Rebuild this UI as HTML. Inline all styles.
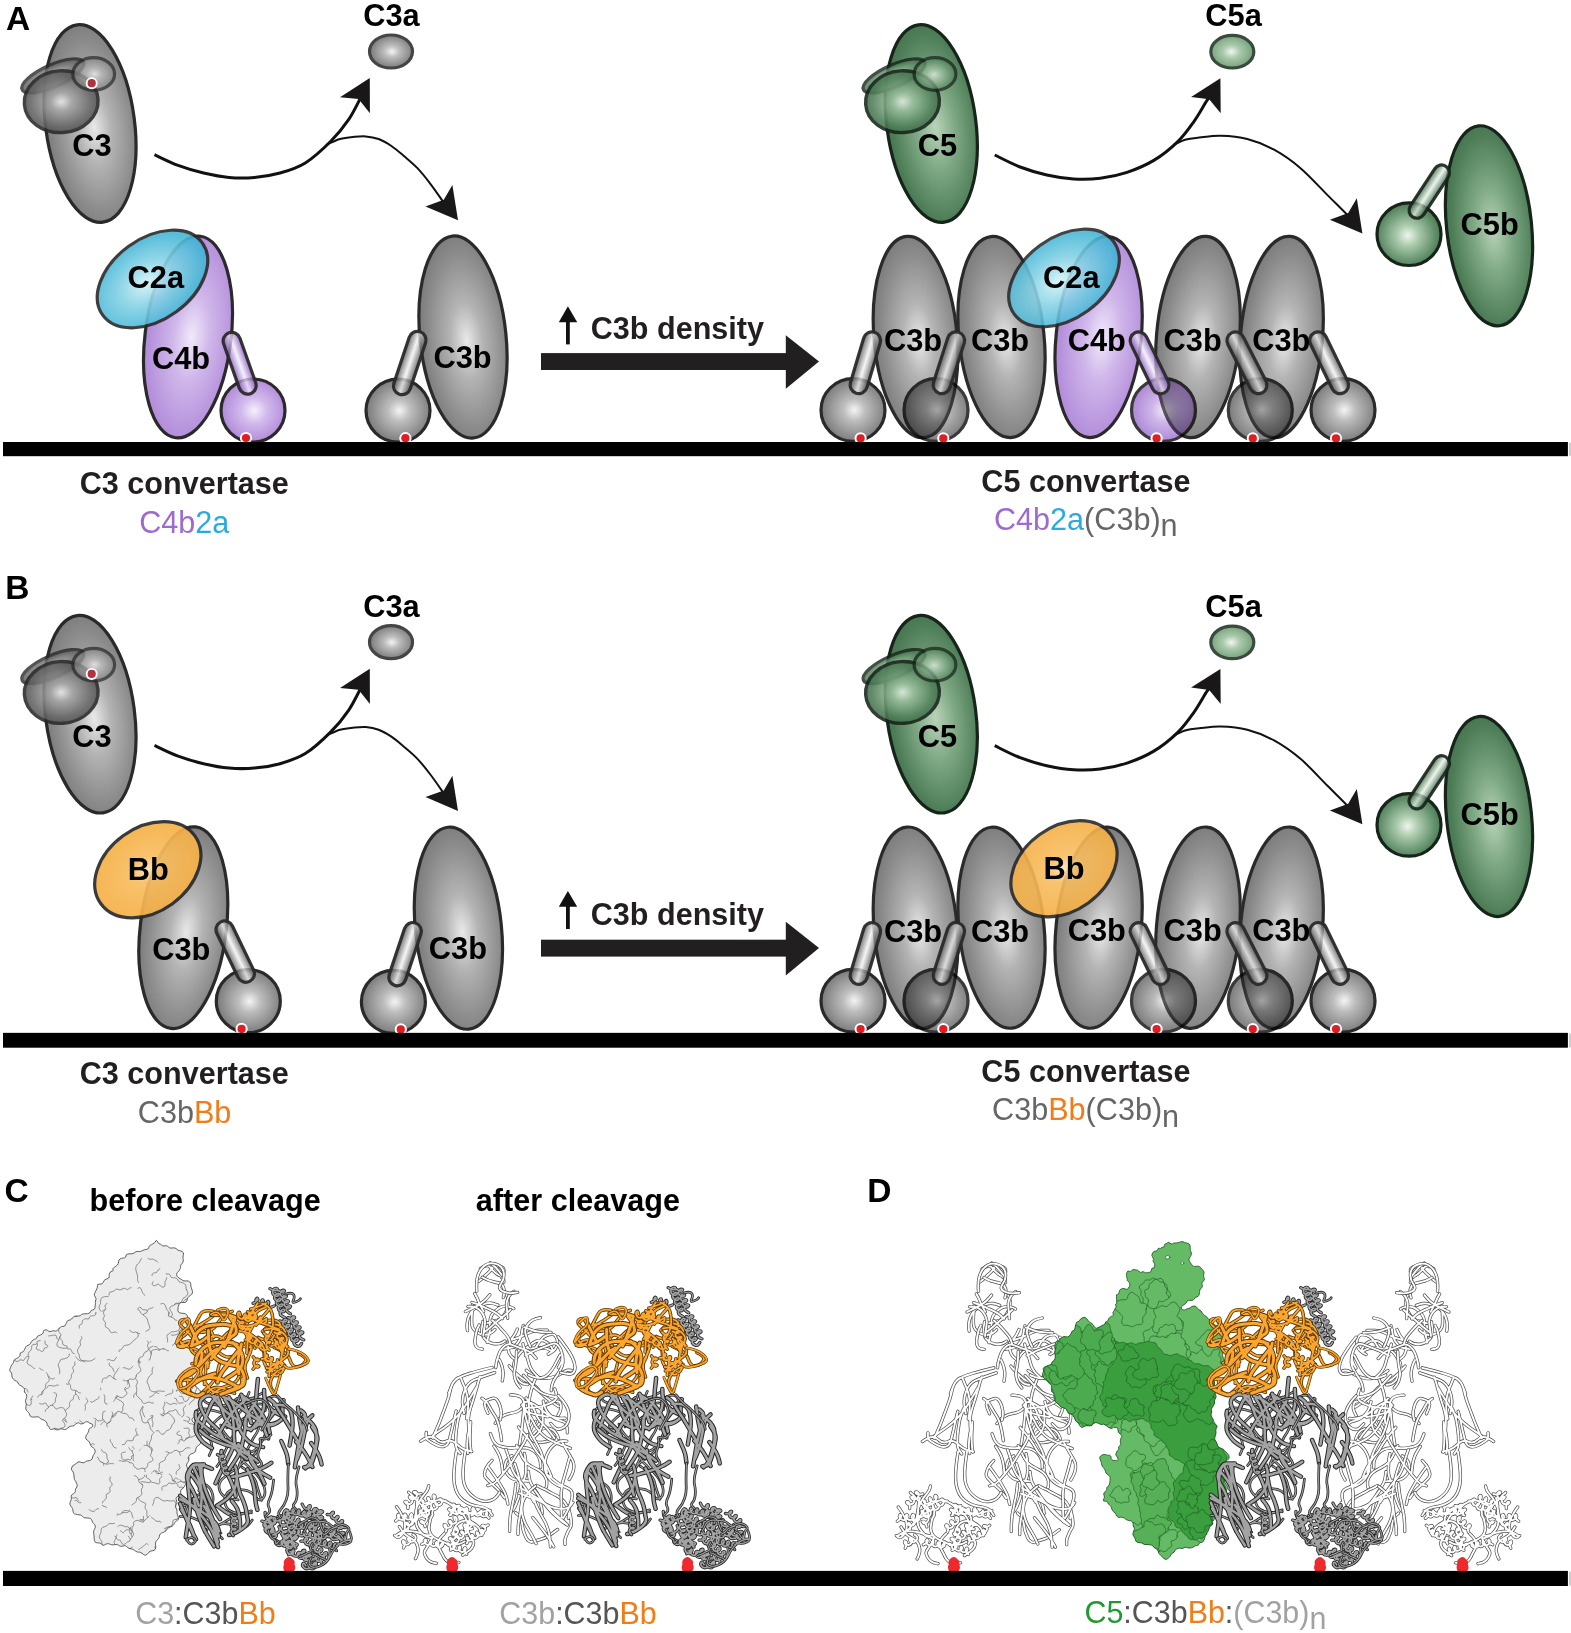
<!DOCTYPE html>
<html><head><meta charset="utf-8"><title>Complement convertases</title>
<style>
html,body{margin:0;padding:0;background:#fff}
svg{display:block;font-family:"Liberation Sans",Arial,Helvetica,sans-serif}
</style></head>
<body>
<svg width="1571" height="1633" viewBox="0 0 1571 1633">
<defs>
<radialGradient id="gGray" cx=".54" cy=".52" r=".62"><stop offset="0" stop-color="#e9e9e9"/><stop offset=".3" stop-color="#b4b4b4"/><stop offset=".7" stop-color="#8b8b8b"/><stop offset="1" stop-color="#707070"/></radialGradient>
<radialGradient id="gPur" cx=".54" cy=".5" r=".62"><stop offset="0" stop-color="#f1e9fa"/><stop offset=".35" stop-color="#cfb6ea"/><stop offset=".8" stop-color="#b48fdb"/><stop offset="1" stop-color="#a983d3"/></radialGradient>
<radialGradient id="gCy" cx=".45" cy=".5" r=".6"><stop offset="0" stop-color="#d6f3f8"/><stop offset=".4" stop-color="#86d3e6"/><stop offset=".85" stop-color="#45b6d6"/><stop offset="1" stop-color="#38a9cc"/></radialGradient>
<radialGradient id="gOr" cx=".5" cy=".5" r=".55"><stop offset="0" stop-color="#fde3ba"/><stop offset=".25" stop-color="#f9be62"/><stop offset="1" stop-color="#f5ae42"/></radialGradient>
<radialGradient id="gGrn" cx=".54" cy=".52" r=".62"><stop offset="0" stop-color="#b9d4b9"/><stop offset=".35" stop-color="#7fa984"/><stop offset=".75" stop-color="#4f7f59"/><stop offset="1" stop-color="#3c6a46"/></radialGradient>
<radialGradient id="sGray" cx=".52" cy=".5" r=".58"><stop offset="0" stop-color="#f4f4f4"/><stop offset=".3" stop-color="#bdbdbd"/><stop offset=".75" stop-color="#8a8a8a"/><stop offset="1" stop-color="#6d6d6d"/></radialGradient>
<radialGradient id="sPur" cx=".52" cy=".5" r=".58"><stop offset="0" stop-color="#f6f0fc"/><stop offset=".35" stop-color="#d2baec"/><stop offset=".8" stop-color="#b691dc"/><stop offset="1" stop-color="#a880d2"/></radialGradient>
<radialGradient id="sPur2" cx=".52" cy=".5" r=".58"><stop offset="0" stop-color="#f0e6fa"/><stop offset=".35" stop-color="#c4a6e4"/><stop offset=".8" stop-color="#9a6cc8"/><stop offset="1" stop-color="#7a4aac"/></radialGradient>
<radialGradient id="sGrn" cx=".48" cy=".52" r=".58"><stop offset="0" stop-color="#eef6ee"/><stop offset=".3" stop-color="#a9c9ab"/><stop offset=".75" stop-color="#5f8d68"/><stop offset="1" stop-color="#456f4e"/></radialGradient>
<radialGradient id="sGrn2" cx=".48" cy=".5" r=".58"><stop offset="0" stop-color="#f0f7f0"/><stop offset=".35" stop-color="#a9c9ab"/><stop offset="1" stop-color="#6c9874"/></radialGradient>
<radialGradient id="sGrayD" cx=".5" cy=".5" r=".58"><stop offset="0" stop-color="#ededed"/><stop offset=".25" stop-color="#a8a8a8"/><stop offset=".7" stop-color="#666"/><stop offset="1" stop-color="#484848"/></radialGradient>
<radialGradient id="sGrnD" cx=".5" cy=".5" r=".58"><stop offset="0" stop-color="#e6f1e6"/><stop offset=".25" stop-color="#9cc09f"/><stop offset=".7" stop-color="#4f7f59"/><stop offset="1" stop-color="#35603f"/></radialGradient>
<linearGradient id="kGray" x1="0" x2="1" y1="0" y2="0"><stop offset="0" stop-color="#4a4a4a" stop-opacity=".8"/><stop offset=".5" stop-color="#f2f2f2" stop-opacity=".75"/><stop offset="1" stop-color="#4a4a4a" stop-opacity=".8"/></linearGradient>
<linearGradient id="kPur" x1="0" x2="1" y1="0" y2="0"><stop offset="0" stop-color="#7c4fb5" stop-opacity=".8"/><stop offset=".5" stop-color="#f3eafc" stop-opacity=".75"/><stop offset="1" stop-color="#7c4fb5" stop-opacity=".8"/></linearGradient>
<linearGradient id="kGrn" x1="0" x2="1" y1="0" y2="0"><stop offset="0" stop-color="#2f5a3a" stop-opacity=".8"/><stop offset=".5" stop-color="#e4f0e4" stop-opacity=".75"/><stop offset="1" stop-color="#2f5a3a" stop-opacity=".8"/></linearGradient>
</defs>
<rect width="1571" height="1633" fill="#fff"/>
<g id="panelsAB">
<ellipse cx="90" cy="123.5" rx="44.5" ry="99.5" fill="url(#gGray)" stroke="#2b2a2a" stroke-width="3.2" transform="rotate(-7.5 90 123.5)"/>
<ellipse cx="52.8" cy="75.9" rx="33.6" ry="11.2" fill="url(#sGrayD)" stroke="#2b2a2a" stroke-width="3.2" opacity="0.8" transform="rotate(-24 52.8 75.9)"/>
<ellipse cx="61.2" cy="101.7" rx="36.9" ry="30.9" fill="url(#sGrayD)" stroke="#2b2a2a" stroke-width="3.4" opacity="0.88" transform="rotate(-4 61.2 101.7)"/>
<ellipse cx="93.7" cy="74" rx="20.9" ry="16.3" fill="url(#sGray)" stroke="#2b2a2a" stroke-width="3.2" opacity="0.72"/>
<circle cx="91.7" cy="83.2" r="6.0" fill="#fff"/><circle cx="91.7" cy="83.2" r="4.1" fill="#b0333f"/>
<text x="92" y="156" font-size="30.8" font-weight="bold" text-anchor="middle" fill="#000">C3</text>
<ellipse cx="931.3" cy="123.5" rx="44.5" ry="99.5" fill="url(#gGrn)" stroke="#17241a" stroke-width="3.2" transform="rotate(-7.5 931.3 123.5)"/>
<ellipse cx="894.1" cy="75.9" rx="33.6" ry="11.2" fill="url(#sGrnD)" stroke="#17241a" stroke-width="3.2" opacity="0.8" transform="rotate(-24 894.1 75.9)"/>
<ellipse cx="902.5" cy="101.7" rx="36.9" ry="30.9" fill="url(#sGrnD)" stroke="#17241a" stroke-width="3.4" opacity="0.88" transform="rotate(-4 902.5 101.7)"/>
<ellipse cx="935" cy="74" rx="20.9" ry="16.3" fill="url(#sGrn)" stroke="#17241a" stroke-width="3.2" opacity="0.72"/>
<text x="937.5" y="155.8" font-size="30.8" font-weight="bold" text-anchor="middle" fill="#000">C5</text>
<ellipse cx="391" cy="51.5" rx="21.5" ry="16.5" fill="url(#sGray)" stroke="#454545" stroke-width="3.2"/>
<text x="391.4" y="26" font-size="30.8" font-weight="bold" text-anchor="middle" fill="#000">C3a</text>
<ellipse cx="1232.3" cy="51.7" rx="21.5" ry="16.3" fill="url(#sGrn2)" stroke="#3a4a3c" stroke-width="3.2"/>
<text x="1233.6" y="26" font-size="30.8" font-weight="bold" text-anchor="middle" fill="#000">C5a</text>
<path d="M154.5 154.7C158.4 156.5 169.9 162.3 178.1 165.4C186.3 168.5 195.1 171 203.6 173C212.1 175 220.5 176.7 229 177.4C237.5 178.1 246 178.1 254.5 177.4C263 176.7 271.5 175.4 280 173C288.5 170.6 296.8 168.2 305.3 162.9C313.8 157.6 323.6 148.4 330.8 141.2C338 134 343.7 126.8 348.6 119.6C353.6 112.4 358.5 101.6 360.5 98" fill="none" stroke="#111" stroke-width="3"/>
<path d="M369.8 78.1L340 97.2L358.6 99L369.9 113.2Z" fill="#1a1718"/>
<path d="M327 144.5C329.2 143.6 335.7 140.2 340 139C344.3 137.8 348.6 137.4 352.9 137C357.2 136.6 361.4 136.1 365.7 136.4C370 136.7 374.3 137.4 378.6 139C382.9 140.6 387.1 143.1 391.4 146C395.7 148.9 400 152.7 404.3 156.3C408.6 160 412.9 163.4 417.2 167.9C421.5 172.4 425.7 177.7 430 183.3C434.3 188.9 440 197.2 442.9 201.4C445.8 205.6 446.6 207.2 447.4 208.4" fill="none" stroke="#111" stroke-width="2"/>
<path d="M458 220.2L425.5 206.4L443.8 199.8L452.4 185Z" fill="#1a1718"/>
<path d="M994.7 155C998.9 157 1011.4 163.7 1020.1 167C1028.8 170.3 1037.9 173 1046.8 175C1055.7 177 1064.7 178.4 1073.6 179C1082.5 179.6 1091.4 179.4 1100.3 178.3C1109.2 177.2 1118.1 175.4 1127 172.4C1135.9 169.4 1145.3 165.5 1153.8 160.4C1162.3 155.3 1171.1 148.1 1177.8 141.6C1184.5 135.1 1189 128.5 1193.9 121.6C1198.8 114.7 1204.4 104.2 1207.2 100.2C1210 96.2 1210.4 98 1211 97.5" fill="none" stroke="#111" stroke-width="3"/>
<path d="M1220.4 78.3L1191.1 96.9L1209.2 99.2L1220.7 113.2Z" fill="#1a1718"/>
<path d="M1174 144.5C1176 143.7 1181.8 140.7 1186 139.5C1190.2 138.3 1193.4 138.2 1199.2 137.6C1205 137 1212.6 135.6 1220.6 135.8C1228.6 136 1238.4 136.7 1247.3 139C1256.2 141.3 1265.2 144.8 1274.1 149.7C1283 154.6 1291.9 160.8 1300.8 168.4C1309.7 176 1319.5 187.1 1327.5 195.1C1335.5 203.1 1344.7 212.1 1348.9 216.5C1353.2 220.9 1352.3 220.9 1353 221.8" fill="none" stroke="#111" stroke-width="2"/>
<path d="M1362.4 233.5L1329.9 219.7L1348.2 213.1L1356.8 198.3Z" fill="#1a1718"/>
<rect x="541" y="353.1" width="246" height="16.9" fill="#221f20"/>
<path d="M785.8 335.2L819 361.5L785.8 388.8Z" fill="#221f20"/>
<rect x="566" y="318" width="3.8" height="26.4" fill="#111"/>
<path d="M567.9 306.3L577.2 322.2L558.8 322.2Z" fill="#111"/>
<text x="590.8" y="338.9" font-size="30.55" font-weight="bold" text-anchor="start" fill="#231f20">C3b density</text>
<ellipse cx="188" cy="337" rx="43" ry="101.5" fill="url(#gPur)" stroke="#2b2a2a" stroke-width="3.2" transform="rotate(7 188 337)"/>
<ellipse cx="253" cy="410.5" rx="32" ry="31.5" fill="url(#sPur)" stroke="#2b2a2a" stroke-width="3.2"/>
<rect x="231" y="331" width="17.3" height="64.5" rx="8.7" fill="url(#kPur)" stroke="#2b2a2a" stroke-width="3.2" stroke-opacity="0.95" transform="rotate(-19.5 239.7 363.2)"/>
<ellipse cx="152.5" cy="279" rx="61.5" ry="40.5" fill="url(#gCy)" stroke="#2b2a2a" stroke-width="3.2" opacity="0.9" transform="rotate(-36 152.5 279)"/>
<text x="155.8" y="288" font-size="30.8" font-weight="bold" text-anchor="middle" fill="#000">C2a</text>
<text x="181" y="368.5" font-size="30.8" font-weight="bold" text-anchor="middle" fill="#000">C4b</text>
<circle cx="246" cy="438" r="6.1" fill="#fff"/><circle cx="246" cy="438" r="4.1" fill="#e31b23"/>
<ellipse cx="463" cy="337" rx="43" ry="101.5" fill="url(#gGray)" stroke="#2b2a2a" stroke-width="3.2" transform="rotate(-6 463 337)"/>
<ellipse cx="398" cy="410.6" rx="32" ry="31.5" fill="url(#sGray)" stroke="#2b2a2a" stroke-width="3.2"/>
<rect x="401.1" y="330.1" width="17.3" height="65.8" rx="8.7" fill="url(#kGray)" stroke="#2b2a2a" stroke-width="3.2" stroke-opacity="0.95" transform="rotate(18.5 409.7 363)"/>
<text x="462.5" y="367.8" font-size="30.8" font-weight="bold" text-anchor="middle" fill="#000">C3b</text>
<circle cx="405.4" cy="438.2" r="6.1" fill="#fff"/><circle cx="405.4" cy="438.2" r="4.1" fill="#e31b23"/>
<ellipse cx="915.5" cy="337" rx="41.5" ry="101" fill="url(#gGray)" stroke="#2b2a2a" stroke-width="3.2" transform="rotate(-5 915.5 337)"/>
<ellipse cx="1001.5" cy="337" rx="42.5" ry="101" fill="url(#gGray)" stroke="#2b2a2a" stroke-width="3.2" transform="rotate(-6 1001.5 337)"/>
<ellipse cx="1098.6" cy="337" rx="42.5" ry="101" fill="url(#gPur)" stroke="#2b2a2a" stroke-width="3.2" transform="rotate(6 1098.6 337)"/>
<ellipse cx="1198" cy="337" rx="41.5" ry="101" fill="url(#gGray)" stroke="#2b2a2a" stroke-width="3.2" transform="rotate(5 1198 337)"/>
<ellipse cx="1281.5" cy="337" rx="41" ry="101" fill="url(#gGray)" stroke="#2b2a2a" stroke-width="3.2" transform="rotate(5 1281.5 337)"/>
<ellipse cx="853" cy="410" rx="32" ry="31.3" fill="url(#sGray)" stroke="#2b2a2a" stroke-width="3.2"/>
<rect x="856.7" y="330.9" width="17.3" height="63.7" rx="8.7" fill="url(#kGray)" stroke="#2b2a2a" stroke-width="3.2" stroke-opacity="0.95" transform="rotate(16.6 865.4 362.8)"/>
<ellipse cx="936" cy="410" rx="32" ry="31.3" fill="url(#sGray)" stroke="#2b2a2a" stroke-width="3.2" opacity="0.25"/>
<ellipse cx="936" cy="410" rx="32" ry="31.3" fill="url(#sGray)" stroke="#2b2a2a" stroke-width="3.2" opacity="0.85" style="mix-blend-mode:multiply"/>
<rect x="940.2" y="330.7" width="17.3" height="64" rx="8.7" fill="url(#kGray)" stroke="#2b2a2a" stroke-width="3.2" stroke-opacity="0.95" transform="rotate(17.7 948.9 362.8)"/>
<ellipse cx="1163.5" cy="410" rx="32" ry="31.3" fill="url(#sPur)" stroke="#2b2a2a" stroke-width="3.2" opacity="0.25"/>
<ellipse cx="1163.5" cy="410" rx="32" ry="31.3" fill="url(#sPur)" stroke="#2b2a2a" stroke-width="3.2" opacity="0.85" style="mix-blend-mode:multiply"/>
<rect x="1140.9" y="329.4" width="17.3" height="66.8" rx="8.7" fill="url(#kPur)" stroke="#2b2a2a" stroke-width="3.2" stroke-opacity="0.95" transform="rotate(-25.9 1149.6 362.8)"/>
<ellipse cx="1260.3" cy="410" rx="32" ry="31.3" fill="url(#sGray)" stroke="#2b2a2a" stroke-width="3.2" opacity="0.25"/>
<ellipse cx="1260.3" cy="410" rx="32" ry="31.3" fill="url(#sGray)" stroke="#2b2a2a" stroke-width="3.2" opacity="0.85" style="mix-blend-mode:multiply"/>
<rect x="1238.3" y="329.1" width="17.3" height="67.3" rx="8.7" fill="url(#kGray)" stroke="#2b2a2a" stroke-width="3.2" stroke-opacity="0.95" transform="rotate(-27.2 1247 362.8)"/>
<ellipse cx="1343" cy="410" rx="32" ry="31.3" fill="url(#sGray)" stroke="#2b2a2a" stroke-width="3.2"/>
<rect x="1320.5" y="329.3" width="17.3" height="66.8" rx="8.7" fill="url(#kGray)" stroke="#2b2a2a" stroke-width="3.2" stroke-opacity="0.95" transform="rotate(-26 1329.2 362.8)"/>
<ellipse cx="1064" cy="278" rx="61.5" ry="40.5" fill="url(#gCy)" stroke="#2b2a2a" stroke-width="3.2" opacity="0.88" transform="rotate(-36 1064 278)"/>
<text x="1071.3" y="288" font-size="30.8" font-weight="bold" text-anchor="middle" fill="#000">C2a</text>
<text x="1096.8" y="350.5" font-size="30.8" font-weight="bold" text-anchor="middle" fill="#000">C4b</text>
<text x="913" y="351" font-size="30.8" font-weight="bold" text-anchor="middle" fill="#000">C3b</text>
<text x="1000" y="351" font-size="30.8" font-weight="bold" text-anchor="middle" fill="#000">C3b</text>
<text x="1192.7" y="350.5" font-size="30.8" font-weight="bold" text-anchor="middle" fill="#000">C3b</text>
<text x="1281.3" y="350.5" font-size="30.8" font-weight="bold" text-anchor="middle" fill="#000">C3b</text>
<circle cx="860.6" cy="438.4" r="6.1" fill="#fff"/><circle cx="860.6" cy="438.4" r="4.1" fill="#e31b23"/>
<circle cx="943.3" cy="438.4" r="6.1" fill="#fff"/><circle cx="943.3" cy="438.4" r="4.1" fill="#e31b23"/>
<circle cx="1156.6" cy="438.4" r="6.1" fill="#fff"/><circle cx="1156.6" cy="438.4" r="4.1" fill="#e31b23"/>
<circle cx="1252.8" cy="438.4" r="6.1" fill="#fff"/><circle cx="1252.8" cy="438.4" r="4.1" fill="#e31b23"/>
<circle cx="1336" cy="438.4" r="6.1" fill="#fff"/><circle cx="1336" cy="438.4" r="4.1" fill="#e31b23"/>
<ellipse cx="1489" cy="225.8" rx="42.5" ry="100.5" fill="url(#gGrn)" stroke="#17241a" stroke-width="3.2" transform="rotate(-6 1489 225.8)"/>
<ellipse cx="1409" cy="234.2" rx="32" ry="31.3" fill="url(#sGrn)" stroke="#17241a" stroke-width="3.2"/>
<rect x="1421.2" y="161.3" width="16" height="60.6" rx="8" fill="url(#kGrn)" stroke="#17241a" stroke-width="3.2" stroke-opacity="0.9" transform="rotate(33.3 1429.2 191.7)"/>
<text x="1489.7" y="234.5" font-size="30.8" font-weight="bold" text-anchor="middle" fill="#000">C5b</text>
<rect x="3" y="442.0" width="1564.9" height="14.2" fill="#000"/>
<rect x="1568.9" y="442.6" width="2.1" height="13.2" fill="#cfcfcf"/>
<ellipse cx="90" cy="714.2" rx="44.5" ry="99.5" fill="url(#gGray)" stroke="#2b2a2a" stroke-width="3.2" transform="rotate(-7.5 90 714.2)"/>
<ellipse cx="52.8" cy="666.6" rx="33.6" ry="11.2" fill="url(#sGrayD)" stroke="#2b2a2a" stroke-width="3.2" opacity="0.8" transform="rotate(-24 52.8 666.6)"/>
<ellipse cx="61.2" cy="692.4" rx="36.9" ry="30.9" fill="url(#sGrayD)" stroke="#2b2a2a" stroke-width="3.4" opacity="0.88" transform="rotate(-4 61.2 692.4)"/>
<ellipse cx="93.7" cy="664.7" rx="20.9" ry="16.3" fill="url(#sGray)" stroke="#2b2a2a" stroke-width="3.2" opacity="0.72"/>
<circle cx="91.7" cy="673.9" r="6.0" fill="#fff"/><circle cx="91.7" cy="673.9" r="4.1" fill="#b0333f"/>
<text x="92" y="746.7" font-size="30.8" font-weight="bold" text-anchor="middle" fill="#000">C3</text>
<ellipse cx="931.3" cy="714.2" rx="44.5" ry="99.5" fill="url(#gGrn)" stroke="#17241a" stroke-width="3.2" transform="rotate(-7.5 931.3 714.2)"/>
<ellipse cx="894.1" cy="666.6" rx="33.6" ry="11.2" fill="url(#sGrnD)" stroke="#17241a" stroke-width="3.2" opacity="0.8" transform="rotate(-24 894.1 666.6)"/>
<ellipse cx="902.5" cy="692.4" rx="36.9" ry="30.9" fill="url(#sGrnD)" stroke="#17241a" stroke-width="3.4" opacity="0.88" transform="rotate(-4 902.5 692.4)"/>
<ellipse cx="935" cy="664.7" rx="20.9" ry="16.3" fill="url(#sGrn)" stroke="#17241a" stroke-width="3.2" opacity="0.72"/>
<text x="937.5" y="746.5" font-size="30.8" font-weight="bold" text-anchor="middle" fill="#000">C5</text>
<ellipse cx="391" cy="642.2" rx="21.5" ry="16.5" fill="url(#sGray)" stroke="#454545" stroke-width="3.2"/>
<text x="391.4" y="616.7" font-size="30.8" font-weight="bold" text-anchor="middle" fill="#000">C3a</text>
<ellipse cx="1232.3" cy="642.4" rx="21.5" ry="16.3" fill="url(#sGrn2)" stroke="#3a4a3c" stroke-width="3.2"/>
<text x="1233.6" y="616.7" font-size="30.8" font-weight="bold" text-anchor="middle" fill="#000">C5a</text>
<path d="M154.5 745.4C158.4 747.2 169.9 753.1 178.1 756.1C186.3 759.1 195.1 761.7 203.6 763.7C212.1 765.7 220.5 767.4 229 768.1C237.5 768.8 246 768.8 254.5 768.1C263 767.4 271.5 766.1 280 763.7C288.5 761.3 296.8 758.9 305.3 753.6C313.8 748.3 323.6 739.1 330.8 731.9C338 724.7 343.7 717.5 348.6 710.3C353.6 703.1 358.5 692.3 360.5 688.7" fill="none" stroke="#111" stroke-width="3"/>
<path d="M369.8 668.8L340 687.9L358.6 689.7L369.9 703.9Z" fill="#1a1718"/>
<path d="M327 735.2C329.2 734.3 335.7 731 340 729.7C344.3 728.5 348.6 728.1 352.9 727.7C357.2 727.3 361.4 726.8 365.7 727.1C370 727.4 374.3 728.1 378.6 729.7C382.9 731.3 387.1 733.8 391.4 736.7C395.7 739.6 400 743.4 404.3 747C408.6 750.6 412.9 754.1 417.2 758.6C421.5 763.1 425.7 768.4 430 774C434.3 779.6 440 787.9 442.9 792.1C445.8 796.3 446.6 797.9 447.4 799.1" fill="none" stroke="#111" stroke-width="2"/>
<path d="M458 810.9L425.5 797.1L443.8 790.5L452.4 775.7Z" fill="#1a1718"/>
<path d="M994.7 745.7C998.9 747.7 1011.4 754.4 1020.1 757.7C1028.8 761 1037.9 763.7 1046.8 765.7C1055.7 767.7 1064.7 769.2 1073.6 769.7C1082.5 770.2 1091.4 770.1 1100.3 769C1109.2 767.9 1118.1 766.1 1127 763.1C1135.9 760.1 1145.3 756.2 1153.8 751.1C1162.3 746 1171.1 738.8 1177.8 732.3C1184.5 725.8 1189 719.2 1193.9 712.3C1198.8 705.4 1204.4 694.9 1207.2 690.9C1210 686.9 1210.4 688.7 1211 688.2" fill="none" stroke="#111" stroke-width="3"/>
<path d="M1220.4 669L1191.1 687.6L1209.2 689.9L1220.7 703.9Z" fill="#1a1718"/>
<path d="M1174 735.2C1176 734.4 1181.8 731.4 1186 730.2C1190.2 729.1 1193.4 728.9 1199.2 728.3C1205 727.7 1212.6 726.3 1220.6 726.5C1228.6 726.7 1238.4 727.4 1247.3 729.7C1256.2 732 1265.2 735.5 1274.1 740.4C1283 745.3 1291.9 751.5 1300.8 759.1C1309.7 766.7 1319.5 777.8 1327.5 785.8C1335.5 793.8 1344.7 802.8 1348.9 807.2C1353.2 811.7 1352.3 811.6 1353 812.5" fill="none" stroke="#111" stroke-width="2"/>
<path d="M1362.4 824.2L1329.9 810.4L1348.2 803.8L1356.8 789Z" fill="#1a1718"/>
<rect x="541" y="939.7" width="246" height="16.9" fill="#221f20"/>
<path d="M785.8 921.8L819 948.1L785.8 975.4Z" fill="#221f20"/>
<rect x="566" y="902.6" width="3.8" height="26.4" fill="#111"/>
<path d="M567.9 890.9L577.2 906.8L558.8 906.8Z" fill="#111"/>
<text x="590.8" y="924.9" font-size="30.55" font-weight="bold" text-anchor="start" fill="#231f20">C3b density</text>
<ellipse cx="183.3" cy="927.7" rx="43" ry="101.5" fill="url(#gGray)" stroke="#2b2a2a" stroke-width="3.2" transform="rotate(7 183.3 927.7)"/>
<ellipse cx="248.3" cy="1001.2" rx="32" ry="31.5" fill="url(#sGray)" stroke="#2b2a2a" stroke-width="3.2"/>
<rect x="226.6" y="918.6" width="17.3" height="66.1" rx="8.7" fill="url(#kGray)" stroke="#2b2a2a" stroke-width="3.2" stroke-opacity="0.95" transform="rotate(-25.7 235.2 951.7)"/>
<ellipse cx="147.8" cy="869.7" rx="58" ry="42" fill="url(#gOr)" stroke="#2b2a2a" stroke-width="3.2" opacity="0.92" transform="rotate(-36 147.8 869.7)"/>
<text x="148.2" y="879.7" font-size="30.8" font-weight="bold" text-anchor="middle" fill="#000">Bb</text>
<text x="181.3" y="959.7" font-size="30.8" font-weight="bold" text-anchor="middle" fill="#000">C3b</text>
<circle cx="241.6" cy="1028.9" r="6.1" fill="#fff"/><circle cx="241.6" cy="1028.9" r="4.1" fill="#e31b23"/>
<ellipse cx="458.4" cy="928.2" rx="43" ry="101.5" fill="url(#gGray)" stroke="#2b2a2a" stroke-width="3.2" transform="rotate(-6 458.4 928.2)"/>
<ellipse cx="393.4" cy="1001.8" rx="32" ry="31.5" fill="url(#sGray)" stroke="#2b2a2a" stroke-width="3.2"/>
<rect x="396.4" y="921.3" width="17.3" height="65.8" rx="8.7" fill="url(#kGray)" stroke="#2b2a2a" stroke-width="3.2" stroke-opacity="0.95" transform="rotate(18.5 405.1 954.2)"/>
<text x="457.9" y="959" font-size="30.8" font-weight="bold" text-anchor="middle" fill="#000">C3b</text>
<circle cx="400.8" cy="1029.4" r="6.1" fill="#fff"/><circle cx="400.8" cy="1029.4" r="4.1" fill="#e31b23"/>
<ellipse cx="915.5" cy="927.7" rx="41.5" ry="101" fill="url(#gGray)" stroke="#2b2a2a" stroke-width="3.2" transform="rotate(-5 915.5 927.7)"/>
<ellipse cx="1001.5" cy="927.7" rx="42.5" ry="101" fill="url(#gGray)" stroke="#2b2a2a" stroke-width="3.2" transform="rotate(-6 1001.5 927.7)"/>
<ellipse cx="1098.6" cy="927.7" rx="42.5" ry="101" fill="url(#gGray)" stroke="#2b2a2a" stroke-width="3.2" transform="rotate(6 1098.6 927.7)"/>
<ellipse cx="1198" cy="927.7" rx="41.5" ry="101" fill="url(#gGray)" stroke="#2b2a2a" stroke-width="3.2" transform="rotate(5 1198 927.7)"/>
<ellipse cx="1281.5" cy="927.7" rx="41" ry="101" fill="url(#gGray)" stroke="#2b2a2a" stroke-width="3.2" transform="rotate(5 1281.5 927.7)"/>
<ellipse cx="853" cy="1000.7" rx="32" ry="31.3" fill="url(#sGray)" stroke="#2b2a2a" stroke-width="3.2"/>
<rect x="856.7" y="921.6" width="17.3" height="63.7" rx="8.7" fill="url(#kGray)" stroke="#2b2a2a" stroke-width="3.2" stroke-opacity="0.95" transform="rotate(16.6 865.4 953.5)"/>
<ellipse cx="936" cy="1000.7" rx="32" ry="31.3" fill="url(#sGray)" stroke="#2b2a2a" stroke-width="3.2" opacity="0.25"/>
<ellipse cx="936" cy="1000.7" rx="32" ry="31.3" fill="url(#sGray)" stroke="#2b2a2a" stroke-width="3.2" opacity="0.85" style="mix-blend-mode:multiply"/>
<rect x="940.2" y="921.4" width="17.3" height="64" rx="8.7" fill="url(#kGray)" stroke="#2b2a2a" stroke-width="3.2" stroke-opacity="0.95" transform="rotate(17.7 948.9 953.5)"/>
<ellipse cx="1163.5" cy="1000.7" rx="32" ry="31.3" fill="url(#sGray)" stroke="#2b2a2a" stroke-width="3.2" opacity="0.25"/>
<ellipse cx="1163.5" cy="1000.7" rx="32" ry="31.3" fill="url(#sGray)" stroke="#2b2a2a" stroke-width="3.2" opacity="0.85" style="mix-blend-mode:multiply"/>
<rect x="1140.9" y="920.1" width="17.3" height="66.8" rx="8.7" fill="url(#kGray)" stroke="#2b2a2a" stroke-width="3.2" stroke-opacity="0.95" transform="rotate(-25.9 1149.6 953.5)"/>
<ellipse cx="1260.3" cy="1000.7" rx="32" ry="31.3" fill="url(#sGray)" stroke="#2b2a2a" stroke-width="3.2" opacity="0.25"/>
<ellipse cx="1260.3" cy="1000.7" rx="32" ry="31.3" fill="url(#sGray)" stroke="#2b2a2a" stroke-width="3.2" opacity="0.85" style="mix-blend-mode:multiply"/>
<rect x="1238.3" y="919.8" width="17.3" height="67.3" rx="8.7" fill="url(#kGray)" stroke="#2b2a2a" stroke-width="3.2" stroke-opacity="0.95" transform="rotate(-27.2 1247 953.5)"/>
<ellipse cx="1343" cy="1000.7" rx="32" ry="31.3" fill="url(#sGray)" stroke="#2b2a2a" stroke-width="3.2"/>
<rect x="1320.5" y="920" width="17.3" height="66.8" rx="8.7" fill="url(#kGray)" stroke="#2b2a2a" stroke-width="3.2" stroke-opacity="0.95" transform="rotate(-26 1329.2 953.5)"/>
<ellipse cx="1064" cy="868.7" rx="58" ry="42" fill="url(#gOr)" stroke="#2b2a2a" stroke-width="3.2" opacity="0.9" transform="rotate(-36 1064 868.7)"/>
<text x="1064" y="878.7" font-size="30.8" font-weight="bold" text-anchor="middle" fill="#000">Bb</text>
<text x="1096.8" y="941.2" font-size="30.8" font-weight="bold" text-anchor="middle" fill="#000">C3b</text>
<text x="913" y="941.7" font-size="30.8" font-weight="bold" text-anchor="middle" fill="#000">C3b</text>
<text x="1000" y="941.7" font-size="30.8" font-weight="bold" text-anchor="middle" fill="#000">C3b</text>
<text x="1192.7" y="941.2" font-size="30.8" font-weight="bold" text-anchor="middle" fill="#000">C3b</text>
<text x="1281.3" y="941.2" font-size="30.8" font-weight="bold" text-anchor="middle" fill="#000">C3b</text>
<circle cx="860.6" cy="1029.1" r="6.1" fill="#fff"/><circle cx="860.6" cy="1029.1" r="4.1" fill="#e31b23"/>
<circle cx="943.3" cy="1029.1" r="6.1" fill="#fff"/><circle cx="943.3" cy="1029.1" r="4.1" fill="#e31b23"/>
<circle cx="1156.6" cy="1029.1" r="6.1" fill="#fff"/><circle cx="1156.6" cy="1029.1" r="4.1" fill="#e31b23"/>
<circle cx="1252.8" cy="1029.1" r="6.1" fill="#fff"/><circle cx="1252.8" cy="1029.1" r="4.1" fill="#e31b23"/>
<circle cx="1336" cy="1029.1" r="6.1" fill="#fff"/><circle cx="1336" cy="1029.1" r="4.1" fill="#e31b23"/>
<ellipse cx="1489" cy="816.5" rx="42.5" ry="100.5" fill="url(#gGrn)" stroke="#17241a" stroke-width="3.2" transform="rotate(-6 1489 816.5)"/>
<ellipse cx="1409" cy="824.9" rx="32" ry="31.3" fill="url(#sGrn)" stroke="#17241a" stroke-width="3.2"/>
<rect x="1421.2" y="752" width="16" height="60.6" rx="8" fill="url(#kGrn)" stroke="#17241a" stroke-width="3.2" stroke-opacity="0.9" transform="rotate(33.3 1429.2 782.4)"/>
<text x="1489.7" y="825.2" font-size="30.8" font-weight="bold" text-anchor="middle" fill="#000">C5b</text>
<rect x="3" y="1032.85" width="1564.9" height="14.85" fill="#000"/>
<rect x="1568.9" y="1033.4499999999998" width="2.1" height="13.85" fill="#cfcfcf"/>
</g>
<g id="panelsCD">
<g fill="none" stroke-linecap="round" stroke-linejoin="round">
<clipPath id="clipG"><path d="M157.8 1242.2q1.1 2.1 1.9 1.7t1.3 0.6t1.6 1.3t2.7 0t2.4 0.5t1.8 1.4t2.6 0.3t2.8 0t2.1 1.3t2.3 1.3t3 1.1t1.2 2.4t-0.5 3.2t0.3 2.5t-0.4 2.4t-1.6 2.2t-0.7 1.9t-0.3 2.1t-1.1 2t-1.7 2t-0.9 2.4t1.4 2.5t2.3 1.5t1.7 1.1t1.9 0.9t2.8 0.1t2.9 0.9t1.2 2.7t0.4 3t1 2.8t0.2 2.7t-2.1 2.4t-2.4 2.3t-0.8 2.3t-1 1.9t-2.6 0.6t-2.9 0.3t-1.7 1.9t-0.8 2.9t-0.2 2.9t1.5 2.1t3.2 0.7t3 0.6t1.6 1.8t1.2 2.3t1.7 2.5t-0.1 2.9t-1.9 2.4t-1.5 2.1t-1.8 1.6t-2.9 0.5t-2.4 1t0 2t0.9 2.1t-0.1 2.7t0.4 2.5t2.4 1.2t2.7 1t1.1 2t1.3 1.9t2.9 1.2t1.8 1.8t0.8 2.3t2.1 1.7t0.8 2.2t-1.1 2.8t-0.1 2.5t0.2 2.4t-1.2 2.6t-1.1 2.5t0.1 2.3t-0.5 2.4t-0.9 2.4t0.7 2.2t1.5 2.1t0.9 2.2t0.2 2.3t0.7 2.2t2.1 2t2 2.1t0.4 2.2t0.1 2.3t1.2 2.2t0.7 2.4t-1.2 2.5t-1.5 2.4t-0.4 2.4t-1.6 2t-2.3 1.8t-0.4 2.3t-0.1 2.4t-1.7 2t-1.3 2.2t1.3 2.6t1.9 2.3t0.4 2.2t0.6 2.1t2.7 1.6t2.4 1.7t0.1 2.5t-0.7 2.8t0.2 2.8t-0.2 2.8t-2.1 2.2t-2.1 2t-0.7 2.5t-1 2.3t-2.7 1.5t-2.7 1.6t-0.6 2.5t0 2.7t-1.2 2.3t-1 2.3t0.7 2.7t1.1 2.7t-0.2 2.4t-0.2 2.4t1 2.6t0.4 2.5t-1.6 2t-2.1 1.9t-1.1 2.1t-1.7 1.9t-1.9 1.8t-0.3 2.3t-0.5 2.3t-2.3 1.7t-1.8 2t0.5 2.7t0 2.6t-0.9 2.5t0.7 2.7t0.6 2.7t0.3 2.8t1.1 3.2t-0.6 2.6t-2.3 1.6t-1.4 1.9t-1.1 2t-2.3 1.3t-2.5 1.2t-1.6 1.7t-1.6 1.7t-2.4 1.1t-2.2 1.3t-1 2.3t-0.9 2.4t-1.7 1.8t-1.2 2.2t0.1 3.5t-0.6 3.3t-2.4 1.3t-2.7 0.7t-2.2 2.1t-2.2 1.6t-2.4 -0.9t-2.5 -1.7t-2.4 -0.4t-2.4 -0.8t-2.4 -1.6t-2.3 -0.8t-2.3 -0.7t-2.2 -1.6t-2.3 -0.9t-2.6 0.5t-2.3 -0.3t-2 -1.2t-2.7 -0.1t-3 0.2t-2.3 -0.8t-2.4 -0.2t-2.8 1.2t-2.3 -0.4t-2.2 -1.5t-3 -0.3t-2.3 -2t-0.4 -3.8t-0.3 -2.8t-0.2 -2.5t1.1 -2.9t0.5 -2.9t-1.6 -2.4t-1.5 -2.5t-1.5 -2.3t-2.9 -0.7t-3.1 -0.2t-2.1 -1.4t-2.1 -1.4t-3.1 -0.4t-3 -0.9t-1.3 -2.5t-0.6 -2.8t-1.4 -2.1t-1.1 -2.2t0.7 -2.9t0.8 -2.7t-0.2 -2.2t1.2 -1.9t2.3 -1.7t0.7 -2.2t0.7 -2.3t1.1 -2.2t-0.6 -2.7t-1.5 -2.8t-0.9 -2.3t-0.2 -2.3t-0.4 -2.5t-1.4 -2.6t-0.6 -3t1.8 -2.5t2.5 -1.6t2 -1.6t2.5 0t2.8 0.7t2 -0.9t2.5 -1t3.1 -0.8t1.6 -2t0.8 -2.5t1.4 -2.3t0.5 -2.7t-1.7 -2.6t-2.2 -1.9t-1 -1.9t-0.9 -2.1t-2.1 -2t-1.5 -2.5t0.9 -2.8t1.6 -2.4t0.6 -2.3t0.8 -1.6t2.1 -1.2t1 -2t-1.6 -1.6t-2.2 -1.2t-2.2 -0.8t-2.4 1.1t-2.4 1.1t-2.3 -0.6t-2.3 -0.3t-2.3 1.7t-2.3 1.3t-2.5 0.4t-2.3 1.5t-2.3 1.5t-2.5 -0.2t-2.4 -0.3t-2.1 0.8t-2.5 -0.1t-2.7 -0.6t-2.1 0.5t-1.5 -0.7t-0.6 -1.8t-1 -0.9t-1.1 -1.6t-0.7 -2.4t-2.1 -1.7t-2.7 -1.2t-2 -1.5t-2.3 -0.9t-3.2 0.3t-2.8 -0.2t-1.5 -1.9t-1.2 -2.4t-1.9 -1.9t-0.9 -2.5t0.4 -3t-0.3 -2.4t-0.3 -2.3t0.8 -2.7t0.3 -2.6t-1.4 -2.1t-0.9 -2.3t-0.4 -2.5t-1.9 -1.8t-2.5 -1.5t-1.5 -2t-1.8 -1.9t-2.7 -1.7t-1.5 -2.3t-0.3 -2.7t-1.2 -2.5t-0.8 -2.6t1.1 -2.9t1.8 -2.7t1 -2.4t1.3 -2t2.5 -1.3t2 -1.6t0.6 -2.4t1.3 -1.6t2 -0.9t1.2 -2.2t1.3 -2.6t2.1 -1.4t2.1 -1.4t1.6 -2.4t1.9 -1.8t2.1 -0.9t1.3 -1.5t1.1 -1.4t2.1 -0.8t2.1 -1.2t1 -2.2t1.5 -1.7t2.7 0.4t2.4 1.1t2 -0.4t2.2 -0.2t2.3 0t2.1 -1.8t2 -2.1t2.2 -0.6t2.1 -0.6t1.3 -2.2t1.1 -2.4t2.1 -1.1t2.3 -1.1t1.8 -1.9t2.4 -1t3 -0.1t2.3 -1t2.2 -1.1t2.9 -0.1t2.7 -0.5t1.7 -1.8t2.1 -1.6t2.2 -1.7t0.4 -3t0.1 -2.9t0.5 -2.5t-0.7 -2.9t-0.7 -3.1t1.1 -2.5t1.3 -2.6t0.5 -3.1t1.9 -1.5t2.8 -0.4t1.2 -1.5t0.9 -1.8t2.7 -1.5t2.3 -2t0.1 -2.6t0.9 -2.1t2.1 -1.1t0.7 -1.4t0.6 -1.9t1.8 -1.2t1.9 -1.6t1.3 -3.2t1.4 -2.8t2.2 -0.8t2.3 -0.4t1.4 -1.8t1.5 -1.8t2.7 -0.4t2.9 -0.3t2.1 -1.3t2.6 -0.7t3 -0.1t2.2 -1t2.1 -0.7t2.2 -0.5t1.6 -1.8t1.5 -2.1t2 -1.1t1.9 -1.2t1.6 -2.2t1.8 0.7z"/></clipPath><path d="M157.8 1242.2q1.1 2.1 1.9 1.7t1.3 0.6t1.6 1.3t2.7 0t2.4 0.5t1.8 1.4t2.6 0.3t2.8 0t2.1 1.3t2.3 1.3t3 1.1t1.2 2.4t-0.5 3.2t0.3 2.5t-0.4 2.4t-1.6 2.2t-0.7 1.9t-0.3 2.1t-1.1 2t-1.7 2t-0.9 2.4t1.4 2.5t2.3 1.5t1.7 1.1t1.9 0.9t2.8 0.1t2.9 0.9t1.2 2.7t0.4 3t1 2.8t0.2 2.7t-2.1 2.4t-2.4 2.3t-0.8 2.3t-1 1.9t-2.6 0.6t-2.9 0.3t-1.7 1.9t-0.8 2.9t-0.2 2.9t1.5 2.1t3.2 0.7t3 0.6t1.6 1.8t1.2 2.3t1.7 2.5t-0.1 2.9t-1.9 2.4t-1.5 2.1t-1.8 1.6t-2.9 0.5t-2.4 1t0 2t0.9 2.1t-0.1 2.7t0.4 2.5t2.4 1.2t2.7 1t1.1 2t1.3 1.9t2.9 1.2t1.8 1.8t0.8 2.3t2.1 1.7t0.8 2.2t-1.1 2.8t-0.1 2.5t0.2 2.4t-1.2 2.6t-1.1 2.5t0.1 2.3t-0.5 2.4t-0.9 2.4t0.7 2.2t1.5 2.1t0.9 2.2t0.2 2.3t0.7 2.2t2.1 2t2 2.1t0.4 2.2t0.1 2.3t1.2 2.2t0.7 2.4t-1.2 2.5t-1.5 2.4t-0.4 2.4t-1.6 2t-2.3 1.8t-0.4 2.3t-0.1 2.4t-1.7 2t-1.3 2.2t1.3 2.6t1.9 2.3t0.4 2.2t0.6 2.1t2.7 1.6t2.4 1.7t0.1 2.5t-0.7 2.8t0.2 2.8t-0.2 2.8t-2.1 2.2t-2.1 2t-0.7 2.5t-1 2.3t-2.7 1.5t-2.7 1.6t-0.6 2.5t0 2.7t-1.2 2.3t-1 2.3t0.7 2.7t1.1 2.7t-0.2 2.4t-0.2 2.4t1 2.6t0.4 2.5t-1.6 2t-2.1 1.9t-1.1 2.1t-1.7 1.9t-1.9 1.8t-0.3 2.3t-0.5 2.3t-2.3 1.7t-1.8 2t0.5 2.7t0 2.6t-0.9 2.5t0.7 2.7t0.6 2.7t0.3 2.8t1.1 3.2t-0.6 2.6t-2.3 1.6t-1.4 1.9t-1.1 2t-2.3 1.3t-2.5 1.2t-1.6 1.7t-1.6 1.7t-2.4 1.1t-2.2 1.3t-1 2.3t-0.9 2.4t-1.7 1.8t-1.2 2.2t0.1 3.5t-0.6 3.3t-2.4 1.3t-2.7 0.7t-2.2 2.1t-2.2 1.6t-2.4 -0.9t-2.5 -1.7t-2.4 -0.4t-2.4 -0.8t-2.4 -1.6t-2.3 -0.8t-2.3 -0.7t-2.2 -1.6t-2.3 -0.9t-2.6 0.5t-2.3 -0.3t-2 -1.2t-2.7 -0.1t-3 0.2t-2.3 -0.8t-2.4 -0.2t-2.8 1.2t-2.3 -0.4t-2.2 -1.5t-3 -0.3t-2.3 -2t-0.4 -3.8t-0.3 -2.8t-0.2 -2.5t1.1 -2.9t0.5 -2.9t-1.6 -2.4t-1.5 -2.5t-1.5 -2.3t-2.9 -0.7t-3.1 -0.2t-2.1 -1.4t-2.1 -1.4t-3.1 -0.4t-3 -0.9t-1.3 -2.5t-0.6 -2.8t-1.4 -2.1t-1.1 -2.2t0.7 -2.9t0.8 -2.7t-0.2 -2.2t1.2 -1.9t2.3 -1.7t0.7 -2.2t0.7 -2.3t1.1 -2.2t-0.6 -2.7t-1.5 -2.8t-0.9 -2.3t-0.2 -2.3t-0.4 -2.5t-1.4 -2.6t-0.6 -3t1.8 -2.5t2.5 -1.6t2 -1.6t2.5 0t2.8 0.7t2 -0.9t2.5 -1t3.1 -0.8t1.6 -2t0.8 -2.5t1.4 -2.3t0.5 -2.7t-1.7 -2.6t-2.2 -1.9t-1 -1.9t-0.9 -2.1t-2.1 -2t-1.5 -2.5t0.9 -2.8t1.6 -2.4t0.6 -2.3t0.8 -1.6t2.1 -1.2t1 -2t-1.6 -1.6t-2.2 -1.2t-2.2 -0.8t-2.4 1.1t-2.4 1.1t-2.3 -0.6t-2.3 -0.3t-2.3 1.7t-2.3 1.3t-2.5 0.4t-2.3 1.5t-2.3 1.5t-2.5 -0.2t-2.4 -0.3t-2.1 0.8t-2.5 -0.1t-2.7 -0.6t-2.1 0.5t-1.5 -0.7t-0.6 -1.8t-1 -0.9t-1.1 -1.6t-0.7 -2.4t-2.1 -1.7t-2.7 -1.2t-2 -1.5t-2.3 -0.9t-3.2 0.3t-2.8 -0.2t-1.5 -1.9t-1.2 -2.4t-1.9 -1.9t-0.9 -2.5t0.4 -3t-0.3 -2.4t-0.3 -2.3t0.8 -2.7t0.3 -2.6t-1.4 -2.1t-0.9 -2.3t-0.4 -2.5t-1.9 -1.8t-2.5 -1.5t-1.5 -2t-1.8 -1.9t-2.7 -1.7t-1.5 -2.3t-0.3 -2.7t-1.2 -2.5t-0.8 -2.6t1.1 -2.9t1.8 -2.7t1 -2.4t1.3 -2t2.5 -1.3t2 -1.6t0.6 -2.4t1.3 -1.6t2 -0.9t1.2 -2.2t1.3 -2.6t2.1 -1.4t2.1 -1.4t1.6 -2.4t1.9 -1.8t2.1 -0.9t1.3 -1.5t1.1 -1.4t2.1 -0.8t2.1 -1.2t1 -2.2t1.5 -1.7t2.7 0.4t2.4 1.1t2 -0.4t2.2 -0.2t2.3 0t2.1 -1.8t2 -2.1t2.2 -0.6t2.1 -0.6t1.3 -2.2t1.1 -2.4t2.1 -1.1t2.3 -1.1t1.8 -1.9t2.4 -1t3 -0.1t2.3 -1t2.2 -1.1t2.9 -0.1t2.7 -0.5t1.7 -1.8t2.1 -1.6t2.2 -1.7t0.4 -3t0.1 -2.9t0.5 -2.5t-0.7 -2.9t-0.7 -3.1t1.1 -2.5t1.3 -2.6t0.5 -3.1t1.9 -1.5t2.8 -0.4t1.2 -1.5t0.9 -1.8t2.7 -1.5t2.3 -2t0.1 -2.6t0.9 -2.1t2.1 -1.1t0.7 -1.4t0.6 -1.9t1.8 -1.2t1.9 -1.6t1.3 -3.2t1.4 -2.8t2.2 -0.8t2.3 -0.4t1.4 -1.8t1.5 -1.8t2.7 -0.4t2.9 -0.3t2.1 -1.3t2.6 -0.7t3 -0.1t2.2 -1t2.1 -0.7t2.2 -0.5t1.6 -1.8t1.5 -2.1t2 -1.1t1.9 -1.2t1.6 -2.2t1.8 0.7z" fill="#ececec" stroke="none"/><g clip-path="url(#clipG)" fill="#ececec" stroke="#444" stroke-width="0.55" stroke-dasharray="26 7 11 14 40 9"><path d="M189.7 1418.9q0.1 1.3 -1 2.2t-1.2 2.1t-0.9 2.3t-2.1 0.4t-2.1 -1.4t-1.9 -0.6t-2 -0.6t-1 -1.9t-0.5 -2.5t1 -2t2.4 -0.8t1.9 -0.9t1.8 -0.2t1.7 1.2t2.3 1t1.6 1.7z"/><path d="M123.8 1370.3q0 0.9 2.1 2.1t3.2 2.7t0.6 2.8t-1.2 2.5t-1.5 2.2t-2.6 1t-4 -1t-2.8 -0.4t-1.4 1.3t-1.7 1t-1.8 0.9t-2 2t-2.4 1.3t-2 -1.6t-1.7 -2t-1.4 -1.5t-0.4 -2.6t0 -2.5t-1.6 -0.8t-2.6 -0.4t-1.4 -1.4t-1.7 -1.7t-2.1 -1.9t0.2 -2.2t2 -2t1 -2t0.3 -2t1.4 -1.6t0.9 -2.2t0.1 -3.1t1.4 -2.2t2.6 -0.4t2.6 -0.5t2.3 -0.2t2.3 2.3t1.9 1.9t1.9 -0.1t1.9 0.3t1.3 1.5t1.9 0.7t2.1 0.5t0.2 2.1t-0.4 2.4t0.8 1.5t1 1.5t0.3 1.7z"/><path d="M156.8 1415.2q-0.1 0.9 1.3 2.1t1.2 2.7t-1.8 1.7t-2.6 0.7t-1.9 1.5t-2.1 0.8t-1.8 -1.9t-1.3 -2t-1.9 -0.6t-1.7 -1.1t-0.6 -2t-0.6 -2.3t0 -2.4t1.9 -1.5t2.2 -0.8t1.8 -1.4t2.1 -0.7t1.9 1.2t1.9 1.2t1.9 0.9t0.6 1.9t-0.3 2z"/><path d="M144.9 1475.2q-0.2 1.3 -1.5 2.4t-3.1 1.6t-3.3 0.7t-1.1 1.2t0.9 2.6t0.3 2.9t-1.2 1.7t-2.1 0.5t-2.1 0.8t-2 0.5t-2 -0.9t-1.7 -1.4t-2.1 0.2t-2.9 1.4t-2.9 0t-1.6 -1.8t-0.1 -2.9t-0.2 -2.4t-0.6 -2t-0.1 -2t0.3 -2t-0.6 -2.1t-1.4 -2.6t0 -2.5t2.1 -1.5t3.1 -0.2t2.2 -0.4t1.2 -1.4t1.6 -1.1t1.9 -0.4t1.9 -0.5t2.1 -0.8t2 0.1t1.5 1.7t0.8 2.2t1.9 0.7t3.4 -0.6t3.3 0.5t1.9 2t0.5 2.7t-0.2 2.7z"/><path d="M188.3 1497.2q1 1 0.7 2.1t-1.6 1.9t-1.4 1.8t-0.6 1.7t-1.9 1.1t-2.5 0.3t-1.1 1.4t-0.3 2.4t-1.2 1.5t-1.4 1.2t-1.2 2.7t-1.7 2.3t-2.3 0.1t-2.5 0.4t-2.6 0.9t-2.5 -0.6t-1.8 -1.9t-2.1 -1.4t-2.2 -1.1t-0.7 -2.6t0.5 -3.2t0.1 -2.5t0.2 -2t1.5 -2.1t0.8 -1.6t-1.4 -1.2t-1.9 -1.5t-0.9 -1.8t-1.9 -2.5t-2.5 -3.3t-0.1 -2.8t2.1 -1.6t2.1 -1.7t2.2 -1t3.2 0.8t2.9 1t1.8 -0.1t1.6 -1t1.8 -0.3t2 -1.1t2.4 -2.5t2.5 -0.6t1.9 1.6t2 1.3t2 1.1t0.5 2.8t-0.2 2.9t1 1.6t1.6 1.3t0.5 1.9t0.8 1.9t1.8 1.9z"/><path d="M123.2 1347.6q-1.3 1 -1.8 1.8t-0.1 1.8t-0.1 1.7t-1.4 1.3t-0.1 1.9t0.8 2.4t-1 1.5t-1.6 1.1t-0.9 1.7t-1.4 1.4t-2.4 -0.1t-1.7 0.7t-1.1 2.1t-1.7 0.8t-1.9 0.8t-2 2.5t-2.4 2.3t-2.4 -0.3t-2.7 0t-2.8 0.3t-1.7 -2.3t-0.9 -3.2t-1 -2.6t-0.3 -2.6t1 -3.3t-0.3 -1.8t-2 -0.7t-1.3 -1.3t-1.7 -1.4t-3.3 -1.3t-2.8 -1.8t-0.3 -2.3t-0.4 -2.6t-0.2 -2.5t2.7 -1.7t3.7 -0.9t2.6 -0.9t2.6 -0.5t3.3 0.6t1.5 -0.5t-0.1 -2t0.6 -1.4t0.7 -2t0.4 -3.5t1.1 -3.2t2 -1.1t2.2 -1.1t2.3 -1.3t2.3 0.8t2.1 2t2.1 0.8t1.9 0.7t1.2 2.3t2 1.2t2.8 0t1.8 1.3t1.4 1.8t2.1 1.3t1.3 2t-1 3t-0.5 2.5t0.2 2t-1.7 2.1z"/><path d="M129.8 1467.3q1.3 0.7 1 1.8t-1.9 1t-1.5 1.6t-1 3.1t-2.1 0t-1.5 -2.7t-1.8 -1.4t-1.1 -1.5t0.9 -1.9t0.4 -2.2t0.9 -1.8t2.2 0.1t2.4 -0.7t2.3 -0.3t0.3 2.6t0.5 2.4z"/><path d="M148.4 1530.5q-1.3 1.2 -1.5 2.3t-1.3 1.9t-2.8 1.4t-1.5 1.6t0.4 2.2t-0.3 1.9t-0.7 2t0.2 2.9t-0.4 2.8t-2.2 1t-2.2 0.9t-2 0.8t-2.8 -1.2t-2.6 -2.1t-1.9 -1.3t-1.6 -1.2t-1.3 -2t-1.4 0.1t-1.9 1.6t-1.8 0.3t-2.3 0.6t-3.3 1.8t-3 0.3t-2 -1.4t-2.7 -1t-2.8 -1.2t-0.8 -2.5t-0.7 -2.5t-1.5 -2.2t-0.2 -2.6t1.2 -2.6t0.4 -2.5t0.6 -2.3t2.9 -1.6t2.6 -1.3t1.5 -1.4t2.6 -0.5t2.7 0t1.1 -0.9t0.5 -1.4t1.2 -0.8t0.5 -2.2t0.1 -4.1t1.2 -2.4t1.9 -1.4t2.1 -2.3t2.4 -0.7t2.3 2t2.1 1.7t1.8 1.5t1 3.1t0.8 2.3t1.6 0.6t1.7 0.5t1.5 1t3 0t3.8 0t2.1 1.7t1.8 2t2 2t-0.2 2.6t-2.1 2.7z"/><path d="M157.8 1544.2q0 1 1.4 2.2t2.5 2.6t0.6 2.7t-1.5 2t-1.4 2t-1.7 1.9t-3.4 0.2t-3.1 -0.5t-1.8 0.5t-1.6 0.9t-1.9 -0.1t-1.4 1.5t-1.4 3.1t-2.1 1.3t-2.3 0.2t-2.4 0.1t-2.2 -0.7t-1.1 -2.6t-1 -2.4t-1.6 -1.1t-1 -1.6t-0.5 -2t-1.9 -1.1t-2.6 -0.9t-0.9 -1.8t-0.4 -2.1t-1 -2.1t0.2 -2.1t2.2 -1.8t1.1 -1.9t-0.3 -2.2t1 -1.7t1.2 -1.6t0.1 -2.6t0.5 -2.8t2 -1t2.2 -0.9t1.9 -1.7t2.4 0.2t2.5 2t2.1 0.7t1.9 -0.5t1.7 0.9t1.8 0.7t2.4 -0.6t2.2 0.4t0.9 2.1t1.3 1.6t1.7 1.3t0 2.3t-0.5 2.3t1.1 1.5t1.7 1.4t0.5 1.9z"/><path d="M140.8 1312q0.5 1 0.1 2.1t-0.9 2.1t-1.2 1.9t-2 0.7t-2.2 -0.6t-2.4 0.6t-2.6 0.1t-0.9 -2.4t0.6 -2.5t-0.4 -2.1t0.1 -2t1.9 -1t1.8 -1.4t2 -2.1t2.4 0.3t0.9 2.8t1.1 2t1.7 1.4z"/><path d="M168.1 1513.1q0.1 1 -0.3 1.9t-1 1.7t-0.1 2t0.8 2.8t-0.5 2.6t-2.4 0.7t-2.8 -0.5t-2.1 0t-1.8 0.1t-1.7 -0.4t-1.7 0.2t-2.5 1.6t-3.1 1.5t-2.5 -0.8t-0.8 -2.7t-0.8 -2.4t-1.2 -1.8t-0.2 -2.2t0.8 -2.3t-0.1 -2.1t-1 -2.3t0.5 -2.2t2.4 -1.1t2.4 -0.5t1.4 -1.3t1.3 -1.3t1.7 -0.4t1.8 -0.2t1.8 -1.6t2.2 -1.6t2.3 0.1t1.9 1.3t2.4 1t2.6 0.7t1.2 2.2t-0.7 3.1t-0.5 2.4t0.4 1.9z"/><path d="M85.8 1400.8q-0.1 1.1 -1.4 2.1t-1.9 1.8t-0.7 1.8t-1 1.6t-2.1 0.9t-0.6 1.8t0.7 2.8t-0.6 2t-1.1 1.7t-0.9 2.8t-1.5 2.2t-2.6 -0.2t-2.5 -0.3t-2.2 0.3t-2.2 -1.1t-1.9 -1.9t-2 -0.2t-2.3 0.9t-1.9 -0.6t-2.4 -0.6t-3 0t-2 -1.2t-0.3 -2.8t-0.4 -2.7t-0.1 -2.2t1.9 -2.7t1.7 -2.3t-0.2 -1.5t-0.5 -1.4t0.1 -1.5t-1.8 -2.1t-2.9 -2.9t-0.8 -2.8t0.4 -2.6t0.4 -2.6t1.6 -1.7t3.4 0.2t3 0t2.1 -0.7t2.4 0.8t2.2 0.8t1.7 -1t1.7 -1.5t1.9 0t2.2 -0.7t2.5 -1.3t2.1 0.8t1.4 2.2t1.8 1.2t1.9 0.9t0.6 2.2t0.9 1.9t2.1 1.1t1.4 1.8t0 2.3t0.8 2t1 2z"/><path d="M186.5 1397.4q-0.7 1.1 -1.2 2.2t0 2.2t0.5 2.3t-0.6 2.1t-1.5 1.7t-0.3 2.4t0.6 3.2t-0.8 2.4t-2.2 1.1t-2.4 0.9t-2 1.2t-2.4 0.5t-3.1 -1.4t-3 -2.4t-2.1 -1.4t-1.5 -0.5t-1.5 -0.7t-1.3 -1t-1.4 1t-1.8 3.1t-2.3 2.6t-2.5 1.3t-2.8 0.6t-3.4 1.4t-3.3 0.6t-2 -1.7t-0.6 -3.2t-0.7 -2.6t-0.8 -2.1t0.5 -3t1.6 -3.1t0.7 -2.2t-1.2 -1.6t-1.4 -1.6t-0.8 -1.9t-0.8 -2.1t-2.1 -2.4t-2 -2.8t0 -2.5t1.9 -1.8t1.7 -2.1t1.3 -1.9t2.7 -0.6t3.7 0.3t3.1 0.4t1.8 -0.3t1.5 -0.6t1.7 -0.2t1.6 -0.2t1.1 -2t1.1 -3.3t1.7 -1.6t2 0.1t2.2 -0.6t2.3 -1t2.2 0.2t1.6 1.8t1.3 2.2t1.7 1.2t1.7 1t1.1 1.9t0.6 2.2t1.8 0.7t2.7 0.5t1.9 1.4t0.7 1.9t1 1.9t1.8 1.8t0.9 2.1t-0.7 2.3z"/><path d="M147 1441.6q0.1 0.9 0 1.9t0.5 2.4t0 2.4t-2.2 0.8t-2.7 -0.7t-1.9 0.6t-1.8 2.2t-2.4 0.9t-1.8 -1.7t-1.1 -2.4t-1.2 -1.7t-0.4 -1.9t0.8 -2t0.3 -1.8t-1 -2.5t0.1 -2.8t2.2 -0.9t2.7 0.6t2.1 -0.3t2.1 -1.1t2.2 0.3t1.3 1.9t0.9 2t0.9 1.7t0.4 1.9z"/><path d="M109 1407.2q1 0.7 1.9 1.6t1.3 2t0.1 2.1t-0.1 2.4t-0.1 2.7t-1.2 2t-2.3 0.7t-2.7 0t-2.1 0.8t-1.7 1.9t-2.1 1.3t-2.3 -0.2t-2.1 -1.4t-2.1 -1t-2.2 -0.4t-1.7 -1.4t-0.7 -2.4t0.2 -2.6t-0.6 -1.7t-1.4 -1.2t-0.7 -1.6t0.2 -1.8t0.4 -1.7t-1 -2.1t-1.8 -2.7t-0.5 -2.8t1.1 -2.2t2.1 -1.4t2 -1.3t2.1 -1.1t2.6 0.4t2.5 1.7t2 0.9t1.8 -1.2t2.3 -2t2.7 -1.1t2.4 0.5t2 1.4t1.8 1.6t0.8 2.5t-0.8 3t-2 2.8t-1 1.9t1.1 1.3z"/><path d="M126.3 1376.3q1 0.8 1.5 1.8t0.2 1.9t0.4 2.2t1.1 2.7t-0.2 2.3t-2 1.2t-2 1.3t-1.2 1.8t-1.7 1.2t-2.4 0.1t-2.1 0.6t-1.6 1.7t-1.9 0.7t-2.1 -0.9t-2 -0.6t-2 0.4t-1.8 -0.7t-1.2 -2.2t-1.4 -1.4t-2.1 0t-2.1 -0.4t-1.4 -1.2t-2 -0.9t-3.1 -0.7t-2.2 -1.6t-0.3 -2.4t0 -2.5t-0.6 -2.4t0.5 -2.3t2.2 -2t1.7 -1.7t0.3 -2.1t0.8 -1.8t1.9 -1t1.6 -1.3t0.8 -1.9t1.5 -1t2.4 0.2t2.1 0.1t1.4 -0.8t1.6 -0.5t1.7 0.2t1.8 -0.8t2.2 -2.6t2.7 -1.9t2.5 0.2t2.7 0.2t3 0.1t2 1.7t0.1 3.4t-0.4 3.3t0.1 2.4t-0.5 2.4t-1.5 2.3t-0.4 1.8t1.6 1.5z"/><path d="M47.9 1376q0.6 1.1 1.1 2.3t0.1 2.3t-1.7 1.9t-1.6 1.9t-0.3 2.2t-0.5 2.3t-1.6 1.7t-1.5 1.6t-0.6 2.5t-1 2.3t-2.3 1.1t-2.6 0.5t-2.2 0.8t-2.3 -0.1t-2.5 -1.5t-2.2 -1.9t-1.8 -0.8t-1.7 -0.2t-1.6 -1t-1.5 -0.6t-2.2 0.7t-2.6 0.9t-2 -0.4t-1.4 -1.5t-1.8 -1t-1.6 -1.1t0.1 -2.5t1.2 -2.9t0.2 -2.1t-0.7 -1.5t0 -1.6t0 -1.6t-2.1 -1.6t-3.5 -2.1t-2.3 -2.5t-0.9 -2.7t-1.3 -3.4t-1 -3.4t1.4 -2.6t3.5 -1t3.2 -0.5t2.7 -0.7t3.4 0.8t3.6 1.9t2.4 0.6t1.4 -1.1t1.6 -0.6t1.7 0.6t1.7 -0.9t1.9 -2.4t2.1 -0.7t1.8 1.2t1.8 0.9t2 0.2t1.3 1.6t0.3 3t0.6 2t1.6 0.6t1.4 0.9t0.7 1.6t1.6 1.2t2.9 0.9t2.3 1.5t0.6 2t0.4 2.2z"/><path d="M105.8 1407.1q-0.1 1.2 -1 2.3t-2.6 1.8t-3.4 1t-2.1 1t-0.2 1.6t0.1 1.8t-0.2 2t-0.7 1.9t-0.4 2.7t-0.5 3.5t-1.6 1.9t-2.5 0t-2.7 -1.7t-2.2 -2t-1.8 -1.1t-1.6 -1t-1.4 -1.3t-1.3 -1.2t-2.2 0.5t-3.5 1.8t-3.7 0.7t-2.9 -0.9t-1.5 -1.9t-1.3 -2.2t-1.2 -2.4t0.2 -2.7t1.7 -2.7t2.7 -2.3t1.6 -1.9t0 -1.9t0.1 -1.9t0.9 -1.6t1.7 -1t1.1 -1.5t0.4 -2.2t1.1 -1.5t1.8 -0.6t2.1 0.2t1.7 -0.6t1.4 -2t1.8 -1.7t2 -0.3t2 0.9t2.1 0.2t2.4 -0.5t2.2 0.4t1.6 1.6t0.9 2.3t1.6 1.4t2.7 0.6t2.5 1.1t1.5 2t0.2 2.5t0.2 2.4t0.4 2.3z"/><path d="M56.5 1396.2q-0.6 1.1 -0.9 2.1t-0.2 2t-0.4 2t-1.5 1.4t-1.5 2t-1.8 1.6t-2.3 -1t-1.6 -2.5t-1.9 -0.5t-2.9 0.8t-2.3 -0.9t-1 -2.2t-0.6 -2.5t0.6 -2.3t2.5 -1.4t1.9 -1.1t0.4 -2t0.9 -1.9t1.8 -0.7t2.2 -1.5t2.5 -1.1t1.9 1.8t0.7 2.8t1.4 1.6t1.9 1.2t0 2.1z"/><path d="M134.5 1353.8q-1.3 1.2 -1.6 2.3t-1.6 1.9t-3.1 1.4t-2.9 1.1t-1.2 1.3t-0.9 1.3t-1.9 0.6t-1.2 0.8t0 1.7t-0.4 1.7t-1.4 0.9t-1 1.6t-0.4 2.4t-1.1 1.6t-1.7 0.9t-1.5 2t-1.5 2.8t-2.1 1.6t-2.3 0.1t-2.5 1.1t-2.8 1.9t-2.5 -0.5t-2.1 -2.1t-2.2 -1.5t-2 -1.2t-0.8 -2.8t-0.2 -3.5t-0.7 -2.5t-0.7 -2t0.4 -2.4t-0.1 -1.9t-1.8 -1.1t-1.9 -1.1t-0.8 -1.7t-1.6 -1.8t-2.8 -1.8t-1.6 -2.2t0.6 -2.3t0.3 -2.4t-0.1 -2.3t1.9 -1.7t3.5 -0.9t2.5 -1t1.5 -1.3t2.4 -0.3t2.5 0.1t1 -1.3t0.3 -2.2t1 -1.5t1.2 -1.5t0.8 -2.9t1.1 -2.7t2 -1.1t2.2 -0.7t2.2 -1t2.2 0.3t1.9 2.2t1.7 2.1t1.8 0.9t1.5 1.1t0.9 2.2t1.6 1t2.6 -0.4t2.4 0.4t1.8 1.1t3 0.3t3.9 0.1t2.4 1.5t0.9 2.4t1.4 2.4t1.1 2.4t-1.2 2.9t-2.5 2.7z"/><path d="M164.4 1401.6q0.4 0.9 0.4 1.9t-0.4 1.9t-1.1 1.7t0.2 2.3t0.6 2.9t-1.4 1.8t-2.7 0.2t-2.2 0.8t-1.8 1.1t-2.1 -0.3t-2.1 -0.3t-2.2 1.2t-2.5 1.5t-2.1 -0.8t-1.2 -2.5t-1 -2.3t-0.6 -2.1t0.6 -2.4t0.2 -1.9t-2.1 -0.9t-3.1 -1.1t-1.9 -1.9t-1.1 -2.5t-1.1 -2.8t0.5 -2.7t2.8 -1.3t2.9 -0.9t1.8 -1.4t1.9 -0.9t2.4 0.1t2.1 -0.1t1.8 -0.9t1.9 0.2t1.6 1.9t1.6 1t2.2 -0.7t2.3 -0.2t1.7 1.1t2.3 1.1t2.7 1.1t0.8 2.1t-1.6 2.7t-0.9 2.3z"/><path d="M108 1461.8q-0.5 1.1 -1.7 2t-0.5 2t0.9 2.2t-0.3 2t-1.2 1.7t-0.4 2.3t-0.5 2.5t-2.3 0.9t-2.7 0t-2.1 0.2t-2.1 -0.5t-2.2 -1.9t-1.7 -0.7t-1.5 1.5t-1.8 1.2t-1.9 0.5t-2.8 1.7t-3.6 1.7t-2.7 -0.6t-1.8 -2.1t-1.9 -1.8t-1.2 -2.2t1 -3.3t1.1 -2.9t-0.1 -2.1t0.3 -2t1.6 -1.8t0.3 -1.8t-0.8 -2.1t0.7 -1.8t1.8 -1.1t0.9 -1.5t0.6 -1.9t1.7 -0.9t1.8 -0.7t1.1 -2.1t1.4 -2t2.1 -0.2t2.1 -0.6t2.2 -1.5t2.2 0.1t1.8 1.9t2 1.3t2.2 0.3t1.4 1.5t1 2.1t2 1.1t2.1 1.3t0.4 2.3t0.2 2.2t1 2t0 2.1z"/><path d="M135.3 1537.1q0 1 -0.1 2t0.4 2.3t0.2 2.4t-1.1 1.9t-2.2 1.2t-1.8 1.5t-1.6 1.6t-2.3 0.2t-2.3 -1.5t-1.9 -1.1t-2.2 1t-2.6 0.7t-2 -1t-0.8 -2.3t-0.5 -2.3t-0.2 -2t0.8 -2t1 -1.6t-1 -1.7t-2.5 -2.6t-0.9 -2.9t1.5 -1.9t2.4 -1.1t2 -1.3t2 -1.2t2.3 0t2.3 1t2.2 0.3t2.1 0.4t1.2 1.9t-0.1 2.7t0.4 1.8t2 0.7t2.1 1.1t0.8 1.8z"/><path d="M199.7 1319.6q1.3 1.3 0.6 2.8t-2.7 2.2t-3.6 1.2t-1.8 1.3t-1.1 1.6t-1.9 0.5t-1.9 0.2t-1.5 1.3t-1.8 0.9t-1.9 -0.4t-2.3 0.4t-2.8 0.7t-1.7 -1.6t0.5 -3.2t0.1 -2.4t-1.3 -1.3t-1.2 -1.7t-1.3 -2.1t-1.9 -2.9t-0.4 -2.9t2.9 -1.2t3.7 0.1t2.3 -0.4t1.6 -0.9t1.8 -0.3t1.9 -0.7t2 -0.7t1.6 1.5t0.3 3.1t1 1.4t2.9 -0.5t3.3 0.3t2.4 1.6t2.1 2.4z"/><path d="M115 1386q0.5 0.9 0.4 1.9t0.7 2.2t1.6 2.4t0.6 2.5t-1.2 2t-1.6 1.9t-0.9 2.3t-1.2 2.1t-2.3 1t-2.5 0.6t-1.7 1.4t-1.7 1.5t-2.3 0t-2.4 -1.2t-2.1 0.2t-2 0.4t-1.9 -1.5t-1.6 -1.9t-1.7 -0.7t-2 0.2t-1.7 -0.8t-1.1 -1.7t-2 -0.3t-2.9 0.2t-2.1 -1t-0.7 -1.8t-1.1 -2t-1.7 -1.7t-0.4 -2.1t1.3 -2.4t0.9 -2.1t-0.5 -1.9t-0.1 -1.9t0.9 -1.7t0.4 -2t-0.9 -2.8t-0.4 -2.6t1.2 -1.9t1.7 -1.5t1.3 -2.2t1.7 -1.7t2.7 0.2t2.8 0.8t2.1 0t1.8 -0.7t2 0.1t1.9 0.7t2 -0.7t2.3 -1.5t2.3 -0.2t1.9 0.9t2.2 0.5t2.4 0.5t1.3 2t-0.2 3.1t0.2 2.6t0.9 1.7t0.1 1.9t-0.8 2.1t0.3 1.7t2 1.3t1.6 1.6z"/><path d="M209.9 1467.7q0.7 1.2 0.4 2.5t-1.5 2.3t-2.8 1.6t-2.4 1.3t-0.8 1.8t-0.3 2.1t-0.8 2t-1.5 1.4t-1.4 1.7t-1.2 2.4t-1.8 1.7t-2.4 -0.1t-2.5 -1.7t-2.2 -1.1t-2 0.2t-2 0t-1.9 -0.7t-1.6 -1.2t-2 -0.5t-2.6 0.2t-2.1 -1.1t-0.8 -2.3t0.6 -2.8t0.2 -2.2t-0.8 -1.6t-0.4 -1.8t0.1 -1.8t0.5 -1.7t-0.9 -2t-1.9 -2.5t-0.6 -2.4t0.9 -2t2 -1.5t1.5 -1.6t1 -2.3t1.7 -1.6t2.2 -0.6t2.3 -0.4t2 -1.5t2.1 -1.8t2.4 -0.4t2.3 1.6t1.8 2.9t1.5 2.2t1.3 1.5t0.7 2t0.2 2.2t0.6 1.4t2.3 0.1t3.4 -0.2t3 0.7t1.9 1.6t1.2 2t1.3 2.3z"/><path d="M149 1311q0.9 1.4 0.7 2.8t-1 2.7t-1 2.7t-1.4 2.3t-2.9 1.6t-3.9 0.6t-3.4 0.1t-1.9 0.8t-1.3 1.2t-1.5 1t-1.8 0.3t-1.4 1.1t-1 2.5t-1.5 2.1t-2 1t-2.1 -0.6t-2.2 0t-2.3 0.9t-2.2 -0.4t-1.7 -1.6t-1.2 -2.4t-1.6 -1.3t-1.9 -0.9t-1.2 -1.7t-0.2 -2.2t0 -2.1t-1.1 -1.4t-1.5 -1.2t-0.7 -1.7t0.1 -1.9t-0.6 -1.8t-2 -2t-1.8 -2.3t-0.4 -2.4t0.9 -2.2t0.6 -2.3t0.1 -2.6t1.3 -2.1t2.5 -0.9t3 -0.1t2.2 -0.7t1.5 -1.5t1.9 -1.1t2.2 0t2.1 -0.2t2 -1.5t2.1 -1.8t2.3 -0.2t2 1.9t1.6 2.2t1.5 1.5t1.1 2.1t0.2 2.8t-0.6 2.9t0.1 1.8t1.7 0.2t2.2 0.2t2.2 0.6t2.2 0.9t3.6 1t4.5 1.4t2.9 2.3z"/><path d="M134.2 1498.2q-1.7 1.3 -2.3 2.2t-1 1.7t-1.1 1.4t-1.3 1.2t0 2.4t0.5 3.4t-1.3 2t-2.5 0t-2.4 0.3t-2.1 0.8t-2.2 -0.5t-1.9 -1.5t-2.1 -0.5t-2.2 -0.2t-0.9 -2.1t0.3 -2.9t-0.5 -1.9t-1.4 -1.2t-0.5 -1.7t-0.3 -1.8t-1.3 -2.1t-0.9 -2.3t1.3 -1.8t1.9 -1.4t0.9 -2.1t0.9 -2.3t2 -1.3t2.3 -0.7t2.3 -0.9t2.3 0.6t1.7 3.1t1 2.8t1.4 0.8t1.9 0t1.9 0.5t2.9 0.5t3.5 0.8t1.3 2.2t-1.9 2.7z"/><path d="M164.9 1477.2q-0.6 1.4 -1.7 2.2t-1 1.9t0.2 2.7t-1.2 2.3t-2.6 -0.1t-2.3 -1.1t-2.1 -0.2t-1.6 -0.9t-0.4 -2.1t-0.3 -1.7t-2.1 -1.8t-1.6 -2.4t1.5 -2t2.6 -0.9t2 -1.3t1.9 -0.9t1.9 1.5t1.2 2t2.1 0.4t2.9 0.4t0.7 2.1z"/><path d="M186.3 1289q0.4 1.1 1 2.4t0.5 2.4t-1.2 2.2t-2.5 1.7t-1.6 1.8t-0.9 2.1t-1.9 1.3t-2.8 0.4t-2.1 0.7t-0.8 1.8t-0.8 1.8t-1.4 1.3t-1.6 0.9t-0.9 2.3t-0.7 3.4t-1.5 2.1t-2.1 0.6t-2.2 0.5t-2.1 1.5t-2.4 0.9t-2.4 -1.3t-2.1 -2.4t-2 -0.7t-1.9 -0.4t-1.5 -1.9t-0.9 -2.8t-1.3 -1.7t-2 -0.1t-1.9 -0.5t-1.4 -1.4t-1.4 -1.3t-2.5 -0.6t-2.7 -0.7t-1.5 -1.5t-0.1 -2.2t-0.7 -2.1t-1.3 -1.7t0.3 -2.1t1.9 -2.4t2 -2t0.8 -1.7t0.6 -1.6t1.5 -1.4t1.8 -1t0 -1.5t-1.4 -2.3t-0.7 -2.4t0.1 -2.1t-0.3 -2.5t-1.1 -3.7t-0.4 -3.5t1 -2.5t1.9 -2t1.7 -2.7t1.8 -2.2t2.7 -0.9t3.1 1t2.9 1t2.5 0.1t2.5 1.2t2.2 2.1t1.9 2.8t1.7 1.7t1.7 0.9t1.3 1.8t0.7 2.5t1.1 1.5t1.7 0.1t1.5 0.5t0.8 1.7t0.9 1.2t2 0.3t2.5 0.5t1.7 1.1t0.8 1.6t2 1.3t3.1 1t2 1.7t0.5 2.2t0.2 2.3z"/><path d="M193.8 1497.4q0.3 1 0.1 2t-0.8 1.9t-1.6 1.5t-0.2 2t1.2 2.8t0.1 2.4t-1.3 1.8t-1.2 2t-0.8 2.4t-1.9 1.3t-2.9 -0.5t-2.7 -0.6t-2 0.1t-1.9 -0.1t-2 -1t-1.8 -0.6t-1.8 1.2t-2.1 1.5t-2 0.1t-2 -0.6t-2.5 0t-2.5 -0.2t-1.4 -1.6t-0.5 -2.5t-1.1 -2t-1.5 -1.6t-0.4 -1.9t0.3 -2.2t-1.2 -1.8t-2.3 -1.5t-1.2 -2t0.2 -2.2t-0.6 -2.4t-1.3 -2.7t0.5 -2.4t2.3 -1.6t1.9 -1.6t1.1 -2t2 -1.3t2.8 -0.1t2.3 -0.4t1.4 -1.2t1.7 -1t2.1 0.2t2 0.6t1.7 -0.7t1.8 -0.3t1.7 1.1t1.6 0.9t1.9 -0.5t2.1 -0.7t1.9 0.6t1.8 1t2.8 -0.3t3.3 -0.3t2.2 1.2t1 2.3t1.5 2t1.4 2t-0.5 2.7t-2.1 2.7t-1.1 2.2z"/><path d="M120.8 1401q1.8 1 2.5 2.2t0 2.4t-0.5 2.5t-0.2 2.6t-1.9 1.9t-3.5 0.5t-2.5 0.8t-1.3 1.5t-2.1 0.4t-2.1 0.1t-1.4 1.6t-1.3 2t-2 0.3t-2.1 0.1t-2.1 0.8t-2.1 0.2t-1.7 -1.3t-1.9 -1.2t-2.4 -0.1t-1.9 -0.6t-1.1 -2t-1.8 -1.4t-2.2 -0.8t-0.5 -2.4t0.7 -2.6t-0.1 -2t0 -1.8t1.5 -1.8t1 -1.7t-0.9 -1.8t-0.9 -1.9t0.3 -1.7t-0.6 -2.5t-1.3 -3.4t0.5 -2.5t2 -1.2t1.8 -1.7t1.8 -2t2.7 0.1t2.7 1.1t2.2 -0.5t2.1 -0.7t2.1 0.9t2.1 0.4t2.3 -0.5t2 0.8t1 2.4t1 2.1t1.3 1.4t0.2 2.1t-0.5 2.4t0.9 1.2t2.1 0.6t1.3 1.3t1.6 1.5t3 1.7z"/><path d="M104.7 1344.1q-0.6 1.3 -2.4 2t-1.9 1.4t0.6 2.4t0.6 3.2t-1.5 1.8t-2.5 0.7t-2.4 0t-2.1 -1.3t-1.4 -2t-2 -0.5t-2.5 -0.2t-0.9 -1.9t1 -2.3t-0.3 -2t-1.6 -2.2t0.3 -2.1t1.9 -1.4t1.6 -1.7t1.4 -1.8t2.2 -0.4t2.2 0.9t2 0.7t1.9 0.6t1.4 1.3t1.6 1.4t2.2 1.4t0.6 2.1z"/><path d="M184.4 1376q0.1 1 -0.6 1.9t-1.9 1.6t-1.2 1.6t0.6 1.9t0.5 2t-0.6 1.7t0.3 2.2t1.4 3.2t0.3 3.1t-1.3 1.9t-1 2.5t-0.7 2.9t-2 1.4t-3 -0.3t-2.6 0.1t-2.2 0.7t-2.6 -1.1t-2.6 -1.6t-2.1 -0.3t-1.9 0.5t-1.9 -0.7t-1.9 -0.8t-2.1 1t-2.3 1.6t-2.1 -0.3t-2.2 -0.6t-2.8 1t-2.6 0t-1.5 -2.2t-1.4 -1.8t-1.8 -1.4t-1 -2.4t0.6 -3.1t0.3 -2.6t-0.6 -1.6t0.3 -2.2t1.7 -2.5t0.4 -1.8t-1 -1.4t0.1 -1.6t1.1 -1.5t-0.3 -1.6t-1.4 -1.7t0 -1.6t0.8 -1.5t-0.5 -2.1t-1 -2.4t0.4 -1.8t0.7 -1.9t-0.3 -3t-0.3 -3t1 -2.1t1.3 -2.5t0.8 -3.5t1.4 -2.9t2.5 -1.3t2.7 -0.9t2.5 -1.7t2.8 -0.2t3 2.7t2.7 2.3t2.3 1.4t1.9 2.5t1.3 3.7t1.2 2.6t1.3 1.2t0.9 1.5t0.5 2t1.5 0.5t2.4 -0.6t2 0.3t1.7 0.6t2.8 0.1t3.3 0.1t1.7 1.4t0.9 2t1.5 1.6t1.1 1.9t-1 2.5t-1.5 2.3t-0.4 2z"/><path d="M134.6 1453.2q-0.2 1.4 -1.8 2.1t-1.3 1.8t-0.4 2.2t-1.8 0.4t-2.2 -0.3t-2.3 0.6t-2.2 -0.8t-0.9 -2.3t-0.4 -2.4t1 -1.8t2.5 -0.5t1.1 -1.9t1.2 -2.9t2.1 0.8t1.6 2.2t2.4 1t1.5 1.7z"/><path d="M69.1 1354q0.4 1.2 -0.3 2.3t-2.4 1.8t-3.8 1t-2.3 0.9t-0.4 1.5t-0.7 1.3t-0.9 1.1t0.4 2.7t1 4.3t-0.4 3.5t-1.8 1.7t-2.2 1.5t-2.3 1.3t-2.7 -0.8t-2.4 -3t-1.9 -2.9t-1.7 -1.2t-1.4 -1.3t-1 -1.7t-1.6 -0.4t-2.8 0.7t-2.8 0.2t-1.9 -1.1t-1.9 -1.6t-2.4 -1.2t-1.3 -1.9t0.6 -2.7t0.9 -2.5t-0.3 -2.2t0.1 -2.2t1.4 -1.9t1.4 -1.8t0.3 -2.1t0.6 -2t2 -0.9t2.3 -0.4t1.3 -1.4t1.2 -1.5t1.9 -0.3t1.9 -0.3t1.4 -2t1.6 -2.2t2 -0.6t2.2 0.1t2.3 -0.4t2.4 -0.4t1.8 1.6t1.1 2.5t1.6 1.3t2 0.9t1.3 1.7t0.9 1.8t2.3 1.1t3 1.1t1.4 2.1t-0.5 2.6t-0.3 2.4z"/><path d="M117.4 1375.3q0.1 1.3 -1.1 2.4t-1 2.4t-0.7 2.2t-3.1 1.2t-3.4 0.7t-2.1 0.8t-2.2 0.4t-2.4 -0.1t-0.7 1.2t0.2 2.3t-0.8 1.6t-0.6 2.7t-0.5 3.9t-1.6 2.1t-2.2 1.2t-2.3 1.6t-2.4 -0.4t-2.1 -2.4t-2 -1.3t-1.9 -1.1t-1.1 -2.7t-1.4 -1.3t-2.3 0.2t-1.9 -1t-1.7 -1.3t-2.7 -0.4t-2.4 -1.2t-0.4 -2.5t-0.8 -2.2t-1.1 -2t1.2 -2.5t1.4 -2.3t0.1 -2t0.7 -1.9t1.4 -1.7t-0.2 -2.1t-0.6 -2.2t1.3 -1.5t0.8 -2t0.3 -2.7t2.1 -1t2.6 -0.1t1.9 -0.7t2.1 0.3t2.4 1.5t1.7 -0.4t1.4 -1.3t1.6 0.1t1.8 -1t2.1 -2.4t2.2 -1t2.3 -0.1t2.7 -0.4t2.4 0.7t1.2 2.5t1.5 1.9t1.8 1.3t0.3 2.4t0.6 2.2t2 1.4t1.3 1.8t0.7 2.1t1.8 2t1.5 2.2z"/><path d="M128.3 1536.2q0.7 0.7 1.5 1.9t0.4 2.3t-1.8 1.3t-2.1 1.1t-1.8 1.4t-2.2 -0.4t-1.3 -2.2t-1.4 -1.4t-2.2 -0.6t-1.2 -1.8t0.4 -2.1t0.2 -2.5t0.6 -2.4t2.6 -0.2t2.4 1.7t1.9 -0.5t2.7 -2.1t2.2 0.8t-0.6 3.1t-0.4 2.4z"/><path d="M192.2 1466.2q0.2 1 -0.1 2t-0.8 1.9t1 2.4t2.1 3.3t0.1 3t-1.7 1.9t-1.9 1.9t-2.4 1.1t-3.5 -1.5t-3.2 -2.3t-2.1 -0.7t-1.6 0t-1.5 -1t-1.6 0.3t-2.2 2t-2.3 0.9t-1.6 -1t-1.9 -1t-2.3 -0.5t-1.2 -1.7t-0.2 -2.3t-1.5 -1.6t-2.3 -1.5t-0.6 -2.2t0.4 -2.3t-0.1 -2.3t0.6 -2.1t2.5 -1.4t2.3 -1.2t0.7 -1.7t0.7 -1.8t1.4 -1.3t1 -2.2t0.8 -3.1t2 -1.6t2.6 0.6t2.4 1.1t2.1 0.8t1.5 2.5t1 2.7t1.5 0.5t2.1 -0.3t1.8 0.7t2 0.6t2.8 0.3t1.8 1.4t-0.5 2.6t-0.6 2.4t0.5 1.9z"/><path d="M182.7 1497.5q0 1 -0.6 1.9t-1.8 1.7t-2.7 1.2t-1.8 1.2t-0.1 1.6t0.3 1.8t-0.2 1.7t-0.6 1.8t0.3 2.6t0.9 3.5t-0.3 3.2t-1.5 2.3t-2.1 1.3t-2 1.8t-2.2 1.9t-2.6 0t-2.7 -2t-2.5 -1.4t-2.3 0.2t-2.2 -0.3t-1.9 -1.4t-1.5 -2.2t-1.7 -1.4t-2.1 -0.3t-1.5 -1.4t-0.5 -2.7t0 -2.7t-0.6 -1.6t-0.9 -1.3t-0.2 -1.9t0.5 -1.9t-0.4 -1.5t-2.2 -1t-2.5 -1.3t-1.8 -1.7t-0.9 -2t-1.9 -2.4t-2.5 -2.8t-0.7 -2.9t1.3 -2.3t2.4 -1.5t2 -1.7t1.9 -1.5t2.9 -0.3t3.4 0.6t2.6 0.3t1.4 -1t1.3 -1.5t1.6 -1t1.8 -0.4t1.6 -1.8t1.7 -2.7t2.1 -1.8t2.3 0.1t2.2 1.2t2.2 0.2t2.2 0.2t1.7 1.7t0.9 3.1t1 2.2t1.9 0.5t2 0.7t1.4 1.6t0.8 2.1t1.8 1.4t2.7 1t1.4 1.9t-0.3 2.4t-1.2 2.4t-0.6 2.2z"/><path d="M151.2 1456.6q1 0.8 1.5 1.9t-0.1 2t-1.9 1.3t-2.1 0.8t-0.8 1.7t-0.7 2.5t-1.7 1.6t-2.3 -0.1t-2.4 0.2t-2.6 0.7t-2.2 -1.1t-0.9 -2.7t-0.3 -2.6t-0.8 -1.7t-0.7 -1.7t0 -1.9t0.3 -1.8t-0.7 -2.5t-0.4 -2.7t2 -1.3t3.1 0.8t2.3 0.4t1.4 -1.8t1.9 -2.3t2.5 -1t2.3 0.8t2.1 1.6t1.4 2t0.1 2.6t-0.8 2.4t0.5 1.9z"/><path d="M189.3 1494.5q-1.3 1.4 -3 2.4t-2.5 1.7t-1.7 1.2t-2 0.6t-0.3 1.9t0.8 3.3t-1 2.1t-2.1 0.7t-2.1 0.6t-2.1 -0.1t-1.9 -1.5t-2.3 0.1t-3.2 1.7t-2.7 -0.3t-1.9 -2t-1.4 -2.3t0.5 -2.9t2.7 -3t1.1 -2t-1 -1.5t-0.2 -1.7t-0.3 -2.1t-0.8 -2.8t0.8 -2.2t2.5 -0.5t2 -1t1.6 -1.7t2.2 0.1t2.2 0.3t2.2 -0.5t1.8 1.1t1.1 2.3t1.8 0.8t2.6 0t2 1.2t2.5 1.5t2.6 1.9t-0.4 2.8z"/><path d="M204.5 1385.5q0 1.3 -1.2 2.4t-1.4 2.3t-0.8 2t-2 1.4t-2.8 0.6t-1.5 1.2t-0.1 2.4t-0.8 2t-1.7 1.2t-1.7 1.8t-1.7 2.1t-2.3 0.5t-2.3 -1.6t-2.2 -1t-2.3 0.4t-1.9 -0.9t-1.1 -2.4t-1.5 -1.6t-2.1 -0.6t-1.1 -1.8t0.5 -2.6t-0.1 -2t-1.3 -1.6t-0.5 -1.8t0.7 -1.8t-0.3 -2.1t-1.4 -2.5t0.1 -2.3t1.8 -1.5t1.6 -1.5t0.9 -2.1t1.8 -1.4t2.4 0t2 -0.8t1.7 -2.1t2.2 -1.1t2.3 0.8t2.2 0.9t2.2 0.3t1.5 1.8t0.3 3.3t0.7 2.1t1.8 0.5t1.7 0.8t1.1 1.4t2.2 1.3t3.2 1.4t1.4 2.2z"/><path d="M176.9 1376.2q-0.4 1.1 -0.5 2.1t-1 1.9t-1.6 1.6t0 2.1t0.6 2.3t-1.1 1.7t-0.6 2.4t-0.1 2.5t-1.8 1t-2.4 0.4t-1.9 1.1t-2.3 0t-2.6 -1.7t-1.9 -0.5t-1.5 0.3t-1.6 -0.8t-1.6 0.5t-1.9 2.2t-2.1 1.3t-2.4 0.9t-3.1 1.5t-3 0.6t-1.9 -1.6t-2.1 -1.4t-2 -1.5t0 -3.2t0.3 -3t-0.6 -2.1t0.4 -2.3t0.9 -2.3t-0.7 -1.9t-1.2 -1.8t0.4 -1.9t-0.8 -2.2t-1.7 -2.5t0.4 -2.2t1 -2.2t0.3 -2.5t1.4 -1.6t2.7 -0.5t1.9 -1.3t1.6 -1.3t2.7 0.5t2.2 0t1.5 -1t2 0.2t2 0.9t1.7 -0.3t1.6 -0.3t1.5 1.2t1.8 -0.2t2.1 -1.2t1.7 0.5t2.2 0t3.1 -0.9t2.7 0.3t2.2 1.3t2.9 0.6t2.4 1.4t0.1 3.1t0.4 2.5t0.7 2.3t-1.7 2.8t-1.8 2.4z"/><path d="M197.6 1468.6q0.5 1 0.5 2.1t-0.8 2t-1.9 1.3t-1.5 1.5t-0.7 1.9t-1.3 1.6t-1.9 0.6t-2 0.2t-2.2 1.2t-2.5 1t-2.3 -1t-1.3 -2.4t-1.1 -2.1t-1.6 -1.5t-0.9 -1.9t0.9 -2.3t2.2 -1.7t0.8 -1.5t-0.8 -2.1t-0.3 -2.5t0.8 -2.2t1.6 -1.9t2 -1.9t2.5 -0.3t2.3 1.8t1.5 2.7t1.7 0.9t2.7 -0.6t2.4 0.6t1 1.9t0 2.5t0.4 2.1z"/><path d="M166.6 1277.6q0.4 1 -0.4 2t-1.1 1.8t-0.1 2.6t-0.7 2.7t-2.5 0.1t-2.4 -2t-2.1 -0.3t-2.8 1.2t-2.1 -1t0.7 -3t1.3 -2.3t-1.1 -1.8t-1.3 -2.4t1.1 -1.9t2.4 -0.5t1.9 -1.6t2 -2.2t2.4 0.6t0.9 3.2t0.5 2.5t1.8 0.9t1.6 1.4z"/><path d="M96 1337.6q0.8 0.8 1.9 1.8t1.6 2.1t0.3 2.2t-1 1.8t-1 1.8t-0.2 2.3t-0.6 2.4t-1.4 1.6t-2 0.9t-1.7 1.6t-1.2 2.7t-1.6 2.2t-2.3 0.9t-2.7 -0.4t-2.6 -0.6t-2.3 -0.6t-2.1 -1.7t-1.5 -2.8t-0.7 -3.4t-0.6 -2.3t-1.3 -0.5t-1.8 0.1t-1.9 -0.2t-1.8 -0.8t-2.6 -0.5t-3.6 -0.3t-3.1 -1.1t-1.3 -2.1t0.7 -2.6t1.2 -2.5t0.8 -2.2t1.3 -2t2.1 -1.5t2.5 -1t1.4 -1.2t-0.3 -2.1t-0.4 -2.6t0.4 -2.2t1.3 -1.5t1.3 -1.7t1.1 -2.6t1.7 -2.2t2.3 -0.3t2.5 1t2.3 0.3t2.2 -0.7t2.3 -0.1t2.2 0.5t1.8 1.4t1.8 1.5t2.1 0.7t1.8 1.1t0.8 2.2t-0.3 3t-0.2 2.3t0.8 1.5t0.9 1.6t0.3 1.7t-0.2 1.7t0.5 1.6z"/><path d="M125.8 1387.1q-1.1 1 -1.2 1.8t1.1 2.1t1.2 2.4t-1.1 1.8t-1.8 1.3t-1.7 1t-2.5 -0.3t-2.4 -1.4t-1.3 0.8t-1.2 3.1t-2 2.2t-2.6 1.2t-3 0.9t-2.3 -1t-0.3 -3.6t0 -3.2t-0.8 -1.8t-0.3 -2t-0.1 -1.9t-1.6 -1.7t-1.8 -2t0.6 -2.1t1.2 -1.9t0.4 -2.3t1 -2t2.4 -0.5t1.9 -1t1.5 -1.4t2.2 0.8t2 1.9t1.6 0.2t1.7 -1t1.9 -0.3t2.8 -1t3.8 -1.4t2.8 1t0.2 3.2t-0.3 3t-0.3 2.4t-1.7 2.3z"/><path d="M203.1 1316.8q1.2 1.1 1.2 2.3t-1.2 2.2t-2.4 1.7t-1.8 1.5t-1.6 1.3t-2.4 0.6t-2.4 -0.1t-1 1.2t-0.3 2.5t-1.1 1.9t-1.8 0.6t-1.8 0.8t-1.8 1.6t-2.1 0.5t-1.9 -1.2t-2.1 -0.6t-2.8 1.1t-3.1 0.5t-2.4 -1.1t-1.9 -1.8t-2.1 -1.9t-1.3 -2.4t1 -3.1t2.7 -3.1t1.7 -2.3t0.3 -1.7t0.7 -1.6t1 -1.4t-0.5 -1.9t-1.7 -2.8t-0.2 -2.7t1.6 -1.3t2.1 -0.8t1.6 -1.1t1.9 -0.6t2.2 0.5t1.9 0.3t1.6 -1.9t1.9 -2.5t2.3 -1t2.3 0.1t2.6 0.1t2.6 0.4t1.4 2.1t-0.1 3.4t0.3 2.7t1.4 1.5t1.2 1.5t0.6 1.9t1.2 1.9t2.3 1.9z"/><path d="M90.1 1312.2q-0.6 1.2 -0.4 2.3t0.1 2.4t-1.4 1.8t-3.1 0.4t-2 0.7t-0.4 2.3t-1 2.5t-1.9 1.5t-2.4 1.1t-2.5 -0.1t-1.4 -3.1t0 -3.9t-0.7 -1.7t-2.1 0t-2.2 -0.6t-2.5 -1.3t-2.6 -1.9t-0.5 -2.5t2.4 -2t2 -1.8t0.6 -2.3t1.2 -1.9t2.4 -0.3t2.2 -0.5t1.8 -0.7t2 1.2t1.5 1.7t1.9 -0.2t2.6 -1.2t2 0.6t1.3 1.8t1.9 1.6t1.5 1.8t-0.2 2.4z"/><path d="M196.4 1430.3q0 1.3 0 2.7t-1.4 2.5t-4 1.6t-3.4 1.2t-2.1 1.2t-3 0.3t-2.6 0t-0.7 1.1t-0.3 1.8t-1.1 1t-0.6 1.9t-0.3 3.4t-1.4 1.5t-1.9 0.7t-1.9 1.4t-2 0.4t-2 -1t-2.1 0t-2.4 1.1t-2.2 -0.4t-2.1 -1t-2.8 0.1t-2.7 -0.3t-1.2 -2.3t-1.4 -2t-1.6 -1.8t0.5 -3t1.4 -3t0.4 -2.2t0.3 -2t1.6 -1.9t-0.2 -1.7t-2.1 -1.8t-0.9 -2t-0.5 -2.2t-1.3 -2.7t-0.4 -2.6t2 -1.5t1.9 -1.7t1.5 -1.7t2.9 0.2t3 0.8t1.9 -0.5t1.6 -0.6t1.9 0.8t1.6 -0.8t1.5 -2.9t1.9 -1.3t2.1 0t2.4 -1t2.2 -0.1t1.3 2.5t1.4 2t1.7 1t0.7 2.2t0.6 2.1t2 0.7t2.5 0.5t1.6 1.4t2.8 1.4t3.8 1.5t1.5 2.3t0 2.7z"/><path d="M160.7 1348.5q-0.8 1.3 -0.8 2.2t0.1 2.3t-1.5 1.1t-2.3 -0.5t-2.2 1.1t-2.3 0.5t-0.9 -2.2t-1 -2.3t-0.6 -2.1t1.9 -1.5t1.9 -1.1t1.5 -1.2t2 -0.2t2.5 0.1t2 1.3t-0.2 2.6z"/><path d="M190 1365.9q-1 1.1 -2.5 1.7t-0.9 1.6t0.7 1.9t-0.6 1.5t-1.1 1.2t-0.2 2.3t-0.3 2.5t-1.6 1.2t-1.8 1.3t-1.7 2.2t-2.2 1.1t-2.3 -1.2t-2.3 -1t-2.2 -0.3t-1.4 -2t-0.9 -2.5t-1.7 -1.1t-2.2 -0.6t-1 -1.8t-1.2 -2t-1.9 -1.7t-0.5 -2.2t1.9 -2.2t1.1 -2t0.1 -2t1.4 -1.5t1.8 -1.1t0.6 -1.9t0.7 -2.3t2 -0.5t2.1 0t1.8 -1t1.9 -0.2t1.8 1.3t2 -0.2t2.6 -1.9t2.6 -0.5t2.4 0.8t3 0.7t2.5 1.3t0.1 3t-0.8 3.1t-0.3 2.4t-1.2 2.2z"/><path d="M63.9 1418.5q-1.2 1 -1.3 1.7t1 2t1.4 2.5t-0.4 2.1t-2.1 1t-2 0.8t-1.8 0.5t-2 -0.5t-1.7 -0.5t-1.6 1.8t-2.3 3.5t-3 1.7t-2.4 -1.2t-1.9 -2.1t-1.7 -1.8t-0.5 -2.6t0.9 -3t0.6 -2.3t-0.7 -1.8t-0.3 -1.8t1.3 -1.6t1.7 -1.2t0.3 -1.8t-0.3 -2.3t0.8 -1.9t1.6 -1.3t1.7 -1.8t1.9 -1.4t2.3 0.8t1.9 2.2t1.9 0.6t2.7 -1.1t2.8 0t1.8 1.7t1.1 2.3t0.9 2.2t-0.5 2.5t-2 2.3z"/><path d="M139.8 1367.4q0.8 1 1 2.1t-0.6 2.1t-1.9 1.5t-1.6 1.3t-0.6 1.9t-0.9 2t-1.7 1.1t-2.2 -0.3t-2 0.3t-1.8 1.2t-2 0.2t-2 -0.6t-2 -0.7t-2.9 0t-3.2 -0.1t-1.6 -2t0.9 -3.3t2.4 -3t1.7 -2t0.6 -1.4t0.2 -1.4t-0.1 -1.6t-1 -2.4t-1.2 -3.6t0.4 -3.2t2.3 -1.1t3.1 0.9t2.6 0.7t2 -0.2t2 0.3t1.8 0.9t1.5 1.4t1.9 0.7t2.3 0.4t1.4 1.7t0.3 2.2t0.1 2.1t1 1.9z"/><path d="M92.9 1488.5q0.2 1.3 -0.8 2.4t-1.3 2.3t-1.1 2t-2 1.3t-2.2 0.8t-1.7 0.8t-1 2t-1.4 2.2t-2.1 0.4t-2.1 -1.5t-2 -0.7t-2.3 0.8t-2.5 0.1t-1.7 -1.4t-0.4 -2.6t-0.3 -2.4t-0.5 -1.7t0.2 -1.9t0.3 -1.8t-0.8 -1.9t-2.1 -2.8t-1.1 -3.2t1.4 -2.1t3.2 -0.2t2.8 0.1t1.8 -1t1.9 -0.9t2 -0.2t2 0.3t2.1 0.1t1.9 0.8t0.9 2.2t0 2.5t0.9 1.3t3 0.4t3.4 1t1.7 2.2z"/><path d="M142 1483.9q0.8 1 0.8 2.1t-0.7 2.1t-0.7 2.1t0.3 2.2t-0.2 2.2t-1.5 1.7t-2.3 1.1t-1.2 1.7t-0.4 2.2t-1.2 1.6t-1.9 1.2t-1.7 1.5t-1 2t-1.2 2.1t-1.9 1t-2.4 -0.2t-2.1 1.2t-2 2.3t-2.3 0.2t-2.3 -1.3t-2.2 -0.8t-2.2 -0.4t-2.2 -0.3t-1.8 -1.3t-1.2 -2.4t-1.5 -1.2t-2 -0.5t-1.4 -1.5t-0.4 -2.7t-0.2 -2.4t-1 -1.3t-1 -1.4t0 -2t0.9 -2.1t-0.2 -1.5t-1.6 -1.1t-1.2 -1.3t-0.4 -1.6t-0.6 -1.7t-2.2 -1.9t-2.6 -2.3t-1.4 -2.5t-0.1 -2.3t-0.4 -2.8t-1 -3.2t0.4 -2.7t2.1 -1.9t2.8 -1t2.2 -1.5t2.2 -1.4t2.9 0.1t3.3 1.3t2.6 0.9t1.8 -0.3t1.9 -0.3t2 0t1.9 0.3t1.8 -1.1t1.9 -1.7t2.1 -0.4t2 0.5t2.1 0.1t2.4 -0.3t2.1 0.7t1.4 2t0.7 2.7t1.2 1.5t1.5 1t0.7 2.1t-0.2 2.6t0.3 1.8t1.7 1t1.7 1.3t0.8 1.7t0.2 1.9t1.4 1.7t2.1 1.8z"/><path d="M46.4 1344.8q1.7 0.6 1.3 1.8t-2.1 1.2t-1.7 1.5t-1.2 2.1t-2 -0.5t-2.2 -1t-2.1 -0.9t0.3 -2.2t0.7 -2.2t-0.4 -2.3t1.3 -1.4t2.3 -0.2t2.4 -1.1t1.9 0.7t0.1 2.8t1.4 1.9z"/><path d="M102.8 1334.6q0.8 0.9 2.5 2t3.2 2.6t1.7 2.8t-0.8 2.5t-0.6 2.6t-0.8 2.4t-3 1.1t-3 0.9t-1.9 1.7t-2.4 0.6t-2.8 -0.2t-1.7 1.4t-1.4 1.9t-2.1 0.3t-2 0.4t-1.8 1.6t-2.2 0.6t-2.2 -0.9t-2.1 -0.2t-2 -0.8t-1.4 -2.6t-1.4 -1.6t-1.7 -0.5t-1 -1.6t-0.8 -2t-1.7 -0.6t-1.8 -0.7t-0.5 -1.7t-1.5 -1t-2.4 -0.8t-0.6 -1.8t-0.3 -1.9t-1.4 -1.7t-0.9 -1.9t0.7 -2t-0.6 -2.1t-1.5 -2.3t0.4 -2.1t0.4 -2.1t-0.6 -2.7t0.6 -2.4t2.1 -1.5t1.5 -2.1t1.5 -1.8t3 0.2t2.7 0.1t1.9 -0.7t2.2 0.1t2.2 0.4t1.7 -1.3t1.6 -1.7t2 -0.3t2.2 -1.1t2.5 -2t2.5 -0.3t2.3 0.9t2.4 0.5t1.9 1.1t0.2 3.7t0 3.7t0.2 2.5t-1.3 3.3t-1.5 2.8t0.1 1.3t0.7 0.9t0.1 1.2t2.3 0.8t4 0.7t2.6 1.5z"/><path d="M181.1 1324.5q-0.4 1.3 -0.9 2.4t-0.9 2.3t-1.9 1.8t-4 0.7t-2.9 0.6t-1 1.2t-1.3 0.8t-1.1 0.9t0.2 2.9t0.2 3.8t-1.2 2.2t-1.6 2.4t-1.9 2.6t-2.5 0.5t-2.6 -1.7t-2.4 -1.3t-2.1 -1.2t-1.4 -2.9t-1.3 -1.9t-2 -0.2t-1.9 -0.7t-1.1 -1.7t-2 -1t-2.5 -0.9t-0.6 -2.1t0.2 -2.3t-0.5 -2.1t0.1 -2t1.9 -1.9t0.6 -1.8t-0.8 -1.9t0.6 -1.7t1 -1.6t0 -2.3t0.2 -2.2t1.8 -0.9t1.5 -1.2t0.9 -2.2t1.7 -1.3t2.1 -0.4t1.8 -1.7t1.8 -2.1t2.3 -0.2t2.4 -0.1t2.5 -0.6t2.2 1.1t1.3 2.9t1.2 2.4t1.2 1.7t0.1 2.6t0.3 2.1t1.9 0.6t2.2 0.6t1.3 1.5t2.6 1.4t3.3 1.6t0.7 2.4z"/><path d="M188.8 1432.6q-0.3 1 0.5 2.1t0 2t-2 0.9t-1.8 1.9t-2.1 1.5t-1.5 -2.5t-0.7 -2.6t-2.6 -0.8t-1.7 -1.7t1.9 -1.8t1.5 -1.9t0.9 -2.1t2.1 0.2t2.3 0.5t2.5 -0.2t1.2 1.8t-0.5 2.5z"/><path d="M110.3 1481.4q1 0.9 1.5 1.9t0.1 2t-1.6 1.7t-0.6 1.9t0.4 2.2t-1 1.7t-2 1t-0.9 1.8t0 2.4t-1.1 1.7t-1.7 1.3t-0.9 2.2t-0.8 2.8t-1.8 1.9t-2.3 0.9t-2.1 1.3t-2.2 1.3t-2.5 -0.6t-2.4 -1.6t-2.2 -1.1t-2 -0.9t-1.5 -2.3t-1.2 -2.6t-1.6 -1t-1.6 -0.8t-1 -1.8t-1.3 -1t-2.5 0.2t-2.5 -0.5t-1.4 -1.3t-1.8 -1.2t-2.8 -1.1t-1.8 -1.6t0.2 -2.4t-0.1 -2.4t-0.8 -2.1t0.7 -2.2t2.4 -2t1.4 -1.9t0.1 -1.9t1.2 -1.6t2.1 -1t0.6 -1.5t-0.6 -2.4t0.5 -1.7t1.3 -1.2t0.4 -2.4t0 -3t1.3 -1.8t1.9 -0.9t1.5 -1.8t1.6 -2.1t2.3 -0.6t2.5 0.1t2.3 -1t2.3 -0.8t2.3 1.3t2.1 1.2t2.3 0.3t2.2 0.5t1.5 2t1.3 2.4t1.8 1t1.5 1t0.4 2.6t0.5 2.2t1.5 1t1.1 1.3t-0.1 2t0.6 1.9t1.9 1.3t1.1 1.5t-0.4 1.9t0.4 1.9z"/><path d="M112 1415.8q-0.6 1 0.4 2.3t0.2 2.1t-2 1t-2.1 1.2t-2.1 0.7t-1.7 -1.6t-1.3 -1.8t-0.9 -1.7t0.1 -2.1t0.1 -2.5t1.2 -2t2.5 0.4t2.2 0.8t2.5 -0.5t1.6 1.2t-0.6 2.5z"/><path d="M161.9 1476.1q-0.6 1.5 -1.7 2.3t-0.5 2.4t-0.3 2.6t-2.4 0.3t-2.4 -0.9t-1.9 -0.3t-1.6 -0.7t-1 -1.6t-2.4 -1.8t-1.6 -2.4t2.5 -1.7t2.9 -0.6t1.4 -1.9t1.7 -1.1t1.6 1.9t1.9 1.1t3 0.3t1 2z"/><path d="M32.5 1396.1q-0.1 1.1 -1.1 2t-0.5 2.1t0.4 3t-1.4 2.2t-2.8 -0.9t-2.2 -1.9t-2 0.3t-2.6 0.7t-1.6 -1.5t0.3 -2.5t0.1 -2.2t-0.2 -1.9t0.9 -1.7t1.5 -1.3t1.4 -2.2t2 -1.9t2.3 1.2t1 2.9t1.2 1.5t2.4 0.5t1 1.7z"/><path d="M147.4 1340.9q0.9 0.9 1 1.8t-0.5 1.8t-0.2 1.9t0.6 2.3t-0.4 1.9t-2 1.2t-1.7 1.2t-0.7 1.9t-1 1.6t-1.9 0.7t-1.5 1.1t-0.7 2.4t-1.1 2.4t-1.8 1.3t-2 1.2t-1.9 2t-2.3 1.6t-2.5 -0.6t-2.4 -0.8t-2.4 -0.2t-2.2 -1.2t-1.5 -2.6t-1.1 -2.5t-1.4 -1.3t-1.3 -1.5t-0.4 -2.4t-0.1 -2.4t-1.1 -1.3t-1.4 -0.9t-0.4 -1.8t-0.1 -1.9t-1.5 -1.3t-2 -1.3t-0.8 -1.7t-0.2 -1.9t-1.6 -2.1t-2 -2.4t-0.3 -2.4t0.8 -2.2t0.1 -2.6t0.1 -2.8t1.9 -1.6t3.1 -0.4t2.4 -1t2 -0.9t2.8 0.5t3 1.4t2.1 0.6t1.4 -0.7t1.6 -0.4t1.6 0.4t1.6 -1.4t1.8 -3.2t2.2 -1.8t2.2 -0.2t2.7 -1t3.2 -1.4t2.5 0.7t1.3 2.2t1.4 2.3t1.6 2t0.4 2.8t-1.1 3.3t-0.4 2.4t0.8 1.6t0.3 1.9t-0.7 2t0.3 1.7t1.8 1.6z"/><path d="M138.3 1335.8q-0.3 1.4 -1.9 2.6t-2.9 2.3t-2 2.1t-2.1 1.6t-3.5 0.9t-2.6 1.1t-0.8 1.5t-1 1.4t-1.8 0.7t-0.6 1.7t0.3 2.9t-1 1.8t-1.7 0.8t-1.3 1.5t-1.4 1.8t-2.3 0t-2.3 -0.8t-1.9 0.1t-1.8 -0.3t-1.8 -1.8t-1.7 -0.9t-1.8 1t-1.8 0.4t-1.7 -0.6t-2.5 1.2t-3.1 1.9t-2.6 0.4t-2.4 -0.3t-3.1 -0.2t-2.7 -1.1t-1 -2.7t-0.7 -2.6t-1.1 -2.1t0.1 -2.7t1.9 -3.1t0.8 -2.4t-0.5 -1.8t0.8 -2t1.1 -1.9t-0.6 -1.8t-1.3 -2t0.2 -1.9t0.1 -2.1t-0.9 -2.5t-0.2 -2.2t1.7 -1.3t1.4 -1.8t0.6 -2.3t1.8 -1.4t2.7 0.1t1.8 -0.9t1.2 -2t2 -0.3t2 -0.3t1.5 -2t1.6 -1.5t2.1 0t2.1 -0.5t2.1 -1.3t2.1 0.2t1.8 2.2t1.8 1.5t1.8 0.9t1.1 2t0.5 2.7t1.1 1.3t1.5 0.6t0.9 1.2t1.4 0.8t3 -0.2t3.2 -0.1t2.3 0.9t3.1 0.9t4.1 0.8t2.5 1.9t0.6 2.7t0.9 2.6t0.7 2.7z"/><path d="M139.7 1310.9q0.6 0.6 0.6 1.3t1.5 1.7t3.2 2.4t2.2 2.7t0.7 2.6t1.2 3.4t0.6 3.5t-1.9 1.8t-2.3 1.6t-1.9 1.9t-3.1 0.1t-3.5 -1.4t-2.6 -0.2t-2.2 -0.2t-2.4 -1.7t-2 -0.5t-1.6 1.1t-1.7 0t-1.8 -0.3t-2.1 1.7t-2.3 1.2t-1.8 -1.1t-2.3 -0.3t-2.7 0.4t-1.6 -1.5t-1.3 -2.2t-1.9 -1.3t-1.4 -1.5t0.1 -2.7t-0.7 -2t-1.4 -1.6t0.5 -2.4t0.5 -2.1t-0.7 -1.9t0.2 -1.9t1.5 -1.8t0.2 -1.9t-0.5 -2t1.2 -1.4t0.7 -1.7t-0.5 -2.5t0.5 -1.9t1.5 -1.3t0.7 -2.5t0.8 -2.3t2.2 -0.6t2 -0.8t1.6 -1.4t2.2 -0.1t2.4 0.5t2 -0.8t2 -0.7t2 0.9t2.2 -0.2t2.5 -1.3t2.3 0.1t2.3 0.6t2.9 -0.4t2.5 0.5t1 2.8t1.2 2.1t1.2 1.8t-0.9 3.4t-1.5 3.4t-0.6 2.2t-1.1 2t-2.1 2.1t-0.1 1.4t1.5 1.1z"/><path d="M196.1 1390.1q-0.8 1.3 -0.6 2.5t-0.3 2.3t-1.9 1.5t-2.5 0.3t-1.7 0.9t-1.2 2.3t-2 1.6t-2 -1.2t-1 -2.7t-1.3 -1.2t-2.6 -0.2t-2.4 -1.2t-0.4 -2.3t0.4 -2.4t0.4 -2.2t1.2 -1.9t1.7 -1.4t1.8 -1.4t2 -0.8t2.1 0.9t1.5 2.1t1.2 1.2t2.6 -0.7t3.5 -0.3t2 1.7t-0.5 2.6z"/><path d="M150.1 1530.1q-0.1 1 -0.6 1.8t0 2t0.9 2.6t-0.9 2t-2.8 0.1t-2.1 0.5t-1.3 1.6t-1.9 0.8t-2.3 1t-2.9 1.5t-2.6 -0.6t-0.7 -3.3t-0.5 -2.8t-1 -1.7t0.1 -2t0.4 -1.9t-0.8 -1.8t-0.6 -2t1.2 -1.6t0.7 -2.2t0.2 -2.9t1.8 -1.4t2.6 0.4t2.3 0t2.1 -0.1t1.8 1.2t2.2 0.4t2.9 -0.3t1.8 1.5t-0.3 2.8t-0.1 2.3t0.4 1.9z"/><path d="M165.7 1531.2q-0.6 1 -1.7 1.8t-0.5 1.8t0.8 2t0.1 2.1t-0.7 1.8t-1.1 1.6t-0.5 2.4t-0.5 2.7t-1.8 1.6t-2.8 -0.4t-2.8 -1.8t-2.1 -0.6t-1.7 -0.3t-1.6 -0.9t-1.4 -1t-1.6 0.1t-2.5 2.1t-3.3 2.5t-3.2 0.7t-2.4 -1.2t-2.1 -1.6t-2 -1.8t-0.7 -2.6t1 -3.1t2.1 -2.9t0.9 -2.3t-0.9 -1.9t-0.7 -2t0.1 -2.1t1 -1.8t0.5 -2.1t0.4 -2.2t1.9 -1.2t3 0.2t2.9 1.1t1.7 -0.1t1 -1.2t1.2 -1.2t1.4 -1.2t1.6 -1.5t2.1 -2.5t2.7 -2.7t2.7 -0.5t2.1 1.6t1.8 1.8t2 1.6t1.6 1.7t0.6 2.5t-0.4 3t0.2 2.1t1.3 1.6t0.7 2t-0.6 2.1z"/><path d="M174.6 1421.5q-0.4 1.3 -1.6 2.3t-1.4 2t-0.6 1.9t-1.2 1.6t-1.8 0.9t-1.7 0.7t-1.5 1.9t-1.9 1.5t-2.1 -0.7t-1.6 -2.1t-1.9 -0.8t-2.8 0.2t-2.2 -1.1t-0.2 -2.4t0.8 -2.6t0 -2.1t-0.6 -2.1t-0.1 -2.3t0.8 -2.1t1.1 -2.4t1.7 -1.5t2.8 0.8t2.4 2.3t1.6 1t1.8 -1.6t2.6 -1.6t2.4 0.3t1.5 1.7t1.7 1.8t1.6 2t0.1 2.5z"/><path d="M178.7 1511.2q-0.1 1.1 -0.4 2.1t0.2 2.2t0.1 2.2t-1.8 1.4t-2.6 0.6t-1.3 1.4t-0.4 2.8t-1.3 2.1t-2.1 0.6t-2.3 0.9t-2.3 0.9t-2.1 -1.5t-1.2 -3.4t-1.2 -2.1t-2 0t-2.1 -0.5t-1.4 -1.3t-1.7 -1.3t-1.9 -1.5t-0.1 -2.2t2 -2.2t1.4 -1.8t-0.6 -2t-0.8 -2.4t0.3 -2.4t0.7 -2.5t0.9 -2.7t2.1 -1.2t3.1 1.3t2.7 1.8t1.9 0.4t1.8 -0.3t1.8 0t1.9 0.4t2.5 -0.2t2.3 0.4t0.8 2.2t-0.2 2.6t0.9 1.9t1.6 1.6t0.5 1.9z"/><path d="M199 1367q0.4 0.9 1.1 2t0.6 2t-0.7 1.9t-1.9 1.6t-0.9 1.7t0.2 2.3t-0.5 1.9t-1.4 1.3t-1.7 1t-0.7 1.8t-0.2 2.8t-1.1 2t-2 1.1t-2 0.8t-1.6 1.5t-1.8 1.1t-2.3 -0.3t-2.4 -1.8t-2.1 -1.5t-1.8 0.3t-1.8 0t-1.6 -1.3t-1.5 -1.5t-1.9 0.5t-2.4 2t-2.5 1.1t-2.3 -0.1t-2.5 -0.2t-3.2 0.5t-3.4 0.1t-2.4 -1.3t-1 -2.4t-0.7 -2.6t-1.1 -2.3t-0.2 -2.5t1.3 -3t2.4 -2.8t1.3 -2.2t-0.2 -1.8t0.2 -1.8t0.8 -1.7t0.6 -1.7t-1.1 -2t-1.8 -2.3t-0.7 -2.2t0.5 -2.2t0.7 -2.1t0.2 -2.5t0.9 -2t2.2 -0.7t3.2 0.3t2.6 -0.2t1.8 -0.7t2 0.2t2.2 0.9t2 0.7t1.3 -0.8t1.1 -2.5t1.4 -2t1.7 -1.2t2 -1.8t2.3 -2.4t2.7 -2.3t2.7 -1t2.3 1t2.3 1.2t2.5 0.4t2 1.7t0.9 3.1t-0.1 3.6t0.5 2.6t1.2 1.3t0.6 2.1t-0.2 2.5t-0.2 2.2t1.2 1.6t1.8 1.4t0.9 1.7t-0.2 2t0 2z"/><path d="M136.1 1428.4q-0.7 1.1 -0.4 2t0.9 2.2t0.1 2.2t-1.6 1.5t-1.4 1.6t-0.8 2.1t-1.9 0.9t-2.6 -0.5t-1.8 0.6t-1.1 2.2t-1.7 1.3t-2.1 0.4t-2.5 1.6t-2.8 1.5t-2.4 -0.8t-1.5 -2.5t-1.4 -2.4t-0.9 -2.1t0.5 -2.9t0.5 -2.4t-1.2 -1.4t-1.6 -1.4t-0.2 -1.8t-0.3 -2t-1 -2.2t0.2 -2.1t2 -1.3t1.5 -1.4t0.3 -2.1t1.1 -1.8t2 -0.8t1.6 -1.9t1.4 -2.7t2.3 -0.5t2.4 1.3t2.3 0.6t2.2 0.2t1.6 1.7t1.2 2t1.9 0.7t2.1 0.6t0.9 1.8t0.5 2.1t1.4 1.7t1 1.8t-0.7 2.1z"/></g><path d="M157.8 1242.2q1.1 2.1 1.9 1.7t1.3 0.6t1.6 1.3t2.7 0t2.4 0.5t1.8 1.4t2.6 0.3t2.8 0t2.1 1.3t2.3 1.3t3 1.1t1.2 2.4t-0.5 3.2t0.3 2.5t-0.4 2.4t-1.6 2.2t-0.7 1.9t-0.3 2.1t-1.1 2t-1.7 2t-0.9 2.4t1.4 2.5t2.3 1.5t1.7 1.1t1.9 0.9t2.8 0.1t2.9 0.9t1.2 2.7t0.4 3t1 2.8t0.2 2.7t-2.1 2.4t-2.4 2.3t-0.8 2.3t-1 1.9t-2.6 0.6t-2.9 0.3t-1.7 1.9t-0.8 2.9t-0.2 2.9t1.5 2.1t3.2 0.7t3 0.6t1.6 1.8t1.2 2.3t1.7 2.5t-0.1 2.9t-1.9 2.4t-1.5 2.1t-1.8 1.6t-2.9 0.5t-2.4 1t0 2t0.9 2.1t-0.1 2.7t0.4 2.5t2.4 1.2t2.7 1t1.1 2t1.3 1.9t2.9 1.2t1.8 1.8t0.8 2.3t2.1 1.7t0.8 2.2t-1.1 2.8t-0.1 2.5t0.2 2.4t-1.2 2.6t-1.1 2.5t0.1 2.3t-0.5 2.4t-0.9 2.4t0.7 2.2t1.5 2.1t0.9 2.2t0.2 2.3t0.7 2.2t2.1 2t2 2.1t0.4 2.2t0.1 2.3t1.2 2.2t0.7 2.4t-1.2 2.5t-1.5 2.4t-0.4 2.4t-1.6 2t-2.3 1.8t-0.4 2.3t-0.1 2.4t-1.7 2t-1.3 2.2t1.3 2.6t1.9 2.3t0.4 2.2t0.6 2.1t2.7 1.6t2.4 1.7t0.1 2.5t-0.7 2.8t0.2 2.8t-0.2 2.8t-2.1 2.2t-2.1 2t-0.7 2.5t-1 2.3t-2.7 1.5t-2.7 1.6t-0.6 2.5t0 2.7t-1.2 2.3t-1 2.3t0.7 2.7t1.1 2.7t-0.2 2.4t-0.2 2.4t1 2.6t0.4 2.5t-1.6 2t-2.1 1.9t-1.1 2.1t-1.7 1.9t-1.9 1.8t-0.3 2.3t-0.5 2.3t-2.3 1.7t-1.8 2t0.5 2.7t0 2.6t-0.9 2.5t0.7 2.7t0.6 2.7t0.3 2.8t1.1 3.2t-0.6 2.6t-2.3 1.6t-1.4 1.9t-1.1 2t-2.3 1.3t-2.5 1.2t-1.6 1.7t-1.6 1.7t-2.4 1.1t-2.2 1.3t-1 2.3t-0.9 2.4t-1.7 1.8t-1.2 2.2t0.1 3.5t-0.6 3.3t-2.4 1.3t-2.7 0.7t-2.2 2.1t-2.2 1.6t-2.4 -0.9t-2.5 -1.7t-2.4 -0.4t-2.4 -0.8t-2.4 -1.6t-2.3 -0.8t-2.3 -0.7t-2.2 -1.6t-2.3 -0.9t-2.6 0.5t-2.3 -0.3t-2 -1.2t-2.7 -0.1t-3 0.2t-2.3 -0.8t-2.4 -0.2t-2.8 1.2t-2.3 -0.4t-2.2 -1.5t-3 -0.3t-2.3 -2t-0.4 -3.8t-0.3 -2.8t-0.2 -2.5t1.1 -2.9t0.5 -2.9t-1.6 -2.4t-1.5 -2.5t-1.5 -2.3t-2.9 -0.7t-3.1 -0.2t-2.1 -1.4t-2.1 -1.4t-3.1 -0.4t-3 -0.9t-1.3 -2.5t-0.6 -2.8t-1.4 -2.1t-1.1 -2.2t0.7 -2.9t0.8 -2.7t-0.2 -2.2t1.2 -1.9t2.3 -1.7t0.7 -2.2t0.7 -2.3t1.1 -2.2t-0.6 -2.7t-1.5 -2.8t-0.9 -2.3t-0.2 -2.3t-0.4 -2.5t-1.4 -2.6t-0.6 -3t1.8 -2.5t2.5 -1.6t2 -1.6t2.5 0t2.8 0.7t2 -0.9t2.5 -1t3.1 -0.8t1.6 -2t0.8 -2.5t1.4 -2.3t0.5 -2.7t-1.7 -2.6t-2.2 -1.9t-1 -1.9t-0.9 -2.1t-2.1 -2t-1.5 -2.5t0.9 -2.8t1.6 -2.4t0.6 -2.3t0.8 -1.6t2.1 -1.2t1 -2t-1.6 -1.6t-2.2 -1.2t-2.2 -0.8t-2.4 1.1t-2.4 1.1t-2.3 -0.6t-2.3 -0.3t-2.3 1.7t-2.3 1.3t-2.5 0.4t-2.3 1.5t-2.3 1.5t-2.5 -0.2t-2.4 -0.3t-2.1 0.8t-2.5 -0.1t-2.7 -0.6t-2.1 0.5t-1.5 -0.7t-0.6 -1.8t-1 -0.9t-1.1 -1.6t-0.7 -2.4t-2.1 -1.7t-2.7 -1.2t-2 -1.5t-2.3 -0.9t-3.2 0.3t-2.8 -0.2t-1.5 -1.9t-1.2 -2.4t-1.9 -1.9t-0.9 -2.5t0.4 -3t-0.3 -2.4t-0.3 -2.3t0.8 -2.7t0.3 -2.6t-1.4 -2.1t-0.9 -2.3t-0.4 -2.5t-1.9 -1.8t-2.5 -1.5t-1.5 -2t-1.8 -1.9t-2.7 -1.7t-1.5 -2.3t-0.3 -2.7t-1.2 -2.5t-0.8 -2.6t1.1 -2.9t1.8 -2.7t1 -2.4t1.3 -2t2.5 -1.3t2 -1.6t0.6 -2.4t1.3 -1.6t2 -0.9t1.2 -2.2t1.3 -2.6t2.1 -1.4t2.1 -1.4t1.6 -2.4t1.9 -1.8t2.1 -0.9t1.3 -1.5t1.1 -1.4t2.1 -0.8t2.1 -1.2t1 -2.2t1.5 -1.7t2.7 0.4t2.4 1.1t2 -0.4t2.2 -0.2t2.3 0t2.1 -1.8t2 -2.1t2.2 -0.6t2.1 -0.6t1.3 -2.2t1.1 -2.4t2.1 -1.1t2.3 -1.1t1.8 -1.9t2.4 -1t3 -0.1t2.3 -1t2.2 -1.1t2.9 -0.1t2.7 -0.5t1.7 -1.8t2.1 -1.6t2.2 -1.7t0.4 -3t0.1 -2.9t0.5 -2.5t-0.7 -2.9t-0.7 -3.1t1.1 -2.5t1.3 -2.6t0.5 -3.1t1.9 -1.5t2.8 -0.4t1.2 -1.5t0.9 -1.8t2.7 -1.5t2.3 -2t0.1 -2.6t0.9 -2.1t2.1 -1.1t0.7 -1.4t0.6 -1.9t1.8 -1.2t1.9 -1.6t1.3 -3.2t1.4 -2.8t2.2 -0.8t2.3 -0.4t1.4 -1.8t1.5 -1.8t2.7 -0.4t2.9 -0.3t2.1 -1.3t2.6 -0.7t3 -0.1t2.2 -1t2.1 -0.7t2.2 -0.5t1.6 -1.8t1.5 -2.1t2 -1.1t1.9 -1.2t1.6 -2.2t1.8 0.7z" fill="none" stroke="#3a3a3a" stroke-width="0.8"/>
<path d="M209.6 1433.7q0.7 -5 1.8 -7.2t2.9 -4t3.6 -3.5t3.9 -3.1t4 -3t3.7 -3.3t3.7 -3.3t3.5 -3.5t2.2 -4.4t0.6 -2.4M265.3 1410.7q0.6 -5 -1.7 -6t-4.8 -0.7t-5 0.5t-5 0.6t-4.3 2.1t-3.5 3.6t-3.1 3.9t-2.8 4.1t-2.8 4.1t-3.5 3.5t-2 1.5M220.7 1425.1q1.5 4.8 3 6.8t3.1 3.9t3.3 3.7t3.1 3.9t2.7 4.2t2.5 4.3t2.3 4.4t2.4 4.4t3.2 3.8t3.5 3.6t1.7 1.8M218.1 1428.9q-4.7 1.7 -7.2 1.7t-4.8 -1t-4.5 -2.1t-3.7 -3.2t-2.1 -4.4t-0.2 -4.9t1.9 -4.5t4 -1.9t5 0.5t4.9 1t4.9 1.2t4.8 1.3t4.4 2.3t2 1.5M251.4 1510.8q-4.7 1.6 -7.1 2.4t-4.8 1.5t-4.7 1.7t-4.5 2.1t-4.3 2.6t-4.3 2.5t-2.2 1.1M209.2 1455.5q2.4 -4.4 2.6 -6.9t-0.3 -4.9t-1.5 -4.7t-2.1 -4.5t-2.8 -4.1t-4.1 -2t-3.6 2.2t0 4.5t3 3.8t1.9 1.6M267.1 1429.1q-1.6 4.7 -2.6 7t-2.2 4.5t-2.7 4.2t-3.2 3.8t-4 2.8t-4.8 1.2t-2.5 0.2M234.2 1478.1q1.4 -4.8 2.4 -7.1t2.5 -4.3t3.4 -3.6t4.2 -2.7t4.2 -2.7t3.7 -3.4t3 -4t1.9 -4.6t0.6 -2.4M238.2 1499.9q-5 -0.6 -7.4 -0.9t-4.7 -1.4t-3.9 -3t-2.5 -4.2t-0.7 -4.8t1.6 -4.5t3.4 -3.6t3.9 -3.1t4 -3t4.3 -2.5t2.3 -1M237.5 1421.5q-0.9 4.9 -1.5 7.3t-1.7 4.7t-2.4 4.3t-2.5 4.3t-2.1 4.5t-2.1 4.6t-2 4.6t-2.2 4.5t-2.7 4.2t-1.5 2M254.9 1472.5q3.3 3.8 4.7 5.8t2.6 4.2t2 4.6t0.8 4.9t-1 4.8t-3.5 2.9t-3.8 -1.5t-3.2 -3.8t-4.1 -2.8t-4.7 -1.5t-5 -0.6t-4.9 0.5t-4.8 1.4t-2.4 0.8M252.3 1520q-2.9 4.1 -4.8 5.7t-4.3 2.3t-4.7 -0.3t-4.6 -2t-4.7 -1.6t-4.9 -0.5t-4.8 1t-2.4 3.4t0.9 4.8t2.7 4.1t1.7 1.8M239.3 1464.8q2.2 -4.5 3.2 -6.8t2.3 -4.4t2.5 -4.3t2.5 -4.3t2.3 -4.4t2.4 -4.3t2.6 -4.3t1.9 -4.6t1.2 -4.8t0.7 -4.9t0.9 -4.9t0.5 -2.5M233.3 1488.7q-4.4 2.4 -6 4.3t-2.3 4.3t-0.3 4.9t1.6 4.7t3.3 3.5t4.5 2.1t4.9 0.9t5 -0.2t5 -0.4t2.5 0M261.7 1500.3q-1.7 -4.7 -2.5 -7.1t-1.5 -4.8t-1.3 -4.8t-2 -4.5t-3.1 -3.9t-3.5 -3.5t-3.9 -3.2t-2 -1.5M219.9 1403.8q3.7 3.4 5.9 4.5t4.7 1.3t4.9 -0.5t4.3 -2.3t3.5 -3.6t2.8 -4.1t2.2 -4.5t1 -2.3M281.2 1405.2q-1 -4.9 -2.5 -6.9t-4 -2.1t-4.7 1t-4.7 1.7t-4.9 0.2t-4.9 -0.9t-4.9 0.1t-4.3 2.2t-1.9 1.6M264.7 1391.8q-4.4 2.4 -6.6 3.6t-4.4 2.3t-4.5 2.1t-4.7 1.6t-4.9 1.2t-4.9 0.3t-4.6 -1.7t-2.1 -1.4M237.2 1398.4q-3.8 3.2 -5.9 4.7t-4.5 2t-4.9 0.5t-5 -0.5t-4.9 -0.8t-4.8 -1.3t-3.5 -3.1t-1.2 -2.2M238.3 1423.5q3.3 -3.7 5.4 -5.1t4.5 -1.8t5 -0.1t4.9 0.8t4.5 2t4 3t2.2 4.1t0.3 2.5M204.7 1532.4q3.4 -3.7 4.1 -6.1t1.1 -4.9t-0.1 -4.9t-1.6 -4.6t-3.2 -3.7t-4.2 -2.6t-4.7 -1.4t-5 -0.2t-4.9 0.8t-4.2 2.5t-1.8 1.7M187.7 1520.6q-2.4 -4.4 -2.6 -6.9t0.6 -4.8t2 -4.6t2.9 -4.1t3.8 -3.2t4.4 -2.3t4.8 -1.3t2.5 -0.3M206.8 1514.1q3 -4 4 -6.3t1.7 -4.7t0.6 -4.9t-0.8 -4.9t-2.1 -4.5t-3.5 -3.4t-4.2 -2.8t-3.8 -3.2t-3.4 -3.7t-1.6 -1.9M180.1 1516.5q5 -0.3 7.5 0t4.8 1.2t4.6 2t4.4 2.4t4.3 2.5t4.3 2.5t4.4 2.4t4.4 2.4t2.2 1.2" stroke="#262626" stroke-width="2.7"/><path d="M209.6 1433.7q0.7 -5 1.8 -7.2t2.9 -4t3.6 -3.5t3.9 -3.1t4 -3t3.7 -3.3t3.7 -3.3t3.5 -3.5t2.2 -4.4t0.6 -2.4M265.3 1410.7q0.6 -5 -1.7 -6t-4.8 -0.7t-5 0.5t-5 0.6t-4.3 2.1t-3.5 3.6t-3.1 3.9t-2.8 4.1t-2.8 4.1t-3.5 3.5t-2 1.5M220.7 1425.1q1.5 4.8 3 6.8t3.1 3.9t3.3 3.7t3.1 3.9t2.7 4.2t2.5 4.3t2.3 4.4t2.4 4.4t3.2 3.8t3.5 3.6t1.7 1.8M218.1 1428.9q-4.7 1.7 -7.2 1.7t-4.8 -1t-4.5 -2.1t-3.7 -3.2t-2.1 -4.4t-0.2 -4.9t1.9 -4.5t4 -1.9t5 0.5t4.9 1t4.9 1.2t4.8 1.3t4.4 2.3t2 1.5M251.4 1510.8q-4.7 1.6 -7.1 2.4t-4.8 1.5t-4.7 1.7t-4.5 2.1t-4.3 2.6t-4.3 2.5t-2.2 1.1M209.2 1455.5q2.4 -4.4 2.6 -6.9t-0.3 -4.9t-1.5 -4.7t-2.1 -4.5t-2.8 -4.1t-4.1 -2t-3.6 2.2t0 4.5t3 3.8t1.9 1.6M267.1 1429.1q-1.6 4.7 -2.6 7t-2.2 4.5t-2.7 4.2t-3.2 3.8t-4 2.8t-4.8 1.2t-2.5 0.2M234.2 1478.1q1.4 -4.8 2.4 -7.1t2.5 -4.3t3.4 -3.6t4.2 -2.7t4.2 -2.7t3.7 -3.4t3 -4t1.9 -4.6t0.6 -2.4M238.2 1499.9q-5 -0.6 -7.4 -0.9t-4.7 -1.4t-3.9 -3t-2.5 -4.2t-0.7 -4.8t1.6 -4.5t3.4 -3.6t3.9 -3.1t4 -3t4.3 -2.5t2.3 -1M237.5 1421.5q-0.9 4.9 -1.5 7.3t-1.7 4.7t-2.4 4.3t-2.5 4.3t-2.1 4.5t-2.1 4.6t-2 4.6t-2.2 4.5t-2.7 4.2t-1.5 2M254.9 1472.5q3.3 3.8 4.7 5.8t2.6 4.2t2 4.6t0.8 4.9t-1 4.8t-3.5 2.9t-3.8 -1.5t-3.2 -3.8t-4.1 -2.8t-4.7 -1.5t-5 -0.6t-4.9 0.5t-4.8 1.4t-2.4 0.8M252.3 1520q-2.9 4.1 -4.8 5.7t-4.3 2.3t-4.7 -0.3t-4.6 -2t-4.7 -1.6t-4.9 -0.5t-4.8 1t-2.4 3.4t0.9 4.8t2.7 4.1t1.7 1.8M239.3 1464.8q2.2 -4.5 3.2 -6.8t2.3 -4.4t2.5 -4.3t2.5 -4.3t2.3 -4.4t2.4 -4.3t2.6 -4.3t1.9 -4.6t1.2 -4.8t0.7 -4.9t0.9 -4.9t0.5 -2.5M233.3 1488.7q-4.4 2.4 -6 4.3t-2.3 4.3t-0.3 4.9t1.6 4.7t3.3 3.5t4.5 2.1t4.9 0.9t5 -0.2t5 -0.4t2.5 0M261.7 1500.3q-1.7 -4.7 -2.5 -7.1t-1.5 -4.8t-1.3 -4.8t-2 -4.5t-3.1 -3.9t-3.5 -3.5t-3.9 -3.2t-2 -1.5M219.9 1403.8q3.7 3.4 5.9 4.5t4.7 1.3t4.9 -0.5t4.3 -2.3t3.5 -3.6t2.8 -4.1t2.2 -4.5t1 -2.3M281.2 1405.2q-1 -4.9 -2.5 -6.9t-4 -2.1t-4.7 1t-4.7 1.7t-4.9 0.2t-4.9 -0.9t-4.9 0.1t-4.3 2.2t-1.9 1.6M264.7 1391.8q-4.4 2.4 -6.6 3.6t-4.4 2.3t-4.5 2.1t-4.7 1.6t-4.9 1.2t-4.9 0.3t-4.6 -1.7t-2.1 -1.4M237.2 1398.4q-3.8 3.2 -5.9 4.7t-4.5 2t-4.9 0.5t-5 -0.5t-4.9 -0.8t-4.8 -1.3t-3.5 -3.1t-1.2 -2.2M238.3 1423.5q3.3 -3.7 5.4 -5.1t4.5 -1.8t5 -0.1t4.9 0.8t4.5 2t4 3t2.2 4.1t0.3 2.5M204.7 1532.4q3.4 -3.7 4.1 -6.1t1.1 -4.9t-0.1 -4.9t-1.6 -4.6t-3.2 -3.7t-4.2 -2.6t-4.7 -1.4t-5 -0.2t-4.9 0.8t-4.2 2.5t-1.8 1.7M187.7 1520.6q-2.4 -4.4 -2.6 -6.9t0.6 -4.8t2 -4.6t2.9 -4.1t3.8 -3.2t4.4 -2.3t4.8 -1.3t2.5 -0.3M206.8 1514.1q3 -4 4 -6.3t1.7 -4.7t0.6 -4.9t-0.8 -4.9t-2.1 -4.5t-3.5 -3.4t-4.2 -2.8t-3.8 -3.2t-3.4 -3.7t-1.6 -1.9M180.1 1516.5q5 -0.3 7.5 0t4.8 1.2t4.6 2t4.4 2.4t4.3 2.5t4.3 2.5t4.4 2.4t4.4 2.4t2.2 1.2" stroke="#a3a3a3" stroke-width="1.1"/><path d="M218.3 1396.6q-4.9 3.4 -6.3 6.1t-2.5 5.4t-2.3 5.6t-2.2 5.6t-2.1 5.6t-1 2.8M283.5 1400.1q-1 5.9 -1.1 8.9t0.2 6t-1.9 5.1t-4.9 3.4t-5.6 1.8t-6 0.2t-5.8 -1.2t-2.8 -0.9M285.1 1416.6q-4.5 4 -7.1 5.4t-5.6 2t-5.8 -0.4t-5.5 -2.3t-5.3 -2.9t-5 -3.3t-4.8 -3.6t-4.7 -3.7t-4.8 -3.6t-5 -3.3t-5.4 -2.7t-2.8 -1.2M264.1 1390.1q-0.1 6 0.8 8.9t2.5 5.4t3.7 4.7t4.6 3.7t5.4 2.5t2.8 1M230.1 1424.5q-4 -4.5 -5.2 -7.2t-2.1 -5.6t-1.8 -5.7t-1.9 -5.7t-3.8 -3.8t-5.8 -1.1t-5.3 1.9t-2.3 2M226.8 1425.2q5.2 2.9 8.2 3.6t4.6 -1.9t0.4 -5.2t-2.3 -5.5t-2.2 -5.6t-2.3 -5.5t-2.8 -5.3t-1.6 -2.6M262.5 1420.4q-4 4.5 -6.5 6.1t-5.4 2.4t-4.7 -1.6t-1 -5.3t2 -5.6t2.8 -5.3t3.5 -4.9t1.9 -2.3M264.7 1427.6q2.2 -5.6 3.9 -8.1t3.6 -4.8t4.2 -4.3t2.2 -2M257.9 1379q-0.5 6 -0.9 9t-0.5 6t-0.7 6t-0.5 3M270.1 1477.6q-5.3 -2.9 -7.8 -4.5t-4.9 -3.5t-4.1 -4.3t-2.9 -5.2t-1.5 -5.8t-0.3 -3M269.7 1432.8q-1.1 -5.9 -2.3 -8.7t-2.7 -5.3t-3.1 -5.1t-3.5 -4.9t-3.9 -4.5t-4.7 -3.6t-5.2 -3.1t-2.5 -1.6M238.4 1444.1q4.5 4 6.4 6.3t3.7 4.7t3.2 5.1t3.1 5.1t3.1 5.1t2.8 5.3t2.6 5.4t1.2 2.7M247.3 1469.4q2.9 5.2 3.9 8.1t1.8 5.7t1.3 5.8t0.7 6t0.5 6t1.1 5.9t0.8 2.9M213.3 1397.2q3.5 4.9 5.5 7.1t4.1 4.4t4.4 4t4.8 3.6t2.5 1.7M257.7 1461.6q-4.6 -3.9 -7.1 -5.4t-5.3 -2.9t-5.3 -2.8t-5.4 -2.7t-5.6 -2t-5.7 -1.8t-5.6 -2.2t-5.5 -2.5t-5.2 -3t-4.7 -3.8t-2.2 -2M217.7 1506.3q4.8 3.5 7.3 5.2t5.2 3t5.6 2.2t2.9 0.9M263.1 1447.1q-5.9 -0.9 -8.7 -2.1t-5.1 -3.1t-4.2 -4.2t-3.4 -4.9t-2.8 -5.3t-1.9 -5.7t-0.7 -2.9M229.2 1469.4q3.3 -5 5 -7.5t3.2 -5.1t2.6 -5.4t1.8 -5.7t1.3 -5.9t1.1 -5.9t0.9 -5.9t0.4 -6t-0.1 -3M222.7 1437.1q-3 -5.2 -5 -7.4t-4.3 -4.2t-4.3 -4.2t-3.7 -4.7t-3 -5.2t-2.1 -5.6t0.5 -5.6t4.1 -3.8t2.8 -1.1M225 1399.8q3.5 4.9 4.6 7.6t2 5.6t1.3 5.8t0.7 6t0.3 6t0.1 6t0.5 6t1.9 5.6t3.5 4.8t4.5 3.9t2.4 1.7M217.4 1436.1q3 -5.2 4.5 -7.8t3.2 -5t3.3 -5t3.4 -4.9t3.8 -4.6t4.4 -4.1t4.5 -4t2.1 -2.1M196.2 1411.9q-1.3 5.9 0.9 7.9t4.4 4t4.5 3.9t4.6 3.9t5 3.3t5.3 2.8t5.3 2.9t5.3 2.8t5.5 2.5t2.8 1.1M231.8 1500.9q3.9 4.6 5.2 7.3t1.9 5.6t0.9 5.9t0.2 6t-0.1 3M221.5 1451.1q-0.3 6 0.1 9t1.5 5.8t2.6 5.4t2.9 5.2t2.6 5.4t2.1 5.6t1.6 5.8t0.7 2.9M211.9 1448.2q-5.2 -3 -7.5 -4.9t-4.1 -4.3t-3.2 -5t-1.4 -5.7t0.9 -5.9t2.4 -5.4t1.5 -2.6M216.9 1505.7q5.1 -3.2 7.5 -4.9t4.5 -3.9t3.8 -4.6t2.5 -5.3t1.3 -5.8t0.5 -5.9t-0.9 -5.9t-0.8 -2.9M251.9 1406.5q3 5.2 4.5 7.8t3.1 5.2t2.9 5.2t2.4 5.5t2.2 5.6t1.2 2.7M233.7 1445.7q-2.2 5.6 -3.6 8.2t-2.7 5.3t-2.8 5.3t-2.8 5.3t-2.6 5.4t-2.5 5.4t-1.2 2.7M250.8 1430q3.8 -4.6 5.7 -7t3.3 -5t2.6 -5.4t1.6 -5.7t0.5 -6t0.1 -3M232.3 1476.8q6 -0.7 8.8 -1.6t5.8 -1.7t5.7 -1.8t5.6 -2.1t5.5 -2.3t5.2 -2.9t2.5 -1.7M251.3 1423q-1.9 -5.7 -2.9 -8.5t-2.1 -5.6t-2.1 -5.6t-1.9 -5.7t-0.9 -2.9M229.1 1535q5.7 -1.8 8.3 -3.3t5.1 -3.2t4.2 -4.2t1 -5.3t-1.1 -5.9t-1.2 -5.9t-1.9 -5.7t-2.4 -5.5t-2 -5.6t-1.3 -5.9t-1 -5.9t-0.4 -3" stroke="#262626" stroke-width="4.5"/><path d="M218.3 1396.6q-4.9 3.4 -6.3 6.1t-2.5 5.4t-2.3 5.6t-2.2 5.6t-2.1 5.6t-1 2.8M283.5 1400.1q-1 5.9 -1.1 8.9t0.2 6t-1.9 5.1t-4.9 3.4t-5.6 1.8t-6 0.2t-5.8 -1.2t-2.8 -0.9M285.1 1416.6q-4.5 4 -7.1 5.4t-5.6 2t-5.8 -0.4t-5.5 -2.3t-5.3 -2.9t-5 -3.3t-4.8 -3.6t-4.7 -3.7t-4.8 -3.6t-5 -3.3t-5.4 -2.7t-2.8 -1.2M264.1 1390.1q-0.1 6 0.8 8.9t2.5 5.4t3.7 4.7t4.6 3.7t5.4 2.5t2.8 1M230.1 1424.5q-4 -4.5 -5.2 -7.2t-2.1 -5.6t-1.8 -5.7t-1.9 -5.7t-3.8 -3.8t-5.8 -1.1t-5.3 1.9t-2.3 2M226.8 1425.2q5.2 2.9 8.2 3.6t4.6 -1.9t0.4 -5.2t-2.3 -5.5t-2.2 -5.6t-2.3 -5.5t-2.8 -5.3t-1.6 -2.6M262.5 1420.4q-4 4.5 -6.5 6.1t-5.4 2.4t-4.7 -1.6t-1 -5.3t2 -5.6t2.8 -5.3t3.5 -4.9t1.9 -2.3M264.7 1427.6q2.2 -5.6 3.9 -8.1t3.6 -4.8t4.2 -4.3t2.2 -2M257.9 1379q-0.5 6 -0.9 9t-0.5 6t-0.7 6t-0.5 3M270.1 1477.6q-5.3 -2.9 -7.8 -4.5t-4.9 -3.5t-4.1 -4.3t-2.9 -5.2t-1.5 -5.8t-0.3 -3M269.7 1432.8q-1.1 -5.9 -2.3 -8.7t-2.7 -5.3t-3.1 -5.1t-3.5 -4.9t-3.9 -4.5t-4.7 -3.6t-5.2 -3.1t-2.5 -1.6M238.4 1444.1q4.5 4 6.4 6.3t3.7 4.7t3.2 5.1t3.1 5.1t3.1 5.1t2.8 5.3t2.6 5.4t1.2 2.7M247.3 1469.4q2.9 5.2 3.9 8.1t1.8 5.7t1.3 5.8t0.7 6t0.5 6t1.1 5.9t0.8 2.9M213.3 1397.2q3.5 4.9 5.5 7.1t4.1 4.4t4.4 4t4.8 3.6t2.5 1.7M257.7 1461.6q-4.6 -3.9 -7.1 -5.4t-5.3 -2.9t-5.3 -2.8t-5.4 -2.7t-5.6 -2t-5.7 -1.8t-5.6 -2.2t-5.5 -2.5t-5.2 -3t-4.7 -3.8t-2.2 -2M217.7 1506.3q4.8 3.5 7.3 5.2t5.2 3t5.6 2.2t2.9 0.9M263.1 1447.1q-5.9 -0.9 -8.7 -2.1t-5.1 -3.1t-4.2 -4.2t-3.4 -4.9t-2.8 -5.3t-1.9 -5.7t-0.7 -2.9M229.2 1469.4q3.3 -5 5 -7.5t3.2 -5.1t2.6 -5.4t1.8 -5.7t1.3 -5.9t1.1 -5.9t0.9 -5.9t0.4 -6t-0.1 -3M222.7 1437.1q-3 -5.2 -5 -7.4t-4.3 -4.2t-4.3 -4.2t-3.7 -4.7t-3 -5.2t-2.1 -5.6t0.5 -5.6t4.1 -3.8t2.8 -1.1M225 1399.8q3.5 4.9 4.6 7.6t2 5.6t1.3 5.8t0.7 6t0.3 6t0.1 6t0.5 6t1.9 5.6t3.5 4.8t4.5 3.9t2.4 1.7M217.4 1436.1q3 -5.2 4.5 -7.8t3.2 -5t3.3 -5t3.4 -4.9t3.8 -4.6t4.4 -4.1t4.5 -4t2.1 -2.1M196.2 1411.9q-1.3 5.9 0.9 7.9t4.4 4t4.5 3.9t4.6 3.9t5 3.3t5.3 2.8t5.3 2.9t5.3 2.8t5.5 2.5t2.8 1.1M231.8 1500.9q3.9 4.6 5.2 7.3t1.9 5.6t0.9 5.9t0.2 6t-0.1 3M221.5 1451.1q-0.3 6 0.1 9t1.5 5.8t2.6 5.4t2.9 5.2t2.6 5.4t2.1 5.6t1.6 5.8t0.7 2.9M211.9 1448.2q-5.2 -3 -7.5 -4.9t-4.1 -4.3t-3.2 -5t-1.4 -5.7t0.9 -5.9t2.4 -5.4t1.5 -2.6M216.9 1505.7q5.1 -3.2 7.5 -4.9t4.5 -3.9t3.8 -4.6t2.5 -5.3t1.3 -5.8t0.5 -5.9t-0.9 -5.9t-0.8 -2.9M251.9 1406.5q3 5.2 4.5 7.8t3.1 5.2t2.9 5.2t2.4 5.5t2.2 5.6t1.2 2.7M233.7 1445.7q-2.2 5.6 -3.6 8.2t-2.7 5.3t-2.8 5.3t-2.8 5.3t-2.6 5.4t-2.5 5.4t-1.2 2.7M250.8 1430q3.8 -4.6 5.7 -7t3.3 -5t2.6 -5.4t1.6 -5.7t0.5 -6t0.1 -3M232.3 1476.8q6 -0.7 8.8 -1.6t5.8 -1.7t5.7 -1.8t5.6 -2.1t5.5 -2.3t5.2 -2.9t2.5 -1.7M251.3 1423q-1.9 -5.7 -2.9 -8.5t-2.1 -5.6t-2.1 -5.6t-1.9 -5.7t-0.9 -2.9M229.1 1535q5.7 -1.8 8.3 -3.3t5.1 -3.2t4.2 -4.2t1 -5.3t-1.1 -5.9t-1.2 -5.9t-1.9 -5.7t-2.4 -5.5t-2 -5.6t-1.3 -5.9t-1 -5.9t-0.4 -3" stroke="#a3a3a3" stroke-width="2.5"/><path d="M185.8 1537.2q0.9 -6.4 1.4 -9.6t1.1 -6.4t1 -6.4t0.6 -6.5t-0.1 -6.5t-0.6 -6.5t-0.7 -6.5t-0.3 -6.5t0.6 -6.5t1.5 -6.3t4.1 -3.9t6.4 -1t3.2 -0.2M217.8 1542.3q-1.5 -6.3 -2.5 -9.4t-2 -6.2t-2.2 -6.1t-2.4 -6t-3 -5.8t-1.7 -2.8M198.7 1505.6q-1.9 -6.2 -3.2 -9.2t-2.8 -5.9t-3.2 -5.7t-2.3 -6t0.8 -6.1t3.3 -5.6t5.1 -2.5t6.4 0.9t6.1 2.1t3 1.3M219 1531.2q-1.8 -6.2 -4 -8.6t-4.7 -4.5t-5.1 -4t-5.4 -3.7t-5.5 -3.5t-5.7 -3.2t-5.7 -3t-2.9 -1.5M200.6 1511.9q0.6 -6.5 0.8 -9.7t0.2 -6.5t-0.4 -6.5t-1.3 -6.3t-2.1 -6.1t-2.6 -6t-1.4 -3M194.9 1539q-1.9 -6.2 -3.1 -9.2t-2.5 -6t-2.9 -5.8t-3.3 -5.6t-1.7 -2.8M214.1 1546.4q-3.4 -5.5 -5.1 -8.3t-3.3 -5.6t-2.8 -5.8t-2.4 -6t-2.3 -6.1t-2 -6.2t-1.6 -6.3t-0.7 -3.2M180.1 1503.7q2.6 6 3.8 9t2.4 6t2.6 6t2.7 5.9t2.9 5.8t1.6 2.8M218 1547q-2.1 -6.2 -3.2 -9.2t-2.5 -6t-3.1 -5.7t-3.7 -5.3t-4.1 -5t-4.3 -4.9t-4.5 -4.7t-4.8 -4.3t-5.1 -4.1t-2.6 -2M189.3 1472.3q4.3 4.9 6.2 7.5t3.4 5.5t2.7 5.9t2.3 6.1t2.2 6.1t2.4 6t2.5 6t2.5 6t2.4 6t2.1 6.1t0.9 3.1M199.8 1490.6q1 -6.4 1.1 -9.7t-0.2 -6.5t-1.2 -6.4t-0.8 -3.2M201.7 1464.7q-0.5 6.5 -0.1 9.7t1.1 6.4t1.7 6.3t2.2 6.1t2.5 6t2.8 5.9t3.1 5.7t3.3 5.6t1.7 2.8M296.7 1460q2.3 -5.5 3.3 -8.4t1.7 -5.8t1.3 -5.9t1.2 -5.9t1.2 -5.9t1.5 -5.8t3.2 -4.9t2.2 -2M311.2 1443.1q3.6 4.8 5.1 7.4t2.7 5.3t1.9 5.7t0.7 2.9M294.9 1467.3q0.9 -5.9 1.5 -8.9t1 -5.9t1 -5.9t1.2 -5.9t1.4 -5.8t1.5 -5.8t1.5 -5.8t1.2 -5.9t-1.8 -4.9t-2.3 -1.9M296.1 1441.8q3.9 4.5 5.8 6.9t3.5 4.9t3 5.2t2.7 5.4t1.3 2.7M312.1 1426.9q3.3 5 4.5 7.8t0.7 5.7t-1.1 5.9t-1.2 5.9t-1.5 5.8t-2.1 5.6t-4.2 3.2t-3 0.5M289.6 1445.5q1 -5.9 1.5 -8.9t0.9 -5.9t0.5 -6t-0.2 -6t-1.1 -5.9t-3 -5t-5 -2.6t-6 -0.3t-3 0.1M301.8 1431.2q-1.1 -5.9 -1.7 -8.8t-0.9 -5.9t-0.8 -6t-0.4 -3M268.8 1398.6q5 3.3 6.5 5.9t3.1 5.2t3.3 5t3.3 5t3.1 5.1t3 5.2t3 5.2t3.1 5.2t1.6 2.6M305.4 1468.3q4.5 -3.9 5.5 -6.8t1.9 -5.7t1.7 -5.8t1.4 -5.8t0.6 -5.9t-0.3 -6t-1.9 -5.5t-3.7 -4.7t-4.5 -3.9t-2.4 -1.8M288.2 1463.8q-0.5 -6 -1.3 -8.9t-2 -5.6t-2.4 -5.5t-1.2 -2.8" stroke="#262626" stroke-width="4.5"/><path d="M185.8 1537.2q0.9 -6.4 1.4 -9.6t1.1 -6.4t1 -6.4t0.6 -6.5t-0.1 -6.5t-0.6 -6.5t-0.7 -6.5t-0.3 -6.5t0.6 -6.5t1.5 -6.3t4.1 -3.9t6.4 -1t3.2 -0.2M217.8 1542.3q-1.5 -6.3 -2.5 -9.4t-2 -6.2t-2.2 -6.1t-2.4 -6t-3 -5.8t-1.7 -2.8M198.7 1505.6q-1.9 -6.2 -3.2 -9.2t-2.8 -5.9t-3.2 -5.7t-2.3 -6t0.8 -6.1t3.3 -5.6t5.1 -2.5t6.4 0.9t6.1 2.1t3 1.3M219 1531.2q-1.8 -6.2 -4 -8.6t-4.7 -4.5t-5.1 -4t-5.4 -3.7t-5.5 -3.5t-5.7 -3.2t-5.7 -3t-2.9 -1.5M200.6 1511.9q0.6 -6.5 0.8 -9.7t0.2 -6.5t-0.4 -6.5t-1.3 -6.3t-2.1 -6.1t-2.6 -6t-1.4 -3M194.9 1539q-1.9 -6.2 -3.1 -9.2t-2.5 -6t-2.9 -5.8t-3.3 -5.6t-1.7 -2.8M214.1 1546.4q-3.4 -5.5 -5.1 -8.3t-3.3 -5.6t-2.8 -5.8t-2.4 -6t-2.3 -6.1t-2 -6.2t-1.6 -6.3t-0.7 -3.2M180.1 1503.7q2.6 6 3.8 9t2.4 6t2.6 6t2.7 5.9t2.9 5.8t1.6 2.8M218 1547q-2.1 -6.2 -3.2 -9.2t-2.5 -6t-3.1 -5.7t-3.7 -5.3t-4.1 -5t-4.3 -4.9t-4.5 -4.7t-4.8 -4.3t-5.1 -4.1t-2.6 -2M189.3 1472.3q4.3 4.9 6.2 7.5t3.4 5.5t2.7 5.9t2.3 6.1t2.2 6.1t2.4 6t2.5 6t2.5 6t2.4 6t2.1 6.1t0.9 3.1M199.8 1490.6q1 -6.4 1.1 -9.7t-0.2 -6.5t-1.2 -6.4t-0.8 -3.2M201.7 1464.7q-0.5 6.5 -0.1 9.7t1.1 6.4t1.7 6.3t2.2 6.1t2.5 6t2.8 5.9t3.1 5.7t3.3 5.6t1.7 2.8M296.7 1460q2.3 -5.5 3.3 -8.4t1.7 -5.8t1.3 -5.9t1.2 -5.9t1.2 -5.9t1.5 -5.8t3.2 -4.9t2.2 -2M311.2 1443.1q3.6 4.8 5.1 7.4t2.7 5.3t1.9 5.7t0.7 2.9M294.9 1467.3q0.9 -5.9 1.5 -8.9t1 -5.9t1 -5.9t1.2 -5.9t1.4 -5.8t1.5 -5.8t1.5 -5.8t1.2 -5.9t-1.8 -4.9t-2.3 -1.9M296.1 1441.8q3.9 4.5 5.8 6.9t3.5 4.9t3 5.2t2.7 5.4t1.3 2.7M312.1 1426.9q3.3 5 4.5 7.8t0.7 5.7t-1.1 5.9t-1.2 5.9t-1.5 5.8t-2.1 5.6t-4.2 3.2t-3 0.5M289.6 1445.5q1 -5.9 1.5 -8.9t0.9 -5.9t0.5 -6t-0.2 -6t-1.1 -5.9t-3 -5t-5 -2.6t-6 -0.3t-3 0.1M301.8 1431.2q-1.1 -5.9 -1.7 -8.8t-0.9 -5.9t-0.8 -6t-0.4 -3M268.8 1398.6q5 3.3 6.5 5.9t3.1 5.2t3.3 5t3.3 5t3.1 5.1t3 5.2t3 5.2t3.1 5.2t1.6 2.6M305.4 1468.3q4.5 -3.9 5.5 -6.8t1.9 -5.7t1.7 -5.8t1.4 -5.8t0.6 -5.9t-0.3 -6t-1.9 -5.5t-3.7 -4.7t-4.5 -3.9t-2.4 -1.8M288.2 1463.8q-0.5 -6 -1.3 -8.9t-2 -5.6t-2.4 -5.5t-1.2 -2.8" stroke="#a3a3a3" stroke-width="2.5"/><path d="M286.2 1513.8q3 -3.2 0.8 -3.6t-3.2 2.6t1.6 4.5t4.1 0t-0.7 -1.9t-3.2 2.6t1.6 4.5t4.1 0t-0.7 -1.9t-3.2 2.6t1.6 4.5t4.1 0t-0.7 -1.9t-3.2 2.6t1.6 4.5t4.1 0t-0.7 -1.9t-3.2 2.6t1.6 4.5t4.1 0t-0.7 -1.9t-3.2 2.6t-1 2.9M317.4 1531.5q5.7 -0.8 5.9 -2.8t-1.5 -0.9t-0.6 3.8t3.9 2.3t3 -2.4t-1.5 -0.9t-0.6 3.8t3.9 2.3t3 -2.4t-1.5 -0.9t-0.6 3.8t3.9 2.3t2.9 -0.4M305.9 1565.8q-2.1 -3.9 -3.1 -1.9t1.4 3.9t4.9 0t1.4 -3.9t-2.1 0t1.4 3.9t4.9 0t1.4 -3.9t-2.1 0t-1 2M310.5 1543.7q5.5 -2.4 5 -4.5t-1.9 -0.5t0.3 4t4.5 1.2t2.3 -3.3t-1.9 -0.5t0.3 4t4.5 1.2t2.3 -3.3t-1.9 -0.5t0.3 4t4.5 1.2t2.3 -3.3t-1.9 -0.5t0.3 4t4.5 1.2t2.3 -3.3t-1.9 -0.5t0.3 4t1.8 2.4M303.6 1515.7q5.8 -0.8 6 -2.8t-1.5 -0.8t-0.5 3.9t4.1 2.3t3.1 -2.4t-1.5 -0.8t-0.5 3.9t4.1 2.3t3.1 -2.4t-1.5 -0.8t-0.5 3.9t4.1 2.3t3.1 -2.4t-1.5 -0.8t-0.5 3.9t4.1 2.3t2.9 -0.4M300.9 1541.2q6.1 0 6.5 -2.1t-1.4 -1.1t-1.1 3.9t3.8 2.9t3.5 -2t-1.4 -1.1t-1.1 3.9t3.8 2.9t3.5 -2t-1.4 -1.1t-1.1 3.9t3.8 2.9t3.5 -2t-1.4 -1.1t-1.1 3.9t3.8 2.9t3.5 -2t-1.4 -1.1t-1.1 3.9t0.7 2.9M302.2 1504.1q2.2 5.2 5 4.9t3 -2.2t-1.3 -0.8t-0.4 3.7t3.9 2.3t3 -2.2t-1.3 -0.8t-0.4 3.7t3.9 2.3t3 -2.2t-1.3 -0.8t-1.5 1.1M278 1516.5q4.2 4 5.8 3t-0.2 -1.4t-3.1 2.1t0.8 4.6t3.7 1t-0.2 -1.4t-3.1 2.1t0.8 4.6t3.7 1t-0.2 -1.4t-3.1 2.1t0.8 4.6t3.7 1t-0.2 -1.4t-3.1 2.1t0.8 4.6t2.1 2M286 1509.7q3.5 4.5 6.1 3.3t2.2 -3.2t-1.7 -0.4t0.5 3.8t4.4 1.1t2.2 -3.2t-1.7 -0.4t0.5 3.8t4.4 1.1t2.2 -3.2t-1.7 -0.4t0.5 3.8t4.4 1.1t2.2 -3.2t-1.7 -0.4t0.5 3.8t4.4 1.1t2.6 -1.2M327.2 1514.5q5.6 0.5 6.1 -1.2t-1 -0.9t-1.1 3.5t3.3 3t3.4 -1.4t-1 -0.9t-1.1 3.5t3.3 3t3.4 -1.4t-1 -0.9t-1.1 3.5t3.3 3t2.8 0.3M306.7 1557.1q6 -1.4 5.9 -3.6t-1.7 -0.8t-0.3 4.1t4.3 2t2.9 -2.9t-1.7 -0.8t-0.3 4.1t4.3 2t2.9 -2.9t-1.7 -0.8t-0.3 4.1t1.4 2.7M288.5 1554.7q5.4 -1.5 5.4 -3.4t-1.4 -0.6t0.1 3.7t4.2 1.6t2.6 -2.6t-1.4 -0.6t0.1 3.7t4.2 1.6t2.6 -2.6t-1.4 -0.6t0.1 3.7t4.2 1.6t2.6 -2.6t-0.1 -1.9M281.8 1534.2q4.9 3.8 6.6 2.4t-0.5 -1.8t-3.4 2.4t1.2 4.7t4.1 0.5t-0.5 -1.8t-3.4 2.4t1.2 4.7t4.1 0.5t-0.5 -1.8t-3.4 2.4t1.2 4.7t4.1 0.5t-0.5 -1.8t-2.1 -0.4M293.3 1530.6q4.5 -4.4 3.2 -6.3t-2.1 0.2t1.8 3.8t4.9 -0.5t1 -4.1t-2.1 0.2t1.8 3.8t4.9 -0.5t1 -4.1t-2.1 0.2t1.8 3.8t4.9 -0.5t1 -4.1t-2.1 0.2t1.8 3.8t4.9 -0.5t1 -4.1t-2.1 0.2t-0.9 2.1M277.8 1542.9q-1.1 -3.5 -2.1 -2t1 3.5t4.4 0.5t1.8 -3.2t-1.5 -0.2t1 3.5t4.4 0.5t1.8 -3.2t-1.5 -0.2t1 3.5t4.4 0.5t1.8 -3.2t-1.5 -0.2t1 3.5t2 1.9M298.5 1552.6q5.6 0.8 6.2 -1t-1.2 -1.2t-1.5 3.4t3.1 3.2t3.4 -1.4t-1.2 -1.2t-1.5 3.4t3.1 3.2t3.4 -1.4t-1.2 -1.2t-1.5 3.4t3.1 3.2t3.4 -1.4t-1.2 -1.2t-1.5 3.4t0.3 2.8M261.9 1521.1q5.5 2.5 6.8 0.8t-0.9 -1.8t-2.8 2.9t2.1 4.3t4 -0.5t-0.9 -1.8t-2.8 2.9t2.1 4.3t4 -0.5t-0.9 -1.8t-2.8 2.9t2.1 4.3t4 -0.5t-0.9 -1.8t-2.2 0M288.2 1529.8q4.6 4.4 6.4 3.2t-0.3 -1.8t-3.6 2.1t0.7 5t4.1 1t-0.3 -1.8t-3.6 2.1t0.7 5t4.1 1t-0.3 -1.8t-2.1 -0.6M335.3 1525.7q4.7 3.6 6.3 2.4t-0.4 -1.6t-3.1 2.4t1.2 4.6t3.9 0.5t-0.4 -1.6t-3.1 2.4t1.2 4.6t3.9 0.5t-0.4 -1.6t-3.1 2.4t-1.1 2.8M316.4 1508.8q3.6 4.7 5.4 3.8t0 -1.7t-3.6 1.4t0 4.7t3.6 1.5t0 -1.7t-3.6 1.4t0 4.7t1.8 2.3M267.9 1530.5q-1.7 -3.8 -2.6 -1.9t1.6 3.8t4.9 0t1.6 -3.8t-1.7 0t1.6 3.8t4.9 0t1.6 -3.8t-0.9 -1.9M324.5 1531.5q5.3 -0.6 5.5 -2.4t-1.2 -0.7t-0.4 3.5t3.7 2.2t2.9 -2.1t-1.2 -0.7t-0.4 3.5t3.7 2.2t2.9 -2.1t-1.2 -0.7t-0.4 3.5t3.7 2.2t2.9 -2.1t-1.2 -0.7t-1.4 1M295.1 1535.5q4.8 -2.3 4.4 -4t-1.4 -0.3t0.8 3.4t4.2 0.8t2 -2.9t-1.4 -0.3t0.8 3.4t4.2 0.8t2 -2.9t-1.4 -0.3t0.8 3.4t4.2 0.8t2 -2.9t-1.4 -0.3t0.8 3.4t4.2 0.8t2 -2.9t-0.4 -1.7M265.6 1530.8q1.7 -5.6 -0.1 -6.6t-1.5 1t3.2 2.2t3.8 -2.6t-0.9 -3.8t-1.5 1t3.2 2.2t3.8 -2.6t-0.9 -3.8t-1.5 1t3.2 2.2t3.8 -2.6t0.8 -2.8M265.1 1512.3q-0.1 5.7 2.6 6.6t3.7 -0.7t-0.8 -1.2t-1.9 3.2t2.6 3.7t3.7 -0.7t-0.8 -1.2t-1.9 3.2t-0.1 2.8M283 1516.8q5.6 -0.6 5.8 -2.5t-1.3 -0.8t-0.5 3.7t3.9 2.3t3 -2.2t-1.3 -0.8t-0.5 3.7t3.9 2.3t3 -2.2t-1.3 -0.8t-0.5 3.7t1 2.6M304.6 1526.7q6.2 0.3 6.8 -1.8t-1.4 -1.2t-1.3 3.9t3.8 3.2t3.7 -1.9t-1.4 -1.2t-1.3 3.9t3.8 3.2t3.7 -1.9t-1.4 -1.2t-1.3 3.9t3.8 3.2t3.7 -1.9t0.5 -2M270 1288.7q5.2 3.1 6.7 1.5t-0.7 -1.8t-3.1 2.6t1.7 4.4t4 0t-0.7 -1.8t-3.1 2.6t1.7 4.4t4 0t-0.7 -1.8t-3.1 2.6t1.7 4.4t4 0t-0.7 -1.8t-3.1 2.6t1.7 4.4t4 0t-0.7 -1.8t-3.1 2.6t1.7 4.4t2.6 1.6M277.8 1290.2q4.8 2.9 6.1 1.5t-0.6 -1.5t-2.7 2.5t1.6 4.1t3.7 0.1t-0.6 -1.5t-2.7 2.5t1.6 4.1t3.7 0.1t-0.6 -1.5t-2.7 2.5t1.6 4.1t3.7 0.1t-0.6 -1.5t-2.7 2.5t1.6 4.1t2.4 1.4M253.1 1303.3q5.1 -2.1 4.8 -4t-1.5 -0.4t0.4 3.7t4.2 1.2t2.3 -2.9t-1.5 -0.4t0.4 3.7t4.2 1.2t2.3 -2.9t-1.5 -0.4t0.4 3.7t4.2 1.2t2.6 -1.1M279.7 1320.9q5.7 2.1 6.8 0.3t-1 -1.7t-2.6 3.1t2.4 4.1t4 -0.7t-1 -1.7t-2.6 3.1t2.4 4.1t4 -0.7t-1 -1.7t-2.6 3.1t2.4 4.1t4 -0.7t-1 -1.7t-2.6 3.1t2.4 4.1t4 -0.7t-1 -1.7t-2.6 3.1t2.4 4.1t4 -0.7t1.1 -1.8M288 1317.6q5.1 2.2 6.2 0.7t-0.8 -1.4t-2.3 2.9t2.1 3.9t3.7 -0.4t-0.8 -1.4t-2.3 2.9t2.1 3.9t3.7 -0.4t-0.8 -1.4t-2.3 2.9t2.1 3.9t3.7 -0.4t-0.8 -1.4t-2.3 2.9t2.1 3.9t2.5 1.1M272.9 1323.4q4.9 2.6 6.1 1.2t-0.7 -1.4t-2.5 2.7t1.8 4t3.7 -0.1t-0.7 -1.4t-2.5 2.7t1.8 4t3.7 -0.1t-0.7 -1.4t-2.5 2.7t1.8 4t3.7 -0.1t-0.7 -1.4t-2.5 2.7t1.8 4t2.5 1.3M231.1 1515.4q2.9 4.2 4.4 3.6t0.1 -1.3t-3.1 1.2t-0.2 4t3 1.5t0.1 -1.3t-3.1 1.2t-0.2 4t3 1.5t0.1 -1.3t-3.1 1.2t-0.2 4t1.4 2.1M217.5 1454.6q4.4 3.4 5.8 2.2t-0.4 -1.4t-2.8 2.3t1.2 4.3t3.6 0.5t-0.4 -1.4t-2.8 2.3t1.2 4.3t3.6 0.5t-0.4 -1.4t-2.8 2.3t1.2 4.3t3.6 0.5t-0.4 -1.4t-1.8 -0.3" stroke="#262626" stroke-width="3.3"/><path d="M286.2 1513.8q3 -3.2 0.8 -3.6t-3.2 2.6t1.6 4.5t4.1 0t-0.7 -1.9t-3.2 2.6t1.6 4.5t4.1 0t-0.7 -1.9t-3.2 2.6t1.6 4.5t4.1 0t-0.7 -1.9t-3.2 2.6t1.6 4.5t4.1 0t-0.7 -1.9t-3.2 2.6t1.6 4.5t4.1 0t-0.7 -1.9t-3.2 2.6t-1 2.9M317.4 1531.5q5.7 -0.8 5.9 -2.8t-1.5 -0.9t-0.6 3.8t3.9 2.3t3 -2.4t-1.5 -0.9t-0.6 3.8t3.9 2.3t3 -2.4t-1.5 -0.9t-0.6 3.8t3.9 2.3t2.9 -0.4M305.9 1565.8q-2.1 -3.9 -3.1 -1.9t1.4 3.9t4.9 0t1.4 -3.9t-2.1 0t1.4 3.9t4.9 0t1.4 -3.9t-2.1 0t-1 2M310.5 1543.7q5.5 -2.4 5 -4.5t-1.9 -0.5t0.3 4t4.5 1.2t2.3 -3.3t-1.9 -0.5t0.3 4t4.5 1.2t2.3 -3.3t-1.9 -0.5t0.3 4t4.5 1.2t2.3 -3.3t-1.9 -0.5t0.3 4t4.5 1.2t2.3 -3.3t-1.9 -0.5t0.3 4t1.8 2.4M303.6 1515.7q5.8 -0.8 6 -2.8t-1.5 -0.8t-0.5 3.9t4.1 2.3t3.1 -2.4t-1.5 -0.8t-0.5 3.9t4.1 2.3t3.1 -2.4t-1.5 -0.8t-0.5 3.9t4.1 2.3t3.1 -2.4t-1.5 -0.8t-0.5 3.9t4.1 2.3t2.9 -0.4M300.9 1541.2q6.1 0 6.5 -2.1t-1.4 -1.1t-1.1 3.9t3.8 2.9t3.5 -2t-1.4 -1.1t-1.1 3.9t3.8 2.9t3.5 -2t-1.4 -1.1t-1.1 3.9t3.8 2.9t3.5 -2t-1.4 -1.1t-1.1 3.9t3.8 2.9t3.5 -2t-1.4 -1.1t-1.1 3.9t0.7 2.9M302.2 1504.1q2.2 5.2 5 4.9t3 -2.2t-1.3 -0.8t-0.4 3.7t3.9 2.3t3 -2.2t-1.3 -0.8t-0.4 3.7t3.9 2.3t3 -2.2t-1.3 -0.8t-1.5 1.1M278 1516.5q4.2 4 5.8 3t-0.2 -1.4t-3.1 2.1t0.8 4.6t3.7 1t-0.2 -1.4t-3.1 2.1t0.8 4.6t3.7 1t-0.2 -1.4t-3.1 2.1t0.8 4.6t3.7 1t-0.2 -1.4t-3.1 2.1t0.8 4.6t2.1 2M286 1509.7q3.5 4.5 6.1 3.3t2.2 -3.2t-1.7 -0.4t0.5 3.8t4.4 1.1t2.2 -3.2t-1.7 -0.4t0.5 3.8t4.4 1.1t2.2 -3.2t-1.7 -0.4t0.5 3.8t4.4 1.1t2.2 -3.2t-1.7 -0.4t0.5 3.8t4.4 1.1t2.6 -1.2M327.2 1514.5q5.6 0.5 6.1 -1.2t-1 -0.9t-1.1 3.5t3.3 3t3.4 -1.4t-1 -0.9t-1.1 3.5t3.3 3t3.4 -1.4t-1 -0.9t-1.1 3.5t3.3 3t2.8 0.3M306.7 1557.1q6 -1.4 5.9 -3.6t-1.7 -0.8t-0.3 4.1t4.3 2t2.9 -2.9t-1.7 -0.8t-0.3 4.1t4.3 2t2.9 -2.9t-1.7 -0.8t-0.3 4.1t1.4 2.7M288.5 1554.7q5.4 -1.5 5.4 -3.4t-1.4 -0.6t0.1 3.7t4.2 1.6t2.6 -2.6t-1.4 -0.6t0.1 3.7t4.2 1.6t2.6 -2.6t-1.4 -0.6t0.1 3.7t4.2 1.6t2.6 -2.6t-0.1 -1.9M281.8 1534.2q4.9 3.8 6.6 2.4t-0.5 -1.8t-3.4 2.4t1.2 4.7t4.1 0.5t-0.5 -1.8t-3.4 2.4t1.2 4.7t4.1 0.5t-0.5 -1.8t-3.4 2.4t1.2 4.7t4.1 0.5t-0.5 -1.8t-2.1 -0.4M293.3 1530.6q4.5 -4.4 3.2 -6.3t-2.1 0.2t1.8 3.8t4.9 -0.5t1 -4.1t-2.1 0.2t1.8 3.8t4.9 -0.5t1 -4.1t-2.1 0.2t1.8 3.8t4.9 -0.5t1 -4.1t-2.1 0.2t1.8 3.8t4.9 -0.5t1 -4.1t-2.1 0.2t-0.9 2.1M277.8 1542.9q-1.1 -3.5 -2.1 -2t1 3.5t4.4 0.5t1.8 -3.2t-1.5 -0.2t1 3.5t4.4 0.5t1.8 -3.2t-1.5 -0.2t1 3.5t4.4 0.5t1.8 -3.2t-1.5 -0.2t1 3.5t2 1.9M298.5 1552.6q5.6 0.8 6.2 -1t-1.2 -1.2t-1.5 3.4t3.1 3.2t3.4 -1.4t-1.2 -1.2t-1.5 3.4t3.1 3.2t3.4 -1.4t-1.2 -1.2t-1.5 3.4t3.1 3.2t3.4 -1.4t-1.2 -1.2t-1.5 3.4t0.3 2.8M261.9 1521.1q5.5 2.5 6.8 0.8t-0.9 -1.8t-2.8 2.9t2.1 4.3t4 -0.5t-0.9 -1.8t-2.8 2.9t2.1 4.3t4 -0.5t-0.9 -1.8t-2.8 2.9t2.1 4.3t4 -0.5t-0.9 -1.8t-2.2 0M288.2 1529.8q4.6 4.4 6.4 3.2t-0.3 -1.8t-3.6 2.1t0.7 5t4.1 1t-0.3 -1.8t-3.6 2.1t0.7 5t4.1 1t-0.3 -1.8t-2.1 -0.6M335.3 1525.7q4.7 3.6 6.3 2.4t-0.4 -1.6t-3.1 2.4t1.2 4.6t3.9 0.5t-0.4 -1.6t-3.1 2.4t1.2 4.6t3.9 0.5t-0.4 -1.6t-3.1 2.4t-1.1 2.8M316.4 1508.8q3.6 4.7 5.4 3.8t0 -1.7t-3.6 1.4t0 4.7t3.6 1.5t0 -1.7t-3.6 1.4t0 4.7t1.8 2.3M267.9 1530.5q-1.7 -3.8 -2.6 -1.9t1.6 3.8t4.9 0t1.6 -3.8t-1.7 0t1.6 3.8t4.9 0t1.6 -3.8t-0.9 -1.9M324.5 1531.5q5.3 -0.6 5.5 -2.4t-1.2 -0.7t-0.4 3.5t3.7 2.2t2.9 -2.1t-1.2 -0.7t-0.4 3.5t3.7 2.2t2.9 -2.1t-1.2 -0.7t-0.4 3.5t3.7 2.2t2.9 -2.1t-1.2 -0.7t-1.4 1M295.1 1535.5q4.8 -2.3 4.4 -4t-1.4 -0.3t0.8 3.4t4.2 0.8t2 -2.9t-1.4 -0.3t0.8 3.4t4.2 0.8t2 -2.9t-1.4 -0.3t0.8 3.4t4.2 0.8t2 -2.9t-1.4 -0.3t0.8 3.4t4.2 0.8t2 -2.9t-0.4 -1.7M265.6 1530.8q1.7 -5.6 -0.1 -6.6t-1.5 1t3.2 2.2t3.8 -2.6t-0.9 -3.8t-1.5 1t3.2 2.2t3.8 -2.6t-0.9 -3.8t-1.5 1t3.2 2.2t3.8 -2.6t0.8 -2.8M265.1 1512.3q-0.1 5.7 2.6 6.6t3.7 -0.7t-0.8 -1.2t-1.9 3.2t2.6 3.7t3.7 -0.7t-0.8 -1.2t-1.9 3.2t-0.1 2.8M283 1516.8q5.6 -0.6 5.8 -2.5t-1.3 -0.8t-0.5 3.7t3.9 2.3t3 -2.2t-1.3 -0.8t-0.5 3.7t3.9 2.3t3 -2.2t-1.3 -0.8t-0.5 3.7t1 2.6M304.6 1526.7q6.2 0.3 6.8 -1.8t-1.4 -1.2t-1.3 3.9t3.8 3.2t3.7 -1.9t-1.4 -1.2t-1.3 3.9t3.8 3.2t3.7 -1.9t-1.4 -1.2t-1.3 3.9t3.8 3.2t3.7 -1.9t0.5 -2M270 1288.7q5.2 3.1 6.7 1.5t-0.7 -1.8t-3.1 2.6t1.7 4.4t4 0t-0.7 -1.8t-3.1 2.6t1.7 4.4t4 0t-0.7 -1.8t-3.1 2.6t1.7 4.4t4 0t-0.7 -1.8t-3.1 2.6t1.7 4.4t4 0t-0.7 -1.8t-3.1 2.6t1.7 4.4t2.6 1.6M277.8 1290.2q4.8 2.9 6.1 1.5t-0.6 -1.5t-2.7 2.5t1.6 4.1t3.7 0.1t-0.6 -1.5t-2.7 2.5t1.6 4.1t3.7 0.1t-0.6 -1.5t-2.7 2.5t1.6 4.1t3.7 0.1t-0.6 -1.5t-2.7 2.5t1.6 4.1t2.4 1.4M253.1 1303.3q5.1 -2.1 4.8 -4t-1.5 -0.4t0.4 3.7t4.2 1.2t2.3 -2.9t-1.5 -0.4t0.4 3.7t4.2 1.2t2.3 -2.9t-1.5 -0.4t0.4 3.7t4.2 1.2t2.6 -1.1M279.7 1320.9q5.7 2.1 6.8 0.3t-1 -1.7t-2.6 3.1t2.4 4.1t4 -0.7t-1 -1.7t-2.6 3.1t2.4 4.1t4 -0.7t-1 -1.7t-2.6 3.1t2.4 4.1t4 -0.7t-1 -1.7t-2.6 3.1t2.4 4.1t4 -0.7t-1 -1.7t-2.6 3.1t2.4 4.1t4 -0.7t1.1 -1.8M288 1317.6q5.1 2.2 6.2 0.7t-0.8 -1.4t-2.3 2.9t2.1 3.9t3.7 -0.4t-0.8 -1.4t-2.3 2.9t2.1 3.9t3.7 -0.4t-0.8 -1.4t-2.3 2.9t2.1 3.9t3.7 -0.4t-0.8 -1.4t-2.3 2.9t2.1 3.9t2.5 1.1M272.9 1323.4q4.9 2.6 6.1 1.2t-0.7 -1.4t-2.5 2.7t1.8 4t3.7 -0.1t-0.7 -1.4t-2.5 2.7t1.8 4t3.7 -0.1t-0.7 -1.4t-2.5 2.7t1.8 4t3.7 -0.1t-0.7 -1.4t-2.5 2.7t1.8 4t2.5 1.3M231.1 1515.4q2.9 4.2 4.4 3.6t0.1 -1.3t-3.1 1.2t-0.2 4t3 1.5t0.1 -1.3t-3.1 1.2t-0.2 4t3 1.5t0.1 -1.3t-3.1 1.2t-0.2 4t1.4 2.1M217.5 1454.6q4.4 3.4 5.8 2.2t-0.4 -1.4t-2.8 2.3t1.2 4.3t3.6 0.5t-0.4 -1.4t-2.8 2.3t1.2 4.3t3.6 0.5t-0.4 -1.4t-2.8 2.3t1.2 4.3t3.6 0.5t-0.4 -1.4t-1.8 -0.3" stroke="#a3a3a3" stroke-width="1.6"/><path d="M288.3 1464.2q-0.7 16 -0.3 22.7t-1.7 12.7t-5.3 9.4t-2 6t1.3 2.7M299 1466.8q-4 13.4 -2.7 18.7t0.7 10.7t-2.7 7.4t0 4t2 2M285.7 1294.1q6 -2 7.7 0.3t0 5.7t2 2t4.3 -2.3t0.7 -1M277.6 1395.7q6.7 8 10.4 10.7t7.4 6.7t7 7.4t4 6.5t0.7 3.1M245.6 1403.7q10.7 -5.3 15.4 -4t7.4 6.7t0.7 10t-4.7 9.2t-2.7 4.5M186.7 1539q2 4.7 4.3 5t3.7 -1.7t-0.7 -3.7t-4.3 -0.7t-2.7 1.7t-0.3 0.7M311.1 1557.8q-4 6.7 0 8.7t10 -1t8.7 -8.7t5.3 -8.4t2.7 -2.7M336.5 1545.7q10.7 -6.7 13.4 -5.7t-1.3 3t-7.4 1.3t-3.3 -0.7M271 1434.8q-4 5.3 -8 4t-2.7 2t-1.3 9.4t0.7 10t1.3 5.3t-2 1.3M273.6 1480.2q-1.3 13.4 -4 18.7t-0.7 8.7t-0.7 6t-2.7 2.7M312.3 1543.5q-2.5 3.8 -1.5 5.8t-1.1 2.8t-4.1 1.8t-4.1 1.8t-2.1 0.8M323.4 1535.1q4.1 -1.8 5.2 -3.8t3.3 -2.5t3.9 -1.9t3.9 -1.9t2.2 -0.5M344.7 1536.5q0.6 4.5 1 2.2t0.6 -4.5t1.9 -3.7t0.1 -3.1t-3.7 -2.3t-2.1 -0.7M312.1 1553.8q4.4 1.1 6.1 2.5t3.9 2t3.9 2t1.9 -0.8t1.3 -4.2t0.7 -4.2t-0.4 -2.2M298.3 1525q3.5 -2.8 5.6 -3.5t3.7 -2.3t3.8 -1.4t4.4 0.9t3.4 2.6t1.6 4t1.5 4.2t1.2 1.9M268.4 1530.4q0.8 4.4 2.1 6.3t3.3 2.8t2 3.2t1.4 0.5t1.5 -1.7M349.6 1531.4q1.5 4.2 1.8 6.5t-2 2.5t-4.3 -0.7t-3 -3t-3 -3t-2 -1M304.1 1532.1q2.2 -3.9 3 -6t2.6 -3.4t4 -1.5t4.5 0.1t4.5 0.3t4.3 1t3.6 2.6t3.7 2.1t2.2 0.5" stroke="#262626" stroke-width="2.7"/><path d="M288.3 1464.2q-0.7 16 -0.3 22.7t-1.7 12.7t-5.3 9.4t-2 6t1.3 2.7M299 1466.8q-4 13.4 -2.7 18.7t0.7 10.7t-2.7 7.4t0 4t2 2M285.7 1294.1q6 -2 7.7 0.3t0 5.7t2 2t4.3 -2.3t0.7 -1M277.6 1395.7q6.7 8 10.4 10.7t7.4 6.7t7 7.4t4 6.5t0.7 3.1M245.6 1403.7q10.7 -5.3 15.4 -4t7.4 6.7t0.7 10t-4.7 9.2t-2.7 4.5M186.7 1539q2 4.7 4.3 5t3.7 -1.7t-0.7 -3.7t-4.3 -0.7t-2.7 1.7t-0.3 0.7M311.1 1557.8q-4 6.7 0 8.7t10 -1t8.7 -8.7t5.3 -8.4t2.7 -2.7M336.5 1545.7q10.7 -6.7 13.4 -5.7t-1.3 3t-7.4 1.3t-3.3 -0.7M271 1434.8q-4 5.3 -8 4t-2.7 2t-1.3 9.4t0.7 10t1.3 5.3t-2 1.3M273.6 1480.2q-1.3 13.4 -4 18.7t-0.7 8.7t-0.7 6t-2.7 2.7M312.3 1543.5q-2.5 3.8 -1.5 5.8t-1.1 2.8t-4.1 1.8t-4.1 1.8t-2.1 0.8M323.4 1535.1q4.1 -1.8 5.2 -3.8t3.3 -2.5t3.9 -1.9t3.9 -1.9t2.2 -0.5M344.7 1536.5q0.6 4.5 1 2.2t0.6 -4.5t1.9 -3.7t0.1 -3.1t-3.7 -2.3t-2.1 -0.7M312.1 1553.8q4.4 1.1 6.1 2.5t3.9 2t3.9 2t1.9 -0.8t1.3 -4.2t0.7 -4.2t-0.4 -2.2M298.3 1525q3.5 -2.8 5.6 -3.5t3.7 -2.3t3.8 -1.4t4.4 0.9t3.4 2.6t1.6 4t1.5 4.2t1.2 1.9M268.4 1530.4q0.8 4.4 2.1 6.3t3.3 2.8t2 3.2t1.4 0.5t1.5 -1.7M349.6 1531.4q1.5 4.2 1.8 6.5t-2 2.5t-4.3 -0.7t-3 -3t-3 -3t-2 -1M304.1 1532.1q2.2 -3.9 3 -6t2.6 -3.4t4 -1.5t4.5 0.1t4.5 0.3t4.3 1t3.6 2.6t3.7 2.1t2.2 0.5" stroke="#a3a3a3" stroke-width="1.1"/>
<path d="M211.6 1338.8q0.4 5 1.7 7.1t3 4t3.6 3.4t4.2 2.7t4.7 1.1t4.9 -0.8t3.8 -2.9t2.7 -4.2t2.9 -4.1t3.3 -3.7t1.7 -1.8M181.7 1333.9q-1.4 4.8 -1.2 7.3t2.5 3.5t4.7 1.8t4.7 1.6t4.6 1.9t4.2 2.6t3.6 3.4t2.5 4.2t0.6 4.9t-0.2 2.5M185.4 1319.4q-5 0.1 -5.5 2.5t1.2 4.3t3.8 3.2t3.6 3.4t3.3 3.8t3.7 3.3t4.5 2t4.9 0.1t2.5 -0.4M176.6 1381.3q4.9 -1.1 7.4 -1.2t5 -0.1t5 -0.2t4.7 -1.4t4.7 -1.6t2.5 -0.5M284.7 1365.2q-1.1 4.9 -2.6 6.8t-3.8 3.1t-4.3 -0.3t-3.8 -3.2t-3.2 -3.8t-2.4 -4.4t-0.6 -4.8t0.1 -5t-1.3 -4.8t-2.3 -4.5t-1.8 -4.6t-0.6 -2.4M180.1 1338.6q4.2 -2.8 5.9 -4.6t3.4 -3.7t3.7 -3.3t4.5 -1.8t4.9 0t4.5 1.9t3.5 3.5t2.3 4.4t0.8 2.4M212.3 1342q-4.8 -1.3 -7.3 -1.3t-5 0.4t-4.8 1.3t-4.8 1.4t-4.9 1.2t-4.9 1t-2.5 0.4M212 1393.8q4.3 -2.6 6.4 -4t4.4 -2.3t4.7 -1.8t4.7 -1.7t4 -2.8t2.6 -4.2t1.9 -4.6t1.9 -4.6t2.4 -4.4t1.4 -2.1M247.4 1378q-1.7 -4.7 -2.2 -7.1t-0.2 -4.9t1.6 -4.6t1.8 -4.6t-0.1 -4.9t-1.4 -4.8t-0.9 -2.3M254.9 1348.3q-0.8 -4.9 -1.6 -7.3t-2.1 -4.5t-3.1 -3.9t-4.1 -2.7t-4.8 -1.3t-4.9 0.3t-4.4 2.2t-3.8 3.2t-3.6 3.5t-3.7 3.4t-4.1 2.9t-4.1 2.9t-2 1.5M191.7 1327.5q3.9 3.2 6.2 4t4.9 0.7t4.9 -1t4.5 -2.1t3.6 -3.3t2.9 -4.1t3.2 -3.8t3.7 -3.3t4.3 -2.4t2.3 -0.9M262.5 1331.5q3.5 -3.6 5.5 -5t4.5 -1.9t4.9 0.2t4.3 2.2t3 3.8t-0.3 4.4t-3.4 3.6t-4.5 1.7t-5 0t-5 -0.5t-4.8 -1.1t-2.4 -0.8M255.8 1322.2q5 -0.2 7.4 -0.7t4.9 -1t4.9 -0.4t4.7 1.4t2.6 3.7t-1.4 4.2t-3.2 3.8t-2.8 4.2t-3.2 3.8t-1.8 1.7M238.7 1371.3q2.7 -4.2 4.2 -6.2t2.9 -4.1t2.5 -4.3t2 -4.6t0.6 -4.9t-1.1 -4.8t-1.8 -4.7t-1.4 -4.8t-0.5 -4.9t1.1 -4.7t1.1 -2.2M224 1390.9q-4.7 1.8 -7.2 1.5t-4.6 -1.5t-3.6 -3.3t-2.8 -4.1t-2.6 -4.2t-2.1 -4.5t-0.1 -4.8t1.6 -4.7t2.3 -4.4t2.8 -4.2t3.3 -3.7t4 -2.9t4.4 -2.3t2.2 -1.1M202.8 1339.9q3.6 3.5 4.4 5.8t0.7 4.8t-1.4 4.7t-3.2 3.7t-4.3 2.6t-4.7 1.7t-2.4 0.6M203 1327.3q-3.7 3.4 -4.9 5.6t-2.7 4.2t-3.5 3.6t-3.6 3.4t-4 2.7t-4.7 0t-2 -3.3t1.7 -4.6t1.4 -2.1M234.5 1393.3q-4.7 -1.7 -6.8 -3t-4.6 -2t-4.9 -0.9t-4.8 0.6t-4.1 2.6t-1.7 1.8M208.8 1362.7q-4.2 -2.7 -6.4 -3.9t-4.3 -2.6t-4.1 -2.9t-3 -3.8t0.9 -3.8t4.3 -2.6t4.5 -2.2t4.6 -2t4.7 -1.6t4.8 -1.1t4.8 0.7t4.4 2.3t2.1 1.4M274 1347.4q4.6 2 6.8 3.2t4.3 2.5t3.3 3.5t2 4.5t2.5 4.2t4.3 1.5t4.6 -1.6t3.4 -3.5t-0.3 -4t-3.9 -2.9t-2.3 -1M204.4 1384.4q0.6 -5 0.8 -7.5t0.3 -5t0.2 -5t0.9 -4.9t1.2 -4.9t0 -4.9t-2 -4.5t-3.4 -3.6t-4.3 -2.4t-4.9 -1t-4.9 0.2t-4.7 1.6t-2.2 1.1M199.5 1368.5q3.1 -4 4.9 -5.7t3.7 -3.4t3.5 -3.5t3.3 -3.8t3.5 -3.5t4.3 -2.4t4.9 -0.9t5 0.1t5 0.4t5 0.5t5 0.5t2.5 0.3M190.5 1334.4q1.5 -4.8 2.7 -6.9t2.4 -4.4t2.3 -4.4t2.4 -4.4t3.6 -3t4.8 -0.6t4.9 0.9t4.8 1.5t4.7 1.6t2.4 0.7M191.8 1331.1q3.8 -3.3 5.8 -4.7t4.2 -2.8t4.3 -2.6t4.1 -2.8t3.9 -3.1t4.4 -2.2t4.9 -0.3t2.5 0.4M285.7 1367.6q-4.9 1.1 -7 2.4t-3.7 3.3t-2.9 4.1t-1.6 4.7t0.3 4.9t2.6 4t1.9 1.6M219.2 1364.9q-1.2 4.9 -1.8 7.3t-1.7 4.7t-2.5 4.3t-3.1 3.9t-3.6 3.4t-3.7 3.4t-3.5 3.5t-4 0.8t-3.9 -2.9t-2.6 -4.2t-1 -4.8t-0.1 -2.5" stroke="#5e3802" stroke-width="3.5"/><path d="M211.6 1338.8q0.4 5 1.7 7.1t3 4t3.6 3.4t4.2 2.7t4.7 1.1t4.9 -0.8t3.8 -2.9t2.7 -4.2t2.9 -4.1t3.3 -3.7t1.7 -1.8M181.7 1333.9q-1.4 4.8 -1.2 7.3t2.5 3.5t4.7 1.8t4.7 1.6t4.6 1.9t4.2 2.6t3.6 3.4t2.5 4.2t0.6 4.9t-0.2 2.5M185.4 1319.4q-5 0.1 -5.5 2.5t1.2 4.3t3.8 3.2t3.6 3.4t3.3 3.8t3.7 3.3t4.5 2t4.9 0.1t2.5 -0.4M176.6 1381.3q4.9 -1.1 7.4 -1.2t5 -0.1t5 -0.2t4.7 -1.4t4.7 -1.6t2.5 -0.5M284.7 1365.2q-1.1 4.9 -2.6 6.8t-3.8 3.1t-4.3 -0.3t-3.8 -3.2t-3.2 -3.8t-2.4 -4.4t-0.6 -4.8t0.1 -5t-1.3 -4.8t-2.3 -4.5t-1.8 -4.6t-0.6 -2.4M180.1 1338.6q4.2 -2.8 5.9 -4.6t3.4 -3.7t3.7 -3.3t4.5 -1.8t4.9 0t4.5 1.9t3.5 3.5t2.3 4.4t0.8 2.4M212.3 1342q-4.8 -1.3 -7.3 -1.3t-5 0.4t-4.8 1.3t-4.8 1.4t-4.9 1.2t-4.9 1t-2.5 0.4M212 1393.8q4.3 -2.6 6.4 -4t4.4 -2.3t4.7 -1.8t4.7 -1.7t4 -2.8t2.6 -4.2t1.9 -4.6t1.9 -4.6t2.4 -4.4t1.4 -2.1M247.4 1378q-1.7 -4.7 -2.2 -7.1t-0.2 -4.9t1.6 -4.6t1.8 -4.6t-0.1 -4.9t-1.4 -4.8t-0.9 -2.3M254.9 1348.3q-0.8 -4.9 -1.6 -7.3t-2.1 -4.5t-3.1 -3.9t-4.1 -2.7t-4.8 -1.3t-4.9 0.3t-4.4 2.2t-3.8 3.2t-3.6 3.5t-3.7 3.4t-4.1 2.9t-4.1 2.9t-2 1.5M191.7 1327.5q3.9 3.2 6.2 4t4.9 0.7t4.9 -1t4.5 -2.1t3.6 -3.3t2.9 -4.1t3.2 -3.8t3.7 -3.3t4.3 -2.4t2.3 -0.9M262.5 1331.5q3.5 -3.6 5.5 -5t4.5 -1.9t4.9 0.2t4.3 2.2t3 3.8t-0.3 4.4t-3.4 3.6t-4.5 1.7t-5 0t-5 -0.5t-4.8 -1.1t-2.4 -0.8M255.8 1322.2q5 -0.2 7.4 -0.7t4.9 -1t4.9 -0.4t4.7 1.4t2.6 3.7t-1.4 4.2t-3.2 3.8t-2.8 4.2t-3.2 3.8t-1.8 1.7M238.7 1371.3q2.7 -4.2 4.2 -6.2t2.9 -4.1t2.5 -4.3t2 -4.6t0.6 -4.9t-1.1 -4.8t-1.8 -4.7t-1.4 -4.8t-0.5 -4.9t1.1 -4.7t1.1 -2.2M224 1390.9q-4.7 1.8 -7.2 1.5t-4.6 -1.5t-3.6 -3.3t-2.8 -4.1t-2.6 -4.2t-2.1 -4.5t-0.1 -4.8t1.6 -4.7t2.3 -4.4t2.8 -4.2t3.3 -3.7t4 -2.9t4.4 -2.3t2.2 -1.1M202.8 1339.9q3.6 3.5 4.4 5.8t0.7 4.8t-1.4 4.7t-3.2 3.7t-4.3 2.6t-4.7 1.7t-2.4 0.6M203 1327.3q-3.7 3.4 -4.9 5.6t-2.7 4.2t-3.5 3.6t-3.6 3.4t-4 2.7t-4.7 0t-2 -3.3t1.7 -4.6t1.4 -2.1M234.5 1393.3q-4.7 -1.7 -6.8 -3t-4.6 -2t-4.9 -0.9t-4.8 0.6t-4.1 2.6t-1.7 1.8M208.8 1362.7q-4.2 -2.7 -6.4 -3.9t-4.3 -2.6t-4.1 -2.9t-3 -3.8t0.9 -3.8t4.3 -2.6t4.5 -2.2t4.6 -2t4.7 -1.6t4.8 -1.1t4.8 0.7t4.4 2.3t2.1 1.4M274 1347.4q4.6 2 6.8 3.2t4.3 2.5t3.3 3.5t2 4.5t2.5 4.2t4.3 1.5t4.6 -1.6t3.4 -3.5t-0.3 -4t-3.9 -2.9t-2.3 -1M204.4 1384.4q0.6 -5 0.8 -7.5t0.3 -5t0.2 -5t0.9 -4.9t1.2 -4.9t0 -4.9t-2 -4.5t-3.4 -3.6t-4.3 -2.4t-4.9 -1t-4.9 0.2t-4.7 1.6t-2.2 1.1M199.5 1368.5q3.1 -4 4.9 -5.7t3.7 -3.4t3.5 -3.5t3.3 -3.8t3.5 -3.5t4.3 -2.4t4.9 -0.9t5 0.1t5 0.4t5 0.5t5 0.5t2.5 0.3M190.5 1334.4q1.5 -4.8 2.7 -6.9t2.4 -4.4t2.3 -4.4t2.4 -4.4t3.6 -3t4.8 -0.6t4.9 0.9t4.8 1.5t4.7 1.6t2.4 0.7M191.8 1331.1q3.8 -3.3 5.8 -4.7t4.2 -2.8t4.3 -2.6t4.1 -2.8t3.9 -3.1t4.4 -2.2t4.9 -0.3t2.5 0.4M285.7 1367.6q-4.9 1.1 -7 2.4t-3.7 3.3t-2.9 4.1t-1.6 4.7t0.3 4.9t2.6 4t1.9 1.6M219.2 1364.9q-1.2 4.9 -1.8 7.3t-1.7 4.7t-2.5 4.3t-3.1 3.9t-3.6 3.4t-3.7 3.4t-3.5 3.5t-4 0.8t-3.9 -2.9t-2.6 -4.2t-1 -4.8t-0.1 -2.5" stroke="#fba630" stroke-width="1.8"/><path d="M203.3 1393.2q-4.9 3.5 -7.7 2.5t-5.6 -2.1t-5.4 -2.5t-4 -4.1t-0.4 -5.5t2.8 -5.2t4.4 -4t2.5 -1.7M237.1 1344.7q-5.6 -2.1 -8.6 -2.4t-6 -0.1t-6 0.4t-5.8 1.2t-5.3 2.7t-4.5 3.9t-3.4 4.9t-1.5 5.7t-0.2 3M229.8 1325.4q-5.9 -1.3 -8.9 -1t-6 0.6t-6 0.8t-5.6 1.8t-4.8 3.5t-3.6 4.7t-2.2 5.5t-0.7 2.9M198.2 1342.6q-2.7 -5.4 -4 -8.1t-2.6 -5.4t-2.8 -5.3t-1.5 -2.6M230 1317.3q3.8 4.7 4.9 7.4t1.4 5.7t-2.3 4.6t-4.7 3.7t-4.3 4.2t-4.2 4.3t-3.9 4.5t-3.8 4.7t-1.9 2.3M191.1 1345.9q5.7 -1.9 8.3 -3.3t5 -3.2t2.4 -1.8M208.4 1330.5q0.1 6 0.2 9t0.7 5.9t1.6 5.8t2.9 5.1t4.5 3.9t5.4 2.5t5.7 1.7t5.9 1.2t3 0.4M180.6 1380q4.4 -4.1 6.8 -5.9t4.9 -3.5t4.8 -3.5t4.4 -4.1t4.1 -4.4t4.2 -4.3t4.6 -3.7t2.5 -1.6M239 1387.8q-5.2 -3 -7.9 -4.4t-5.5 -2.5t-5.7 -1.9t-5.9 -1.3t-5.9 -0.1t-5.9 1.2t-5.8 1.7t-2.9 0.9M234.9 1318.9q-1.8 5.7 -2.7 8.6t-2 5.7t-2.2 5.6t-2.4 5.5t-1.3 2.7M238.9 1373.6q-1.2 -5.9 -1.2 -8.9t0.5 -5.9t1.2 -5.9t1.3 -5.9t0.7 -2.9M226.6 1391.9q5.5 -2.5 8.3 -3.5t5.7 -1.9t3.4 -3.9t0.1 -5.9t-1.9 -5.6t-1.4 -2.6M232.7 1342.7q4.6 3.9 6.4 6.2t2.8 5.2t0.9 5.9t-1.1 5.8t-3.4 4.6t-4.9 3.5t-5 3.3t-2.5 1.7M240.8 1347.6q-3.7 4.7 -5.6 7.1t-3.7 4.7t-3.6 4.8t-3.7 4.8t-3.4 5t-2.4 5.4t-0.9 2.9M211.6 1314.5q6 0.2 9 0.3t6 0.3t5.8 1.2t2.8 1M188.1 1393.1q0.1 -6 2.6 -7.6t5 -3.3t5.1 -3.1t5.5 -2.5t5.7 -1.9t2.9 -0.9M180.5 1377.8q5.8 -1.4 8.5 -2.9t4.8 -3.5t3.9 -4.5t2.8 -5.3t1.3 -5.8t0.3 -3M242.6 1379q0.3 6 -2.2 7.7t-5.3 2.7t-5.7 2t-5.7 1.9t-2.9 0.9" stroke="#5e3802" stroke-width="5.0"/><path d="M203.3 1393.2q-4.9 3.5 -7.7 2.5t-5.6 -2.1t-5.4 -2.5t-4 -4.1t-0.4 -5.5t2.8 -5.2t4.4 -4t2.5 -1.7M237.1 1344.7q-5.6 -2.1 -8.6 -2.4t-6 -0.1t-6 0.4t-5.8 1.2t-5.3 2.7t-4.5 3.9t-3.4 4.9t-1.5 5.7t-0.2 3M229.8 1325.4q-5.9 -1.3 -8.9 -1t-6 0.6t-6 0.8t-5.6 1.8t-4.8 3.5t-3.6 4.7t-2.2 5.5t-0.7 2.9M198.2 1342.6q-2.7 -5.4 -4 -8.1t-2.6 -5.4t-2.8 -5.3t-1.5 -2.6M230 1317.3q3.8 4.7 4.9 7.4t1.4 5.7t-2.3 4.6t-4.7 3.7t-4.3 4.2t-4.2 4.3t-3.9 4.5t-3.8 4.7t-1.9 2.3M191.1 1345.9q5.7 -1.9 8.3 -3.3t5 -3.2t2.4 -1.8M208.4 1330.5q0.1 6 0.2 9t0.7 5.9t1.6 5.8t2.9 5.1t4.5 3.9t5.4 2.5t5.7 1.7t5.9 1.2t3 0.4M180.6 1380q4.4 -4.1 6.8 -5.9t4.9 -3.5t4.8 -3.5t4.4 -4.1t4.1 -4.4t4.2 -4.3t4.6 -3.7t2.5 -1.6M239 1387.8q-5.2 -3 -7.9 -4.4t-5.5 -2.5t-5.7 -1.9t-5.9 -1.3t-5.9 -0.1t-5.9 1.2t-5.8 1.7t-2.9 0.9M234.9 1318.9q-1.8 5.7 -2.7 8.6t-2 5.7t-2.2 5.6t-2.4 5.5t-1.3 2.7M238.9 1373.6q-1.2 -5.9 -1.2 -8.9t0.5 -5.9t1.2 -5.9t1.3 -5.9t0.7 -2.9M226.6 1391.9q5.5 -2.5 8.3 -3.5t5.7 -1.9t3.4 -3.9t0.1 -5.9t-1.9 -5.6t-1.4 -2.6M232.7 1342.7q4.6 3.9 6.4 6.2t2.8 5.2t0.9 5.9t-1.1 5.8t-3.4 4.6t-4.9 3.5t-5 3.3t-2.5 1.7M240.8 1347.6q-3.7 4.7 -5.6 7.1t-3.7 4.7t-3.6 4.8t-3.7 4.8t-3.4 5t-2.4 5.4t-0.9 2.9M211.6 1314.5q6 0.2 9 0.3t6 0.3t5.8 1.2t2.8 1M188.1 1393.1q0.1 -6 2.6 -7.6t5 -3.3t5.1 -3.1t5.5 -2.5t5.7 -1.9t2.9 -0.9M180.5 1377.8q5.8 -1.4 8.5 -2.9t4.8 -3.5t3.9 -4.5t2.8 -5.3t1.3 -5.8t0.3 -3M242.6 1379q0.3 6 -2.2 7.7t-5.3 2.7t-5.7 2t-5.7 1.9t-2.9 0.9" stroke="#fba630" stroke-width="3.0"/><path d="M253.2 1356.9q3.3 4.5 4.9 3.8t0 -1.4t-3.3 1.5t0 4.5t3.3 1.6t0 -1.4t-3.3 1.5t-1.7 2.2M271.2 1346q6.2 -1.1 6.3 -3.2t-1.5 -0.8t-0.3 4.1t4.4 2.3t3.2 -2.6t-1.5 -0.8t-0.3 4.1t1.3 2.8M274.4 1332.4q4.8 2.7 6.1 1.3t-0.6 -1.4t-2.5 2.7t1.8 4t3.7 0t-0.6 -1.4t-2.5 2.7t1.8 4t3.7 0t1.2 -1.4M261.7 1359q5.6 -0.9 5.7 -2.8t-1.4 -0.8t-0.4 3.7t3.9 2.1t2.9 -2.3t-1.4 -0.8t-0.4 3.7t3.9 2.1t2.9 -2.3t0.1 -1.9M245.6 1316.8q5.5 -1.3 5.5 -3.3t-1.5 -0.7t-0.2 3.8t4.1 1.9t2.7 -2.6t-1.5 -0.7t-0.2 3.8t4.1 1.9t2.7 -2.6t-1.5 -0.7t-0.2 3.8t4.1 1.9t2.7 -2.6t0 -1.9M242.5 1327.3q4.8 3.5 6.3 2.2t-0.5 -1.5t-3 2.5t1.4 4.5t3.9 0.5t-0.5 -1.5t-3 2.5t1.4 4.5t2.4 1.7M263.7 1333.2q3.8 4 5.3 3.2t-0.2 -1.2t-3 2.1t0.6 4.4t3.4 1.2t-0.2 -1.2t-3 2.1t0.6 4.4t1.9 2M240.3 1315.4q-0.3 -4.2 -1.8 -2.7t0.2 4.2t4.7 1.7t2.8 -3.1t-1.7 -0.6t0.2 4.2t4.7 1.7t2.8 -3.1t-1.7 -0.6t-1.5 1.5M237.7 1320.3q3.7 4 5.3 3.1t-0.1 -1.6t-3.2 1.7t0.4 4.3t3.5 1.1t-0.1 -1.6t-1.7 -0.6M245.3 1339.9q5.8 -0.2 6.1 -2.1t-1.2 -0.8t-0.6 3.7t3.8 2.6t3.3 -2t-1.2 -0.8t-0.6 3.7t3.8 2.6t3.3 -2t-1.2 -0.8t-0.6 3.7t3.8 2.6t3.3 -2t0.4 -1.8M247.6 1311.8q4.8 2.8 6.1 1.4t-0.6 -1.5t-2.6 2.6t1.7 4.1t3.7 0t-0.6 -1.5t-1.9 -0.1M282.1 1358.3q-2.1 5.5 -0.5 6.6t1.4 -0.8t-3.2 -2.2t-4 2.4t0.6 3.8t1.4 -0.8t-3.2 -2.2t-4 2.4t0.6 3.8t1.4 -0.8t-3.2 -2.2t-2.9 -0.3M240.4 1325.7q5.4 0.9 8.2 0.5t5.3 -1.4t5.1 -2.2t5 -2.4t2.5 -1.2M266 1303.3q-5 2.3 -7.6 3.2t-5.2 1.8t-2.6 0.8M266.2 1341q3 -4.6 4.2 -7.1t1.9 -5.1t0.7 -5.4t-0.3 -5.5t-1 -5.4t-2.5 -4.7t-4.4 -3.1t-2.5 -1M279.2 1329.4q-5.2 -1.6 -7.8 -2.8t-5.1 -1.9t-5.2 -1.7t-5.1 -2.1t-5.2 -1.8t-5.4 -0.8t-2.7 -0.3M246.9 1353.1q0.5 -5.5 0.5 -8.2t0.4 -5.5t1.1 -5.4t2.2 -5t1.4 -2.4M239.5 1330.8q5.4 0.9 7.9 2t4.8 2.6t4.4 3.3t3.9 3.9t2.9 4.6t1.5 5.2t0.4 5.5t0 2.7M267.1 1371.8q5.1 -2 7.2 -3.8t3.9 -3.9t3.8 -4t4.2 -3.6t2 -4.5t-1.4 -5.2t-3.3 -4.3t-4.2 -3.5t-2.2 -1.6M264.7 1329.5q5.4 -1.2 8.1 -0.6t5.3 1.5t4.8 2.6t3.5 4.1t-0.1 4.8t-2.3 5t-1.6 5.2t-1.1 5.4t-0.5 2.7M268.6 1309.8q-4.3 4.9 -6.3 7.5t-4.1 5.2t-2.1 2.6M265.7 1307.1q-5.8 2.4 -8.2 4.1t-3.5 5t-1.1 3.3M257.6 1303.2q-3.2 5 -4.8 7.6t-3.5 4.8t-1.9 2.2M279.4 1338.3q2.6 3.1 4.1 4.4t2.9 2.8t1.4 1.4M274.6 1339.6q2.6 3.1 3.5 4.9t1.7 3.7t1.8 3.6t1.1 1.7M270.9 1357.9q-0.2 6.2 -0.7 9.2t-0.8 6.1t-0.3 3.1" stroke="#5e3802" stroke-width="3.5"/><path d="M253.2 1356.9q3.3 4.5 4.9 3.8t0 -1.4t-3.3 1.5t0 4.5t3.3 1.6t0 -1.4t-3.3 1.5t-1.7 2.2M271.2 1346q6.2 -1.1 6.3 -3.2t-1.5 -0.8t-0.3 4.1t4.4 2.3t3.2 -2.6t-1.5 -0.8t-0.3 4.1t1.3 2.8M274.4 1332.4q4.8 2.7 6.1 1.3t-0.6 -1.4t-2.5 2.7t1.8 4t3.7 0t-0.6 -1.4t-2.5 2.7t1.8 4t3.7 0t1.2 -1.4M261.7 1359q5.6 -0.9 5.7 -2.8t-1.4 -0.8t-0.4 3.7t3.9 2.1t2.9 -2.3t-1.4 -0.8t-0.4 3.7t3.9 2.1t2.9 -2.3t0.1 -1.9M245.6 1316.8q5.5 -1.3 5.5 -3.3t-1.5 -0.7t-0.2 3.8t4.1 1.9t2.7 -2.6t-1.5 -0.7t-0.2 3.8t4.1 1.9t2.7 -2.6t-1.5 -0.7t-0.2 3.8t4.1 1.9t2.7 -2.6t0 -1.9M242.5 1327.3q4.8 3.5 6.3 2.2t-0.5 -1.5t-3 2.5t1.4 4.5t3.9 0.5t-0.5 -1.5t-3 2.5t1.4 4.5t2.4 1.7M263.7 1333.2q3.8 4 5.3 3.2t-0.2 -1.2t-3 2.1t0.6 4.4t3.4 1.2t-0.2 -1.2t-3 2.1t0.6 4.4t1.9 2M240.3 1315.4q-0.3 -4.2 -1.8 -2.7t0.2 4.2t4.7 1.7t2.8 -3.1t-1.7 -0.6t0.2 4.2t4.7 1.7t2.8 -3.1t-1.7 -0.6t-1.5 1.5M237.7 1320.3q3.7 4 5.3 3.1t-0.1 -1.6t-3.2 1.7t0.4 4.3t3.5 1.1t-0.1 -1.6t-1.7 -0.6M245.3 1339.9q5.8 -0.2 6.1 -2.1t-1.2 -0.8t-0.6 3.7t3.8 2.6t3.3 -2t-1.2 -0.8t-0.6 3.7t3.8 2.6t3.3 -2t-1.2 -0.8t-0.6 3.7t3.8 2.6t3.3 -2t0.4 -1.8M247.6 1311.8q4.8 2.8 6.1 1.4t-0.6 -1.5t-2.6 2.6t1.7 4.1t3.7 0t-0.6 -1.5t-1.9 -0.1M282.1 1358.3q-2.1 5.5 -0.5 6.6t1.4 -0.8t-3.2 -2.2t-4 2.4t0.6 3.8t1.4 -0.8t-3.2 -2.2t-4 2.4t0.6 3.8t1.4 -0.8t-3.2 -2.2t-2.9 -0.3M240.4 1325.7q5.4 0.9 8.2 0.5t5.3 -1.4t5.1 -2.2t5 -2.4t2.5 -1.2M266 1303.3q-5 2.3 -7.6 3.2t-5.2 1.8t-2.6 0.8M266.2 1341q3 -4.6 4.2 -7.1t1.9 -5.1t0.7 -5.4t-0.3 -5.5t-1 -5.4t-2.5 -4.7t-4.4 -3.1t-2.5 -1M279.2 1329.4q-5.2 -1.6 -7.8 -2.8t-5.1 -1.9t-5.2 -1.7t-5.1 -2.1t-5.2 -1.8t-5.4 -0.8t-2.7 -0.3M246.9 1353.1q0.5 -5.5 0.5 -8.2t0.4 -5.5t1.1 -5.4t2.2 -5t1.4 -2.4M239.5 1330.8q5.4 0.9 7.9 2t4.8 2.6t4.4 3.3t3.9 3.9t2.9 4.6t1.5 5.2t0.4 5.5t0 2.7M267.1 1371.8q5.1 -2 7.2 -3.8t3.9 -3.9t3.8 -4t4.2 -3.6t2 -4.5t-1.4 -5.2t-3.3 -4.3t-4.2 -3.5t-2.2 -1.6M264.7 1329.5q5.4 -1.2 8.1 -0.6t5.3 1.5t4.8 2.6t3.5 4.1t-0.1 4.8t-2.3 5t-1.6 5.2t-1.1 5.4t-0.5 2.7M268.6 1309.8q-4.3 4.9 -6.3 7.5t-4.1 5.2t-2.1 2.6M265.7 1307.1q-5.8 2.4 -8.2 4.1t-3.5 5t-1.1 3.3M257.6 1303.2q-3.2 5 -4.8 7.6t-3.5 4.8t-1.9 2.2M279.4 1338.3q2.6 3.1 4.1 4.4t2.9 2.8t1.4 1.4M274.6 1339.6q2.6 3.1 3.5 4.9t1.7 3.7t1.8 3.6t1.1 1.7M270.9 1357.9q-0.2 6.2 -0.7 9.2t-0.8 6.1t-0.3 3.1" stroke="#fba630" stroke-width="1.8"/><path d="M288.3 1348.9q10.7 1.3 16.7 6.7t1.3 8t-11.4 4t-8.7 -0.3t-2 -1.7M280.3 1375.6q-2.7 9.4 -4.3 15t-4 1.3t-4.3 -9t-2 -4.7M181.4 1323.5q7.4 -8 8 -2.7t-4.3 8.7t-7.7 10t0.7 2t3.3 -4.7M217.5 1310.1q5.3 -2.7 8.7 -1.3t0.7 7.4t-4.7 2t-4 -5.3t-4.7 0t-2.7 1.3M178.7 1387.6q-2.7 -6.7 1.3 -11.4t9.4 -7.4t8 0t-0.7 7.4t-6.7 8t-6.7 4t-3.3 0.7" stroke="#5e3802" stroke-width="3.0"/><path d="M288.3 1348.9q10.7 1.3 16.7 6.7t1.3 8t-11.4 4t-8.7 -0.3t-2 -1.7M280.3 1375.6q-2.7 9.4 -4.3 15t-4 1.3t-4.3 -9t-2 -4.7M181.4 1323.5q7.4 -8 8 -2.7t-4.3 8.7t-7.7 10t0.7 2t3.3 -4.7M217.5 1310.1q5.3 -2.7 8.7 -1.3t0.7 7.4t-4.7 2t-4 -5.3t-4.7 0t-2.7 1.3M178.7 1387.6q-2.7 -6.7 1.3 -11.4t9.4 -7.4t8 0t-0.7 7.4t-6.7 8t-6.7 4t-3.3 0.7" stroke="#fba630" stroke-width="1.7"/>
<path d="M558.1 1415.4q2.5 -4.3 2.8 -6.8t-0.4 -4.9t-3.2 -2.5t-5 0.2t-4.6 1.6t-3.5 3.3t-1.9 4.5t-0.6 4.9t-0.9 4.9t-2.4 4.3t-1.6 1.9M532.6 1436.2q2 -4.6 4.3 -5.5t4.7 -1.7t4.9 -0.8t4.8 1t3.9 2.9t2.5 4.2t0.9 2.3M553.2 1351.1q-1.7 -4.7 -3.5 -6.4t-4 -3t-4.7 -1.4t-4.8 0.8t-4.2 2.6t-4 3t-4.6 1.8t-4.9 0t-4.5 -1.9t-4 -3t-2 -1.5M558.8 1406.6q-4.2 -2.7 -6.2 -4.2t-4 -2.9t-3.9 -3.1t-3.6 -3.5t-3.2 -3.8t-3.6 -3.4t-4.2 -2.7t-4.4 -2.3t-4.2 -2.6t-3.8 -3.3t-3.6 -3.5t-3.4 -3.6t-1.6 -1.9M548.3 1354.2q4.4 -2.4 6.1 -4.2t2.5 -4.2t0.5 -4.9t-1.7 -4.6t-3.9 -1.9t-4.9 1t-4.2 2.5t-3.2 3.8t-2.7 4.2t-1.3 2.1M547.3 1330.2q-5 0 -7.5 -0.1t-4.9 0.5t-4.7 1.7t-4.5 2.2t-4.6 2t-4.7 1.8t-4.8 1.5t-2.4 0.6M517.3 1329.1q-1.9 4.6 -3.4 6.7t-3.1 3.9t-2.2 4.3t-0.4 4.9t1.3 4.7t3.1 3.8t1.9 1.6M503.2 1349q4.9 -0.8 7.4 -1.3t4.4 -2.1t3.3 -3.6t2.3 -4.4t1.2 -4.8t0.9 -4.9t0.6 -2.4M551.9 1351.3q-4.2 -2.8 -6.6 -3.1t-5 -0.3t-5 0.1t-5 0.2t-4.8 1t-4.1 2.6t-3.2 3.8t-2.7 4.2t-1.7 4.6t0.1 4.9t1.5 4.8t2.1 4.5t3.2 3.7t4.5 1.9t2.5 0.4M526.4 1370.2q3.8 3.3 5.9 4.5t4.5 2.1t4.8 1.3t4.9 0.3t4.9 -0.9t4.8 -1.5t4.5 -2.1t4.2 -2.7t4.6 -1t2.5 0.4M528.3 1471.4q0.6 5 1.1 7.4t1.7 4.7t2.5 4.3t2.7 4.2t2.2 4.4t1.4 4.8t1.2 4.8t1 4.9t0.2 2.5M524.4 1453.4q1.1 4.9 1.2 7.4t0.2 5t0.1 5t-0.6 4.9t-1.7 4.7t-1.9 4.6t-1.5 4.8t-1 4.9t-1.3 4.8t-1.8 4.6t-2.2 4.5t-1.4 2.1M490.4 1433.6q1.6 4.7 2.8 6.9t3.2 3.7t4.4 2.2t4.9 1.1t5 0.5t5 -0.3t5 -0.2t5 0.4t4.8 1.3t4.2 2.6t3.2 3.7t2 4.5t0.7 4.9t0 2.5M568.5 1506.2q0.7 5 1.4 7.4t1 4.9t0.4 5t-1.3 4.6t-2.4 4.4t-1.9 4.6t-0.8 4.8t0.1 2.5M568.5 1518.3q0.6 -5 -0.1 -7.4t-1.6 -4.7t-2.5 -4.3t-3.5 -3.5t-4.2 -2.7t-4.4 -2.3t-4.4 -2.4t-4.4 -2.3t-4.5 -2.2t-2.3 -1.1M557.6 1529.4q-4 3 -6 4.4t-4.2 2.7t-4.5 2.1t-4.8 1.5t-4.7 1.6t-4.3 -0.5t-3.1 -3.8t-1.9 -4.6t-1.3 -4.8t-0.8 -4.9t-1.4 -4.8t-3 -3.9t-1.9 -1.6M535.5 1421.4q-2.8 4.2 -4 6.4t-1.4 4.7t0.5 4.9t2.9 3.6t4.7 1.3t5 -0.2t4.9 -1t4.4 -2.2t2 -1.5M528.1 1481.1q-4.9 -0.8 -7.4 -0.9t-5 -0.5t-4.5 -1.8t-3.6 -3.4t-2.3 -4.4t-0.3 -4.9t1.6 -4.6t3.3 -3.6t2.1 -1.4M495.3 1423.3q3 -4 5 -5.5t4.3 -2.6t4.7 -1.6t4.9 -1.1t4.6 -1.9t3.7 -3.2t2.8 -4.1t1.2 -2.2M546.3 1487.2q0.9 -4.9 0.2 -7.3t-2.1 -4.4t-3.4 -3.6t-4.2 -2.7t-4.4 -2.3t-4.2 -2.7t-3.6 -3.5t-2.7 -4.2t-2.1 -4.5t-2.1 -4.5t-1.2 -2.2M482.9 1321.4q-0.7 4.4 -0.9 6.7t0 4.5t1.3 4.2t2.8 3.4t3.8 2.4t4.3 1.2t4.5 -0.1t4.2 -1.5t1.9 -1.2M487.2 1342.4q0.5 -4.5 1.3 -6.6t1.2 -4.3t0.2 -4.4t0 -4.5t0.6 -4.5t1.9 -3.9t3.1 -3.3t3.5 -2.8t4.1 -1.6t4.4 -0.1t4.3 1.3t2 1M497.9 1305.1q-4.2 -1.6 -6.4 -1.9t-4.5 0.1t-4.3 1.1t-4.1 1.8t-3.9 2.3t-3.1 3.1t-2.3 3.8t-1.5 4.2t-0.7 4.4t0.1 4.5t0.3 2.2M472.5 1305q-0.2 4.5 -0.4 6.7t-0.3 4.5t-0.1 4.5t0.3 4.5t1.7 4t3.3 3t4 2t4.4 0.5t4.3 -1.1t3.6 -2.5t1.6 -1.6M478.5 1281.4q3.6 -2.6 5.2 -4.3t3.2 -3.1t3.2 -3.2t2.9 -3.5t3.6 -1.5t4.1 1.5t2.1 3.5t-0.6 4.3t-0.8 2.1M480.5 1268.5q3.7 -2.5 6 -2.8t3.6 1.5t2.9 3.4t3.4 3t3.9 2.1t2.9 -1.3t0.7 -4.3t-2.2 -3.2t-4.3 -1t-4.3 0.9t-2 1M483.5 1323.5q4.5 -0.6 6.6 -1.2t4.3 -1.2t4.3 -1.4t3.6 -2.5t2.7 -3.6t2 -4t1.1 -4.3t0.3 -4.5t-1.1 -4.3t-1 -2" stroke="#4c4c4c" stroke-width="3.3"/><path d="M558.1 1415.4q2.5 -4.3 2.8 -6.8t-0.4 -4.9t-3.2 -2.5t-5 0.2t-4.6 1.6t-3.5 3.3t-1.9 4.5t-0.6 4.9t-0.9 4.9t-2.4 4.3t-1.6 1.9M532.6 1436.2q2 -4.6 4.3 -5.5t4.7 -1.7t4.9 -0.8t4.8 1t3.9 2.9t2.5 4.2t0.9 2.3M553.2 1351.1q-1.7 -4.7 -3.5 -6.4t-4 -3t-4.7 -1.4t-4.8 0.8t-4.2 2.6t-4 3t-4.6 1.8t-4.9 0t-4.5 -1.9t-4 -3t-2 -1.5M558.8 1406.6q-4.2 -2.7 -6.2 -4.2t-4 -2.9t-3.9 -3.1t-3.6 -3.5t-3.2 -3.8t-3.6 -3.4t-4.2 -2.7t-4.4 -2.3t-4.2 -2.6t-3.8 -3.3t-3.6 -3.5t-3.4 -3.6t-1.6 -1.9M548.3 1354.2q4.4 -2.4 6.1 -4.2t2.5 -4.2t0.5 -4.9t-1.7 -4.6t-3.9 -1.9t-4.9 1t-4.2 2.5t-3.2 3.8t-2.7 4.2t-1.3 2.1M547.3 1330.2q-5 0 -7.5 -0.1t-4.9 0.5t-4.7 1.7t-4.5 2.2t-4.6 2t-4.7 1.8t-4.8 1.5t-2.4 0.6M517.3 1329.1q-1.9 4.6 -3.4 6.7t-3.1 3.9t-2.2 4.3t-0.4 4.9t1.3 4.7t3.1 3.8t1.9 1.6M503.2 1349q4.9 -0.8 7.4 -1.3t4.4 -2.1t3.3 -3.6t2.3 -4.4t1.2 -4.8t0.9 -4.9t0.6 -2.4M551.9 1351.3q-4.2 -2.8 -6.6 -3.1t-5 -0.3t-5 0.1t-5 0.2t-4.8 1t-4.1 2.6t-3.2 3.8t-2.7 4.2t-1.7 4.6t0.1 4.9t1.5 4.8t2.1 4.5t3.2 3.7t4.5 1.9t2.5 0.4M526.4 1370.2q3.8 3.3 5.9 4.5t4.5 2.1t4.8 1.3t4.9 0.3t4.9 -0.9t4.8 -1.5t4.5 -2.1t4.2 -2.7t4.6 -1t2.5 0.4M528.3 1471.4q0.6 5 1.1 7.4t1.7 4.7t2.5 4.3t2.7 4.2t2.2 4.4t1.4 4.8t1.2 4.8t1 4.9t0.2 2.5M524.4 1453.4q1.1 4.9 1.2 7.4t0.2 5t0.1 5t-0.6 4.9t-1.7 4.7t-1.9 4.6t-1.5 4.8t-1 4.9t-1.3 4.8t-1.8 4.6t-2.2 4.5t-1.4 2.1M490.4 1433.6q1.6 4.7 2.8 6.9t3.2 3.7t4.4 2.2t4.9 1.1t5 0.5t5 -0.3t5 -0.2t5 0.4t4.8 1.3t4.2 2.6t3.2 3.7t2 4.5t0.7 4.9t0 2.5M568.5 1506.2q0.7 5 1.4 7.4t1 4.9t0.4 5t-1.3 4.6t-2.4 4.4t-1.9 4.6t-0.8 4.8t0.1 2.5M568.5 1518.3q0.6 -5 -0.1 -7.4t-1.6 -4.7t-2.5 -4.3t-3.5 -3.5t-4.2 -2.7t-4.4 -2.3t-4.4 -2.4t-4.4 -2.3t-4.5 -2.2t-2.3 -1.1M557.6 1529.4q-4 3 -6 4.4t-4.2 2.7t-4.5 2.1t-4.8 1.5t-4.7 1.6t-4.3 -0.5t-3.1 -3.8t-1.9 -4.6t-1.3 -4.8t-0.8 -4.9t-1.4 -4.8t-3 -3.9t-1.9 -1.6M535.5 1421.4q-2.8 4.2 -4 6.4t-1.4 4.7t0.5 4.9t2.9 3.6t4.7 1.3t5 -0.2t4.9 -1t4.4 -2.2t2 -1.5M528.1 1481.1q-4.9 -0.8 -7.4 -0.9t-5 -0.5t-4.5 -1.8t-3.6 -3.4t-2.3 -4.4t-0.3 -4.9t1.6 -4.6t3.3 -3.6t2.1 -1.4M495.3 1423.3q3 -4 5 -5.5t4.3 -2.6t4.7 -1.6t4.9 -1.1t4.6 -1.9t3.7 -3.2t2.8 -4.1t1.2 -2.2M546.3 1487.2q0.9 -4.9 0.2 -7.3t-2.1 -4.4t-3.4 -3.6t-4.2 -2.7t-4.4 -2.3t-4.2 -2.7t-3.6 -3.5t-2.7 -4.2t-2.1 -4.5t-2.1 -4.5t-1.2 -2.2M482.9 1321.4q-0.7 4.4 -0.9 6.7t0 4.5t1.3 4.2t2.8 3.4t3.8 2.4t4.3 1.2t4.5 -0.1t4.2 -1.5t1.9 -1.2M487.2 1342.4q0.5 -4.5 1.3 -6.6t1.2 -4.3t0.2 -4.4t0 -4.5t0.6 -4.5t1.9 -3.9t3.1 -3.3t3.5 -2.8t4.1 -1.6t4.4 -0.1t4.3 1.3t2 1M497.9 1305.1q-4.2 -1.6 -6.4 -1.9t-4.5 0.1t-4.3 1.1t-4.1 1.8t-3.9 2.3t-3.1 3.1t-2.3 3.8t-1.5 4.2t-0.7 4.4t0.1 4.5t0.3 2.2M472.5 1305q-0.2 4.5 -0.4 6.7t-0.3 4.5t-0.1 4.5t0.3 4.5t1.7 4t3.3 3t4 2t4.4 0.5t4.3 -1.1t3.6 -2.5t1.6 -1.6M478.5 1281.4q3.6 -2.6 5.2 -4.3t3.2 -3.1t3.2 -3.2t2.9 -3.5t3.6 -1.5t4.1 1.5t2.1 3.5t-0.6 4.3t-0.8 2.1M480.5 1268.5q3.7 -2.5 6 -2.8t3.6 1.5t2.9 3.4t3.4 3t3.9 2.1t2.9 -1.3t0.7 -4.3t-2.2 -3.2t-4.3 -1t-4.3 0.9t-2 1M483.5 1323.5q4.5 -0.6 6.6 -1.2t4.3 -1.2t4.3 -1.4t3.6 -2.5t2.7 -3.6t2 -4t1.1 -4.3t0.3 -4.5t-1.1 -4.3t-1 -2" stroke="#ffffff" stroke-width="1.9"/><path d="M525.2 1408.1q5.5 -0.3 8.2 -0.6t5.5 -0.6t5.3 -1.2t5.1 -2t4.8 -2.6t2.4 -4.2t-0.8 -5.4t-0.9 -2.6M520.1 1387.7q-3.5 -4.2 -4.4 -6.8t-1.3 -5.3t0.2 -5.4t1 -5.4t0.6 -5.5t0.3 -5.5t0.1 -2.7M535 1379.7q-2.1 5.1 -2.9 7.7t-1.5 5.3t-1.1 5.4t-0.6 5.5t0.1 5.5t0.3 5.5t0 5.5t-0.1 2.7M543.3 1401.2q1 5.4 2.3 7.9t3 4.5t4.1 3.7t4.8 2.5t5.2 1.6t3.6 3.3t1 5.3t0 2.7M542.2 1407.3q0.2 5.5 0.4 8.2t0.2 5.5t-0.9 5.4t-2.3 4.9t-3.6 4.1t-2.1 1.7M558.4 1367.7q2.9 -4.7 3.5 -7.3t0.2 -5.4t-1.4 -5.3t-2.9 -4.6t-4.6 -1.5t-5.2 1.7t-5.1 2.1t-5.2 1.9t-5 2.2t-4.8 2.6t-2.4 1.3M560.1 1355.1q-2.6 4.8 -3.9 7.3t-2.6 4.8t-3.1 4.5t-3.9 3.9t-4.9 2.1t-5.4 -0.1t-5.2 -1.7t-2.5 -1.2M562.5 1355q0.7 5.5 0.3 8.2t-1.7 5.2t-2.7 4.8t-3 4.6t-2.6 4.8t-1.3 5.3t-0.2 2.7M526.2 1398.1q3.5 4.2 5 6.5t2.7 4.8t2.2 5t2.6 4.8t3.5 4.2t3.8 4t3.6 4.2t3.3 4.4t1.5 2.3M559.5 1397.5q-5.5 -0.7 -8.1 -1.3t-5.3 -1.5t-5 -2.2t-4.4 -3.2t-3.9 -3.8t-3.7 -4.1t-3.7 -4.1t-1.9 -2M536.1 1358.3q-3.5 -4.2 -5.7 -5.9t-4.8 -2.6t-5.2 -1.8t-5.1 -1.9t-5.2 -1.7t-4.9 1.1t-3.8 3.9t-2.5 4.8t-1.7 5.2t-1.1 5.4t-0.4 2.7M523 1343.8q1.3 5.3 2.3 7.9t1.8 5.2t1.5 5.3t1.8 5.2t2.9 4.6t3.8 4t2 1.9M526.5 1411.8q5.3 1.5 7.9 2.3t5.4 1.2t5.4 1t2.7 0.5M551 1332.4q-5.5 0 -8.2 -0.3t-5.5 -0.7t-5.3 -1.4t-5.2 -1.9t-2.6 -0.9M502.3 1380.9q1 -5.4 0.8 -8.1t-0.8 -5.4t-1.8 -5.2t-1.2 -2.5M540.4 1317.7q-5.4 1 -7.8 2.4t-4.1 3.5t-2.7 4.7t-0.3 5.3t1.6 5.3t2.1 5.1t1.2 2.5M565 1418.2q-5.5 0.3 -8.2 -0.4t-5.3 -1.4t-4.8 -2.5t-4.3 -3.5t-4.3 -3.4t-4.6 -3t-5.1 -2.1t-4.6 1.2t-2 1.9M487.9 1413.4q-2.6 -5.4 -3.1 -8.4t2.1 -4.5t5.5 -2.2t4.7 1.7t2.7 5.3t1.3 5.8t-0.3 5.9t-0.6 2.9M492 1460.3q-4.2 4.3 -5.5 7t-1.9 5.6t1.5 5.2t4.2 4.3t4.4 4t4.3 4.2t3.7 4.7t1.7 2.5M567.2 1524.7q-4.3 -4.1 -6.6 -6.1t-4.5 -4t-4.3 -4.2t-4.2 -4.3t-4.4 -4.1t-4.9 -3.4t-5.2 -3t-5.1 -3.2t-5.1 -3.2t-2.6 -1.5M535.5 1486.1q-4.7 3.7 -6.7 5.9t-3.6 4.8t-2.5 5.4t-1 5.9t0.5 5.9t1.6 5.8t2.4 5.5t3 5.2t3 5.2t2.7 5.3t1.3 2.7M561.7 1517.1q-0.4 -6 -0.3 -9t0 -6t-0.2 -6t0.3 -6t0.9 -5.9t1.4 -5.8t1.7 -5.7t1.6 -5.8t1.5 -5.8t0.8 -2.9M550.5 1546.9q-0.4 -6 -0.7 -9t-1.1 -5.9t-1.8 -5.7t-2.5 -5.5t-2.9 -5.2t-2.9 -5.3t-2.5 -5.4t-2.1 -5.6t-0.9 -2.8M519.5 1444.3q1 -5.9 1.4 -8.9t0.8 -5.9t0.7 -6t0.6 -6t0.6 -6t0.7 -6t-1 -5.6t-4.2 -3.7t-5.8 -1.2t-3 -0.1M482 1398.2q4.8 3.6 6.2 6.2t2.9 5.2t3.2 5.1t2.8 5.3t1.8 5.7t1.3 5.9t1 5.9t0.4 3M519 1493.2q5.6 2.1 8.4 3.1t5.7 2t5.5 2.3t5.4 2.7t5.4 2.7t5.6 2t5.9 0.8t5.9 -0.6t4.5 -3.3t1.6 -2.5M534.7 1490.3q3.5 4.9 5.3 7.3t3.6 4.8t3.7 4.7t3.9 4.5t4.3 4.2t4.5 3.9t4.8 3.6t2.5 1.7M553.7 1546.8q-2.9 -5.3 -4.5 -7.8t-3.4 -5t-3.6 -4.8t-3.7 -4.7t-3.8 -4.7t-1.9 -2.3M563.3 1518q3.2 -5.1 4.5 -7.8t2.3 -5.5t1.7 -5.7t0.3 -5.9t-3 -4.2t-5.4 -2.6t-5.2 -3t-4.8 -3.6t-4.7 -3.7t-2.4 -1.8M502.9 1474.2q-0.6 -6 -1 -8.9t-1.2 -5.9t-2.1 -5.6t-3 -5.2t-1.7 -2.5M518 1534.3q0 -6 0.3 -9t0.9 -5.9t1 -5.9t0.8 -6t0.9 -5.9t0.2 -6t-0.7 -6t-1 -5.9t-1.3 -5.9t-1.6 -5.8t-1.8 -5.7t-0.9 -2.9M534 1501.9q-3.2 -5.1 -4.7 -7.7t-3.2 -5.1t-3.5 -4.9t-3.8 -4.6t-3.6 -4.8t-2.8 -5.3t-1.9 -5.7t-1.6 -5.8t-1.9 -5.7t-1 -2.8M551.4 1476.7q-2.1 -5.6 -3.5 -8.3t-2.9 -5.2t-3.3 -5t-3.7 -4.7t-3.5 -4.9t-3.1 -5.1t-3.4 -4.9t-3.7 -4.7t-3.9 -4.6t-1.9 -2.3M566.8 1441.2q-6 -0.6 -8.6 0.8t-4.9 3.4t-3.9 4.5t-2.7 5.3t-1.5 5.8t-0.5 6t1.1 5.8t2.9 5.2t4.1 4.3t5.1 3.1t2.8 1.2M570.4 1448.3q-5.6 -2.1 -8.4 -3.2t-5.6 -2.2t-5.4 -2.5t-5.1 -3.1t-4.5 -3.9t-3.9 -4.6t-3.2 -5t-2.9 -5.3t-3.1 -5.1t-3.6 -4.8t-1.9 -2.3M507.9 1504q-1.1 -5.9 -2.1 -8.7t-2.5 -5.4t-3 -5.2t-3.2 -5.1t-3.4 -5t-3.5 -4.9t-1.7 -2.4M509.6 1531.3q0 -6 0.2 -9t0.5 -6t1 -5.9t1.2 -5.9t1.2 -5.9t1.1 -5.9t0.7 -6t0.2 -3M569.2 1479.6q3.1 -5.1 3.9 -8t0.8 -5.9t-1.5 -5.6t-3 -5.2t-3 -5.2t-2.9 -5.2t-1.5 -2.6M527.5 1434.8q-2.1 5.6 -3.6 8.2t-3.2 5.1t-3.3 5t-3.1 5.1t-3.2 5.1t-3.6 4.8t-3.8 4.7t-3.8 4.6t-4.1 4.4t-5 2.9t-2.9 0.8M523.3 1404.8q1.1 5.9 1.7 8.8t1.4 5.8t1.6 5.8t1.9 5.7t2.6 5.4t3 5.2t2.9 5.2t2.5 5.4t1.9 5.7t1.7 5.8t1.7 5.8t0.8 2.9M482.4 1277.3q4.3 2.5 6.7 3.2t4.8 1.4t4.9 1.1t3.8 2.6t1.6 4.6t-0.3 4.9t-0.6 2.4M483.3 1335.7q0.6 -5 1 -7.4t0.7 -5t-0.4 -4.9t-1.9 -4.6t-3.1 -3.9t-4.2 -2.5t-4.9 -0.9t-2.5 -0.1M514 1291.2q-4 3 -5.2 5.2t-1.8 4.6t-0.4 4.9t0.5 5t0.4 5t0.1 2.5M482.5 1349.1q-5 -0.5 -6.3 -2.6t-1.3 -4.6t0.5 -5t1 -4.9t1.7 -4.7t1.1 -2.3M484 1332.3q4 -3 5.9 -4.6t3.8 -3.3t3.8 -3.3t3.9 -3.1t3.8 -3.2t3.6 -3.5t1.8 -1.7M502.4 1318.6q-3.5 -3.6 -5.5 -5t-4.3 -2.5t-4.5 -2.1t-4.5 -2.2t-4.6 -2t-4.7 -1.6t-2.4 -0.8M510.3 1343.3q-1.3 -4.8 -2.8 -6.9t-3.1 -3.9t-3.3 -3.7t-3.4 -3.6t-3.7 -3.4t-1.9 -1.7M490.1 1262.7q4 3 5.7 4.8t3.2 3.8t3.1 3.9t1.6 4.5t0.1 2.5M489.8 1294.8q-3.1 3.9 -5 5.6t-3.9 3.1t-4.3 2.6t-4.4 2.3t-4.5 2.2t-2.3 1.1M474.7 1293.6q2.5 4.3 3.4 6.7t2 4.6t2.3 4.4t1.3 2.2" stroke="#4c4c4c" stroke-width="3.3"/><path d="M525.2 1408.1q5.5 -0.3 8.2 -0.6t5.5 -0.6t5.3 -1.2t5.1 -2t4.8 -2.6t2.4 -4.2t-0.8 -5.4t-0.9 -2.6M520.1 1387.7q-3.5 -4.2 -4.4 -6.8t-1.3 -5.3t0.2 -5.4t1 -5.4t0.6 -5.5t0.3 -5.5t0.1 -2.7M535 1379.7q-2.1 5.1 -2.9 7.7t-1.5 5.3t-1.1 5.4t-0.6 5.5t0.1 5.5t0.3 5.5t0 5.5t-0.1 2.7M543.3 1401.2q1 5.4 2.3 7.9t3 4.5t4.1 3.7t4.8 2.5t5.2 1.6t3.6 3.3t1 5.3t0 2.7M542.2 1407.3q0.2 5.5 0.4 8.2t0.2 5.5t-0.9 5.4t-2.3 4.9t-3.6 4.1t-2.1 1.7M558.4 1367.7q2.9 -4.7 3.5 -7.3t0.2 -5.4t-1.4 -5.3t-2.9 -4.6t-4.6 -1.5t-5.2 1.7t-5.1 2.1t-5.2 1.9t-5 2.2t-4.8 2.6t-2.4 1.3M560.1 1355.1q-2.6 4.8 -3.9 7.3t-2.6 4.8t-3.1 4.5t-3.9 3.9t-4.9 2.1t-5.4 -0.1t-5.2 -1.7t-2.5 -1.2M562.5 1355q0.7 5.5 0.3 8.2t-1.7 5.2t-2.7 4.8t-3 4.6t-2.6 4.8t-1.3 5.3t-0.2 2.7M526.2 1398.1q3.5 4.2 5 6.5t2.7 4.8t2.2 5t2.6 4.8t3.5 4.2t3.8 4t3.6 4.2t3.3 4.4t1.5 2.3M559.5 1397.5q-5.5 -0.7 -8.1 -1.3t-5.3 -1.5t-5 -2.2t-4.4 -3.2t-3.9 -3.8t-3.7 -4.1t-3.7 -4.1t-1.9 -2M536.1 1358.3q-3.5 -4.2 -5.7 -5.9t-4.8 -2.6t-5.2 -1.8t-5.1 -1.9t-5.2 -1.7t-4.9 1.1t-3.8 3.9t-2.5 4.8t-1.7 5.2t-1.1 5.4t-0.4 2.7M523 1343.8q1.3 5.3 2.3 7.9t1.8 5.2t1.5 5.3t1.8 5.2t2.9 4.6t3.8 4t2 1.9M526.5 1411.8q5.3 1.5 7.9 2.3t5.4 1.2t5.4 1t2.7 0.5M551 1332.4q-5.5 0 -8.2 -0.3t-5.5 -0.7t-5.3 -1.4t-5.2 -1.9t-2.6 -0.9M502.3 1380.9q1 -5.4 0.8 -8.1t-0.8 -5.4t-1.8 -5.2t-1.2 -2.5M540.4 1317.7q-5.4 1 -7.8 2.4t-4.1 3.5t-2.7 4.7t-0.3 5.3t1.6 5.3t2.1 5.1t1.2 2.5M565 1418.2q-5.5 0.3 -8.2 -0.4t-5.3 -1.4t-4.8 -2.5t-4.3 -3.5t-4.3 -3.4t-4.6 -3t-5.1 -2.1t-4.6 1.2t-2 1.9M487.9 1413.4q-2.6 -5.4 -3.1 -8.4t2.1 -4.5t5.5 -2.2t4.7 1.7t2.7 5.3t1.3 5.8t-0.3 5.9t-0.6 2.9M492 1460.3q-4.2 4.3 -5.5 7t-1.9 5.6t1.5 5.2t4.2 4.3t4.4 4t4.3 4.2t3.7 4.7t1.7 2.5M567.2 1524.7q-4.3 -4.1 -6.6 -6.1t-4.5 -4t-4.3 -4.2t-4.2 -4.3t-4.4 -4.1t-4.9 -3.4t-5.2 -3t-5.1 -3.2t-5.1 -3.2t-2.6 -1.5M535.5 1486.1q-4.7 3.7 -6.7 5.9t-3.6 4.8t-2.5 5.4t-1 5.9t0.5 5.9t1.6 5.8t2.4 5.5t3 5.2t3 5.2t2.7 5.3t1.3 2.7M561.7 1517.1q-0.4 -6 -0.3 -9t0 -6t-0.2 -6t0.3 -6t0.9 -5.9t1.4 -5.8t1.7 -5.7t1.6 -5.8t1.5 -5.8t0.8 -2.9M550.5 1546.9q-0.4 -6 -0.7 -9t-1.1 -5.9t-1.8 -5.7t-2.5 -5.5t-2.9 -5.2t-2.9 -5.3t-2.5 -5.4t-2.1 -5.6t-0.9 -2.8M519.5 1444.3q1 -5.9 1.4 -8.9t0.8 -5.9t0.7 -6t0.6 -6t0.6 -6t0.7 -6t-1 -5.6t-4.2 -3.7t-5.8 -1.2t-3 -0.1M482 1398.2q4.8 3.6 6.2 6.2t2.9 5.2t3.2 5.1t2.8 5.3t1.8 5.7t1.3 5.9t1 5.9t0.4 3M519 1493.2q5.6 2.1 8.4 3.1t5.7 2t5.5 2.3t5.4 2.7t5.4 2.7t5.6 2t5.9 0.8t5.9 -0.6t4.5 -3.3t1.6 -2.5M534.7 1490.3q3.5 4.9 5.3 7.3t3.6 4.8t3.7 4.7t3.9 4.5t4.3 4.2t4.5 3.9t4.8 3.6t2.5 1.7M553.7 1546.8q-2.9 -5.3 -4.5 -7.8t-3.4 -5t-3.6 -4.8t-3.7 -4.7t-3.8 -4.7t-1.9 -2.3M563.3 1518q3.2 -5.1 4.5 -7.8t2.3 -5.5t1.7 -5.7t0.3 -5.9t-3 -4.2t-5.4 -2.6t-5.2 -3t-4.8 -3.6t-4.7 -3.7t-2.4 -1.8M502.9 1474.2q-0.6 -6 -1 -8.9t-1.2 -5.9t-2.1 -5.6t-3 -5.2t-1.7 -2.5M518 1534.3q0 -6 0.3 -9t0.9 -5.9t1 -5.9t0.8 -6t0.9 -5.9t0.2 -6t-0.7 -6t-1 -5.9t-1.3 -5.9t-1.6 -5.8t-1.8 -5.7t-0.9 -2.9M534 1501.9q-3.2 -5.1 -4.7 -7.7t-3.2 -5.1t-3.5 -4.9t-3.8 -4.6t-3.6 -4.8t-2.8 -5.3t-1.9 -5.7t-1.6 -5.8t-1.9 -5.7t-1 -2.8M551.4 1476.7q-2.1 -5.6 -3.5 -8.3t-2.9 -5.2t-3.3 -5t-3.7 -4.7t-3.5 -4.9t-3.1 -5.1t-3.4 -4.9t-3.7 -4.7t-3.9 -4.6t-1.9 -2.3M566.8 1441.2q-6 -0.6 -8.6 0.8t-4.9 3.4t-3.9 4.5t-2.7 5.3t-1.5 5.8t-0.5 6t1.1 5.8t2.9 5.2t4.1 4.3t5.1 3.1t2.8 1.2M570.4 1448.3q-5.6 -2.1 -8.4 -3.2t-5.6 -2.2t-5.4 -2.5t-5.1 -3.1t-4.5 -3.9t-3.9 -4.6t-3.2 -5t-2.9 -5.3t-3.1 -5.1t-3.6 -4.8t-1.9 -2.3M507.9 1504q-1.1 -5.9 -2.1 -8.7t-2.5 -5.4t-3 -5.2t-3.2 -5.1t-3.4 -5t-3.5 -4.9t-1.7 -2.4M509.6 1531.3q0 -6 0.2 -9t0.5 -6t1 -5.9t1.2 -5.9t1.2 -5.9t1.1 -5.9t0.7 -6t0.2 -3M569.2 1479.6q3.1 -5.1 3.9 -8t0.8 -5.9t-1.5 -5.6t-3 -5.2t-3 -5.2t-2.9 -5.2t-1.5 -2.6M527.5 1434.8q-2.1 5.6 -3.6 8.2t-3.2 5.1t-3.3 5t-3.1 5.1t-3.2 5.1t-3.6 4.8t-3.8 4.7t-3.8 4.6t-4.1 4.4t-5 2.9t-2.9 0.8M523.3 1404.8q1.1 5.9 1.7 8.8t1.4 5.8t1.6 5.8t1.9 5.7t2.6 5.4t3 5.2t2.9 5.2t2.5 5.4t1.9 5.7t1.7 5.8t1.7 5.8t0.8 2.9M482.4 1277.3q4.3 2.5 6.7 3.2t4.8 1.4t4.9 1.1t3.8 2.6t1.6 4.6t-0.3 4.9t-0.6 2.4M483.3 1335.7q0.6 -5 1 -7.4t0.7 -5t-0.4 -4.9t-1.9 -4.6t-3.1 -3.9t-4.2 -2.5t-4.9 -0.9t-2.5 -0.1M514 1291.2q-4 3 -5.2 5.2t-1.8 4.6t-0.4 4.9t0.5 5t0.4 5t0.1 2.5M482.5 1349.1q-5 -0.5 -6.3 -2.6t-1.3 -4.6t0.5 -5t1 -4.9t1.7 -4.7t1.1 -2.3M484 1332.3q4 -3 5.9 -4.6t3.8 -3.3t3.8 -3.3t3.9 -3.1t3.8 -3.2t3.6 -3.5t1.8 -1.7M502.4 1318.6q-3.5 -3.6 -5.5 -5t-4.3 -2.5t-4.5 -2.1t-4.5 -2.2t-4.6 -2t-4.7 -1.6t-2.4 -0.8M510.3 1343.3q-1.3 -4.8 -2.8 -6.9t-3.1 -3.9t-3.3 -3.7t-3.4 -3.6t-3.7 -3.4t-1.9 -1.7M490.1 1262.7q4 3 5.7 4.8t3.2 3.8t3.1 3.9t1.6 4.5t0.1 2.5M489.8 1294.8q-3.1 3.9 -5 5.6t-3.9 3.1t-4.3 2.6t-4.4 2.3t-4.5 2.2t-2.3 1.1M474.7 1293.6q2.5 4.3 3.4 6.7t2 4.6t2.3 4.4t1.3 2.2" stroke="#ffffff" stroke-width="1.9"/><path d="M466.6 1418.7q1.1 -5.9 1.3 -8.9t0.2 -6t-0.5 -6t-1.3 -5.9t-2 -5.6t-2.3 -5.5t-1.1 -2.8M460 1453.6q-3.7 -4.7 -4 -7.7t-0.3 -6t0.3 -6t0.7 -6t0.9 -5.9t1.4 -5.8t2 -5.7t1.2 -2.8M470.6 1421.7q-0.2 6 -0.4 9t-0.2 6t0.1 6t0.5 6t0.4 3M432.9 1435.6q4.7 -3.7 7.2 -5.3t4.9 -3.4t4.7 -3.7t4.5 -4t4.1 -4.3t3.8 -4.6t3.4 -4.9t3.1 -5.1t3.1 -5.1t3.1 -5.2t1.5 -2.6M470.6 1423.7q-1.5 5.8 -2.1 8.7t-0.9 5.9t-0.4 6t0.3 6t0.4 3M426.3 1432.5q-0.7 6 1.8 7.7t5 3.2t5.4 2.6t5.7 0.4t4 -3.5t1.8 -5.7t1.4 -5.8t1.3 -5.8t1.3 -5.9t1.4 -5.8t0.7 -2.9M468.8 1429.2q-0.4 -6 -0.4 -9t0.6 -6t1.4 -5.8t1.8 -5.7t1.8 -5.7t1.7 -5.7t1.6 -5.8t1.7 -5.8t0.9 -2.9M432.6 1438q2.4 -5.5 3.6 -8.2t2.4 -5.5t2.2 -5.6t2.1 -5.6t2.1 -5.6t2 -5.6t1.8 -5.7t1.5 -5.8t1.8 -5.7t3.3 -4.8t2.3 -2M421.9 1506.5q2.6 -4.7 1.4 -5.9t-1.2 0.5t2.7 2.3t4 -1.8t0.1 -3.5t-1.2 0.5t2.7 2.3t4 -1.8t0.1 -3.5t-1.2 0.5t0.1 1.7M449.9 1515.1q4.8 -3.6 4 -5.4t-1.7 0t1.5 3.6t4.7 0t1.6 -3.6t-1.7 0t1.5 3.6t4.7 0t1.6 -3.6t-1.7 0t1.5 3.6t4.7 0t2.4 -1.8M407.9 1508.3q0.5 -6.2 -1.5 -6.8t-1.1 1.2t3.9 1.3t3.3 -3.7t-1.7 -3.7t-1.1 1.2t3.9 1.3t3.3 -3.7t-1.7 -3.7t-1.1 1.2t3.9 1.3t3 -0.6M482.4 1530.5q-3.3 0 -2.1 1.1t3.3 -0.1t1.6 -3.7t-2.2 -2.5t-0.5 1.1t3.3 -0.1t2.2 -1.3M395.7 1521q4.6 -3.9 3.7 -5.7t-1.6 0.1t1.8 3.6t4.8 -0.2t1.4 -3.7t-1.6 0.1t1.8 3.6t4.8 -0.2t1.4 -3.7t-1.6 0.1t-0.7 1.9M421.7 1544.4q4.9 -2.3 4.5 -4t-1.4 -0.3t0.7 3.5t4.2 0.9t2.1 -2.9t-1.4 -0.3t0.7 3.5t4.2 0.9t2.1 -2.9t-1.4 -0.3t0.7 3.5t4.2 0.9t2.1 -2.9t-1.4 -0.3t-1.1 1.4M425.1 1526.6q-1.5 -5.6 -3.4 -5.6t-0.5 1.4t3.8 -0.2t1.7 -4.4t-2.7 -2.8t-0.5 1.4t3.8 -0.2t1.7 -4.4t-2.7 -2.8t-0.5 1.4t3.8 -0.2t1.7 -4.4t-2.7 -2.8t-1.9 0M432.2 1513.3q1.1 -5.2 -0.4 -6t-0.9 0.8t3.2 1.3t3.2 -2.9t-1 -3.3t-0.9 0.8t3.2 1.3t3.2 -2.9t-1 -3.3t-0.9 0.8t3.2 1.3t2.6 -0.3M450.5 1550q4.9 -2.2 4.5 -4t-1.4 -0.3t0.6 3.5t4.1 1t2.1 -2.8t-1.4 -0.3t0.6 3.5t4.1 1t2.1 -2.8t-1.4 -0.3t0.6 3.5t1.7 2.1M403.6 1547.9q2.4 -5.4 0.7 -6.6t-1.5 0.8t3 2.5t4.1 -2.2t-0.4 -3.9t-1.5 0.8t3 2.5t4.1 -2.2t-0.4 -3.9t-1.6 -1.2M471.5 1515.6q4.6 -2.4 4.2 -4t-1.2 -0.2t1 3.2t4.1 0.6t1.9 -2.8t-1.2 -0.2t1 3.2t4.1 0.6t1.9 -2.8t-1.2 -0.2t1 3.2t1.8 1.8M456.8 1514.8q4.9 -3.9 4 -5.8t-1.7 0t1.7 3.8t5 -0.1t1.6 -3.8t-1.7 0t1.7 3.8t5 -0.1t1.6 -3.8t-1.7 0t1.7 3.8t5 -0.1t2.4 -1.9M465.6 1531.5q1.9 -5.8 0.1 -6.9t-1.6 1t3.3 2.3t4 -2.7t-0.9 -4t-1.6 1t3.3 2.3t3.1 0.2M445.8 1531.7q1.6 -5.8 -0.2 -6.8t-1.3 1t3.5 1.9t3.8 -2.9t-1 -3.9t-1.3 1t3.5 1.9t3.8 -2.9t-1 -3.9t-1.3 1t0.5 1.9M453.9 1547q0.8 -5.7 -0.9 -6.4t-1 1t3.6 1.3t3.3 -3.3t-1.3 -3.6t-1 1t3.6 1.3t3.3 -3.3t-1.3 -3.6t-1 1t3.6 1.3t3.3 -3.3t-1.3 -3.6t-1 1t3.6 1.3t2.9 -0.4M408.3 1529.1q1 -5.4 -0.6 -6.2t-1.1 1t3.4 1.4t3.3 -3t-1.2 -3.5t-1.1 1t3.4 1.4t3.3 -3t-1.2 -3.5t-1.1 1t3.4 1.4t3.3 -3t-1.2 -3.5t-1.1 1t3.4 1.4t3.3 -3t-1.2 -3.5t-1.7 -0.7M451.1 1515q0.4 -5.4 -1.2 -5.9t-0.8 0.9t3.4 0.8t2.8 -3.3t-1.4 -3.2t-0.8 0.9t3.4 0.8t2.6 -0.6M450.7 1548.4q-0.9 -5.2 -2.7 -5.3t-0.6 1.2t3.5 0.2t1.9 -3.8t-2.2 -2.7t-0.6 1.2t3.5 0.2t1.9 -3.8t-2.2 -2.7t-0.6 1.2t3.5 0.2t1.9 -3.8t-2.2 -2.7t-0.6 1.2t1.1 1.3M466.8 1543.5q2.4 -4.7 1 -5.8t-1.3 0.6t2.6 2.2t3.8 -1.8t-0.1 -3.5t-1.3 0.6t2.6 2.2t3.8 -1.8t-0.1 -3.5t-1.3 0.6t2.6 2.2t3.8 -1.8t-0.1 -3.5t-1.3 0.6t0.1 1.7M396.6 1506.8q2.7 3.6 3.8 5.6t2.1 4t1.7 4.1t0.8 4.4t-0.4 4.4t-1.8 4.1t-3 3.3t-3.5 0t-1.8 -1.4M464.7 1541.5q-4 2.1 -6.2 2.6t-4.4 0.6t-4.5 -0.3t-4.2 -1.4t-4.1 -1.9t-4.1 -1.8t-3.8 -2.3t-2.9 -3.3t-1.4 -4.1t0.1 -4.5t0.8 -4.4t1.5 -4.2t1.1 -2M417.5 1517.9q2.1 -4 3.2 -5.9t2.5 -3.8t3.4 -2.8t4 -2t4 -2.1t4.2 -1.4t4.4 0.5t4.1 1.9t3.7 2.5t3.1 3.2t2 3.9t0.7 2.1M453 1535q0.5 -4.5 1.4 -6.5t2.4 -3.8t3.5 -2.8t4.2 -1.2t4.4 0.5t4.1 1.8t3.7 2.5t2.8 3.4t1.6 4.2t0.6 2.2M464.7 1529.4q3.3 -3.1 4.1 -5.2t0.8 -4.3t-0.9 -4.3t-2.8 -3.4t-3.8 -2.4t-4 -2.1t-4.1 -1.9t-4 -2t-1.9 -1.2M427.3 1516.7q-0.9 -4.4 -1.9 -6.4t-2.5 -3.7t-3.1 -3.3t-3.3 -3.1t-3 -3.3t-3.1 -3.2t-1.7 -1.5M444.5 1533.3q-3.2 3.2 -4.5 5t-1.6 4.1t0.3 4.4t1.8 4.1t2.1 4t2.2 3.9t3.2 3t4.2 1.4t4.4 -0.3t2.2 -0.5M456.7 1505.9q4.3 1.4 6.1 2.7t3.6 2.6t4 1.9t4.4 0.5t4.4 -0.8t4.3 -1.3t4.4 -0.9t2.2 -0.2M462.8 1555.3q3.5 -2.8 5.4 -4t3.3 -2.9t1.9 -4t-0.7 -4.1t-2.4 -3.8t-1.8 -4t-0.5 -4.4t-0.4 -4.5t-1.4 -4.2t-2.3 -3.9t-1.2 -1.9M396.1 1535.5q3.7 -2.5 5.8 -3.4t4.3 -1t4.5 0t4.5 0.6t4.3 1.2t4.2 1.6t4.3 0.8t2.2 0M399.4 1526.7q2.5 3.8 3.8 5.6t3.2 3.1t3.8 2.4t3.7 2.5t2.7 3.4t1.3 4.3t-0.1 4.4t-1.4 4.2t-1 2M432.1 1538.6q-4.2 -1.6 -6.3 -2.4t-3.6 -2.5t-2.9 -3.4t-2.3 -3.8t-1 -4.3t0.1 -4.5t0.2 -4.5t0.2 -4.5t0.3 -4.5t0.8 -4.4t0.7 -2.2M432.5 1536.4q-1.3 4.3 -2.5 6.2t-2.4 3.8t-2.4 3.8t-0.5 4.1t2 4t3.2 3t4.2 1.6t2.2 0.5M400.2 1534.7q3.4 -2.9 5.2 -4.3t3.1 -3.2t2.8 -3.5t2.5 -3.7t1.5 -4.2t0.7 -4.4t0.9 -4.4t1.8 -4.1t2.2 -3.9t2.6 -3.7t2.8 -3.5t1.9 -4t0.5 -2.2M492 1367.5q-15.3 3.8 -21.6 5.7t-11.5 4.5t-7.6 8.9t-2.5 6.4M494.6 1372.6q-15.3 5.1 -21 7.6t-8.9 10.2t-1.9 15.3t1.3 7.6M456.4 1451.5q-3.8 22.9 -1.9 33.1t8.3 15.3t15.3 6.4t11.5 5.1t2.5 3.8M465.3 1451.5q-3.8 22.9 -1.3 31.8t10.2 14t14 3.8t8.9 -5.1t2.5 -3.8M476.8 1291.1q-1.3 -15.3 4.5 -22.3t13.4 -5.1t8.9 8.3t-2.5 11.5t1.3 7.6t10.2 1.9t5.1 -0.6M558.2 1336.9q10.2 12.7 14 20.4t2.5 12.7t-7.6 3.8t-6.4 -1.3M558.2 1395.5q10.2 10.2 10.8 19.1t-5.1 12.7t-9.5 0t-3.8 -3.8M420.7 1441.3q10.2 -7.6 15.3 -2.5t10.2 2.5t10.2 2.5t10.2 6.4t5.1 1.3" stroke="#4c4c4c" stroke-width="3.3"/><path d="M466.6 1418.7q1.1 -5.9 1.3 -8.9t0.2 -6t-0.5 -6t-1.3 -5.9t-2 -5.6t-2.3 -5.5t-1.1 -2.8M460 1453.6q-3.7 -4.7 -4 -7.7t-0.3 -6t0.3 -6t0.7 -6t0.9 -5.9t1.4 -5.8t2 -5.7t1.2 -2.8M470.6 1421.7q-0.2 6 -0.4 9t-0.2 6t0.1 6t0.5 6t0.4 3M432.9 1435.6q4.7 -3.7 7.2 -5.3t4.9 -3.4t4.7 -3.7t4.5 -4t4.1 -4.3t3.8 -4.6t3.4 -4.9t3.1 -5.1t3.1 -5.1t3.1 -5.2t1.5 -2.6M470.6 1423.7q-1.5 5.8 -2.1 8.7t-0.9 5.9t-0.4 6t0.3 6t0.4 3M426.3 1432.5q-0.7 6 1.8 7.7t5 3.2t5.4 2.6t5.7 0.4t4 -3.5t1.8 -5.7t1.4 -5.8t1.3 -5.8t1.3 -5.9t1.4 -5.8t0.7 -2.9M468.8 1429.2q-0.4 -6 -0.4 -9t0.6 -6t1.4 -5.8t1.8 -5.7t1.8 -5.7t1.7 -5.7t1.6 -5.8t1.7 -5.8t0.9 -2.9M432.6 1438q2.4 -5.5 3.6 -8.2t2.4 -5.5t2.2 -5.6t2.1 -5.6t2.1 -5.6t2 -5.6t1.8 -5.7t1.5 -5.8t1.8 -5.7t3.3 -4.8t2.3 -2M421.9 1506.5q2.6 -4.7 1.4 -5.9t-1.2 0.5t2.7 2.3t4 -1.8t0.1 -3.5t-1.2 0.5t2.7 2.3t4 -1.8t0.1 -3.5t-1.2 0.5t0.1 1.7M449.9 1515.1q4.8 -3.6 4 -5.4t-1.7 0t1.5 3.6t4.7 0t1.6 -3.6t-1.7 0t1.5 3.6t4.7 0t1.6 -3.6t-1.7 0t1.5 3.6t4.7 0t2.4 -1.8M407.9 1508.3q0.5 -6.2 -1.5 -6.8t-1.1 1.2t3.9 1.3t3.3 -3.7t-1.7 -3.7t-1.1 1.2t3.9 1.3t3.3 -3.7t-1.7 -3.7t-1.1 1.2t3.9 1.3t3 -0.6M482.4 1530.5q-3.3 0 -2.1 1.1t3.3 -0.1t1.6 -3.7t-2.2 -2.5t-0.5 1.1t3.3 -0.1t2.2 -1.3M395.7 1521q4.6 -3.9 3.7 -5.7t-1.6 0.1t1.8 3.6t4.8 -0.2t1.4 -3.7t-1.6 0.1t1.8 3.6t4.8 -0.2t1.4 -3.7t-1.6 0.1t-0.7 1.9M421.7 1544.4q4.9 -2.3 4.5 -4t-1.4 -0.3t0.7 3.5t4.2 0.9t2.1 -2.9t-1.4 -0.3t0.7 3.5t4.2 0.9t2.1 -2.9t-1.4 -0.3t0.7 3.5t4.2 0.9t2.1 -2.9t-1.4 -0.3t-1.1 1.4M425.1 1526.6q-1.5 -5.6 -3.4 -5.6t-0.5 1.4t3.8 -0.2t1.7 -4.4t-2.7 -2.8t-0.5 1.4t3.8 -0.2t1.7 -4.4t-2.7 -2.8t-0.5 1.4t3.8 -0.2t1.7 -4.4t-2.7 -2.8t-1.9 0M432.2 1513.3q1.1 -5.2 -0.4 -6t-0.9 0.8t3.2 1.3t3.2 -2.9t-1 -3.3t-0.9 0.8t3.2 1.3t3.2 -2.9t-1 -3.3t-0.9 0.8t3.2 1.3t2.6 -0.3M450.5 1550q4.9 -2.2 4.5 -4t-1.4 -0.3t0.6 3.5t4.1 1t2.1 -2.8t-1.4 -0.3t0.6 3.5t4.1 1t2.1 -2.8t-1.4 -0.3t0.6 3.5t1.7 2.1M403.6 1547.9q2.4 -5.4 0.7 -6.6t-1.5 0.8t3 2.5t4.1 -2.2t-0.4 -3.9t-1.5 0.8t3 2.5t4.1 -2.2t-0.4 -3.9t-1.6 -1.2M471.5 1515.6q4.6 -2.4 4.2 -4t-1.2 -0.2t1 3.2t4.1 0.6t1.9 -2.8t-1.2 -0.2t1 3.2t4.1 0.6t1.9 -2.8t-1.2 -0.2t1 3.2t1.8 1.8M456.8 1514.8q4.9 -3.9 4 -5.8t-1.7 0t1.7 3.8t5 -0.1t1.6 -3.8t-1.7 0t1.7 3.8t5 -0.1t1.6 -3.8t-1.7 0t1.7 3.8t5 -0.1t2.4 -1.9M465.6 1531.5q1.9 -5.8 0.1 -6.9t-1.6 1t3.3 2.3t4 -2.7t-0.9 -4t-1.6 1t3.3 2.3t3.1 0.2M445.8 1531.7q1.6 -5.8 -0.2 -6.8t-1.3 1t3.5 1.9t3.8 -2.9t-1 -3.9t-1.3 1t3.5 1.9t3.8 -2.9t-1 -3.9t-1.3 1t0.5 1.9M453.9 1547q0.8 -5.7 -0.9 -6.4t-1 1t3.6 1.3t3.3 -3.3t-1.3 -3.6t-1 1t3.6 1.3t3.3 -3.3t-1.3 -3.6t-1 1t3.6 1.3t3.3 -3.3t-1.3 -3.6t-1 1t3.6 1.3t2.9 -0.4M408.3 1529.1q1 -5.4 -0.6 -6.2t-1.1 1t3.4 1.4t3.3 -3t-1.2 -3.5t-1.1 1t3.4 1.4t3.3 -3t-1.2 -3.5t-1.1 1t3.4 1.4t3.3 -3t-1.2 -3.5t-1.1 1t3.4 1.4t3.3 -3t-1.2 -3.5t-1.7 -0.7M451.1 1515q0.4 -5.4 -1.2 -5.9t-0.8 0.9t3.4 0.8t2.8 -3.3t-1.4 -3.2t-0.8 0.9t3.4 0.8t2.6 -0.6M450.7 1548.4q-0.9 -5.2 -2.7 -5.3t-0.6 1.2t3.5 0.2t1.9 -3.8t-2.2 -2.7t-0.6 1.2t3.5 0.2t1.9 -3.8t-2.2 -2.7t-0.6 1.2t3.5 0.2t1.9 -3.8t-2.2 -2.7t-0.6 1.2t1.1 1.3M466.8 1543.5q2.4 -4.7 1 -5.8t-1.3 0.6t2.6 2.2t3.8 -1.8t-0.1 -3.5t-1.3 0.6t2.6 2.2t3.8 -1.8t-0.1 -3.5t-1.3 0.6t2.6 2.2t3.8 -1.8t-0.1 -3.5t-1.3 0.6t0.1 1.7M396.6 1506.8q2.7 3.6 3.8 5.6t2.1 4t1.7 4.1t0.8 4.4t-0.4 4.4t-1.8 4.1t-3 3.3t-3.5 0t-1.8 -1.4M464.7 1541.5q-4 2.1 -6.2 2.6t-4.4 0.6t-4.5 -0.3t-4.2 -1.4t-4.1 -1.9t-4.1 -1.8t-3.8 -2.3t-2.9 -3.3t-1.4 -4.1t0.1 -4.5t0.8 -4.4t1.5 -4.2t1.1 -2M417.5 1517.9q2.1 -4 3.2 -5.9t2.5 -3.8t3.4 -2.8t4 -2t4 -2.1t4.2 -1.4t4.4 0.5t4.1 1.9t3.7 2.5t3.1 3.2t2 3.9t0.7 2.1M453 1535q0.5 -4.5 1.4 -6.5t2.4 -3.8t3.5 -2.8t4.2 -1.2t4.4 0.5t4.1 1.8t3.7 2.5t2.8 3.4t1.6 4.2t0.6 2.2M464.7 1529.4q3.3 -3.1 4.1 -5.2t0.8 -4.3t-0.9 -4.3t-2.8 -3.4t-3.8 -2.4t-4 -2.1t-4.1 -1.9t-4 -2t-1.9 -1.2M427.3 1516.7q-0.9 -4.4 -1.9 -6.4t-2.5 -3.7t-3.1 -3.3t-3.3 -3.1t-3 -3.3t-3.1 -3.2t-1.7 -1.5M444.5 1533.3q-3.2 3.2 -4.5 5t-1.6 4.1t0.3 4.4t1.8 4.1t2.1 4t2.2 3.9t3.2 3t4.2 1.4t4.4 -0.3t2.2 -0.5M456.7 1505.9q4.3 1.4 6.1 2.7t3.6 2.6t4 1.9t4.4 0.5t4.4 -0.8t4.3 -1.3t4.4 -0.9t2.2 -0.2M462.8 1555.3q3.5 -2.8 5.4 -4t3.3 -2.9t1.9 -4t-0.7 -4.1t-2.4 -3.8t-1.8 -4t-0.5 -4.4t-0.4 -4.5t-1.4 -4.2t-2.3 -3.9t-1.2 -1.9M396.1 1535.5q3.7 -2.5 5.8 -3.4t4.3 -1t4.5 0t4.5 0.6t4.3 1.2t4.2 1.6t4.3 0.8t2.2 0M399.4 1526.7q2.5 3.8 3.8 5.6t3.2 3.1t3.8 2.4t3.7 2.5t2.7 3.4t1.3 4.3t-0.1 4.4t-1.4 4.2t-1 2M432.1 1538.6q-4.2 -1.6 -6.3 -2.4t-3.6 -2.5t-2.9 -3.4t-2.3 -3.8t-1 -4.3t0.1 -4.5t0.2 -4.5t0.2 -4.5t0.3 -4.5t0.8 -4.4t0.7 -2.2M432.5 1536.4q-1.3 4.3 -2.5 6.2t-2.4 3.8t-2.4 3.8t-0.5 4.1t2 4t3.2 3t4.2 1.6t2.2 0.5M400.2 1534.7q3.4 -2.9 5.2 -4.3t3.1 -3.2t2.8 -3.5t2.5 -3.7t1.5 -4.2t0.7 -4.4t0.9 -4.4t1.8 -4.1t2.2 -3.9t2.6 -3.7t2.8 -3.5t1.9 -4t0.5 -2.2M492 1367.5q-15.3 3.8 -21.6 5.7t-11.5 4.5t-7.6 8.9t-2.5 6.4M494.6 1372.6q-15.3 5.1 -21 7.6t-8.9 10.2t-1.9 15.3t1.3 7.6M456.4 1451.5q-3.8 22.9 -1.9 33.1t8.3 15.3t15.3 6.4t11.5 5.1t2.5 3.8M465.3 1451.5q-3.8 22.9 -1.3 31.8t10.2 14t14 3.8t8.9 -5.1t2.5 -3.8M476.8 1291.1q-1.3 -15.3 4.5 -22.3t13.4 -5.1t8.9 8.3t-2.5 11.5t1.3 7.6t10.2 1.9t5.1 -0.6M558.2 1336.9q10.2 12.7 14 20.4t2.5 12.7t-7.6 3.8t-6.4 -1.3M558.2 1395.5q10.2 10.2 10.8 19.1t-5.1 12.7t-9.5 0t-3.8 -3.8M420.7 1441.3q10.2 -7.6 15.3 -2.5t10.2 2.5t10.2 2.5t10.2 6.4t5.1 1.3" stroke="#ffffff" stroke-width="1.9"/>
<path d="M607.8 1432.7q0.7 -5 1.8 -7.2t2.9 -4t3.6 -3.5t3.9 -3.1t4 -3t3.7 -3.3t3.7 -3.3t3.5 -3.5t2.2 -4.4t0.6 -2.4M663.5 1409.7q0.6 -5 -1.7 -6t-4.8 -0.7t-5 0.5t-5 0.6t-4.3 2.1t-3.5 3.6t-3.1 3.9t-2.8 4.1t-2.8 4.1t-3.5 3.5t-2 1.5M618.9 1424.1q1.5 4.8 3 6.8t3.1 3.9t3.3 3.7t3.1 3.9t2.7 4.2t2.5 4.3t2.3 4.4t2.4 4.4t3.2 3.8t3.5 3.6t1.7 1.8M616.3 1427.9q-4.7 1.7 -7.2 1.7t-4.8 -1t-4.5 -2.1t-3.7 -3.2t-2.1 -4.4t-0.2 -4.9t1.9 -4.5t4 -1.9t5 0.5t4.9 1t4.9 1.2t4.8 1.3t4.4 2.3t2 1.5M649.6 1509.8q-4.7 1.6 -7.1 2.4t-4.8 1.5t-4.7 1.7t-4.5 2.1t-4.3 2.6t-4.3 2.5t-2.2 1.1M607.4 1454.5q2.4 -4.4 2.6 -6.9t-0.3 -4.9t-1.5 -4.7t-2.1 -4.5t-2.8 -4.1t-4.1 -2t-3.6 2.2t0 4.5t3 3.8t1.9 1.6M665.3 1428.1q-1.6 4.7 -2.6 7t-2.2 4.5t-2.7 4.2t-3.2 3.8t-4 2.8t-4.8 1.2t-2.5 0.2M632.4 1477.1q1.4 -4.8 2.4 -7.1t2.5 -4.3t3.4 -3.6t4.2 -2.7t4.2 -2.7t3.7 -3.4t3 -4t1.9 -4.6t0.6 -2.4M636.4 1498.9q-5 -0.6 -7.4 -0.9t-4.7 -1.4t-3.9 -3t-2.5 -4.2t-0.7 -4.8t1.6 -4.5t3.4 -3.6t3.9 -3.1t4 -3t4.3 -2.5t2.3 -1M635.7 1420.5q-0.9 4.9 -1.5 7.3t-1.7 4.7t-2.4 4.3t-2.5 4.3t-2.1 4.5t-2.1 4.6t-2 4.6t-2.2 4.5t-2.7 4.2t-1.5 2M653.1 1471.5q3.3 3.8 4.7 5.8t2.6 4.2t2 4.6t0.8 4.9t-1 4.8t-3.5 2.9t-3.8 -1.5t-3.2 -3.8t-4.1 -2.8t-4.7 -1.5t-5 -0.6t-4.9 0.5t-4.8 1.4t-2.4 0.8M650.5 1519q-2.9 4.1 -4.8 5.7t-4.3 2.3t-4.7 -0.3t-4.6 -2t-4.7 -1.6t-4.9 -0.5t-4.8 1t-2.4 3.4t0.9 4.8t2.7 4.1t1.7 1.8M637.5 1463.8q2.2 -4.5 3.2 -6.8t2.3 -4.4t2.5 -4.3t2.5 -4.3t2.3 -4.4t2.4 -4.3t2.6 -4.3t1.9 -4.6t1.2 -4.8t0.7 -4.9t0.9 -4.9t0.5 -2.5M631.5 1487.7q-4.4 2.4 -6 4.3t-2.3 4.3t-0.3 4.9t1.6 4.7t3.3 3.5t4.5 2.1t4.9 0.9t5 -0.2t5 -0.4t2.5 0M659.9 1499.3q-1.7 -4.7 -2.5 -7.1t-1.5 -4.8t-1.3 -4.8t-2 -4.5t-3.1 -3.9t-3.5 -3.5t-3.9 -3.2t-2 -1.5M618.1 1402.8q3.7 3.4 5.9 4.5t4.7 1.3t4.9 -0.5t4.3 -2.3t3.5 -3.6t2.8 -4.1t2.2 -4.5t1 -2.3M679.4 1404.2q-1 -4.9 -2.5 -6.9t-4 -2.1t-4.7 1t-4.7 1.7t-4.9 0.2t-4.9 -0.9t-4.9 0.1t-4.3 2.2t-1.9 1.6M662.9 1390.8q-4.4 2.4 -6.6 3.6t-4.4 2.3t-4.5 2.1t-4.7 1.6t-4.9 1.2t-4.9 0.3t-4.6 -1.7t-2.1 -1.4M635.4 1397.4q-3.8 3.2 -5.9 4.7t-4.5 2t-4.9 0.5t-5 -0.5t-4.9 -0.8t-4.8 -1.3t-3.5 -3.1t-1.2 -2.2M636.5 1422.5q3.3 -3.7 5.4 -5.1t4.5 -1.8t5 -0.1t4.9 0.8t4.5 2t4 3t2.2 4.1t0.3 2.5M602.9 1531.4q3.4 -3.7 4.1 -6.1t1.1 -4.9t-0.1 -4.9t-1.6 -4.6t-3.2 -3.7t-4.2 -2.6t-4.7 -1.4t-5 -0.2t-4.9 0.8t-4.2 2.5t-1.8 1.7M585.9 1519.6q-2.4 -4.4 -2.6 -6.9t0.6 -4.8t2 -4.6t2.9 -4.1t3.8 -3.2t4.4 -2.3t4.8 -1.3t2.5 -0.3M605 1513.1q3 -4 4 -6.3t1.7 -4.7t0.6 -4.9t-0.8 -4.9t-2.1 -4.5t-3.5 -3.4t-4.2 -2.8t-3.8 -3.2t-3.4 -3.7t-1.6 -1.9M578.3 1515.5q5 -0.3 7.5 0t4.8 1.2t4.6 2t4.4 2.4t4.3 2.5t4.3 2.5t4.4 2.4t4.4 2.4t2.2 1.2" stroke="#262626" stroke-width="2.7"/><path d="M607.8 1432.7q0.7 -5 1.8 -7.2t2.9 -4t3.6 -3.5t3.9 -3.1t4 -3t3.7 -3.3t3.7 -3.3t3.5 -3.5t2.2 -4.4t0.6 -2.4M663.5 1409.7q0.6 -5 -1.7 -6t-4.8 -0.7t-5 0.5t-5 0.6t-4.3 2.1t-3.5 3.6t-3.1 3.9t-2.8 4.1t-2.8 4.1t-3.5 3.5t-2 1.5M618.9 1424.1q1.5 4.8 3 6.8t3.1 3.9t3.3 3.7t3.1 3.9t2.7 4.2t2.5 4.3t2.3 4.4t2.4 4.4t3.2 3.8t3.5 3.6t1.7 1.8M616.3 1427.9q-4.7 1.7 -7.2 1.7t-4.8 -1t-4.5 -2.1t-3.7 -3.2t-2.1 -4.4t-0.2 -4.9t1.9 -4.5t4 -1.9t5 0.5t4.9 1t4.9 1.2t4.8 1.3t4.4 2.3t2 1.5M649.6 1509.8q-4.7 1.6 -7.1 2.4t-4.8 1.5t-4.7 1.7t-4.5 2.1t-4.3 2.6t-4.3 2.5t-2.2 1.1M607.4 1454.5q2.4 -4.4 2.6 -6.9t-0.3 -4.9t-1.5 -4.7t-2.1 -4.5t-2.8 -4.1t-4.1 -2t-3.6 2.2t0 4.5t3 3.8t1.9 1.6M665.3 1428.1q-1.6 4.7 -2.6 7t-2.2 4.5t-2.7 4.2t-3.2 3.8t-4 2.8t-4.8 1.2t-2.5 0.2M632.4 1477.1q1.4 -4.8 2.4 -7.1t2.5 -4.3t3.4 -3.6t4.2 -2.7t4.2 -2.7t3.7 -3.4t3 -4t1.9 -4.6t0.6 -2.4M636.4 1498.9q-5 -0.6 -7.4 -0.9t-4.7 -1.4t-3.9 -3t-2.5 -4.2t-0.7 -4.8t1.6 -4.5t3.4 -3.6t3.9 -3.1t4 -3t4.3 -2.5t2.3 -1M635.7 1420.5q-0.9 4.9 -1.5 7.3t-1.7 4.7t-2.4 4.3t-2.5 4.3t-2.1 4.5t-2.1 4.6t-2 4.6t-2.2 4.5t-2.7 4.2t-1.5 2M653.1 1471.5q3.3 3.8 4.7 5.8t2.6 4.2t2 4.6t0.8 4.9t-1 4.8t-3.5 2.9t-3.8 -1.5t-3.2 -3.8t-4.1 -2.8t-4.7 -1.5t-5 -0.6t-4.9 0.5t-4.8 1.4t-2.4 0.8M650.5 1519q-2.9 4.1 -4.8 5.7t-4.3 2.3t-4.7 -0.3t-4.6 -2t-4.7 -1.6t-4.9 -0.5t-4.8 1t-2.4 3.4t0.9 4.8t2.7 4.1t1.7 1.8M637.5 1463.8q2.2 -4.5 3.2 -6.8t2.3 -4.4t2.5 -4.3t2.5 -4.3t2.3 -4.4t2.4 -4.3t2.6 -4.3t1.9 -4.6t1.2 -4.8t0.7 -4.9t0.9 -4.9t0.5 -2.5M631.5 1487.7q-4.4 2.4 -6 4.3t-2.3 4.3t-0.3 4.9t1.6 4.7t3.3 3.5t4.5 2.1t4.9 0.9t5 -0.2t5 -0.4t2.5 0M659.9 1499.3q-1.7 -4.7 -2.5 -7.1t-1.5 -4.8t-1.3 -4.8t-2 -4.5t-3.1 -3.9t-3.5 -3.5t-3.9 -3.2t-2 -1.5M618.1 1402.8q3.7 3.4 5.9 4.5t4.7 1.3t4.9 -0.5t4.3 -2.3t3.5 -3.6t2.8 -4.1t2.2 -4.5t1 -2.3M679.4 1404.2q-1 -4.9 -2.5 -6.9t-4 -2.1t-4.7 1t-4.7 1.7t-4.9 0.2t-4.9 -0.9t-4.9 0.1t-4.3 2.2t-1.9 1.6M662.9 1390.8q-4.4 2.4 -6.6 3.6t-4.4 2.3t-4.5 2.1t-4.7 1.6t-4.9 1.2t-4.9 0.3t-4.6 -1.7t-2.1 -1.4M635.4 1397.4q-3.8 3.2 -5.9 4.7t-4.5 2t-4.9 0.5t-5 -0.5t-4.9 -0.8t-4.8 -1.3t-3.5 -3.1t-1.2 -2.2M636.5 1422.5q3.3 -3.7 5.4 -5.1t4.5 -1.8t5 -0.1t4.9 0.8t4.5 2t4 3t2.2 4.1t0.3 2.5M602.9 1531.4q3.4 -3.7 4.1 -6.1t1.1 -4.9t-0.1 -4.9t-1.6 -4.6t-3.2 -3.7t-4.2 -2.6t-4.7 -1.4t-5 -0.2t-4.9 0.8t-4.2 2.5t-1.8 1.7M585.9 1519.6q-2.4 -4.4 -2.6 -6.9t0.6 -4.8t2 -4.6t2.9 -4.1t3.8 -3.2t4.4 -2.3t4.8 -1.3t2.5 -0.3M605 1513.1q3 -4 4 -6.3t1.7 -4.7t0.6 -4.9t-0.8 -4.9t-2.1 -4.5t-3.5 -3.4t-4.2 -2.8t-3.8 -3.2t-3.4 -3.7t-1.6 -1.9M578.3 1515.5q5 -0.3 7.5 0t4.8 1.2t4.6 2t4.4 2.4t4.3 2.5t4.3 2.5t4.4 2.4t4.4 2.4t2.2 1.2" stroke="#a3a3a3" stroke-width="1.1"/><path d="M616.5 1395.6q-4.9 3.4 -6.3 6.1t-2.5 5.4t-2.3 5.6t-2.2 5.6t-2.1 5.6t-1 2.8M681.7 1399.1q-1 5.9 -1.1 8.9t0.2 6t-1.9 5.1t-4.9 3.4t-5.6 1.8t-6 0.2t-5.8 -1.2t-2.8 -0.9M683.3 1415.6q-4.5 4 -7.1 5.4t-5.6 2t-5.8 -0.4t-5.5 -2.3t-5.3 -2.9t-5 -3.3t-4.8 -3.6t-4.7 -3.7t-4.8 -3.6t-5 -3.3t-5.4 -2.7t-2.8 -1.2M662.3 1389.1q-0.1 6 0.8 8.9t2.5 5.4t3.7 4.7t4.6 3.7t5.4 2.5t2.8 1M628.3 1423.5q-4 -4.5 -5.2 -7.2t-2.1 -5.6t-1.8 -5.7t-1.9 -5.7t-3.8 -3.8t-5.8 -1.1t-5.3 1.9t-2.3 2M625 1424.2q5.2 2.9 8.2 3.6t4.6 -1.9t0.4 -5.2t-2.3 -5.5t-2.2 -5.6t-2.3 -5.5t-2.8 -5.3t-1.6 -2.6M660.7 1419.4q-4 4.5 -6.5 6.1t-5.4 2.4t-4.7 -1.6t-1 -5.3t2 -5.6t2.8 -5.3t3.5 -4.9t1.9 -2.3M662.9 1426.6q2.2 -5.6 3.9 -8.1t3.6 -4.8t4.2 -4.3t2.2 -2M656.1 1378q-0.5 6 -0.9 9t-0.5 6t-0.7 6t-0.5 3M668.3 1476.6q-5.3 -2.9 -7.8 -4.5t-4.9 -3.5t-4.1 -4.3t-2.9 -5.2t-1.5 -5.8t-0.3 -3M667.9 1431.8q-1.1 -5.9 -2.3 -8.7t-2.7 -5.3t-3.1 -5.1t-3.5 -4.9t-3.9 -4.5t-4.7 -3.6t-5.2 -3.1t-2.5 -1.6M636.6 1443.1q4.5 4 6.4 6.3t3.7 4.7t3.2 5.1t3.1 5.1t3.1 5.1t2.8 5.3t2.6 5.4t1.2 2.7M645.5 1468.4q2.9 5.2 3.9 8.1t1.8 5.7t1.3 5.8t0.7 6t0.5 6t1.1 5.9t0.8 2.9M611.5 1396.2q3.5 4.9 5.5 7.1t4.1 4.4t4.4 4t4.8 3.6t2.5 1.7M655.9 1460.6q-4.6 -3.9 -7.1 -5.4t-5.3 -2.9t-5.3 -2.8t-5.4 -2.7t-5.6 -2t-5.7 -1.8t-5.6 -2.2t-5.5 -2.5t-5.2 -3t-4.7 -3.8t-2.2 -2M615.9 1505.3q4.8 3.5 7.3 5.2t5.2 3t5.6 2.2t2.9 0.9M661.3 1446.1q-5.9 -0.9 -8.7 -2.1t-5.1 -3.1t-4.2 -4.2t-3.4 -4.9t-2.8 -5.3t-1.9 -5.7t-0.7 -2.9M627.4 1468.4q3.3 -5 5 -7.5t3.2 -5.1t2.6 -5.4t1.8 -5.7t1.3 -5.9t1.1 -5.9t0.9 -5.9t0.4 -6t-0.1 -3M620.9 1436.1q-3 -5.2 -5 -7.4t-4.3 -4.2t-4.3 -4.2t-3.7 -4.7t-3 -5.2t-2.1 -5.6t0.5 -5.6t4.1 -3.8t2.8 -1.1M623.2 1398.8q3.5 4.9 4.6 7.6t2 5.6t1.3 5.8t0.7 6t0.3 6t0.1 6t0.5 6t1.9 5.6t3.5 4.8t4.5 3.9t2.4 1.7M615.6 1435.1q3 -5.2 4.5 -7.8t3.2 -5t3.3 -5t3.4 -4.9t3.8 -4.6t4.4 -4.1t4.5 -4t2.1 -2.1M594.4 1410.9q-1.3 5.9 0.9 7.9t4.4 4t4.5 3.9t4.6 3.9t5 3.3t5.3 2.8t5.3 2.9t5.3 2.8t5.5 2.5t2.8 1.1M630 1499.9q3.9 4.6 5.2 7.3t1.9 5.6t0.9 5.9t0.2 6t-0.1 3M619.7 1450.1q-0.3 6 0.1 9t1.5 5.8t2.6 5.4t2.9 5.2t2.6 5.4t2.1 5.6t1.6 5.8t0.7 2.9M610.1 1447.2q-5.2 -3 -7.5 -4.9t-4.1 -4.3t-3.2 -5t-1.4 -5.7t0.9 -5.9t2.4 -5.4t1.5 -2.6M615.1 1504.7q5.1 -3.2 7.5 -4.9t4.5 -3.9t3.8 -4.6t2.5 -5.3t1.3 -5.8t0.5 -5.9t-0.9 -5.9t-0.8 -2.9M650.1 1405.5q3 5.2 4.5 7.8t3.1 5.2t2.9 5.2t2.4 5.5t2.2 5.6t1.2 2.7M631.9 1444.7q-2.2 5.6 -3.6 8.2t-2.7 5.3t-2.8 5.3t-2.8 5.3t-2.6 5.4t-2.5 5.4t-1.2 2.7M649 1429q3.8 -4.6 5.7 -7t3.3 -5t2.6 -5.4t1.6 -5.7t0.5 -6t0.1 -3M630.5 1475.8q6 -0.7 8.8 -1.6t5.8 -1.7t5.7 -1.8t5.6 -2.1t5.5 -2.3t5.2 -2.9t2.5 -1.7M649.5 1422q-1.9 -5.7 -2.9 -8.5t-2.1 -5.6t-2.1 -5.6t-1.9 -5.7t-0.9 -2.9M627.3 1534q5.7 -1.8 8.3 -3.3t5.1 -3.2t4.2 -4.2t1 -5.3t-1.1 -5.9t-1.2 -5.9t-1.9 -5.7t-2.4 -5.5t-2 -5.6t-1.3 -5.9t-1 -5.9t-0.4 -3" stroke="#262626" stroke-width="4.5"/><path d="M616.5 1395.6q-4.9 3.4 -6.3 6.1t-2.5 5.4t-2.3 5.6t-2.2 5.6t-2.1 5.6t-1 2.8M681.7 1399.1q-1 5.9 -1.1 8.9t0.2 6t-1.9 5.1t-4.9 3.4t-5.6 1.8t-6 0.2t-5.8 -1.2t-2.8 -0.9M683.3 1415.6q-4.5 4 -7.1 5.4t-5.6 2t-5.8 -0.4t-5.5 -2.3t-5.3 -2.9t-5 -3.3t-4.8 -3.6t-4.7 -3.7t-4.8 -3.6t-5 -3.3t-5.4 -2.7t-2.8 -1.2M662.3 1389.1q-0.1 6 0.8 8.9t2.5 5.4t3.7 4.7t4.6 3.7t5.4 2.5t2.8 1M628.3 1423.5q-4 -4.5 -5.2 -7.2t-2.1 -5.6t-1.8 -5.7t-1.9 -5.7t-3.8 -3.8t-5.8 -1.1t-5.3 1.9t-2.3 2M625 1424.2q5.2 2.9 8.2 3.6t4.6 -1.9t0.4 -5.2t-2.3 -5.5t-2.2 -5.6t-2.3 -5.5t-2.8 -5.3t-1.6 -2.6M660.7 1419.4q-4 4.5 -6.5 6.1t-5.4 2.4t-4.7 -1.6t-1 -5.3t2 -5.6t2.8 -5.3t3.5 -4.9t1.9 -2.3M662.9 1426.6q2.2 -5.6 3.9 -8.1t3.6 -4.8t4.2 -4.3t2.2 -2M656.1 1378q-0.5 6 -0.9 9t-0.5 6t-0.7 6t-0.5 3M668.3 1476.6q-5.3 -2.9 -7.8 -4.5t-4.9 -3.5t-4.1 -4.3t-2.9 -5.2t-1.5 -5.8t-0.3 -3M667.9 1431.8q-1.1 -5.9 -2.3 -8.7t-2.7 -5.3t-3.1 -5.1t-3.5 -4.9t-3.9 -4.5t-4.7 -3.6t-5.2 -3.1t-2.5 -1.6M636.6 1443.1q4.5 4 6.4 6.3t3.7 4.7t3.2 5.1t3.1 5.1t3.1 5.1t2.8 5.3t2.6 5.4t1.2 2.7M645.5 1468.4q2.9 5.2 3.9 8.1t1.8 5.7t1.3 5.8t0.7 6t0.5 6t1.1 5.9t0.8 2.9M611.5 1396.2q3.5 4.9 5.5 7.1t4.1 4.4t4.4 4t4.8 3.6t2.5 1.7M655.9 1460.6q-4.6 -3.9 -7.1 -5.4t-5.3 -2.9t-5.3 -2.8t-5.4 -2.7t-5.6 -2t-5.7 -1.8t-5.6 -2.2t-5.5 -2.5t-5.2 -3t-4.7 -3.8t-2.2 -2M615.9 1505.3q4.8 3.5 7.3 5.2t5.2 3t5.6 2.2t2.9 0.9M661.3 1446.1q-5.9 -0.9 -8.7 -2.1t-5.1 -3.1t-4.2 -4.2t-3.4 -4.9t-2.8 -5.3t-1.9 -5.7t-0.7 -2.9M627.4 1468.4q3.3 -5 5 -7.5t3.2 -5.1t2.6 -5.4t1.8 -5.7t1.3 -5.9t1.1 -5.9t0.9 -5.9t0.4 -6t-0.1 -3M620.9 1436.1q-3 -5.2 -5 -7.4t-4.3 -4.2t-4.3 -4.2t-3.7 -4.7t-3 -5.2t-2.1 -5.6t0.5 -5.6t4.1 -3.8t2.8 -1.1M623.2 1398.8q3.5 4.9 4.6 7.6t2 5.6t1.3 5.8t0.7 6t0.3 6t0.1 6t0.5 6t1.9 5.6t3.5 4.8t4.5 3.9t2.4 1.7M615.6 1435.1q3 -5.2 4.5 -7.8t3.2 -5t3.3 -5t3.4 -4.9t3.8 -4.6t4.4 -4.1t4.5 -4t2.1 -2.1M594.4 1410.9q-1.3 5.9 0.9 7.9t4.4 4t4.5 3.9t4.6 3.9t5 3.3t5.3 2.8t5.3 2.9t5.3 2.8t5.5 2.5t2.8 1.1M630 1499.9q3.9 4.6 5.2 7.3t1.9 5.6t0.9 5.9t0.2 6t-0.1 3M619.7 1450.1q-0.3 6 0.1 9t1.5 5.8t2.6 5.4t2.9 5.2t2.6 5.4t2.1 5.6t1.6 5.8t0.7 2.9M610.1 1447.2q-5.2 -3 -7.5 -4.9t-4.1 -4.3t-3.2 -5t-1.4 -5.7t0.9 -5.9t2.4 -5.4t1.5 -2.6M615.1 1504.7q5.1 -3.2 7.5 -4.9t4.5 -3.9t3.8 -4.6t2.5 -5.3t1.3 -5.8t0.5 -5.9t-0.9 -5.9t-0.8 -2.9M650.1 1405.5q3 5.2 4.5 7.8t3.1 5.2t2.9 5.2t2.4 5.5t2.2 5.6t1.2 2.7M631.9 1444.7q-2.2 5.6 -3.6 8.2t-2.7 5.3t-2.8 5.3t-2.8 5.3t-2.6 5.4t-2.5 5.4t-1.2 2.7M649 1429q3.8 -4.6 5.7 -7t3.3 -5t2.6 -5.4t1.6 -5.7t0.5 -6t0.1 -3M630.5 1475.8q6 -0.7 8.8 -1.6t5.8 -1.7t5.7 -1.8t5.6 -2.1t5.5 -2.3t5.2 -2.9t2.5 -1.7M649.5 1422q-1.9 -5.7 -2.9 -8.5t-2.1 -5.6t-2.1 -5.6t-1.9 -5.7t-0.9 -2.9M627.3 1534q5.7 -1.8 8.3 -3.3t5.1 -3.2t4.2 -4.2t1 -5.3t-1.1 -5.9t-1.2 -5.9t-1.9 -5.7t-2.4 -5.5t-2 -5.6t-1.3 -5.9t-1 -5.9t-0.4 -3" stroke="#a3a3a3" stroke-width="2.5"/><path d="M584 1536.2q0.9 -6.4 1.4 -9.6t1.1 -6.4t1 -6.4t0.6 -6.5t-0.1 -6.5t-0.6 -6.5t-0.7 -6.5t-0.3 -6.5t0.6 -6.5t1.5 -6.3t4.1 -3.9t6.4 -1t3.2 -0.2M616 1541.3q-1.5 -6.3 -2.5 -9.4t-2 -6.2t-2.2 -6.1t-2.4 -6t-3 -5.8t-1.7 -2.8M596.9 1504.6q-1.9 -6.2 -3.2 -9.2t-2.8 -5.9t-3.2 -5.7t-2.3 -6t0.8 -6.1t3.3 -5.6t5.1 -2.5t6.4 0.9t6.1 2.1t3 1.3M617.2 1530.2q-1.8 -6.2 -4 -8.6t-4.7 -4.5t-5.1 -4t-5.4 -3.7t-5.5 -3.5t-5.7 -3.2t-5.7 -3t-2.9 -1.5M598.8 1510.9q0.6 -6.5 0.8 -9.7t0.2 -6.5t-0.4 -6.5t-1.3 -6.3t-2.1 -6.1t-2.6 -6t-1.4 -3M593.1 1538q-1.9 -6.2 -3.1 -9.2t-2.5 -6t-2.9 -5.8t-3.3 -5.6t-1.7 -2.8M612.3 1545.4q-3.4 -5.5 -5.1 -8.3t-3.3 -5.6t-2.8 -5.8t-2.4 -6t-2.3 -6.1t-2 -6.2t-1.6 -6.3t-0.7 -3.2M578.3 1502.7q2.6 6 3.8 9t2.4 6t2.6 6t2.7 5.9t2.9 5.8t1.6 2.8M616.2 1546q-2.1 -6.2 -3.2 -9.2t-2.5 -6t-3.1 -5.7t-3.7 -5.3t-4.1 -5t-4.3 -4.9t-4.5 -4.7t-4.8 -4.3t-5.1 -4.1t-2.6 -2M587.5 1471.3q4.3 4.9 6.2 7.5t3.4 5.5t2.7 5.9t2.3 6.1t2.2 6.1t2.4 6t2.5 6t2.5 6t2.4 6t2.1 6.1t0.9 3.1M598 1489.6q1 -6.4 1.1 -9.7t-0.2 -6.5t-1.2 -6.4t-0.8 -3.2M599.9 1463.7q-0.5 6.5 -0.1 9.7t1.1 6.4t1.7 6.3t2.2 6.1t2.5 6t2.8 5.9t3.1 5.7t3.3 5.6t1.7 2.8M694.9 1459q2.3 -5.5 3.3 -8.4t1.7 -5.8t1.3 -5.9t1.2 -5.9t1.2 -5.9t1.5 -5.8t3.2 -4.9t2.2 -2M709.4 1442.1q3.6 4.8 5.1 7.4t2.7 5.3t1.9 5.7t0.7 2.9M693.1 1466.3q0.9 -5.9 1.5 -8.9t1 -5.9t1 -5.9t1.2 -5.9t1.4 -5.8t1.5 -5.8t1.5 -5.8t1.2 -5.9t-1.8 -4.9t-2.3 -1.9M694.3 1440.8q3.9 4.5 5.8 6.9t3.5 4.9t3 5.2t2.7 5.4t1.3 2.7M710.3 1425.9q3.3 5 4.5 7.8t0.7 5.7t-1.1 5.9t-1.2 5.9t-1.5 5.8t-2.1 5.6t-4.2 3.2t-3 0.5M687.8 1444.5q1 -5.9 1.5 -8.9t0.9 -5.9t0.5 -6t-0.2 -6t-1.1 -5.9t-3 -5t-5 -2.6t-6 -0.3t-3 0.1M700 1430.2q-1.1 -5.9 -1.7 -8.8t-0.9 -5.9t-0.8 -6t-0.4 -3M667 1397.6q5 3.3 6.5 5.9t3.1 5.2t3.3 5t3.3 5t3.1 5.1t3 5.2t3 5.2t3.1 5.2t1.6 2.6M703.6 1467.3q4.5 -3.9 5.5 -6.8t1.9 -5.7t1.7 -5.8t1.4 -5.8t0.6 -5.9t-0.3 -6t-1.9 -5.5t-3.7 -4.7t-4.5 -3.9t-2.4 -1.8M686.4 1462.8q-0.5 -6 -1.3 -8.9t-2 -5.6t-2.4 -5.5t-1.2 -2.8" stroke="#262626" stroke-width="4.5"/><path d="M584 1536.2q0.9 -6.4 1.4 -9.6t1.1 -6.4t1 -6.4t0.6 -6.5t-0.1 -6.5t-0.6 -6.5t-0.7 -6.5t-0.3 -6.5t0.6 -6.5t1.5 -6.3t4.1 -3.9t6.4 -1t3.2 -0.2M616 1541.3q-1.5 -6.3 -2.5 -9.4t-2 -6.2t-2.2 -6.1t-2.4 -6t-3 -5.8t-1.7 -2.8M596.9 1504.6q-1.9 -6.2 -3.2 -9.2t-2.8 -5.9t-3.2 -5.7t-2.3 -6t0.8 -6.1t3.3 -5.6t5.1 -2.5t6.4 0.9t6.1 2.1t3 1.3M617.2 1530.2q-1.8 -6.2 -4 -8.6t-4.7 -4.5t-5.1 -4t-5.4 -3.7t-5.5 -3.5t-5.7 -3.2t-5.7 -3t-2.9 -1.5M598.8 1510.9q0.6 -6.5 0.8 -9.7t0.2 -6.5t-0.4 -6.5t-1.3 -6.3t-2.1 -6.1t-2.6 -6t-1.4 -3M593.1 1538q-1.9 -6.2 -3.1 -9.2t-2.5 -6t-2.9 -5.8t-3.3 -5.6t-1.7 -2.8M612.3 1545.4q-3.4 -5.5 -5.1 -8.3t-3.3 -5.6t-2.8 -5.8t-2.4 -6t-2.3 -6.1t-2 -6.2t-1.6 -6.3t-0.7 -3.2M578.3 1502.7q2.6 6 3.8 9t2.4 6t2.6 6t2.7 5.9t2.9 5.8t1.6 2.8M616.2 1546q-2.1 -6.2 -3.2 -9.2t-2.5 -6t-3.1 -5.7t-3.7 -5.3t-4.1 -5t-4.3 -4.9t-4.5 -4.7t-4.8 -4.3t-5.1 -4.1t-2.6 -2M587.5 1471.3q4.3 4.9 6.2 7.5t3.4 5.5t2.7 5.9t2.3 6.1t2.2 6.1t2.4 6t2.5 6t2.5 6t2.4 6t2.1 6.1t0.9 3.1M598 1489.6q1 -6.4 1.1 -9.7t-0.2 -6.5t-1.2 -6.4t-0.8 -3.2M599.9 1463.7q-0.5 6.5 -0.1 9.7t1.1 6.4t1.7 6.3t2.2 6.1t2.5 6t2.8 5.9t3.1 5.7t3.3 5.6t1.7 2.8M694.9 1459q2.3 -5.5 3.3 -8.4t1.7 -5.8t1.3 -5.9t1.2 -5.9t1.2 -5.9t1.5 -5.8t3.2 -4.9t2.2 -2M709.4 1442.1q3.6 4.8 5.1 7.4t2.7 5.3t1.9 5.7t0.7 2.9M693.1 1466.3q0.9 -5.9 1.5 -8.9t1 -5.9t1 -5.9t1.2 -5.9t1.4 -5.8t1.5 -5.8t1.5 -5.8t1.2 -5.9t-1.8 -4.9t-2.3 -1.9M694.3 1440.8q3.9 4.5 5.8 6.9t3.5 4.9t3 5.2t2.7 5.4t1.3 2.7M710.3 1425.9q3.3 5 4.5 7.8t0.7 5.7t-1.1 5.9t-1.2 5.9t-1.5 5.8t-2.1 5.6t-4.2 3.2t-3 0.5M687.8 1444.5q1 -5.9 1.5 -8.9t0.9 -5.9t0.5 -6t-0.2 -6t-1.1 -5.9t-3 -5t-5 -2.6t-6 -0.3t-3 0.1M700 1430.2q-1.1 -5.9 -1.7 -8.8t-0.9 -5.9t-0.8 -6t-0.4 -3M667 1397.6q5 3.3 6.5 5.9t3.1 5.2t3.3 5t3.3 5t3.1 5.1t3 5.2t3 5.2t3.1 5.2t1.6 2.6M703.6 1467.3q4.5 -3.9 5.5 -6.8t1.9 -5.7t1.7 -5.8t1.4 -5.8t0.6 -5.9t-0.3 -6t-1.9 -5.5t-3.7 -4.7t-4.5 -3.9t-2.4 -1.8M686.4 1462.8q-0.5 -6 -1.3 -8.9t-2 -5.6t-2.4 -5.5t-1.2 -2.8" stroke="#a3a3a3" stroke-width="2.5"/><path d="M684.4 1512.8q3 -3.2 0.8 -3.6t-3.2 2.6t1.6 4.5t4.1 0t-0.7 -1.9t-3.2 2.6t1.6 4.5t4.1 0t-0.7 -1.9t-3.2 2.6t1.6 4.5t4.1 0t-0.7 -1.9t-3.2 2.6t1.6 4.5t4.1 0t-0.7 -1.9t-3.2 2.6t1.6 4.5t4.1 0t-0.7 -1.9t-3.2 2.6t-1 2.9M715.6 1530.5q5.7 -0.8 5.9 -2.8t-1.5 -0.9t-0.6 3.8t3.9 2.3t3 -2.4t-1.5 -0.9t-0.6 3.8t3.9 2.3t3 -2.4t-1.5 -0.9t-0.6 3.8t3.9 2.3t2.9 -0.4M704.1 1564.8q-2.1 -3.9 -3.1 -1.9t1.4 3.9t4.9 0t1.4 -3.9t-2.1 0t1.4 3.9t4.9 0t1.4 -3.9t-2.1 0t-1 2M708.7 1542.7q5.5 -2.4 5 -4.5t-1.9 -0.5t0.3 4t4.5 1.2t2.3 -3.3t-1.9 -0.5t0.3 4t4.5 1.2t2.3 -3.3t-1.9 -0.5t0.3 4t4.5 1.2t2.3 -3.3t-1.9 -0.5t0.3 4t4.5 1.2t2.3 -3.3t-1.9 -0.5t0.3 4t1.8 2.4M701.8 1514.7q5.8 -0.8 6 -2.8t-1.5 -0.8t-0.5 3.9t4.1 2.3t3.1 -2.4t-1.5 -0.8t-0.5 3.9t4.1 2.3t3.1 -2.4t-1.5 -0.8t-0.5 3.9t4.1 2.3t3.1 -2.4t-1.5 -0.8t-0.5 3.9t4.1 2.3t2.9 -0.4M699.1 1540.2q6.1 0 6.5 -2.1t-1.4 -1.1t-1.1 3.9t3.8 2.9t3.5 -2t-1.4 -1.1t-1.1 3.9t3.8 2.9t3.5 -2t-1.4 -1.1t-1.1 3.9t3.8 2.9t3.5 -2t-1.4 -1.1t-1.1 3.9t3.8 2.9t3.5 -2t-1.4 -1.1t-1.1 3.9t0.7 2.9M700.4 1503.1q2.2 5.2 5 4.9t3 -2.2t-1.3 -0.8t-0.4 3.7t3.9 2.3t3 -2.2t-1.3 -0.8t-0.4 3.7t3.9 2.3t3 -2.2t-1.3 -0.8t-1.5 1.1M676.2 1515.5q4.2 4 5.8 3t-0.2 -1.4t-3.1 2.1t0.8 4.6t3.7 1t-0.2 -1.4t-3.1 2.1t0.8 4.6t3.7 1t-0.2 -1.4t-3.1 2.1t0.8 4.6t3.7 1t-0.2 -1.4t-3.1 2.1t0.8 4.6t2.1 2M684.2 1508.7q3.5 4.5 6.1 3.3t2.2 -3.2t-1.7 -0.4t0.5 3.8t4.4 1.1t2.2 -3.2t-1.7 -0.4t0.5 3.8t4.4 1.1t2.2 -3.2t-1.7 -0.4t0.5 3.8t4.4 1.1t2.2 -3.2t-1.7 -0.4t0.5 3.8t4.4 1.1t2.6 -1.2M725.4 1513.5q5.6 0.5 6.1 -1.2t-1 -0.9t-1.1 3.5t3.3 3t3.4 -1.4t-1 -0.9t-1.1 3.5t3.3 3t3.4 -1.4t-1 -0.9t-1.1 3.5t3.3 3t2.8 0.3M704.9 1556.1q6 -1.4 5.9 -3.6t-1.7 -0.8t-0.3 4.1t4.3 2t2.9 -2.9t-1.7 -0.8t-0.3 4.1t4.3 2t2.9 -2.9t-1.7 -0.8t-0.3 4.1t1.4 2.7M686.7 1553.7q5.4 -1.5 5.4 -3.4t-1.4 -0.6t0.1 3.7t4.2 1.6t2.6 -2.6t-1.4 -0.6t0.1 3.7t4.2 1.6t2.6 -2.6t-1.4 -0.6t0.1 3.7t4.2 1.6t2.6 -2.6t-0.1 -1.9M680 1533.2q4.9 3.8 6.6 2.4t-0.5 -1.8t-3.4 2.4t1.2 4.7t4.1 0.5t-0.5 -1.8t-3.4 2.4t1.2 4.7t4.1 0.5t-0.5 -1.8t-3.4 2.4t1.2 4.7t4.1 0.5t-0.5 -1.8t-2.1 -0.4M691.5 1529.6q4.5 -4.4 3.2 -6.3t-2.1 0.2t1.8 3.8t4.9 -0.5t1 -4.1t-2.1 0.2t1.8 3.8t4.9 -0.5t1 -4.1t-2.1 0.2t1.8 3.8t4.9 -0.5t1 -4.1t-2.1 0.2t1.8 3.8t4.9 -0.5t1 -4.1t-2.1 0.2t-0.9 2.1M676 1541.9q-1.1 -3.5 -2.1 -2t1 3.5t4.4 0.5t1.8 -3.2t-1.5 -0.2t1 3.5t4.4 0.5t1.8 -3.2t-1.5 -0.2t1 3.5t4.4 0.5t1.8 -3.2t-1.5 -0.2t1 3.5t2 1.9M696.7 1551.6q5.6 0.8 6.2 -1t-1.2 -1.2t-1.5 3.4t3.1 3.2t3.4 -1.4t-1.2 -1.2t-1.5 3.4t3.1 3.2t3.4 -1.4t-1.2 -1.2t-1.5 3.4t3.1 3.2t3.4 -1.4t-1.2 -1.2t-1.5 3.4t0.3 2.8M660.1 1520.1q5.5 2.5 6.8 0.8t-0.9 -1.8t-2.8 2.9t2.1 4.3t4 -0.5t-0.9 -1.8t-2.8 2.9t2.1 4.3t4 -0.5t-0.9 -1.8t-2.8 2.9t2.1 4.3t4 -0.5t-0.9 -1.8t-2.2 0M686.4 1528.8q4.6 4.4 6.4 3.2t-0.3 -1.8t-3.6 2.1t0.7 5t4.1 1t-0.3 -1.8t-3.6 2.1t0.7 5t4.1 1t-0.3 -1.8t-2.1 -0.6M733.5 1524.7q4.7 3.6 6.3 2.4t-0.4 -1.6t-3.1 2.4t1.2 4.6t3.9 0.5t-0.4 -1.6t-3.1 2.4t1.2 4.6t3.9 0.5t-0.4 -1.6t-3.1 2.4t-1.1 2.8M714.6 1507.8q3.6 4.7 5.4 3.8t0 -1.7t-3.6 1.4t0 4.7t3.6 1.5t0 -1.7t-3.6 1.4t0 4.7t1.8 2.3M666.1 1529.5q-1.7 -3.8 -2.6 -1.9t1.6 3.8t4.9 0t1.6 -3.8t-1.7 0t1.6 3.8t4.9 0t1.6 -3.8t-0.9 -1.9M722.7 1530.5q5.3 -0.6 5.5 -2.4t-1.2 -0.7t-0.4 3.5t3.7 2.2t2.9 -2.1t-1.2 -0.7t-0.4 3.5t3.7 2.2t2.9 -2.1t-1.2 -0.7t-0.4 3.5t3.7 2.2t2.9 -2.1t-1.2 -0.7t-1.4 1M693.3 1534.5q4.8 -2.3 4.4 -4t-1.4 -0.3t0.8 3.4t4.2 0.8t2 -2.9t-1.4 -0.3t0.8 3.4t4.2 0.8t2 -2.9t-1.4 -0.3t0.8 3.4t4.2 0.8t2 -2.9t-1.4 -0.3t0.8 3.4t4.2 0.8t2 -2.9t-0.4 -1.7M663.8 1529.8q1.7 -5.6 -0.1 -6.6t-1.5 1t3.2 2.2t3.8 -2.6t-0.9 -3.8t-1.5 1t3.2 2.2t3.8 -2.6t-0.9 -3.8t-1.5 1t3.2 2.2t3.8 -2.6t0.8 -2.8M663.3 1511.3q-0.1 5.7 2.6 6.6t3.7 -0.7t-0.8 -1.2t-1.9 3.2t2.6 3.7t3.7 -0.7t-0.8 -1.2t-1.9 3.2t-0.1 2.8M681.2 1515.8q5.6 -0.6 5.8 -2.5t-1.3 -0.8t-0.5 3.7t3.9 2.3t3 -2.2t-1.3 -0.8t-0.5 3.7t3.9 2.3t3 -2.2t-1.3 -0.8t-0.5 3.7t1 2.6M702.8 1525.7q6.2 0.3 6.8 -1.8t-1.4 -1.2t-1.3 3.9t3.8 3.2t3.7 -1.9t-1.4 -1.2t-1.3 3.9t3.8 3.2t3.7 -1.9t-1.4 -1.2t-1.3 3.9t3.8 3.2t3.7 -1.9t0.5 -2M668.2 1287.7q5.2 3.1 6.7 1.5t-0.7 -1.8t-3.1 2.6t1.7 4.4t4 0t-0.7 -1.8t-3.1 2.6t1.7 4.4t4 0t-0.7 -1.8t-3.1 2.6t1.7 4.4t4 0t-0.7 -1.8t-3.1 2.6t1.7 4.4t4 0t-0.7 -1.8t-3.1 2.6t1.7 4.4t2.6 1.6M676 1289.2q4.8 2.9 6.1 1.5t-0.6 -1.5t-2.7 2.5t1.6 4.1t3.7 0.1t-0.6 -1.5t-2.7 2.5t1.6 4.1t3.7 0.1t-0.6 -1.5t-2.7 2.5t1.6 4.1t3.7 0.1t-0.6 -1.5t-2.7 2.5t1.6 4.1t2.4 1.4M651.3 1302.3q5.1 -2.1 4.8 -4t-1.5 -0.4t0.4 3.7t4.2 1.2t2.3 -2.9t-1.5 -0.4t0.4 3.7t4.2 1.2t2.3 -2.9t-1.5 -0.4t0.4 3.7t4.2 1.2t2.6 -1.1M677.9 1319.9q5.7 2.1 6.8 0.3t-1 -1.7t-2.6 3.1t2.4 4.1t4 -0.7t-1 -1.7t-2.6 3.1t2.4 4.1t4 -0.7t-1 -1.7t-2.6 3.1t2.4 4.1t4 -0.7t-1 -1.7t-2.6 3.1t2.4 4.1t4 -0.7t-1 -1.7t-2.6 3.1t2.4 4.1t4 -0.7t1.1 -1.8M686.2 1316.6q5.1 2.2 6.2 0.7t-0.8 -1.4t-2.3 2.9t2.1 3.9t3.7 -0.4t-0.8 -1.4t-2.3 2.9t2.1 3.9t3.7 -0.4t-0.8 -1.4t-2.3 2.9t2.1 3.9t3.7 -0.4t-0.8 -1.4t-2.3 2.9t2.1 3.9t2.5 1.1M671.1 1322.4q4.9 2.6 6.1 1.2t-0.7 -1.4t-2.5 2.7t1.8 4t3.7 -0.1t-0.7 -1.4t-2.5 2.7t1.8 4t3.7 -0.1t-0.7 -1.4t-2.5 2.7t1.8 4t3.7 -0.1t-0.7 -1.4t-2.5 2.7t1.8 4t2.5 1.3M629.3 1514.4q2.9 4.2 4.4 3.6t0.1 -1.3t-3.1 1.2t-0.2 4t3 1.5t0.1 -1.3t-3.1 1.2t-0.2 4t3 1.5t0.1 -1.3t-3.1 1.2t-0.2 4t1.4 2.1M615.7 1453.6q4.4 3.4 5.8 2.2t-0.4 -1.4t-2.8 2.3t1.2 4.3t3.6 0.5t-0.4 -1.4t-2.8 2.3t1.2 4.3t3.6 0.5t-0.4 -1.4t-2.8 2.3t1.2 4.3t3.6 0.5t-0.4 -1.4t-1.8 -0.3" stroke="#262626" stroke-width="3.3"/><path d="M684.4 1512.8q3 -3.2 0.8 -3.6t-3.2 2.6t1.6 4.5t4.1 0t-0.7 -1.9t-3.2 2.6t1.6 4.5t4.1 0t-0.7 -1.9t-3.2 2.6t1.6 4.5t4.1 0t-0.7 -1.9t-3.2 2.6t1.6 4.5t4.1 0t-0.7 -1.9t-3.2 2.6t1.6 4.5t4.1 0t-0.7 -1.9t-3.2 2.6t-1 2.9M715.6 1530.5q5.7 -0.8 5.9 -2.8t-1.5 -0.9t-0.6 3.8t3.9 2.3t3 -2.4t-1.5 -0.9t-0.6 3.8t3.9 2.3t3 -2.4t-1.5 -0.9t-0.6 3.8t3.9 2.3t2.9 -0.4M704.1 1564.8q-2.1 -3.9 -3.1 -1.9t1.4 3.9t4.9 0t1.4 -3.9t-2.1 0t1.4 3.9t4.9 0t1.4 -3.9t-2.1 0t-1 2M708.7 1542.7q5.5 -2.4 5 -4.5t-1.9 -0.5t0.3 4t4.5 1.2t2.3 -3.3t-1.9 -0.5t0.3 4t4.5 1.2t2.3 -3.3t-1.9 -0.5t0.3 4t4.5 1.2t2.3 -3.3t-1.9 -0.5t0.3 4t4.5 1.2t2.3 -3.3t-1.9 -0.5t0.3 4t1.8 2.4M701.8 1514.7q5.8 -0.8 6 -2.8t-1.5 -0.8t-0.5 3.9t4.1 2.3t3.1 -2.4t-1.5 -0.8t-0.5 3.9t4.1 2.3t3.1 -2.4t-1.5 -0.8t-0.5 3.9t4.1 2.3t3.1 -2.4t-1.5 -0.8t-0.5 3.9t4.1 2.3t2.9 -0.4M699.1 1540.2q6.1 0 6.5 -2.1t-1.4 -1.1t-1.1 3.9t3.8 2.9t3.5 -2t-1.4 -1.1t-1.1 3.9t3.8 2.9t3.5 -2t-1.4 -1.1t-1.1 3.9t3.8 2.9t3.5 -2t-1.4 -1.1t-1.1 3.9t3.8 2.9t3.5 -2t-1.4 -1.1t-1.1 3.9t0.7 2.9M700.4 1503.1q2.2 5.2 5 4.9t3 -2.2t-1.3 -0.8t-0.4 3.7t3.9 2.3t3 -2.2t-1.3 -0.8t-0.4 3.7t3.9 2.3t3 -2.2t-1.3 -0.8t-1.5 1.1M676.2 1515.5q4.2 4 5.8 3t-0.2 -1.4t-3.1 2.1t0.8 4.6t3.7 1t-0.2 -1.4t-3.1 2.1t0.8 4.6t3.7 1t-0.2 -1.4t-3.1 2.1t0.8 4.6t3.7 1t-0.2 -1.4t-3.1 2.1t0.8 4.6t2.1 2M684.2 1508.7q3.5 4.5 6.1 3.3t2.2 -3.2t-1.7 -0.4t0.5 3.8t4.4 1.1t2.2 -3.2t-1.7 -0.4t0.5 3.8t4.4 1.1t2.2 -3.2t-1.7 -0.4t0.5 3.8t4.4 1.1t2.2 -3.2t-1.7 -0.4t0.5 3.8t4.4 1.1t2.6 -1.2M725.4 1513.5q5.6 0.5 6.1 -1.2t-1 -0.9t-1.1 3.5t3.3 3t3.4 -1.4t-1 -0.9t-1.1 3.5t3.3 3t3.4 -1.4t-1 -0.9t-1.1 3.5t3.3 3t2.8 0.3M704.9 1556.1q6 -1.4 5.9 -3.6t-1.7 -0.8t-0.3 4.1t4.3 2t2.9 -2.9t-1.7 -0.8t-0.3 4.1t4.3 2t2.9 -2.9t-1.7 -0.8t-0.3 4.1t1.4 2.7M686.7 1553.7q5.4 -1.5 5.4 -3.4t-1.4 -0.6t0.1 3.7t4.2 1.6t2.6 -2.6t-1.4 -0.6t0.1 3.7t4.2 1.6t2.6 -2.6t-1.4 -0.6t0.1 3.7t4.2 1.6t2.6 -2.6t-0.1 -1.9M680 1533.2q4.9 3.8 6.6 2.4t-0.5 -1.8t-3.4 2.4t1.2 4.7t4.1 0.5t-0.5 -1.8t-3.4 2.4t1.2 4.7t4.1 0.5t-0.5 -1.8t-3.4 2.4t1.2 4.7t4.1 0.5t-0.5 -1.8t-2.1 -0.4M691.5 1529.6q4.5 -4.4 3.2 -6.3t-2.1 0.2t1.8 3.8t4.9 -0.5t1 -4.1t-2.1 0.2t1.8 3.8t4.9 -0.5t1 -4.1t-2.1 0.2t1.8 3.8t4.9 -0.5t1 -4.1t-2.1 0.2t1.8 3.8t4.9 -0.5t1 -4.1t-2.1 0.2t-0.9 2.1M676 1541.9q-1.1 -3.5 -2.1 -2t1 3.5t4.4 0.5t1.8 -3.2t-1.5 -0.2t1 3.5t4.4 0.5t1.8 -3.2t-1.5 -0.2t1 3.5t4.4 0.5t1.8 -3.2t-1.5 -0.2t1 3.5t2 1.9M696.7 1551.6q5.6 0.8 6.2 -1t-1.2 -1.2t-1.5 3.4t3.1 3.2t3.4 -1.4t-1.2 -1.2t-1.5 3.4t3.1 3.2t3.4 -1.4t-1.2 -1.2t-1.5 3.4t3.1 3.2t3.4 -1.4t-1.2 -1.2t-1.5 3.4t0.3 2.8M660.1 1520.1q5.5 2.5 6.8 0.8t-0.9 -1.8t-2.8 2.9t2.1 4.3t4 -0.5t-0.9 -1.8t-2.8 2.9t2.1 4.3t4 -0.5t-0.9 -1.8t-2.8 2.9t2.1 4.3t4 -0.5t-0.9 -1.8t-2.2 0M686.4 1528.8q4.6 4.4 6.4 3.2t-0.3 -1.8t-3.6 2.1t0.7 5t4.1 1t-0.3 -1.8t-3.6 2.1t0.7 5t4.1 1t-0.3 -1.8t-2.1 -0.6M733.5 1524.7q4.7 3.6 6.3 2.4t-0.4 -1.6t-3.1 2.4t1.2 4.6t3.9 0.5t-0.4 -1.6t-3.1 2.4t1.2 4.6t3.9 0.5t-0.4 -1.6t-3.1 2.4t-1.1 2.8M714.6 1507.8q3.6 4.7 5.4 3.8t0 -1.7t-3.6 1.4t0 4.7t3.6 1.5t0 -1.7t-3.6 1.4t0 4.7t1.8 2.3M666.1 1529.5q-1.7 -3.8 -2.6 -1.9t1.6 3.8t4.9 0t1.6 -3.8t-1.7 0t1.6 3.8t4.9 0t1.6 -3.8t-0.9 -1.9M722.7 1530.5q5.3 -0.6 5.5 -2.4t-1.2 -0.7t-0.4 3.5t3.7 2.2t2.9 -2.1t-1.2 -0.7t-0.4 3.5t3.7 2.2t2.9 -2.1t-1.2 -0.7t-0.4 3.5t3.7 2.2t2.9 -2.1t-1.2 -0.7t-1.4 1M693.3 1534.5q4.8 -2.3 4.4 -4t-1.4 -0.3t0.8 3.4t4.2 0.8t2 -2.9t-1.4 -0.3t0.8 3.4t4.2 0.8t2 -2.9t-1.4 -0.3t0.8 3.4t4.2 0.8t2 -2.9t-1.4 -0.3t0.8 3.4t4.2 0.8t2 -2.9t-0.4 -1.7M663.8 1529.8q1.7 -5.6 -0.1 -6.6t-1.5 1t3.2 2.2t3.8 -2.6t-0.9 -3.8t-1.5 1t3.2 2.2t3.8 -2.6t-0.9 -3.8t-1.5 1t3.2 2.2t3.8 -2.6t0.8 -2.8M663.3 1511.3q-0.1 5.7 2.6 6.6t3.7 -0.7t-0.8 -1.2t-1.9 3.2t2.6 3.7t3.7 -0.7t-0.8 -1.2t-1.9 3.2t-0.1 2.8M681.2 1515.8q5.6 -0.6 5.8 -2.5t-1.3 -0.8t-0.5 3.7t3.9 2.3t3 -2.2t-1.3 -0.8t-0.5 3.7t3.9 2.3t3 -2.2t-1.3 -0.8t-0.5 3.7t1 2.6M702.8 1525.7q6.2 0.3 6.8 -1.8t-1.4 -1.2t-1.3 3.9t3.8 3.2t3.7 -1.9t-1.4 -1.2t-1.3 3.9t3.8 3.2t3.7 -1.9t-1.4 -1.2t-1.3 3.9t3.8 3.2t3.7 -1.9t0.5 -2M668.2 1287.7q5.2 3.1 6.7 1.5t-0.7 -1.8t-3.1 2.6t1.7 4.4t4 0t-0.7 -1.8t-3.1 2.6t1.7 4.4t4 0t-0.7 -1.8t-3.1 2.6t1.7 4.4t4 0t-0.7 -1.8t-3.1 2.6t1.7 4.4t4 0t-0.7 -1.8t-3.1 2.6t1.7 4.4t2.6 1.6M676 1289.2q4.8 2.9 6.1 1.5t-0.6 -1.5t-2.7 2.5t1.6 4.1t3.7 0.1t-0.6 -1.5t-2.7 2.5t1.6 4.1t3.7 0.1t-0.6 -1.5t-2.7 2.5t1.6 4.1t3.7 0.1t-0.6 -1.5t-2.7 2.5t1.6 4.1t2.4 1.4M651.3 1302.3q5.1 -2.1 4.8 -4t-1.5 -0.4t0.4 3.7t4.2 1.2t2.3 -2.9t-1.5 -0.4t0.4 3.7t4.2 1.2t2.3 -2.9t-1.5 -0.4t0.4 3.7t4.2 1.2t2.6 -1.1M677.9 1319.9q5.7 2.1 6.8 0.3t-1 -1.7t-2.6 3.1t2.4 4.1t4 -0.7t-1 -1.7t-2.6 3.1t2.4 4.1t4 -0.7t-1 -1.7t-2.6 3.1t2.4 4.1t4 -0.7t-1 -1.7t-2.6 3.1t2.4 4.1t4 -0.7t-1 -1.7t-2.6 3.1t2.4 4.1t4 -0.7t1.1 -1.8M686.2 1316.6q5.1 2.2 6.2 0.7t-0.8 -1.4t-2.3 2.9t2.1 3.9t3.7 -0.4t-0.8 -1.4t-2.3 2.9t2.1 3.9t3.7 -0.4t-0.8 -1.4t-2.3 2.9t2.1 3.9t3.7 -0.4t-0.8 -1.4t-2.3 2.9t2.1 3.9t2.5 1.1M671.1 1322.4q4.9 2.6 6.1 1.2t-0.7 -1.4t-2.5 2.7t1.8 4t3.7 -0.1t-0.7 -1.4t-2.5 2.7t1.8 4t3.7 -0.1t-0.7 -1.4t-2.5 2.7t1.8 4t3.7 -0.1t-0.7 -1.4t-2.5 2.7t1.8 4t2.5 1.3M629.3 1514.4q2.9 4.2 4.4 3.6t0.1 -1.3t-3.1 1.2t-0.2 4t3 1.5t0.1 -1.3t-3.1 1.2t-0.2 4t3 1.5t0.1 -1.3t-3.1 1.2t-0.2 4t1.4 2.1M615.7 1453.6q4.4 3.4 5.8 2.2t-0.4 -1.4t-2.8 2.3t1.2 4.3t3.6 0.5t-0.4 -1.4t-2.8 2.3t1.2 4.3t3.6 0.5t-0.4 -1.4t-2.8 2.3t1.2 4.3t3.6 0.5t-0.4 -1.4t-1.8 -0.3" stroke="#a3a3a3" stroke-width="1.6"/><path d="M686.5 1463.2q-0.7 16 -0.3 22.7t-1.7 12.7t-5.3 9.4t-2 6t1.3 2.7M697.2 1465.8q-4 13.4 -2.7 18.7t0.7 10.7t-2.7 7.4t0 4t2 2M683.9 1293.1q6 -2 7.7 0.3t0 5.7t2 2t4.3 -2.3t0.7 -1M675.8 1394.7q6.7 8 10.4 10.7t7.4 6.7t7 7.4t4 6.5t0.7 3.1M643.8 1402.7q10.7 -5.3 15.4 -4t7.4 6.7t0.7 10t-4.7 9.2t-2.7 4.5M584.9 1538q2 4.7 4.3 5t3.7 -1.7t-0.7 -3.7t-4.3 -0.7t-2.7 1.7t-0.3 0.7M709.3 1556.8q-4 6.7 0 8.7t10 -1t8.7 -8.7t5.3 -8.4t2.7 -2.7M734.7 1544.7q10.7 -6.7 13.4 -5.7t-1.3 3t-7.4 1.3t-3.3 -0.7M669.2 1433.8q-4 5.3 -8 4t-2.7 2t-1.3 9.4t0.7 10t1.3 5.3t-2 1.3M671.8 1479.2q-1.3 13.4 -4 18.7t-0.7 8.7t-0.7 6t-2.7 2.7M710.5 1542.5q-2.5 3.8 -1.5 5.8t-1.1 2.8t-4.1 1.8t-4.1 1.8t-2.1 0.8M721.6 1534.1q4.1 -1.8 5.2 -3.8t3.3 -2.5t3.9 -1.9t3.9 -1.9t2.2 -0.5M742.9 1535.5q0.6 4.5 1 2.2t0.6 -4.5t1.9 -3.7t0.1 -3.1t-3.7 -2.3t-2.1 -0.7M710.3 1552.8q4.4 1.1 6.1 2.5t3.9 2t3.9 2t1.9 -0.8t1.3 -4.2t0.7 -4.2t-0.4 -2.2M696.5 1524q3.5 -2.8 5.6 -3.5t3.7 -2.3t3.8 -1.4t4.4 0.9t3.4 2.6t1.6 4t1.5 4.2t1.2 1.9M666.6 1529.4q0.8 4.4 2.1 6.3t3.3 2.8t2 3.2t1.4 0.5t1.5 -1.7M747.8 1530.4q1.5 4.2 1.8 6.5t-2 2.5t-4.3 -0.7t-3 -3t-3 -3t-2 -1M702.3 1531.1q2.2 -3.9 3 -6t2.6 -3.4t4 -1.5t4.5 0.1t4.5 0.3t4.3 1t3.6 2.6t3.7 2.1t2.2 0.5" stroke="#262626" stroke-width="2.7"/><path d="M686.5 1463.2q-0.7 16 -0.3 22.7t-1.7 12.7t-5.3 9.4t-2 6t1.3 2.7M697.2 1465.8q-4 13.4 -2.7 18.7t0.7 10.7t-2.7 7.4t0 4t2 2M683.9 1293.1q6 -2 7.7 0.3t0 5.7t2 2t4.3 -2.3t0.7 -1M675.8 1394.7q6.7 8 10.4 10.7t7.4 6.7t7 7.4t4 6.5t0.7 3.1M643.8 1402.7q10.7 -5.3 15.4 -4t7.4 6.7t0.7 10t-4.7 9.2t-2.7 4.5M584.9 1538q2 4.7 4.3 5t3.7 -1.7t-0.7 -3.7t-4.3 -0.7t-2.7 1.7t-0.3 0.7M709.3 1556.8q-4 6.7 0 8.7t10 -1t8.7 -8.7t5.3 -8.4t2.7 -2.7M734.7 1544.7q10.7 -6.7 13.4 -5.7t-1.3 3t-7.4 1.3t-3.3 -0.7M669.2 1433.8q-4 5.3 -8 4t-2.7 2t-1.3 9.4t0.7 10t1.3 5.3t-2 1.3M671.8 1479.2q-1.3 13.4 -4 18.7t-0.7 8.7t-0.7 6t-2.7 2.7M710.5 1542.5q-2.5 3.8 -1.5 5.8t-1.1 2.8t-4.1 1.8t-4.1 1.8t-2.1 0.8M721.6 1534.1q4.1 -1.8 5.2 -3.8t3.3 -2.5t3.9 -1.9t3.9 -1.9t2.2 -0.5M742.9 1535.5q0.6 4.5 1 2.2t0.6 -4.5t1.9 -3.7t0.1 -3.1t-3.7 -2.3t-2.1 -0.7M710.3 1552.8q4.4 1.1 6.1 2.5t3.9 2t3.9 2t1.9 -0.8t1.3 -4.2t0.7 -4.2t-0.4 -2.2M696.5 1524q3.5 -2.8 5.6 -3.5t3.7 -2.3t3.8 -1.4t4.4 0.9t3.4 2.6t1.6 4t1.5 4.2t1.2 1.9M666.6 1529.4q0.8 4.4 2.1 6.3t3.3 2.8t2 3.2t1.4 0.5t1.5 -1.7M747.8 1530.4q1.5 4.2 1.8 6.5t-2 2.5t-4.3 -0.7t-3 -3t-3 -3t-2 -1M702.3 1531.1q2.2 -3.9 3 -6t2.6 -3.4t4 -1.5t4.5 0.1t4.5 0.3t4.3 1t3.6 2.6t3.7 2.1t2.2 0.5" stroke="#a3a3a3" stroke-width="1.1"/>
<path d="M609.8 1337.8q0.4 5 1.7 7.1t3 4t3.6 3.4t4.2 2.7t4.7 1.1t4.9 -0.8t3.8 -2.9t2.7 -4.2t2.9 -4.1t3.3 -3.7t1.7 -1.8M579.9 1332.9q-1.4 4.8 -1.2 7.3t2.5 3.5t4.7 1.8t4.7 1.6t4.6 1.9t4.2 2.6t3.6 3.4t2.5 4.2t0.6 4.9t-0.2 2.5M583.6 1318.4q-5 0.1 -5.5 2.5t1.2 4.3t3.8 3.2t3.6 3.4t3.3 3.8t3.7 3.3t4.5 2t4.9 0.1t2.5 -0.4M574.8 1380.3q4.9 -1.1 7.4 -1.2t5 -0.1t5 -0.2t4.7 -1.4t4.7 -1.6t2.5 -0.5M682.9 1364.2q-1.1 4.9 -2.6 6.8t-3.8 3.1t-4.3 -0.3t-3.8 -3.2t-3.2 -3.8t-2.4 -4.4t-0.6 -4.8t0.1 -5t-1.3 -4.8t-2.3 -4.5t-1.8 -4.6t-0.6 -2.4M578.3 1337.6q4.2 -2.8 5.9 -4.6t3.4 -3.7t3.7 -3.3t4.5 -1.8t4.9 0t4.5 1.9t3.5 3.5t2.3 4.4t0.8 2.4M610.5 1341q-4.8 -1.3 -7.3 -1.3t-5 0.4t-4.8 1.3t-4.8 1.4t-4.9 1.2t-4.9 1t-2.5 0.4M610.2 1392.8q4.3 -2.6 6.4 -4t4.4 -2.3t4.7 -1.8t4.7 -1.7t4 -2.8t2.6 -4.2t1.9 -4.6t1.9 -4.6t2.4 -4.4t1.4 -2.1M645.6 1377q-1.7 -4.7 -2.2 -7.1t-0.2 -4.9t1.6 -4.6t1.8 -4.6t-0.1 -4.9t-1.4 -4.8t-0.9 -2.3M653.1 1347.3q-0.8 -4.9 -1.6 -7.3t-2.1 -4.5t-3.1 -3.9t-4.1 -2.7t-4.8 -1.3t-4.9 0.3t-4.4 2.2t-3.8 3.2t-3.6 3.5t-3.7 3.4t-4.1 2.9t-4.1 2.9t-2 1.5M589.9 1326.5q3.9 3.2 6.2 4t4.9 0.7t4.9 -1t4.5 -2.1t3.6 -3.3t2.9 -4.1t3.2 -3.8t3.7 -3.3t4.3 -2.4t2.3 -0.9M660.7 1330.5q3.5 -3.6 5.5 -5t4.5 -1.9t4.9 0.2t4.3 2.2t3 3.8t-0.3 4.4t-3.4 3.6t-4.5 1.7t-5 0t-5 -0.5t-4.8 -1.1t-2.4 -0.8M654 1321.2q5 -0.2 7.4 -0.7t4.9 -1t4.9 -0.4t4.7 1.4t2.6 3.7t-1.4 4.2t-3.2 3.8t-2.8 4.2t-3.2 3.8t-1.8 1.7M636.9 1370.3q2.7 -4.2 4.2 -6.2t2.9 -4.1t2.5 -4.3t2 -4.6t0.6 -4.9t-1.1 -4.8t-1.8 -4.7t-1.4 -4.8t-0.5 -4.9t1.1 -4.7t1.1 -2.2M622.2 1389.9q-4.7 1.8 -7.2 1.5t-4.6 -1.5t-3.6 -3.3t-2.8 -4.1t-2.6 -4.2t-2.1 -4.5t-0.1 -4.8t1.6 -4.7t2.3 -4.4t2.8 -4.2t3.3 -3.7t4 -2.9t4.4 -2.3t2.2 -1.1M601 1338.9q3.6 3.5 4.4 5.8t0.7 4.8t-1.4 4.7t-3.2 3.7t-4.3 2.6t-4.7 1.7t-2.4 0.6M601.2 1326.3q-3.7 3.4 -4.9 5.6t-2.7 4.2t-3.5 3.6t-3.6 3.4t-4 2.7t-4.7 0t-2 -3.3t1.7 -4.6t1.4 -2.1M632.7 1392.3q-4.7 -1.7 -6.8 -3t-4.6 -2t-4.9 -0.9t-4.8 0.6t-4.1 2.6t-1.7 1.8M607 1361.7q-4.2 -2.7 -6.4 -3.9t-4.3 -2.6t-4.1 -2.9t-3 -3.8t0.9 -3.8t4.3 -2.6t4.5 -2.2t4.6 -2t4.7 -1.6t4.8 -1.1t4.8 0.7t4.4 2.3t2.1 1.4M672.2 1346.4q4.6 2 6.8 3.2t4.3 2.5t3.3 3.5t2 4.5t2.5 4.2t4.3 1.5t4.6 -1.6t3.4 -3.5t-0.3 -4t-3.9 -2.9t-2.3 -1M602.6 1383.4q0.6 -5 0.8 -7.5t0.3 -5t0.2 -5t0.9 -4.9t1.2 -4.9t0 -4.9t-2 -4.5t-3.4 -3.6t-4.3 -2.4t-4.9 -1t-4.9 0.2t-4.7 1.6t-2.2 1.1M597.7 1367.5q3.1 -4 4.9 -5.7t3.7 -3.4t3.5 -3.5t3.3 -3.8t3.5 -3.5t4.3 -2.4t4.9 -0.9t5 0.1t5 0.4t5 0.5t5 0.5t2.5 0.3M588.7 1333.4q1.5 -4.8 2.7 -6.9t2.4 -4.4t2.3 -4.4t2.4 -4.4t3.6 -3t4.8 -0.6t4.9 0.9t4.8 1.5t4.7 1.6t2.4 0.7M590 1330.1q3.8 -3.3 5.8 -4.7t4.2 -2.8t4.3 -2.6t4.1 -2.8t3.9 -3.1t4.4 -2.2t4.9 -0.3t2.5 0.4M683.9 1366.6q-4.9 1.1 -7 2.4t-3.7 3.3t-2.9 4.1t-1.6 4.7t0.3 4.9t2.6 4t1.9 1.6M617.4 1363.9q-1.2 4.9 -1.8 7.3t-1.7 4.7t-2.5 4.3t-3.1 3.9t-3.6 3.4t-3.7 3.4t-3.5 3.5t-4 0.8t-3.9 -2.9t-2.6 -4.2t-1 -4.8t-0.1 -2.5" stroke="#5e3802" stroke-width="3.5"/><path d="M609.8 1337.8q0.4 5 1.7 7.1t3 4t3.6 3.4t4.2 2.7t4.7 1.1t4.9 -0.8t3.8 -2.9t2.7 -4.2t2.9 -4.1t3.3 -3.7t1.7 -1.8M579.9 1332.9q-1.4 4.8 -1.2 7.3t2.5 3.5t4.7 1.8t4.7 1.6t4.6 1.9t4.2 2.6t3.6 3.4t2.5 4.2t0.6 4.9t-0.2 2.5M583.6 1318.4q-5 0.1 -5.5 2.5t1.2 4.3t3.8 3.2t3.6 3.4t3.3 3.8t3.7 3.3t4.5 2t4.9 0.1t2.5 -0.4M574.8 1380.3q4.9 -1.1 7.4 -1.2t5 -0.1t5 -0.2t4.7 -1.4t4.7 -1.6t2.5 -0.5M682.9 1364.2q-1.1 4.9 -2.6 6.8t-3.8 3.1t-4.3 -0.3t-3.8 -3.2t-3.2 -3.8t-2.4 -4.4t-0.6 -4.8t0.1 -5t-1.3 -4.8t-2.3 -4.5t-1.8 -4.6t-0.6 -2.4M578.3 1337.6q4.2 -2.8 5.9 -4.6t3.4 -3.7t3.7 -3.3t4.5 -1.8t4.9 0t4.5 1.9t3.5 3.5t2.3 4.4t0.8 2.4M610.5 1341q-4.8 -1.3 -7.3 -1.3t-5 0.4t-4.8 1.3t-4.8 1.4t-4.9 1.2t-4.9 1t-2.5 0.4M610.2 1392.8q4.3 -2.6 6.4 -4t4.4 -2.3t4.7 -1.8t4.7 -1.7t4 -2.8t2.6 -4.2t1.9 -4.6t1.9 -4.6t2.4 -4.4t1.4 -2.1M645.6 1377q-1.7 -4.7 -2.2 -7.1t-0.2 -4.9t1.6 -4.6t1.8 -4.6t-0.1 -4.9t-1.4 -4.8t-0.9 -2.3M653.1 1347.3q-0.8 -4.9 -1.6 -7.3t-2.1 -4.5t-3.1 -3.9t-4.1 -2.7t-4.8 -1.3t-4.9 0.3t-4.4 2.2t-3.8 3.2t-3.6 3.5t-3.7 3.4t-4.1 2.9t-4.1 2.9t-2 1.5M589.9 1326.5q3.9 3.2 6.2 4t4.9 0.7t4.9 -1t4.5 -2.1t3.6 -3.3t2.9 -4.1t3.2 -3.8t3.7 -3.3t4.3 -2.4t2.3 -0.9M660.7 1330.5q3.5 -3.6 5.5 -5t4.5 -1.9t4.9 0.2t4.3 2.2t3 3.8t-0.3 4.4t-3.4 3.6t-4.5 1.7t-5 0t-5 -0.5t-4.8 -1.1t-2.4 -0.8M654 1321.2q5 -0.2 7.4 -0.7t4.9 -1t4.9 -0.4t4.7 1.4t2.6 3.7t-1.4 4.2t-3.2 3.8t-2.8 4.2t-3.2 3.8t-1.8 1.7M636.9 1370.3q2.7 -4.2 4.2 -6.2t2.9 -4.1t2.5 -4.3t2 -4.6t0.6 -4.9t-1.1 -4.8t-1.8 -4.7t-1.4 -4.8t-0.5 -4.9t1.1 -4.7t1.1 -2.2M622.2 1389.9q-4.7 1.8 -7.2 1.5t-4.6 -1.5t-3.6 -3.3t-2.8 -4.1t-2.6 -4.2t-2.1 -4.5t-0.1 -4.8t1.6 -4.7t2.3 -4.4t2.8 -4.2t3.3 -3.7t4 -2.9t4.4 -2.3t2.2 -1.1M601 1338.9q3.6 3.5 4.4 5.8t0.7 4.8t-1.4 4.7t-3.2 3.7t-4.3 2.6t-4.7 1.7t-2.4 0.6M601.2 1326.3q-3.7 3.4 -4.9 5.6t-2.7 4.2t-3.5 3.6t-3.6 3.4t-4 2.7t-4.7 0t-2 -3.3t1.7 -4.6t1.4 -2.1M632.7 1392.3q-4.7 -1.7 -6.8 -3t-4.6 -2t-4.9 -0.9t-4.8 0.6t-4.1 2.6t-1.7 1.8M607 1361.7q-4.2 -2.7 -6.4 -3.9t-4.3 -2.6t-4.1 -2.9t-3 -3.8t0.9 -3.8t4.3 -2.6t4.5 -2.2t4.6 -2t4.7 -1.6t4.8 -1.1t4.8 0.7t4.4 2.3t2.1 1.4M672.2 1346.4q4.6 2 6.8 3.2t4.3 2.5t3.3 3.5t2 4.5t2.5 4.2t4.3 1.5t4.6 -1.6t3.4 -3.5t-0.3 -4t-3.9 -2.9t-2.3 -1M602.6 1383.4q0.6 -5 0.8 -7.5t0.3 -5t0.2 -5t0.9 -4.9t1.2 -4.9t0 -4.9t-2 -4.5t-3.4 -3.6t-4.3 -2.4t-4.9 -1t-4.9 0.2t-4.7 1.6t-2.2 1.1M597.7 1367.5q3.1 -4 4.9 -5.7t3.7 -3.4t3.5 -3.5t3.3 -3.8t3.5 -3.5t4.3 -2.4t4.9 -0.9t5 0.1t5 0.4t5 0.5t5 0.5t2.5 0.3M588.7 1333.4q1.5 -4.8 2.7 -6.9t2.4 -4.4t2.3 -4.4t2.4 -4.4t3.6 -3t4.8 -0.6t4.9 0.9t4.8 1.5t4.7 1.6t2.4 0.7M590 1330.1q3.8 -3.3 5.8 -4.7t4.2 -2.8t4.3 -2.6t4.1 -2.8t3.9 -3.1t4.4 -2.2t4.9 -0.3t2.5 0.4M683.9 1366.6q-4.9 1.1 -7 2.4t-3.7 3.3t-2.9 4.1t-1.6 4.7t0.3 4.9t2.6 4t1.9 1.6M617.4 1363.9q-1.2 4.9 -1.8 7.3t-1.7 4.7t-2.5 4.3t-3.1 3.9t-3.6 3.4t-3.7 3.4t-3.5 3.5t-4 0.8t-3.9 -2.9t-2.6 -4.2t-1 -4.8t-0.1 -2.5" stroke="#fba630" stroke-width="1.8"/><path d="M601.5 1392.2q-4.9 3.5 -7.7 2.5t-5.6 -2.1t-5.4 -2.5t-4 -4.1t-0.4 -5.5t2.8 -5.2t4.4 -4t2.5 -1.7M635.3 1343.7q-5.6 -2.1 -8.6 -2.4t-6 -0.1t-6 0.4t-5.8 1.2t-5.3 2.7t-4.5 3.9t-3.4 4.9t-1.5 5.7t-0.2 3M628 1324.4q-5.9 -1.3 -8.9 -1t-6 0.6t-6 0.8t-5.6 1.8t-4.8 3.5t-3.6 4.7t-2.2 5.5t-0.7 2.9M596.4 1341.6q-2.7 -5.4 -4 -8.1t-2.6 -5.4t-2.8 -5.3t-1.5 -2.6M628.2 1316.3q3.8 4.7 4.9 7.4t1.4 5.7t-2.3 4.6t-4.7 3.7t-4.3 4.2t-4.2 4.3t-3.9 4.5t-3.8 4.7t-1.9 2.3M589.3 1344.9q5.7 -1.9 8.3 -3.3t5 -3.2t2.4 -1.8M606.6 1329.5q0.1 6 0.2 9t0.7 5.9t1.6 5.8t2.9 5.1t4.5 3.9t5.4 2.5t5.7 1.7t5.9 1.2t3 0.4M578.8 1379q4.4 -4.1 6.8 -5.9t4.9 -3.5t4.8 -3.5t4.4 -4.1t4.1 -4.4t4.2 -4.3t4.6 -3.7t2.5 -1.6M637.2 1386.8q-5.2 -3 -7.9 -4.4t-5.5 -2.5t-5.7 -1.9t-5.9 -1.3t-5.9 -0.1t-5.9 1.2t-5.8 1.7t-2.9 0.9M633.1 1317.9q-1.8 5.7 -2.7 8.6t-2 5.7t-2.2 5.6t-2.4 5.5t-1.3 2.7M637.1 1372.6q-1.2 -5.9 -1.2 -8.9t0.5 -5.9t1.2 -5.9t1.3 -5.9t0.7 -2.9M624.8 1390.9q5.5 -2.5 8.3 -3.5t5.7 -1.9t3.4 -3.9t0.1 -5.9t-1.9 -5.6t-1.4 -2.6M630.9 1341.7q4.6 3.9 6.4 6.2t2.8 5.2t0.9 5.9t-1.1 5.8t-3.4 4.6t-4.9 3.5t-5 3.3t-2.5 1.7M639 1346.6q-3.7 4.7 -5.6 7.1t-3.7 4.7t-3.6 4.8t-3.7 4.8t-3.4 5t-2.4 5.4t-0.9 2.9M609.8 1313.5q6 0.2 9 0.3t6 0.3t5.8 1.2t2.8 1M586.3 1392.1q0.1 -6 2.6 -7.6t5 -3.3t5.1 -3.1t5.5 -2.5t5.7 -1.9t2.9 -0.9M578.7 1376.8q5.8 -1.4 8.5 -2.9t4.8 -3.5t3.9 -4.5t2.8 -5.3t1.3 -5.8t0.3 -3M640.8 1378q0.3 6 -2.2 7.7t-5.3 2.7t-5.7 2t-5.7 1.9t-2.9 0.9" stroke="#5e3802" stroke-width="5.0"/><path d="M601.5 1392.2q-4.9 3.5 -7.7 2.5t-5.6 -2.1t-5.4 -2.5t-4 -4.1t-0.4 -5.5t2.8 -5.2t4.4 -4t2.5 -1.7M635.3 1343.7q-5.6 -2.1 -8.6 -2.4t-6 -0.1t-6 0.4t-5.8 1.2t-5.3 2.7t-4.5 3.9t-3.4 4.9t-1.5 5.7t-0.2 3M628 1324.4q-5.9 -1.3 -8.9 -1t-6 0.6t-6 0.8t-5.6 1.8t-4.8 3.5t-3.6 4.7t-2.2 5.5t-0.7 2.9M596.4 1341.6q-2.7 -5.4 -4 -8.1t-2.6 -5.4t-2.8 -5.3t-1.5 -2.6M628.2 1316.3q3.8 4.7 4.9 7.4t1.4 5.7t-2.3 4.6t-4.7 3.7t-4.3 4.2t-4.2 4.3t-3.9 4.5t-3.8 4.7t-1.9 2.3M589.3 1344.9q5.7 -1.9 8.3 -3.3t5 -3.2t2.4 -1.8M606.6 1329.5q0.1 6 0.2 9t0.7 5.9t1.6 5.8t2.9 5.1t4.5 3.9t5.4 2.5t5.7 1.7t5.9 1.2t3 0.4M578.8 1379q4.4 -4.1 6.8 -5.9t4.9 -3.5t4.8 -3.5t4.4 -4.1t4.1 -4.4t4.2 -4.3t4.6 -3.7t2.5 -1.6M637.2 1386.8q-5.2 -3 -7.9 -4.4t-5.5 -2.5t-5.7 -1.9t-5.9 -1.3t-5.9 -0.1t-5.9 1.2t-5.8 1.7t-2.9 0.9M633.1 1317.9q-1.8 5.7 -2.7 8.6t-2 5.7t-2.2 5.6t-2.4 5.5t-1.3 2.7M637.1 1372.6q-1.2 -5.9 -1.2 -8.9t0.5 -5.9t1.2 -5.9t1.3 -5.9t0.7 -2.9M624.8 1390.9q5.5 -2.5 8.3 -3.5t5.7 -1.9t3.4 -3.9t0.1 -5.9t-1.9 -5.6t-1.4 -2.6M630.9 1341.7q4.6 3.9 6.4 6.2t2.8 5.2t0.9 5.9t-1.1 5.8t-3.4 4.6t-4.9 3.5t-5 3.3t-2.5 1.7M639 1346.6q-3.7 4.7 -5.6 7.1t-3.7 4.7t-3.6 4.8t-3.7 4.8t-3.4 5t-2.4 5.4t-0.9 2.9M609.8 1313.5q6 0.2 9 0.3t6 0.3t5.8 1.2t2.8 1M586.3 1392.1q0.1 -6 2.6 -7.6t5 -3.3t5.1 -3.1t5.5 -2.5t5.7 -1.9t2.9 -0.9M578.7 1376.8q5.8 -1.4 8.5 -2.9t4.8 -3.5t3.9 -4.5t2.8 -5.3t1.3 -5.8t0.3 -3M640.8 1378q0.3 6 -2.2 7.7t-5.3 2.7t-5.7 2t-5.7 1.9t-2.9 0.9" stroke="#fba630" stroke-width="3.0"/><path d="M651.4 1355.9q3.3 4.5 4.9 3.8t0 -1.4t-3.3 1.5t0 4.5t3.3 1.6t0 -1.4t-3.3 1.5t-1.7 2.2M669.4 1345q6.2 -1.1 6.3 -3.2t-1.5 -0.8t-0.3 4.1t4.4 2.3t3.2 -2.6t-1.5 -0.8t-0.3 4.1t1.3 2.8M672.6 1331.4q4.8 2.7 6.1 1.3t-0.6 -1.4t-2.5 2.7t1.8 4t3.7 0t-0.6 -1.4t-2.5 2.7t1.8 4t3.7 0t1.2 -1.4M659.9 1358q5.6 -0.9 5.7 -2.8t-1.4 -0.8t-0.4 3.7t3.9 2.1t2.9 -2.3t-1.4 -0.8t-0.4 3.7t3.9 2.1t2.9 -2.3t0.1 -1.9M643.8 1315.8q5.5 -1.3 5.5 -3.3t-1.5 -0.7t-0.2 3.8t4.1 1.9t2.7 -2.6t-1.5 -0.7t-0.2 3.8t4.1 1.9t2.7 -2.6t-1.5 -0.7t-0.2 3.8t4.1 1.9t2.7 -2.6t0 -1.9M640.7 1326.3q4.8 3.5 6.3 2.2t-0.5 -1.5t-3 2.5t1.4 4.5t3.9 0.5t-0.5 -1.5t-3 2.5t1.4 4.5t2.4 1.7M661.9 1332.2q3.8 4 5.3 3.2t-0.2 -1.2t-3 2.1t0.6 4.4t3.4 1.2t-0.2 -1.2t-3 2.1t0.6 4.4t1.9 2M638.5 1314.4q-0.3 -4.2 -1.8 -2.7t0.2 4.2t4.7 1.7t2.8 -3.1t-1.7 -0.6t0.2 4.2t4.7 1.7t2.8 -3.1t-1.7 -0.6t-1.5 1.5M635.9 1319.3q3.7 4 5.3 3.1t-0.1 -1.6t-3.2 1.7t0.4 4.3t3.5 1.1t-0.1 -1.6t-1.7 -0.6M643.5 1338.9q5.8 -0.2 6.1 -2.1t-1.2 -0.8t-0.6 3.7t3.8 2.6t3.3 -2t-1.2 -0.8t-0.6 3.7t3.8 2.6t3.3 -2t-1.2 -0.8t-0.6 3.7t3.8 2.6t3.3 -2t0.4 -1.8M645.8 1310.8q4.8 2.8 6.1 1.4t-0.6 -1.5t-2.6 2.6t1.7 4.1t3.7 0t-0.6 -1.5t-1.9 -0.1M680.3 1357.3q-2.1 5.5 -0.5 6.6t1.4 -0.8t-3.2 -2.2t-4 2.4t0.6 3.8t1.4 -0.8t-3.2 -2.2t-4 2.4t0.6 3.8t1.4 -0.8t-3.2 -2.2t-2.9 -0.3M638.6 1324.7q5.4 0.9 8.2 0.5t5.3 -1.4t5.1 -2.2t5 -2.4t2.5 -1.2M664.2 1302.3q-5 2.3 -7.6 3.2t-5.2 1.8t-2.6 0.8M664.4 1340q3 -4.6 4.2 -7.1t1.9 -5.1t0.7 -5.4t-0.3 -5.5t-1 -5.4t-2.5 -4.7t-4.4 -3.1t-2.5 -1M677.4 1328.4q-5.2 -1.6 -7.8 -2.8t-5.1 -1.9t-5.2 -1.7t-5.1 -2.1t-5.2 -1.8t-5.4 -0.8t-2.7 -0.3M645.1 1352.1q0.5 -5.5 0.5 -8.2t0.4 -5.5t1.1 -5.4t2.2 -5t1.4 -2.4M637.7 1329.8q5.4 0.9 7.9 2t4.8 2.6t4.4 3.3t3.9 3.9t2.9 4.6t1.5 5.2t0.4 5.5t0 2.7M665.3 1370.8q5.1 -2 7.2 -3.8t3.9 -3.9t3.8 -4t4.2 -3.6t2 -4.5t-1.4 -5.2t-3.3 -4.3t-4.2 -3.5t-2.2 -1.6M662.9 1328.5q5.4 -1.2 8.1 -0.6t5.3 1.5t4.8 2.6t3.5 4.1t-0.1 4.8t-2.3 5t-1.6 5.2t-1.1 5.4t-0.5 2.7M666.8 1308.8q-4.3 4.9 -6.3 7.5t-4.1 5.2t-2.1 2.6M663.9 1306.1q-5.8 2.4 -8.2 4.1t-3.5 5t-1.1 3.3M655.8 1302.2q-3.2 5 -4.8 7.6t-3.5 4.8t-1.9 2.2M677.6 1337.3q2.6 3.1 4.1 4.4t2.9 2.8t1.4 1.4M672.8 1338.6q2.6 3.1 3.5 4.9t1.7 3.7t1.8 3.6t1.1 1.7M669.1 1356.9q-0.2 6.2 -0.7 9.2t-0.8 6.1t-0.3 3.1" stroke="#5e3802" stroke-width="3.5"/><path d="M651.4 1355.9q3.3 4.5 4.9 3.8t0 -1.4t-3.3 1.5t0 4.5t3.3 1.6t0 -1.4t-3.3 1.5t-1.7 2.2M669.4 1345q6.2 -1.1 6.3 -3.2t-1.5 -0.8t-0.3 4.1t4.4 2.3t3.2 -2.6t-1.5 -0.8t-0.3 4.1t1.3 2.8M672.6 1331.4q4.8 2.7 6.1 1.3t-0.6 -1.4t-2.5 2.7t1.8 4t3.7 0t-0.6 -1.4t-2.5 2.7t1.8 4t3.7 0t1.2 -1.4M659.9 1358q5.6 -0.9 5.7 -2.8t-1.4 -0.8t-0.4 3.7t3.9 2.1t2.9 -2.3t-1.4 -0.8t-0.4 3.7t3.9 2.1t2.9 -2.3t0.1 -1.9M643.8 1315.8q5.5 -1.3 5.5 -3.3t-1.5 -0.7t-0.2 3.8t4.1 1.9t2.7 -2.6t-1.5 -0.7t-0.2 3.8t4.1 1.9t2.7 -2.6t-1.5 -0.7t-0.2 3.8t4.1 1.9t2.7 -2.6t0 -1.9M640.7 1326.3q4.8 3.5 6.3 2.2t-0.5 -1.5t-3 2.5t1.4 4.5t3.9 0.5t-0.5 -1.5t-3 2.5t1.4 4.5t2.4 1.7M661.9 1332.2q3.8 4 5.3 3.2t-0.2 -1.2t-3 2.1t0.6 4.4t3.4 1.2t-0.2 -1.2t-3 2.1t0.6 4.4t1.9 2M638.5 1314.4q-0.3 -4.2 -1.8 -2.7t0.2 4.2t4.7 1.7t2.8 -3.1t-1.7 -0.6t0.2 4.2t4.7 1.7t2.8 -3.1t-1.7 -0.6t-1.5 1.5M635.9 1319.3q3.7 4 5.3 3.1t-0.1 -1.6t-3.2 1.7t0.4 4.3t3.5 1.1t-0.1 -1.6t-1.7 -0.6M643.5 1338.9q5.8 -0.2 6.1 -2.1t-1.2 -0.8t-0.6 3.7t3.8 2.6t3.3 -2t-1.2 -0.8t-0.6 3.7t3.8 2.6t3.3 -2t-1.2 -0.8t-0.6 3.7t3.8 2.6t3.3 -2t0.4 -1.8M645.8 1310.8q4.8 2.8 6.1 1.4t-0.6 -1.5t-2.6 2.6t1.7 4.1t3.7 0t-0.6 -1.5t-1.9 -0.1M680.3 1357.3q-2.1 5.5 -0.5 6.6t1.4 -0.8t-3.2 -2.2t-4 2.4t0.6 3.8t1.4 -0.8t-3.2 -2.2t-4 2.4t0.6 3.8t1.4 -0.8t-3.2 -2.2t-2.9 -0.3M638.6 1324.7q5.4 0.9 8.2 0.5t5.3 -1.4t5.1 -2.2t5 -2.4t2.5 -1.2M664.2 1302.3q-5 2.3 -7.6 3.2t-5.2 1.8t-2.6 0.8M664.4 1340q3 -4.6 4.2 -7.1t1.9 -5.1t0.7 -5.4t-0.3 -5.5t-1 -5.4t-2.5 -4.7t-4.4 -3.1t-2.5 -1M677.4 1328.4q-5.2 -1.6 -7.8 -2.8t-5.1 -1.9t-5.2 -1.7t-5.1 -2.1t-5.2 -1.8t-5.4 -0.8t-2.7 -0.3M645.1 1352.1q0.5 -5.5 0.5 -8.2t0.4 -5.5t1.1 -5.4t2.2 -5t1.4 -2.4M637.7 1329.8q5.4 0.9 7.9 2t4.8 2.6t4.4 3.3t3.9 3.9t2.9 4.6t1.5 5.2t0.4 5.5t0 2.7M665.3 1370.8q5.1 -2 7.2 -3.8t3.9 -3.9t3.8 -4t4.2 -3.6t2 -4.5t-1.4 -5.2t-3.3 -4.3t-4.2 -3.5t-2.2 -1.6M662.9 1328.5q5.4 -1.2 8.1 -0.6t5.3 1.5t4.8 2.6t3.5 4.1t-0.1 4.8t-2.3 5t-1.6 5.2t-1.1 5.4t-0.5 2.7M666.8 1308.8q-4.3 4.9 -6.3 7.5t-4.1 5.2t-2.1 2.6M663.9 1306.1q-5.8 2.4 -8.2 4.1t-3.5 5t-1.1 3.3M655.8 1302.2q-3.2 5 -4.8 7.6t-3.5 4.8t-1.9 2.2M677.6 1337.3q2.6 3.1 4.1 4.4t2.9 2.8t1.4 1.4M672.8 1338.6q2.6 3.1 3.5 4.9t1.7 3.7t1.8 3.6t1.1 1.7M669.1 1356.9q-0.2 6.2 -0.7 9.2t-0.8 6.1t-0.3 3.1" stroke="#fba630" stroke-width="1.8"/><path d="M686.5 1347.9q10.7 1.3 16.7 6.7t1.3 8t-11.4 4t-8.7 -0.3t-2 -1.7M678.5 1374.6q-2.7 9.4 -4.3 15t-4 1.3t-4.3 -9t-2 -4.7M579.6 1322.5q7.4 -8 8 -2.7t-4.3 8.7t-7.7 10t0.7 2t3.3 -4.7M615.7 1309.1q5.3 -2.7 8.7 -1.3t0.7 7.4t-4.7 2t-4 -5.3t-4.7 0t-2.7 1.3M576.9 1386.6q-2.7 -6.7 1.3 -11.4t9.4 -7.4t8 0t-0.7 7.4t-6.7 8t-6.7 4t-3.3 0.7" stroke="#5e3802" stroke-width="3.0"/><path d="M686.5 1347.9q10.7 1.3 16.7 6.7t1.3 8t-11.4 4t-8.7 -0.3t-2 -1.7M678.5 1374.6q-2.7 9.4 -4.3 15t-4 1.3t-4.3 -9t-2 -4.7M579.6 1322.5q7.4 -8 8 -2.7t-4.3 8.7t-7.7 10t0.7 2t3.3 -4.7M615.7 1309.1q5.3 -2.7 8.7 -1.3t0.7 7.4t-4.7 2t-4 -5.3t-4.7 0t-2.7 1.3M576.9 1386.6q-2.7 -6.7 1.3 -11.4t9.4 -7.4t8 0t-0.7 7.4t-6.7 8t-6.7 4t-3.3 0.7" stroke="#fba630" stroke-width="1.7"/>
<path d="M1059.8 1415.7q2.5 -4.3 2.8 -6.8t-0.4 -4.9t-3.2 -2.5t-5 0.2t-4.6 1.6t-3.5 3.3t-1.9 4.5t-0.6 4.9t-0.9 4.9t-2.4 4.3t-1.6 1.9M1034.3 1436.5q2 -4.6 4.3 -5.5t4.7 -1.7t4.9 -0.8t4.8 1t3.9 2.9t2.5 4.2t0.9 2.3M1054.9 1351.4q-1.7 -4.7 -3.5 -6.4t-4 -3t-4.7 -1.4t-4.8 0.8t-4.2 2.6t-4 3t-4.6 1.8t-4.9 0t-4.5 -1.9t-4 -3t-2 -1.5M1060.5 1406.9q-4.2 -2.7 -6.2 -4.2t-4 -2.9t-3.9 -3.1t-3.6 -3.5t-3.2 -3.8t-3.6 -3.4t-4.2 -2.7t-4.4 -2.3t-4.2 -2.6t-3.8 -3.3t-3.6 -3.5t-3.4 -3.6t-1.6 -1.9M1050 1354.5q4.4 -2.4 6.1 -4.2t2.5 -4.2t0.5 -4.9t-1.7 -4.6t-3.9 -1.9t-4.9 1t-4.2 2.5t-3.2 3.8t-2.7 4.2t-1.3 2.1M1049 1330.5q-5 0 -7.5 -0.1t-4.9 0.5t-4.7 1.7t-4.5 2.2t-4.6 2t-4.7 1.8t-4.8 1.5t-2.4 0.6M1019 1329.4q-1.9 4.6 -3.4 6.7t-3.1 3.9t-2.2 4.3t-0.4 4.9t1.3 4.7t3.1 3.8t1.9 1.6M1004.9 1349.3q4.9 -0.8 7.4 -1.3t4.4 -2.1t3.3 -3.6t2.3 -4.4t1.2 -4.8t0.9 -4.9t0.6 -2.4M1053.6 1351.6q-4.2 -2.8 -6.6 -3.1t-5 -0.3t-5 0.1t-5 0.2t-4.8 1t-4.1 2.6t-3.2 3.8t-2.7 4.2t-1.7 4.6t0.1 4.9t1.5 4.8t2.1 4.5t3.2 3.7t4.5 1.9t2.5 0.4M1028.1 1370.5q3.8 3.3 5.9 4.5t4.5 2.1t4.8 1.3t4.9 0.3t4.9 -0.9t4.8 -1.5t4.5 -2.1t4.2 -2.7t4.6 -1t2.5 0.4M1030 1471.7q0.6 5 1.1 7.4t1.7 4.7t2.5 4.3t2.7 4.2t2.2 4.4t1.4 4.8t1.2 4.8t1 4.9t0.2 2.5M1026.1 1453.7q1.1 4.9 1.2 7.4t0.2 5t0.1 5t-0.6 4.9t-1.7 4.7t-1.9 4.6t-1.5 4.8t-1 4.9t-1.3 4.8t-1.8 4.6t-2.2 4.5t-1.4 2.1M992.1 1433.9q1.6 4.7 2.8 6.9t3.2 3.7t4.4 2.2t4.9 1.1t5 0.5t5 -0.3t5 -0.2t5 0.4t4.8 1.3t4.2 2.6t3.2 3.7t2 4.5t0.7 4.9t0 2.5M1070.2 1506.5q0.7 5 1.4 7.4t1 4.9t0.4 5t-1.3 4.6t-2.4 4.4t-1.9 4.6t-0.8 4.8t0.1 2.5M1070.2 1518.6q0.6 -5 -0.1 -7.4t-1.6 -4.7t-2.5 -4.3t-3.5 -3.5t-4.2 -2.7t-4.4 -2.3t-4.4 -2.4t-4.4 -2.3t-4.5 -2.2t-2.3 -1.1M1059.3 1529.7q-4 3 -6 4.4t-4.2 2.7t-4.5 2.1t-4.8 1.5t-4.7 1.6t-4.3 -0.5t-3.1 -3.8t-1.9 -4.6t-1.3 -4.8t-0.8 -4.9t-1.4 -4.8t-3 -3.9t-1.9 -1.6M1037.2 1421.7q-2.8 4.2 -4 6.4t-1.4 4.7t0.5 4.9t2.9 3.6t4.7 1.3t5 -0.2t4.9 -1t4.4 -2.2t2 -1.5M1029.8 1481.4q-4.9 -0.8 -7.4 -0.9t-5 -0.5t-4.5 -1.8t-3.6 -3.4t-2.3 -4.4t-0.3 -4.9t1.6 -4.6t3.3 -3.6t2.1 -1.4M997 1423.6q3 -4 5 -5.5t4.3 -2.6t4.7 -1.6t4.9 -1.1t4.6 -1.9t3.7 -3.2t2.8 -4.1t1.2 -2.2M1048 1487.5q0.9 -4.9 0.2 -7.3t-2.1 -4.4t-3.4 -3.6t-4.2 -2.7t-4.4 -2.3t-4.2 -2.7t-3.6 -3.5t-2.7 -4.2t-2.1 -4.5t-2.1 -4.5t-1.2 -2.2M984.6 1321.7q-0.7 4.4 -0.9 6.7t0 4.5t1.3 4.2t2.8 3.4t3.8 2.4t4.3 1.2t4.5 -0.1t4.2 -1.5t1.9 -1.2M988.9 1342.7q0.5 -4.5 1.3 -6.6t1.2 -4.3t0.2 -4.4t0 -4.5t0.6 -4.5t1.9 -3.9t3.1 -3.3t3.5 -2.8t4.1 -1.6t4.4 -0.1t4.3 1.3t2 1M999.6 1305.4q-4.2 -1.6 -6.4 -1.9t-4.5 0.1t-4.3 1.1t-4.1 1.8t-3.9 2.3t-3.1 3.1t-2.3 3.8t-1.5 4.2t-0.7 4.4t0.1 4.5t0.3 2.2M974.2 1305.3q-0.2 4.5 -0.4 6.7t-0.3 4.5t-0.1 4.5t0.3 4.5t1.7 4t3.3 3t4 2t4.4 0.5t4.3 -1.1t3.6 -2.5t1.6 -1.6M980.2 1281.7q3.6 -2.6 5.2 -4.3t3.2 -3.1t3.2 -3.2t2.9 -3.5t3.6 -1.5t4.1 1.5t2.1 3.5t-0.6 4.3t-0.8 2.1M982.2 1268.8q3.7 -2.5 6 -2.8t3.6 1.5t2.9 3.4t3.4 3t3.9 2.1t2.9 -1.3t0.7 -4.3t-2.2 -3.2t-4.3 -1t-4.3 0.9t-2 1M985.2 1323.8q4.5 -0.6 6.6 -1.2t4.3 -1.2t4.3 -1.4t3.6 -2.5t2.7 -3.6t2 -4t1.1 -4.3t0.3 -4.5t-1.1 -4.3t-1 -2" stroke="#4c4c4c" stroke-width="3.3"/><path d="M1059.8 1415.7q2.5 -4.3 2.8 -6.8t-0.4 -4.9t-3.2 -2.5t-5 0.2t-4.6 1.6t-3.5 3.3t-1.9 4.5t-0.6 4.9t-0.9 4.9t-2.4 4.3t-1.6 1.9M1034.3 1436.5q2 -4.6 4.3 -5.5t4.7 -1.7t4.9 -0.8t4.8 1t3.9 2.9t2.5 4.2t0.9 2.3M1054.9 1351.4q-1.7 -4.7 -3.5 -6.4t-4 -3t-4.7 -1.4t-4.8 0.8t-4.2 2.6t-4 3t-4.6 1.8t-4.9 0t-4.5 -1.9t-4 -3t-2 -1.5M1060.5 1406.9q-4.2 -2.7 -6.2 -4.2t-4 -2.9t-3.9 -3.1t-3.6 -3.5t-3.2 -3.8t-3.6 -3.4t-4.2 -2.7t-4.4 -2.3t-4.2 -2.6t-3.8 -3.3t-3.6 -3.5t-3.4 -3.6t-1.6 -1.9M1050 1354.5q4.4 -2.4 6.1 -4.2t2.5 -4.2t0.5 -4.9t-1.7 -4.6t-3.9 -1.9t-4.9 1t-4.2 2.5t-3.2 3.8t-2.7 4.2t-1.3 2.1M1049 1330.5q-5 0 -7.5 -0.1t-4.9 0.5t-4.7 1.7t-4.5 2.2t-4.6 2t-4.7 1.8t-4.8 1.5t-2.4 0.6M1019 1329.4q-1.9 4.6 -3.4 6.7t-3.1 3.9t-2.2 4.3t-0.4 4.9t1.3 4.7t3.1 3.8t1.9 1.6M1004.9 1349.3q4.9 -0.8 7.4 -1.3t4.4 -2.1t3.3 -3.6t2.3 -4.4t1.2 -4.8t0.9 -4.9t0.6 -2.4M1053.6 1351.6q-4.2 -2.8 -6.6 -3.1t-5 -0.3t-5 0.1t-5 0.2t-4.8 1t-4.1 2.6t-3.2 3.8t-2.7 4.2t-1.7 4.6t0.1 4.9t1.5 4.8t2.1 4.5t3.2 3.7t4.5 1.9t2.5 0.4M1028.1 1370.5q3.8 3.3 5.9 4.5t4.5 2.1t4.8 1.3t4.9 0.3t4.9 -0.9t4.8 -1.5t4.5 -2.1t4.2 -2.7t4.6 -1t2.5 0.4M1030 1471.7q0.6 5 1.1 7.4t1.7 4.7t2.5 4.3t2.7 4.2t2.2 4.4t1.4 4.8t1.2 4.8t1 4.9t0.2 2.5M1026.1 1453.7q1.1 4.9 1.2 7.4t0.2 5t0.1 5t-0.6 4.9t-1.7 4.7t-1.9 4.6t-1.5 4.8t-1 4.9t-1.3 4.8t-1.8 4.6t-2.2 4.5t-1.4 2.1M992.1 1433.9q1.6 4.7 2.8 6.9t3.2 3.7t4.4 2.2t4.9 1.1t5 0.5t5 -0.3t5 -0.2t5 0.4t4.8 1.3t4.2 2.6t3.2 3.7t2 4.5t0.7 4.9t0 2.5M1070.2 1506.5q0.7 5 1.4 7.4t1 4.9t0.4 5t-1.3 4.6t-2.4 4.4t-1.9 4.6t-0.8 4.8t0.1 2.5M1070.2 1518.6q0.6 -5 -0.1 -7.4t-1.6 -4.7t-2.5 -4.3t-3.5 -3.5t-4.2 -2.7t-4.4 -2.3t-4.4 -2.4t-4.4 -2.3t-4.5 -2.2t-2.3 -1.1M1059.3 1529.7q-4 3 -6 4.4t-4.2 2.7t-4.5 2.1t-4.8 1.5t-4.7 1.6t-4.3 -0.5t-3.1 -3.8t-1.9 -4.6t-1.3 -4.8t-0.8 -4.9t-1.4 -4.8t-3 -3.9t-1.9 -1.6M1037.2 1421.7q-2.8 4.2 -4 6.4t-1.4 4.7t0.5 4.9t2.9 3.6t4.7 1.3t5 -0.2t4.9 -1t4.4 -2.2t2 -1.5M1029.8 1481.4q-4.9 -0.8 -7.4 -0.9t-5 -0.5t-4.5 -1.8t-3.6 -3.4t-2.3 -4.4t-0.3 -4.9t1.6 -4.6t3.3 -3.6t2.1 -1.4M997 1423.6q3 -4 5 -5.5t4.3 -2.6t4.7 -1.6t4.9 -1.1t4.6 -1.9t3.7 -3.2t2.8 -4.1t1.2 -2.2M1048 1487.5q0.9 -4.9 0.2 -7.3t-2.1 -4.4t-3.4 -3.6t-4.2 -2.7t-4.4 -2.3t-4.2 -2.7t-3.6 -3.5t-2.7 -4.2t-2.1 -4.5t-2.1 -4.5t-1.2 -2.2M984.6 1321.7q-0.7 4.4 -0.9 6.7t0 4.5t1.3 4.2t2.8 3.4t3.8 2.4t4.3 1.2t4.5 -0.1t4.2 -1.5t1.9 -1.2M988.9 1342.7q0.5 -4.5 1.3 -6.6t1.2 -4.3t0.2 -4.4t0 -4.5t0.6 -4.5t1.9 -3.9t3.1 -3.3t3.5 -2.8t4.1 -1.6t4.4 -0.1t4.3 1.3t2 1M999.6 1305.4q-4.2 -1.6 -6.4 -1.9t-4.5 0.1t-4.3 1.1t-4.1 1.8t-3.9 2.3t-3.1 3.1t-2.3 3.8t-1.5 4.2t-0.7 4.4t0.1 4.5t0.3 2.2M974.2 1305.3q-0.2 4.5 -0.4 6.7t-0.3 4.5t-0.1 4.5t0.3 4.5t1.7 4t3.3 3t4 2t4.4 0.5t4.3 -1.1t3.6 -2.5t1.6 -1.6M980.2 1281.7q3.6 -2.6 5.2 -4.3t3.2 -3.1t3.2 -3.2t2.9 -3.5t3.6 -1.5t4.1 1.5t2.1 3.5t-0.6 4.3t-0.8 2.1M982.2 1268.8q3.7 -2.5 6 -2.8t3.6 1.5t2.9 3.4t3.4 3t3.9 2.1t2.9 -1.3t0.7 -4.3t-2.2 -3.2t-4.3 -1t-4.3 0.9t-2 1M985.2 1323.8q4.5 -0.6 6.6 -1.2t4.3 -1.2t4.3 -1.4t3.6 -2.5t2.7 -3.6t2 -4t1.1 -4.3t0.3 -4.5t-1.1 -4.3t-1 -2" stroke="#ffffff" stroke-width="1.9"/><path d="M1026.9 1408.4q5.5 -0.3 8.2 -0.6t5.5 -0.6t5.3 -1.2t5.1 -2t4.8 -2.6t2.4 -4.2t-0.8 -5.4t-0.9 -2.6M1021.8 1388q-3.5 -4.2 -4.4 -6.8t-1.3 -5.3t0.2 -5.4t1 -5.4t0.6 -5.5t0.3 -5.5t0.1 -2.7M1036.7 1380q-2.1 5.1 -2.9 7.7t-1.5 5.3t-1.1 5.4t-0.6 5.5t0.1 5.5t0.3 5.5t0 5.5t-0.1 2.7M1045 1401.5q1 5.4 2.3 7.9t3 4.5t4.1 3.7t4.8 2.5t5.2 1.6t3.6 3.3t1 5.3t0 2.7M1043.9 1407.6q0.2 5.5 0.4 8.2t0.2 5.5t-0.9 5.4t-2.3 4.9t-3.6 4.1t-2.1 1.7M1060.1 1368q2.9 -4.7 3.5 -7.3t0.2 -5.4t-1.4 -5.3t-2.9 -4.6t-4.6 -1.5t-5.2 1.7t-5.1 2.1t-5.2 1.9t-5 2.2t-4.8 2.6t-2.4 1.3M1061.8 1355.4q-2.6 4.8 -3.9 7.3t-2.6 4.8t-3.1 4.5t-3.9 3.9t-4.9 2.1t-5.4 -0.1t-5.2 -1.7t-2.5 -1.2M1064.2 1355.3q0.7 5.5 0.3 8.2t-1.7 5.2t-2.7 4.8t-3 4.6t-2.6 4.8t-1.3 5.3t-0.2 2.7M1027.9 1398.4q3.5 4.2 5 6.5t2.7 4.8t2.2 5t2.6 4.8t3.5 4.2t3.8 4t3.6 4.2t3.3 4.4t1.5 2.3M1061.2 1397.8q-5.5 -0.7 -8.1 -1.3t-5.3 -1.5t-5 -2.2t-4.4 -3.2t-3.9 -3.8t-3.7 -4.1t-3.7 -4.1t-1.9 -2M1037.8 1358.6q-3.5 -4.2 -5.7 -5.9t-4.8 -2.6t-5.2 -1.8t-5.1 -1.9t-5.2 -1.7t-4.9 1.1t-3.8 3.9t-2.5 4.8t-1.7 5.2t-1.1 5.4t-0.4 2.7M1024.7 1344.1q1.3 5.3 2.3 7.9t1.8 5.2t1.5 5.3t1.8 5.2t2.9 4.6t3.8 4t2 1.9M1028.2 1412.1q5.3 1.5 7.9 2.3t5.4 1.2t5.4 1t2.7 0.5M1052.7 1332.7q-5.5 0 -8.2 -0.3t-5.5 -0.7t-5.3 -1.4t-5.2 -1.9t-2.6 -0.9M1004 1381.2q1 -5.4 0.8 -8.1t-0.8 -5.4t-1.8 -5.2t-1.2 -2.5M1042.1 1318q-5.4 1 -7.8 2.4t-4.1 3.5t-2.7 4.7t-0.3 5.3t1.6 5.3t2.1 5.1t1.2 2.5M1066.7 1418.5q-5.5 0.3 -8.2 -0.4t-5.3 -1.4t-4.8 -2.5t-4.3 -3.5t-4.3 -3.4t-4.6 -3t-5.1 -2.1t-4.6 1.2t-2 1.9M989.6 1413.7q-2.6 -5.4 -3.1 -8.4t2.1 -4.5t5.5 -2.2t4.7 1.7t2.7 5.3t1.3 5.8t-0.3 5.9t-0.6 2.9M993.7 1460.6q-4.2 4.3 -5.5 7t-1.9 5.6t1.5 5.2t4.2 4.3t4.4 4t4.3 4.2t3.7 4.7t1.7 2.5M1068.9 1525q-4.3 -4.1 -6.6 -6.1t-4.5 -4t-4.3 -4.2t-4.2 -4.3t-4.4 -4.1t-4.9 -3.4t-5.2 -3t-5.1 -3.2t-5.1 -3.2t-2.6 -1.5M1037.2 1486.4q-4.7 3.7 -6.7 5.9t-3.6 4.8t-2.5 5.4t-1 5.9t0.5 5.9t1.6 5.8t2.4 5.5t3 5.2t3 5.2t2.7 5.3t1.3 2.7M1063.4 1517.4q-0.4 -6 -0.3 -9t0 -6t-0.2 -6t0.3 -6t0.9 -5.9t1.4 -5.8t1.7 -5.7t1.6 -5.8t1.5 -5.8t0.8 -2.9M1052.2 1547.2q-0.4 -6 -0.7 -9t-1.1 -5.9t-1.8 -5.7t-2.5 -5.5t-2.9 -5.2t-2.9 -5.3t-2.5 -5.4t-2.1 -5.6t-0.9 -2.8M1021.2 1444.6q1 -5.9 1.4 -8.9t0.8 -5.9t0.7 -6t0.6 -6t0.6 -6t0.7 -6t-1 -5.6t-4.2 -3.7t-5.8 -1.2t-3 -0.1M983.7 1398.5q4.8 3.6 6.2 6.2t2.9 5.2t3.2 5.1t2.8 5.3t1.8 5.7t1.3 5.9t1 5.9t0.4 3M1020.7 1493.5q5.6 2.1 8.4 3.1t5.7 2t5.5 2.3t5.4 2.7t5.4 2.7t5.6 2t5.9 0.8t5.9 -0.6t4.5 -3.3t1.6 -2.5M1036.4 1490.6q3.5 4.9 5.3 7.3t3.6 4.8t3.7 4.7t3.9 4.5t4.3 4.2t4.5 3.9t4.8 3.6t2.5 1.7M1055.4 1547.1q-2.9 -5.3 -4.5 -7.8t-3.4 -5t-3.6 -4.8t-3.7 -4.7t-3.8 -4.7t-1.9 -2.3M1065 1518.3q3.2 -5.1 4.5 -7.8t2.3 -5.5t1.7 -5.7t0.3 -5.9t-3 -4.2t-5.4 -2.6t-5.2 -3t-4.8 -3.6t-4.7 -3.7t-2.4 -1.8M1004.6 1474.5q-0.6 -6 -1 -8.9t-1.2 -5.9t-2.1 -5.6t-3 -5.2t-1.7 -2.5M1019.7 1534.6q0 -6 0.3 -9t0.9 -5.9t1 -5.9t0.8 -6t0.9 -5.9t0.2 -6t-0.7 -6t-1 -5.9t-1.3 -5.9t-1.6 -5.8t-1.8 -5.7t-0.9 -2.9M1035.7 1502.2q-3.2 -5.1 -4.7 -7.7t-3.2 -5.1t-3.5 -4.9t-3.8 -4.6t-3.6 -4.8t-2.8 -5.3t-1.9 -5.7t-1.6 -5.8t-1.9 -5.7t-1 -2.8M1053.1 1477q-2.1 -5.6 -3.5 -8.3t-2.9 -5.2t-3.3 -5t-3.7 -4.7t-3.5 -4.9t-3.1 -5.1t-3.4 -4.9t-3.7 -4.7t-3.9 -4.6t-1.9 -2.3M1068.5 1441.5q-6 -0.6 -8.6 0.8t-4.9 3.4t-3.9 4.5t-2.7 5.3t-1.5 5.8t-0.5 6t1.1 5.8t2.9 5.2t4.1 4.3t5.1 3.1t2.8 1.2M1072.1 1448.6q-5.6 -2.1 -8.4 -3.2t-5.6 -2.2t-5.4 -2.5t-5.1 -3.1t-4.5 -3.9t-3.9 -4.6t-3.2 -5t-2.9 -5.3t-3.1 -5.1t-3.6 -4.8t-1.9 -2.3M1009.6 1504.3q-1.1 -5.9 -2.1 -8.7t-2.5 -5.4t-3 -5.2t-3.2 -5.1t-3.4 -5t-3.5 -4.9t-1.7 -2.4M1011.3 1531.6q0 -6 0.2 -9t0.5 -6t1 -5.9t1.2 -5.9t1.2 -5.9t1.1 -5.9t0.7 -6t0.2 -3M1070.9 1479.9q3.1 -5.1 3.9 -8t0.8 -5.9t-1.5 -5.6t-3 -5.2t-3 -5.2t-2.9 -5.2t-1.5 -2.6M1029.2 1435.1q-2.1 5.6 -3.6 8.2t-3.2 5.1t-3.3 5t-3.1 5.1t-3.2 5.1t-3.6 4.8t-3.8 4.7t-3.8 4.6t-4.1 4.4t-5 2.9t-2.9 0.8M1025 1405.1q1.1 5.9 1.7 8.8t1.4 5.8t1.6 5.8t1.9 5.7t2.6 5.4t3 5.2t2.9 5.2t2.5 5.4t1.9 5.7t1.7 5.8t1.7 5.8t0.8 2.9M984.1 1277.6q4.3 2.5 6.7 3.2t4.8 1.4t4.9 1.1t3.8 2.6t1.6 4.6t-0.3 4.9t-0.6 2.4M985 1336q0.6 -5 1 -7.4t0.7 -5t-0.4 -4.9t-1.9 -4.6t-3.1 -3.9t-4.2 -2.5t-4.9 -0.9t-2.5 -0.1M1015.7 1291.5q-4 3 -5.2 5.2t-1.8 4.6t-0.4 4.9t0.5 5t0.4 5t0.1 2.5M984.2 1349.4q-5 -0.5 -6.3 -2.6t-1.3 -4.6t0.5 -5t1 -4.9t1.7 -4.7t1.1 -2.3M985.7 1332.6q4 -3 5.9 -4.6t3.8 -3.3t3.8 -3.3t3.9 -3.1t3.8 -3.2t3.6 -3.5t1.8 -1.7M1004.1 1318.9q-3.5 -3.6 -5.5 -5t-4.3 -2.5t-4.5 -2.1t-4.5 -2.2t-4.6 -2t-4.7 -1.6t-2.4 -0.8M1012 1343.6q-1.3 -4.8 -2.8 -6.9t-3.1 -3.9t-3.3 -3.7t-3.4 -3.6t-3.7 -3.4t-1.9 -1.7M991.8 1263q4 3 5.7 4.8t3.2 3.8t3.1 3.9t1.6 4.5t0.1 2.5M991.5 1295.1q-3.1 3.9 -5 5.6t-3.9 3.1t-4.3 2.6t-4.4 2.3t-4.5 2.2t-2.3 1.1M976.4 1293.9q2.5 4.3 3.4 6.7t2 4.6t2.3 4.4t1.3 2.2" stroke="#4c4c4c" stroke-width="3.3"/><path d="M1026.9 1408.4q5.5 -0.3 8.2 -0.6t5.5 -0.6t5.3 -1.2t5.1 -2t4.8 -2.6t2.4 -4.2t-0.8 -5.4t-0.9 -2.6M1021.8 1388q-3.5 -4.2 -4.4 -6.8t-1.3 -5.3t0.2 -5.4t1 -5.4t0.6 -5.5t0.3 -5.5t0.1 -2.7M1036.7 1380q-2.1 5.1 -2.9 7.7t-1.5 5.3t-1.1 5.4t-0.6 5.5t0.1 5.5t0.3 5.5t0 5.5t-0.1 2.7M1045 1401.5q1 5.4 2.3 7.9t3 4.5t4.1 3.7t4.8 2.5t5.2 1.6t3.6 3.3t1 5.3t0 2.7M1043.9 1407.6q0.2 5.5 0.4 8.2t0.2 5.5t-0.9 5.4t-2.3 4.9t-3.6 4.1t-2.1 1.7M1060.1 1368q2.9 -4.7 3.5 -7.3t0.2 -5.4t-1.4 -5.3t-2.9 -4.6t-4.6 -1.5t-5.2 1.7t-5.1 2.1t-5.2 1.9t-5 2.2t-4.8 2.6t-2.4 1.3M1061.8 1355.4q-2.6 4.8 -3.9 7.3t-2.6 4.8t-3.1 4.5t-3.9 3.9t-4.9 2.1t-5.4 -0.1t-5.2 -1.7t-2.5 -1.2M1064.2 1355.3q0.7 5.5 0.3 8.2t-1.7 5.2t-2.7 4.8t-3 4.6t-2.6 4.8t-1.3 5.3t-0.2 2.7M1027.9 1398.4q3.5 4.2 5 6.5t2.7 4.8t2.2 5t2.6 4.8t3.5 4.2t3.8 4t3.6 4.2t3.3 4.4t1.5 2.3M1061.2 1397.8q-5.5 -0.7 -8.1 -1.3t-5.3 -1.5t-5 -2.2t-4.4 -3.2t-3.9 -3.8t-3.7 -4.1t-3.7 -4.1t-1.9 -2M1037.8 1358.6q-3.5 -4.2 -5.7 -5.9t-4.8 -2.6t-5.2 -1.8t-5.1 -1.9t-5.2 -1.7t-4.9 1.1t-3.8 3.9t-2.5 4.8t-1.7 5.2t-1.1 5.4t-0.4 2.7M1024.7 1344.1q1.3 5.3 2.3 7.9t1.8 5.2t1.5 5.3t1.8 5.2t2.9 4.6t3.8 4t2 1.9M1028.2 1412.1q5.3 1.5 7.9 2.3t5.4 1.2t5.4 1t2.7 0.5M1052.7 1332.7q-5.5 0 -8.2 -0.3t-5.5 -0.7t-5.3 -1.4t-5.2 -1.9t-2.6 -0.9M1004 1381.2q1 -5.4 0.8 -8.1t-0.8 -5.4t-1.8 -5.2t-1.2 -2.5M1042.1 1318q-5.4 1 -7.8 2.4t-4.1 3.5t-2.7 4.7t-0.3 5.3t1.6 5.3t2.1 5.1t1.2 2.5M1066.7 1418.5q-5.5 0.3 -8.2 -0.4t-5.3 -1.4t-4.8 -2.5t-4.3 -3.5t-4.3 -3.4t-4.6 -3t-5.1 -2.1t-4.6 1.2t-2 1.9M989.6 1413.7q-2.6 -5.4 -3.1 -8.4t2.1 -4.5t5.5 -2.2t4.7 1.7t2.7 5.3t1.3 5.8t-0.3 5.9t-0.6 2.9M993.7 1460.6q-4.2 4.3 -5.5 7t-1.9 5.6t1.5 5.2t4.2 4.3t4.4 4t4.3 4.2t3.7 4.7t1.7 2.5M1068.9 1525q-4.3 -4.1 -6.6 -6.1t-4.5 -4t-4.3 -4.2t-4.2 -4.3t-4.4 -4.1t-4.9 -3.4t-5.2 -3t-5.1 -3.2t-5.1 -3.2t-2.6 -1.5M1037.2 1486.4q-4.7 3.7 -6.7 5.9t-3.6 4.8t-2.5 5.4t-1 5.9t0.5 5.9t1.6 5.8t2.4 5.5t3 5.2t3 5.2t2.7 5.3t1.3 2.7M1063.4 1517.4q-0.4 -6 -0.3 -9t0 -6t-0.2 -6t0.3 -6t0.9 -5.9t1.4 -5.8t1.7 -5.7t1.6 -5.8t1.5 -5.8t0.8 -2.9M1052.2 1547.2q-0.4 -6 -0.7 -9t-1.1 -5.9t-1.8 -5.7t-2.5 -5.5t-2.9 -5.2t-2.9 -5.3t-2.5 -5.4t-2.1 -5.6t-0.9 -2.8M1021.2 1444.6q1 -5.9 1.4 -8.9t0.8 -5.9t0.7 -6t0.6 -6t0.6 -6t0.7 -6t-1 -5.6t-4.2 -3.7t-5.8 -1.2t-3 -0.1M983.7 1398.5q4.8 3.6 6.2 6.2t2.9 5.2t3.2 5.1t2.8 5.3t1.8 5.7t1.3 5.9t1 5.9t0.4 3M1020.7 1493.5q5.6 2.1 8.4 3.1t5.7 2t5.5 2.3t5.4 2.7t5.4 2.7t5.6 2t5.9 0.8t5.9 -0.6t4.5 -3.3t1.6 -2.5M1036.4 1490.6q3.5 4.9 5.3 7.3t3.6 4.8t3.7 4.7t3.9 4.5t4.3 4.2t4.5 3.9t4.8 3.6t2.5 1.7M1055.4 1547.1q-2.9 -5.3 -4.5 -7.8t-3.4 -5t-3.6 -4.8t-3.7 -4.7t-3.8 -4.7t-1.9 -2.3M1065 1518.3q3.2 -5.1 4.5 -7.8t2.3 -5.5t1.7 -5.7t0.3 -5.9t-3 -4.2t-5.4 -2.6t-5.2 -3t-4.8 -3.6t-4.7 -3.7t-2.4 -1.8M1004.6 1474.5q-0.6 -6 -1 -8.9t-1.2 -5.9t-2.1 -5.6t-3 -5.2t-1.7 -2.5M1019.7 1534.6q0 -6 0.3 -9t0.9 -5.9t1 -5.9t0.8 -6t0.9 -5.9t0.2 -6t-0.7 -6t-1 -5.9t-1.3 -5.9t-1.6 -5.8t-1.8 -5.7t-0.9 -2.9M1035.7 1502.2q-3.2 -5.1 -4.7 -7.7t-3.2 -5.1t-3.5 -4.9t-3.8 -4.6t-3.6 -4.8t-2.8 -5.3t-1.9 -5.7t-1.6 -5.8t-1.9 -5.7t-1 -2.8M1053.1 1477q-2.1 -5.6 -3.5 -8.3t-2.9 -5.2t-3.3 -5t-3.7 -4.7t-3.5 -4.9t-3.1 -5.1t-3.4 -4.9t-3.7 -4.7t-3.9 -4.6t-1.9 -2.3M1068.5 1441.5q-6 -0.6 -8.6 0.8t-4.9 3.4t-3.9 4.5t-2.7 5.3t-1.5 5.8t-0.5 6t1.1 5.8t2.9 5.2t4.1 4.3t5.1 3.1t2.8 1.2M1072.1 1448.6q-5.6 -2.1 -8.4 -3.2t-5.6 -2.2t-5.4 -2.5t-5.1 -3.1t-4.5 -3.9t-3.9 -4.6t-3.2 -5t-2.9 -5.3t-3.1 -5.1t-3.6 -4.8t-1.9 -2.3M1009.6 1504.3q-1.1 -5.9 -2.1 -8.7t-2.5 -5.4t-3 -5.2t-3.2 -5.1t-3.4 -5t-3.5 -4.9t-1.7 -2.4M1011.3 1531.6q0 -6 0.2 -9t0.5 -6t1 -5.9t1.2 -5.9t1.2 -5.9t1.1 -5.9t0.7 -6t0.2 -3M1070.9 1479.9q3.1 -5.1 3.9 -8t0.8 -5.9t-1.5 -5.6t-3 -5.2t-3 -5.2t-2.9 -5.2t-1.5 -2.6M1029.2 1435.1q-2.1 5.6 -3.6 8.2t-3.2 5.1t-3.3 5t-3.1 5.1t-3.2 5.1t-3.6 4.8t-3.8 4.7t-3.8 4.6t-4.1 4.4t-5 2.9t-2.9 0.8M1025 1405.1q1.1 5.9 1.7 8.8t1.4 5.8t1.6 5.8t1.9 5.7t2.6 5.4t3 5.2t2.9 5.2t2.5 5.4t1.9 5.7t1.7 5.8t1.7 5.8t0.8 2.9M984.1 1277.6q4.3 2.5 6.7 3.2t4.8 1.4t4.9 1.1t3.8 2.6t1.6 4.6t-0.3 4.9t-0.6 2.4M985 1336q0.6 -5 1 -7.4t0.7 -5t-0.4 -4.9t-1.9 -4.6t-3.1 -3.9t-4.2 -2.5t-4.9 -0.9t-2.5 -0.1M1015.7 1291.5q-4 3 -5.2 5.2t-1.8 4.6t-0.4 4.9t0.5 5t0.4 5t0.1 2.5M984.2 1349.4q-5 -0.5 -6.3 -2.6t-1.3 -4.6t0.5 -5t1 -4.9t1.7 -4.7t1.1 -2.3M985.7 1332.6q4 -3 5.9 -4.6t3.8 -3.3t3.8 -3.3t3.9 -3.1t3.8 -3.2t3.6 -3.5t1.8 -1.7M1004.1 1318.9q-3.5 -3.6 -5.5 -5t-4.3 -2.5t-4.5 -2.1t-4.5 -2.2t-4.6 -2t-4.7 -1.6t-2.4 -0.8M1012 1343.6q-1.3 -4.8 -2.8 -6.9t-3.1 -3.9t-3.3 -3.7t-3.4 -3.6t-3.7 -3.4t-1.9 -1.7M991.8 1263q4 3 5.7 4.8t3.2 3.8t3.1 3.9t1.6 4.5t0.1 2.5M991.5 1295.1q-3.1 3.9 -5 5.6t-3.9 3.1t-4.3 2.6t-4.4 2.3t-4.5 2.2t-2.3 1.1M976.4 1293.9q2.5 4.3 3.4 6.7t2 4.6t2.3 4.4t1.3 2.2" stroke="#ffffff" stroke-width="1.9"/><path d="M968.3 1419q1.1 -5.9 1.3 -8.9t0.2 -6t-0.5 -6t-1.3 -5.9t-2 -5.6t-2.3 -5.5t-1.1 -2.8M961.7 1453.9q-3.7 -4.7 -4 -7.7t-0.3 -6t0.3 -6t0.7 -6t0.9 -5.9t1.4 -5.8t2 -5.7t1.2 -2.8M972.3 1422q-0.2 6 -0.4 9t-0.2 6t0.1 6t0.5 6t0.4 3M934.6 1435.9q4.7 -3.7 7.2 -5.3t4.9 -3.4t4.7 -3.7t4.5 -4t4.1 -4.3t3.8 -4.6t3.4 -4.9t3.1 -5.1t3.1 -5.1t3.1 -5.2t1.5 -2.6M972.3 1424q-1.5 5.8 -2.1 8.7t-0.9 5.9t-0.4 6t0.3 6t0.4 3M928 1432.8q-0.7 6 1.8 7.7t5 3.2t5.4 2.6t5.7 0.4t4 -3.5t1.8 -5.7t1.4 -5.8t1.3 -5.8t1.3 -5.9t1.4 -5.8t0.7 -2.9M970.5 1429.5q-0.4 -6 -0.4 -9t0.6 -6t1.4 -5.8t1.8 -5.7t1.8 -5.7t1.7 -5.7t1.6 -5.8t1.7 -5.8t0.9 -2.9M934.3 1438.3q2.4 -5.5 3.6 -8.2t2.4 -5.5t2.2 -5.6t2.1 -5.6t2.1 -5.6t2 -5.6t1.8 -5.7t1.5 -5.8t1.8 -5.7t3.3 -4.8t2.3 -2M923.6 1506.8q2.6 -4.7 1.4 -5.9t-1.2 0.5t2.7 2.3t4 -1.8t0.1 -3.5t-1.2 0.5t2.7 2.3t4 -1.8t0.1 -3.5t-1.2 0.5t0.1 1.7M951.6 1515.4q4.8 -3.6 4 -5.4t-1.7 0t1.5 3.6t4.7 0t1.6 -3.6t-1.7 0t1.5 3.6t4.7 0t1.6 -3.6t-1.7 0t1.5 3.6t4.7 0t2.4 -1.8M909.6 1508.6q0.5 -6.2 -1.5 -6.8t-1.1 1.2t3.9 1.3t3.3 -3.7t-1.7 -3.7t-1.1 1.2t3.9 1.3t3.3 -3.7t-1.7 -3.7t-1.1 1.2t3.9 1.3t3 -0.6M984.1 1530.8q-3.3 0 -2.1 1.1t3.3 -0.1t1.6 -3.7t-2.2 -2.5t-0.5 1.1t3.3 -0.1t2.2 -1.3M897.4 1521.3q4.6 -3.9 3.7 -5.7t-1.6 0.1t1.8 3.6t4.8 -0.2t1.4 -3.7t-1.6 0.1t1.8 3.6t4.8 -0.2t1.4 -3.7t-1.6 0.1t-0.7 1.9M923.4 1544.7q4.9 -2.3 4.5 -4t-1.4 -0.3t0.7 3.5t4.2 0.9t2.1 -2.9t-1.4 -0.3t0.7 3.5t4.2 0.9t2.1 -2.9t-1.4 -0.3t0.7 3.5t4.2 0.9t2.1 -2.9t-1.4 -0.3t-1.1 1.4M926.8 1526.9q-1.5 -5.6 -3.4 -5.6t-0.5 1.4t3.8 -0.2t1.7 -4.4t-2.7 -2.8t-0.5 1.4t3.8 -0.2t1.7 -4.4t-2.7 -2.8t-0.5 1.4t3.8 -0.2t1.7 -4.4t-2.7 -2.8t-1.9 0M933.9 1513.6q1.1 -5.2 -0.4 -6t-0.9 0.8t3.2 1.3t3.2 -2.9t-1 -3.3t-0.9 0.8t3.2 1.3t3.2 -2.9t-1 -3.3t-0.9 0.8t3.2 1.3t2.6 -0.3M952.2 1550.3q4.9 -2.2 4.5 -4t-1.4 -0.3t0.6 3.5t4.1 1t2.1 -2.8t-1.4 -0.3t0.6 3.5t4.1 1t2.1 -2.8t-1.4 -0.3t0.6 3.5t1.7 2.1M905.3 1548.2q2.4 -5.4 0.7 -6.6t-1.5 0.8t3 2.5t4.1 -2.2t-0.4 -3.9t-1.5 0.8t3 2.5t4.1 -2.2t-0.4 -3.9t-1.6 -1.2M973.2 1515.9q4.6 -2.4 4.2 -4t-1.2 -0.2t1 3.2t4.1 0.6t1.9 -2.8t-1.2 -0.2t1 3.2t4.1 0.6t1.9 -2.8t-1.2 -0.2t1 3.2t1.8 1.8M958.5 1515.1q4.9 -3.9 4 -5.8t-1.7 0t1.7 3.8t5 -0.1t1.6 -3.8t-1.7 0t1.7 3.8t5 -0.1t1.6 -3.8t-1.7 0t1.7 3.8t5 -0.1t2.4 -1.9M967.3 1531.8q1.9 -5.8 0.1 -6.9t-1.6 1t3.3 2.3t4 -2.7t-0.9 -4t-1.6 1t3.3 2.3t3.1 0.2M947.5 1532q1.6 -5.8 -0.2 -6.8t-1.3 1t3.5 1.9t3.8 -2.9t-1 -3.9t-1.3 1t3.5 1.9t3.8 -2.9t-1 -3.9t-1.3 1t0.5 1.9M955.6 1547.3q0.8 -5.7 -0.9 -6.4t-1 1t3.6 1.3t3.3 -3.3t-1.3 -3.6t-1 1t3.6 1.3t3.3 -3.3t-1.3 -3.6t-1 1t3.6 1.3t3.3 -3.3t-1.3 -3.6t-1 1t3.6 1.3t2.9 -0.4M910 1529.4q1 -5.4 -0.6 -6.2t-1.1 1t3.4 1.4t3.3 -3t-1.2 -3.5t-1.1 1t3.4 1.4t3.3 -3t-1.2 -3.5t-1.1 1t3.4 1.4t3.3 -3t-1.2 -3.5t-1.1 1t3.4 1.4t3.3 -3t-1.2 -3.5t-1.7 -0.7M952.8 1515.3q0.4 -5.4 -1.2 -5.9t-0.8 0.9t3.4 0.8t2.8 -3.3t-1.4 -3.2t-0.8 0.9t3.4 0.8t2.6 -0.6M952.4 1548.7q-0.9 -5.2 -2.7 -5.3t-0.6 1.2t3.5 0.2t1.9 -3.8t-2.2 -2.7t-0.6 1.2t3.5 0.2t1.9 -3.8t-2.2 -2.7t-0.6 1.2t3.5 0.2t1.9 -3.8t-2.2 -2.7t-0.6 1.2t1.1 1.3M968.5 1543.8q2.4 -4.7 1 -5.8t-1.3 0.6t2.6 2.2t3.8 -1.8t-0.1 -3.5t-1.3 0.6t2.6 2.2t3.8 -1.8t-0.1 -3.5t-1.3 0.6t2.6 2.2t3.8 -1.8t-0.1 -3.5t-1.3 0.6t0.1 1.7M898.3 1507.1q2.7 3.6 3.8 5.6t2.1 4t1.7 4.1t0.8 4.4t-0.4 4.4t-1.8 4.1t-3 3.3t-3.5 0t-1.8 -1.4M966.4 1541.8q-4 2.1 -6.2 2.6t-4.4 0.6t-4.5 -0.3t-4.2 -1.4t-4.1 -1.9t-4.1 -1.8t-3.8 -2.3t-2.9 -3.3t-1.4 -4.1t0.1 -4.5t0.8 -4.4t1.5 -4.2t1.1 -2M919.2 1518.2q2.1 -4 3.2 -5.9t2.5 -3.8t3.4 -2.8t4 -2t4 -2.1t4.2 -1.4t4.4 0.5t4.1 1.9t3.7 2.5t3.1 3.2t2 3.9t0.7 2.1M954.7 1535.3q0.5 -4.5 1.4 -6.5t2.4 -3.8t3.5 -2.8t4.2 -1.2t4.4 0.5t4.1 1.8t3.7 2.5t2.8 3.4t1.6 4.2t0.6 2.2M966.4 1529.7q3.3 -3.1 4.1 -5.2t0.8 -4.3t-0.9 -4.3t-2.8 -3.4t-3.8 -2.4t-4 -2.1t-4.1 -1.9t-4 -2t-1.9 -1.2M929 1517q-0.9 -4.4 -1.9 -6.4t-2.5 -3.7t-3.1 -3.3t-3.3 -3.1t-3 -3.3t-3.1 -3.2t-1.7 -1.5M946.2 1533.6q-3.2 3.2 -4.5 5t-1.6 4.1t0.3 4.4t1.8 4.1t2.1 4t2.2 3.9t3.2 3t4.2 1.4t4.4 -0.3t2.2 -0.5M958.4 1506.2q4.3 1.4 6.1 2.7t3.6 2.6t4 1.9t4.4 0.5t4.4 -0.8t4.3 -1.3t4.4 -0.9t2.2 -0.2M964.5 1555.6q3.5 -2.8 5.4 -4t3.3 -2.9t1.9 -4t-0.7 -4.1t-2.4 -3.8t-1.8 -4t-0.5 -4.4t-0.4 -4.5t-1.4 -4.2t-2.3 -3.9t-1.2 -1.9M897.8 1535.8q3.7 -2.5 5.8 -3.4t4.3 -1t4.5 0t4.5 0.6t4.3 1.2t4.2 1.6t4.3 0.8t2.2 0M901.1 1527q2.5 3.8 3.8 5.6t3.2 3.1t3.8 2.4t3.7 2.5t2.7 3.4t1.3 4.3t-0.1 4.4t-1.4 4.2t-1 2M933.8 1538.9q-4.2 -1.6 -6.3 -2.4t-3.6 -2.5t-2.9 -3.4t-2.3 -3.8t-1 -4.3t0.1 -4.5t0.2 -4.5t0.2 -4.5t0.3 -4.5t0.8 -4.4t0.7 -2.2M934.2 1536.7q-1.3 4.3 -2.5 6.2t-2.4 3.8t-2.4 3.8t-0.5 4.1t2 4t3.2 3t4.2 1.6t2.2 0.5M901.9 1535q3.4 -2.9 5.2 -4.3t3.1 -3.2t2.8 -3.5t2.5 -3.7t1.5 -4.2t0.7 -4.4t0.9 -4.4t1.8 -4.1t2.2 -3.9t2.6 -3.7t2.8 -3.5t1.9 -4t0.5 -2.2M993.7 1367.8q-15.3 3.8 -21.6 5.7t-11.5 4.5t-7.6 8.9t-2.5 6.4M996.3 1372.9q-15.3 5.1 -21 7.6t-8.9 10.2t-1.9 15.3t1.3 7.6M958.1 1451.8q-3.8 22.9 -1.9 33.1t8.3 15.3t15.3 6.4t11.5 5.1t2.5 3.8M967 1451.8q-3.8 22.9 -1.3 31.8t10.2 14t14 3.8t8.9 -5.1t2.5 -3.8M978.5 1291.4q-1.3 -15.3 4.5 -22.3t13.4 -5.1t8.9 8.3t-2.5 11.5t1.3 7.6t10.2 1.9t5.1 -0.6M1059.9 1337.2q10.2 12.7 14 20.4t2.5 12.7t-7.6 3.8t-6.4 -1.3M1059.9 1395.8q10.2 10.2 10.8 19.1t-5.1 12.7t-9.5 0t-3.8 -3.8M922.4 1441.6q10.2 -7.6 15.3 -2.5t10.2 2.5t10.2 2.5t10.2 6.4t5.1 1.3" stroke="#4c4c4c" stroke-width="3.3"/><path d="M968.3 1419q1.1 -5.9 1.3 -8.9t0.2 -6t-0.5 -6t-1.3 -5.9t-2 -5.6t-2.3 -5.5t-1.1 -2.8M961.7 1453.9q-3.7 -4.7 -4 -7.7t-0.3 -6t0.3 -6t0.7 -6t0.9 -5.9t1.4 -5.8t2 -5.7t1.2 -2.8M972.3 1422q-0.2 6 -0.4 9t-0.2 6t0.1 6t0.5 6t0.4 3M934.6 1435.9q4.7 -3.7 7.2 -5.3t4.9 -3.4t4.7 -3.7t4.5 -4t4.1 -4.3t3.8 -4.6t3.4 -4.9t3.1 -5.1t3.1 -5.1t3.1 -5.2t1.5 -2.6M972.3 1424q-1.5 5.8 -2.1 8.7t-0.9 5.9t-0.4 6t0.3 6t0.4 3M928 1432.8q-0.7 6 1.8 7.7t5 3.2t5.4 2.6t5.7 0.4t4 -3.5t1.8 -5.7t1.4 -5.8t1.3 -5.8t1.3 -5.9t1.4 -5.8t0.7 -2.9M970.5 1429.5q-0.4 -6 -0.4 -9t0.6 -6t1.4 -5.8t1.8 -5.7t1.8 -5.7t1.7 -5.7t1.6 -5.8t1.7 -5.8t0.9 -2.9M934.3 1438.3q2.4 -5.5 3.6 -8.2t2.4 -5.5t2.2 -5.6t2.1 -5.6t2.1 -5.6t2 -5.6t1.8 -5.7t1.5 -5.8t1.8 -5.7t3.3 -4.8t2.3 -2M923.6 1506.8q2.6 -4.7 1.4 -5.9t-1.2 0.5t2.7 2.3t4 -1.8t0.1 -3.5t-1.2 0.5t2.7 2.3t4 -1.8t0.1 -3.5t-1.2 0.5t0.1 1.7M951.6 1515.4q4.8 -3.6 4 -5.4t-1.7 0t1.5 3.6t4.7 0t1.6 -3.6t-1.7 0t1.5 3.6t4.7 0t1.6 -3.6t-1.7 0t1.5 3.6t4.7 0t2.4 -1.8M909.6 1508.6q0.5 -6.2 -1.5 -6.8t-1.1 1.2t3.9 1.3t3.3 -3.7t-1.7 -3.7t-1.1 1.2t3.9 1.3t3.3 -3.7t-1.7 -3.7t-1.1 1.2t3.9 1.3t3 -0.6M984.1 1530.8q-3.3 0 -2.1 1.1t3.3 -0.1t1.6 -3.7t-2.2 -2.5t-0.5 1.1t3.3 -0.1t2.2 -1.3M897.4 1521.3q4.6 -3.9 3.7 -5.7t-1.6 0.1t1.8 3.6t4.8 -0.2t1.4 -3.7t-1.6 0.1t1.8 3.6t4.8 -0.2t1.4 -3.7t-1.6 0.1t-0.7 1.9M923.4 1544.7q4.9 -2.3 4.5 -4t-1.4 -0.3t0.7 3.5t4.2 0.9t2.1 -2.9t-1.4 -0.3t0.7 3.5t4.2 0.9t2.1 -2.9t-1.4 -0.3t0.7 3.5t4.2 0.9t2.1 -2.9t-1.4 -0.3t-1.1 1.4M926.8 1526.9q-1.5 -5.6 -3.4 -5.6t-0.5 1.4t3.8 -0.2t1.7 -4.4t-2.7 -2.8t-0.5 1.4t3.8 -0.2t1.7 -4.4t-2.7 -2.8t-0.5 1.4t3.8 -0.2t1.7 -4.4t-2.7 -2.8t-1.9 0M933.9 1513.6q1.1 -5.2 -0.4 -6t-0.9 0.8t3.2 1.3t3.2 -2.9t-1 -3.3t-0.9 0.8t3.2 1.3t3.2 -2.9t-1 -3.3t-0.9 0.8t3.2 1.3t2.6 -0.3M952.2 1550.3q4.9 -2.2 4.5 -4t-1.4 -0.3t0.6 3.5t4.1 1t2.1 -2.8t-1.4 -0.3t0.6 3.5t4.1 1t2.1 -2.8t-1.4 -0.3t0.6 3.5t1.7 2.1M905.3 1548.2q2.4 -5.4 0.7 -6.6t-1.5 0.8t3 2.5t4.1 -2.2t-0.4 -3.9t-1.5 0.8t3 2.5t4.1 -2.2t-0.4 -3.9t-1.6 -1.2M973.2 1515.9q4.6 -2.4 4.2 -4t-1.2 -0.2t1 3.2t4.1 0.6t1.9 -2.8t-1.2 -0.2t1 3.2t4.1 0.6t1.9 -2.8t-1.2 -0.2t1 3.2t1.8 1.8M958.5 1515.1q4.9 -3.9 4 -5.8t-1.7 0t1.7 3.8t5 -0.1t1.6 -3.8t-1.7 0t1.7 3.8t5 -0.1t1.6 -3.8t-1.7 0t1.7 3.8t5 -0.1t2.4 -1.9M967.3 1531.8q1.9 -5.8 0.1 -6.9t-1.6 1t3.3 2.3t4 -2.7t-0.9 -4t-1.6 1t3.3 2.3t3.1 0.2M947.5 1532q1.6 -5.8 -0.2 -6.8t-1.3 1t3.5 1.9t3.8 -2.9t-1 -3.9t-1.3 1t3.5 1.9t3.8 -2.9t-1 -3.9t-1.3 1t0.5 1.9M955.6 1547.3q0.8 -5.7 -0.9 -6.4t-1 1t3.6 1.3t3.3 -3.3t-1.3 -3.6t-1 1t3.6 1.3t3.3 -3.3t-1.3 -3.6t-1 1t3.6 1.3t3.3 -3.3t-1.3 -3.6t-1 1t3.6 1.3t2.9 -0.4M910 1529.4q1 -5.4 -0.6 -6.2t-1.1 1t3.4 1.4t3.3 -3t-1.2 -3.5t-1.1 1t3.4 1.4t3.3 -3t-1.2 -3.5t-1.1 1t3.4 1.4t3.3 -3t-1.2 -3.5t-1.1 1t3.4 1.4t3.3 -3t-1.2 -3.5t-1.7 -0.7M952.8 1515.3q0.4 -5.4 -1.2 -5.9t-0.8 0.9t3.4 0.8t2.8 -3.3t-1.4 -3.2t-0.8 0.9t3.4 0.8t2.6 -0.6M952.4 1548.7q-0.9 -5.2 -2.7 -5.3t-0.6 1.2t3.5 0.2t1.9 -3.8t-2.2 -2.7t-0.6 1.2t3.5 0.2t1.9 -3.8t-2.2 -2.7t-0.6 1.2t3.5 0.2t1.9 -3.8t-2.2 -2.7t-0.6 1.2t1.1 1.3M968.5 1543.8q2.4 -4.7 1 -5.8t-1.3 0.6t2.6 2.2t3.8 -1.8t-0.1 -3.5t-1.3 0.6t2.6 2.2t3.8 -1.8t-0.1 -3.5t-1.3 0.6t2.6 2.2t3.8 -1.8t-0.1 -3.5t-1.3 0.6t0.1 1.7M898.3 1507.1q2.7 3.6 3.8 5.6t2.1 4t1.7 4.1t0.8 4.4t-0.4 4.4t-1.8 4.1t-3 3.3t-3.5 0t-1.8 -1.4M966.4 1541.8q-4 2.1 -6.2 2.6t-4.4 0.6t-4.5 -0.3t-4.2 -1.4t-4.1 -1.9t-4.1 -1.8t-3.8 -2.3t-2.9 -3.3t-1.4 -4.1t0.1 -4.5t0.8 -4.4t1.5 -4.2t1.1 -2M919.2 1518.2q2.1 -4 3.2 -5.9t2.5 -3.8t3.4 -2.8t4 -2t4 -2.1t4.2 -1.4t4.4 0.5t4.1 1.9t3.7 2.5t3.1 3.2t2 3.9t0.7 2.1M954.7 1535.3q0.5 -4.5 1.4 -6.5t2.4 -3.8t3.5 -2.8t4.2 -1.2t4.4 0.5t4.1 1.8t3.7 2.5t2.8 3.4t1.6 4.2t0.6 2.2M966.4 1529.7q3.3 -3.1 4.1 -5.2t0.8 -4.3t-0.9 -4.3t-2.8 -3.4t-3.8 -2.4t-4 -2.1t-4.1 -1.9t-4 -2t-1.9 -1.2M929 1517q-0.9 -4.4 -1.9 -6.4t-2.5 -3.7t-3.1 -3.3t-3.3 -3.1t-3 -3.3t-3.1 -3.2t-1.7 -1.5M946.2 1533.6q-3.2 3.2 -4.5 5t-1.6 4.1t0.3 4.4t1.8 4.1t2.1 4t2.2 3.9t3.2 3t4.2 1.4t4.4 -0.3t2.2 -0.5M958.4 1506.2q4.3 1.4 6.1 2.7t3.6 2.6t4 1.9t4.4 0.5t4.4 -0.8t4.3 -1.3t4.4 -0.9t2.2 -0.2M964.5 1555.6q3.5 -2.8 5.4 -4t3.3 -2.9t1.9 -4t-0.7 -4.1t-2.4 -3.8t-1.8 -4t-0.5 -4.4t-0.4 -4.5t-1.4 -4.2t-2.3 -3.9t-1.2 -1.9M897.8 1535.8q3.7 -2.5 5.8 -3.4t4.3 -1t4.5 0t4.5 0.6t4.3 1.2t4.2 1.6t4.3 0.8t2.2 0M901.1 1527q2.5 3.8 3.8 5.6t3.2 3.1t3.8 2.4t3.7 2.5t2.7 3.4t1.3 4.3t-0.1 4.4t-1.4 4.2t-1 2M933.8 1538.9q-4.2 -1.6 -6.3 -2.4t-3.6 -2.5t-2.9 -3.4t-2.3 -3.8t-1 -4.3t0.1 -4.5t0.2 -4.5t0.2 -4.5t0.3 -4.5t0.8 -4.4t0.7 -2.2M934.2 1536.7q-1.3 4.3 -2.5 6.2t-2.4 3.8t-2.4 3.8t-0.5 4.1t2 4t3.2 3t4.2 1.6t2.2 0.5M901.9 1535q3.4 -2.9 5.2 -4.3t3.1 -3.2t2.8 -3.5t2.5 -3.7t1.5 -4.2t0.7 -4.4t0.9 -4.4t1.8 -4.1t2.2 -3.9t2.6 -3.7t2.8 -3.5t1.9 -4t0.5 -2.2M993.7 1367.8q-15.3 3.8 -21.6 5.7t-11.5 4.5t-7.6 8.9t-2.5 6.4M996.3 1372.9q-15.3 5.1 -21 7.6t-8.9 10.2t-1.9 15.3t1.3 7.6M958.1 1451.8q-3.8 22.9 -1.9 33.1t8.3 15.3t15.3 6.4t11.5 5.1t2.5 3.8M967 1451.8q-3.8 22.9 -1.3 31.8t10.2 14t14 3.8t8.9 -5.1t2.5 -3.8M978.5 1291.4q-1.3 -15.3 4.5 -22.3t13.4 -5.1t8.9 8.3t-2.5 11.5t1.3 7.6t10.2 1.9t5.1 -0.6M1059.9 1337.2q10.2 12.7 14 20.4t2.5 12.7t-7.6 3.8t-6.4 -1.3M1059.9 1395.8q10.2 10.2 10.8 19.1t-5.1 12.7t-9.5 0t-3.8 -3.8M922.4 1441.6q10.2 -7.6 15.3 -2.5t10.2 2.5t10.2 2.5t10.2 6.4t5.1 1.3" stroke="#ffffff" stroke-width="1.9"/>
<path d="M1356.2 1415.7q-2.5 -4.3 -2.8 -6.8t0.4 -4.9t3.2 -2.5t5 0.2t4.6 1.6t3.5 3.3t1.9 4.5t0.6 4.9t0.9 4.9t2.4 4.3t1.6 1.9M1381.7 1436.5q-2 -4.6 -4.3 -5.5t-4.7 -1.7t-4.9 -0.8t-4.8 1t-3.9 2.9t-2.5 4.2t-0.9 2.3M1361.1 1351.4q1.7 -4.7 3.5 -6.4t4 -3t4.7 -1.4t4.8 0.8t4.2 2.6t4 3t4.6 1.8t4.9 0t4.5 -1.9t4 -3t2 -1.5M1355.5 1406.9q4.2 -2.7 6.2 -4.2t4 -2.9t3.9 -3.1t3.6 -3.5t3.2 -3.8t3.6 -3.4t4.2 -2.7t4.4 -2.3t4.2 -2.6t3.8 -3.3t3.6 -3.5t3.4 -3.6t1.6 -1.9M1366 1354.5q-4.4 -2.4 -6.1 -4.2t-2.5 -4.2t-0.5 -4.9t1.7 -4.6t3.9 -1.9t4.9 1t4.2 2.5t3.2 3.8t2.7 4.2t1.3 2.1M1367 1330.5q5 0 7.5 -0.1t4.9 0.5t4.7 1.7t4.5 2.2t4.6 2t4.7 1.8t4.8 1.5t2.4 0.6M1397 1329.4q1.9 4.6 3.4 6.7t3.1 3.9t2.2 4.3t0.4 4.9t-1.3 4.7t-3.1 3.8t-1.9 1.6M1411.1 1349.3q-4.9 -0.8 -7.4 -1.3t-4.4 -2.1t-3.3 -3.6t-2.3 -4.4t-1.2 -4.8t-0.9 -4.9t-0.6 -2.4M1362.4 1351.6q4.2 -2.8 6.6 -3.1t5 -0.3t5 0.1t5 0.2t4.8 1t4.1 2.6t3.2 3.8t2.7 4.2t1.7 4.6t-0.1 4.9t-1.5 4.8t-2.1 4.5t-3.2 3.7t-4.5 1.9t-2.5 0.4M1387.9 1370.5q-3.8 3.3 -5.9 4.5t-4.5 2.1t-4.8 1.3t-4.9 0.3t-4.9 -0.9t-4.8 -1.5t-4.5 -2.1t-4.2 -2.7t-4.6 -1t-2.5 0.4M1386 1471.7q-0.6 5 -1.1 7.4t-1.7 4.7t-2.5 4.3t-2.7 4.2t-2.2 4.4t-1.4 4.8t-1.2 4.8t-1 4.9t-0.2 2.5M1389.9 1453.7q-1.1 4.9 -1.2 7.4t-0.2 5t-0.1 5t0.6 4.9t1.7 4.7t1.9 4.6t1.5 4.8t1 4.9t1.3 4.8t1.8 4.6t2.2 4.5t1.4 2.1M1423.9 1433.9q-1.6 4.7 -2.8 6.9t-3.2 3.7t-4.4 2.2t-4.9 1.1t-5 0.5t-5 -0.3t-5 -0.2t-5 0.4t-4.8 1.3t-4.2 2.6t-3.2 3.7t-2 4.5t-0.7 4.9t0 2.5M1345.8 1506.5q-0.7 5 -1.4 7.4t-1 4.9t-0.4 5t1.3 4.6t2.4 4.4t1.9 4.6t0.8 4.8t-0.1 2.5M1345.8 1518.6q-0.6 -5 0.1 -7.4t1.6 -4.7t2.5 -4.3t3.5 -3.5t4.2 -2.7t4.4 -2.3t4.4 -2.4t4.4 -2.3t4.5 -2.2t2.3 -1.1M1356.7 1529.7q4 3 6 4.4t4.2 2.7t4.5 2.1t4.8 1.5t4.7 1.6t4.3 -0.5t3.1 -3.8t1.9 -4.6t1.3 -4.8t0.8 -4.9t1.4 -4.8t3 -3.9t1.9 -1.6M1378.8 1421.7q2.8 4.2 4 6.4t1.4 4.7t-0.5 4.9t-2.9 3.6t-4.7 1.3t-5 -0.2t-4.9 -1t-4.4 -2.2t-2 -1.5M1386.2 1481.4q4.9 -0.8 7.4 -0.9t5 -0.5t4.5 -1.8t3.6 -3.4t2.3 -4.4t0.3 -4.9t-1.6 -4.6t-3.3 -3.6t-2.1 -1.4M1419 1423.6q-3 -4 -5 -5.5t-4.3 -2.6t-4.7 -1.6t-4.9 -1.1t-4.6 -1.9t-3.7 -3.2t-2.8 -4.1t-1.2 -2.2M1368 1487.5q-0.9 -4.9 -0.2 -7.3t2.1 -4.4t3.4 -3.6t4.2 -2.7t4.4 -2.3t4.2 -2.7t3.6 -3.5t2.7 -4.2t2.1 -4.5t2.1 -4.5t1.2 -2.2M1431.4 1321.7q0.7 4.4 0.9 6.7t0 4.5t-1.3 4.2t-2.8 3.4t-3.8 2.4t-4.3 1.2t-4.5 -0.1t-4.2 -1.5t-1.9 -1.2M1427.1 1342.7q-0.5 -4.5 -1.3 -6.6t-1.2 -4.3t-0.2 -4.4t0 -4.5t-0.6 -4.5t-1.9 -3.9t-3.1 -3.3t-3.5 -2.8t-4.1 -1.6t-4.4 -0.1t-4.3 1.3t-2 1M1416.4 1305.4q4.2 -1.6 6.4 -1.9t4.5 0.1t4.3 1.1t4.1 1.8t3.9 2.3t3.1 3.1t2.3 3.8t1.5 4.2t0.7 4.4t-0.1 4.5t-0.3 2.2M1441.8 1305.3q0.2 4.5 0.4 6.7t0.3 4.5t0.1 4.5t-0.3 4.5t-1.7 4t-3.3 3t-4 2t-4.4 0.5t-4.3 -1.1t-3.6 -2.5t-1.6 -1.6M1435.8 1281.7q-3.6 -2.6 -5.2 -4.3t-3.2 -3.1t-3.2 -3.2t-2.9 -3.5t-3.6 -1.5t-4.1 1.5t-2.1 3.5t0.6 4.3t0.8 2.1M1433.8 1268.8q-3.7 -2.5 -6 -2.8t-3.6 1.5t-2.9 3.4t-3.4 3t-3.9 2.1t-2.9 -1.3t-0.7 -4.3t2.2 -3.2t4.3 -1t4.3 0.9t2 1M1430.8 1323.8q-4.5 -0.6 -6.6 -1.2t-4.3 -1.2t-4.3 -1.4t-3.6 -2.5t-2.7 -3.6t-2 -4t-1.1 -4.3t-0.3 -4.5t1.1 -4.3t1 -2" stroke="#4c4c4c" stroke-width="3.3"/><path d="M1356.2 1415.7q-2.5 -4.3 -2.8 -6.8t0.4 -4.9t3.2 -2.5t5 0.2t4.6 1.6t3.5 3.3t1.9 4.5t0.6 4.9t0.9 4.9t2.4 4.3t1.6 1.9M1381.7 1436.5q-2 -4.6 -4.3 -5.5t-4.7 -1.7t-4.9 -0.8t-4.8 1t-3.9 2.9t-2.5 4.2t-0.9 2.3M1361.1 1351.4q1.7 -4.7 3.5 -6.4t4 -3t4.7 -1.4t4.8 0.8t4.2 2.6t4 3t4.6 1.8t4.9 0t4.5 -1.9t4 -3t2 -1.5M1355.5 1406.9q4.2 -2.7 6.2 -4.2t4 -2.9t3.9 -3.1t3.6 -3.5t3.2 -3.8t3.6 -3.4t4.2 -2.7t4.4 -2.3t4.2 -2.6t3.8 -3.3t3.6 -3.5t3.4 -3.6t1.6 -1.9M1366 1354.5q-4.4 -2.4 -6.1 -4.2t-2.5 -4.2t-0.5 -4.9t1.7 -4.6t3.9 -1.9t4.9 1t4.2 2.5t3.2 3.8t2.7 4.2t1.3 2.1M1367 1330.5q5 0 7.5 -0.1t4.9 0.5t4.7 1.7t4.5 2.2t4.6 2t4.7 1.8t4.8 1.5t2.4 0.6M1397 1329.4q1.9 4.6 3.4 6.7t3.1 3.9t2.2 4.3t0.4 4.9t-1.3 4.7t-3.1 3.8t-1.9 1.6M1411.1 1349.3q-4.9 -0.8 -7.4 -1.3t-4.4 -2.1t-3.3 -3.6t-2.3 -4.4t-1.2 -4.8t-0.9 -4.9t-0.6 -2.4M1362.4 1351.6q4.2 -2.8 6.6 -3.1t5 -0.3t5 0.1t5 0.2t4.8 1t4.1 2.6t3.2 3.8t2.7 4.2t1.7 4.6t-0.1 4.9t-1.5 4.8t-2.1 4.5t-3.2 3.7t-4.5 1.9t-2.5 0.4M1387.9 1370.5q-3.8 3.3 -5.9 4.5t-4.5 2.1t-4.8 1.3t-4.9 0.3t-4.9 -0.9t-4.8 -1.5t-4.5 -2.1t-4.2 -2.7t-4.6 -1t-2.5 0.4M1386 1471.7q-0.6 5 -1.1 7.4t-1.7 4.7t-2.5 4.3t-2.7 4.2t-2.2 4.4t-1.4 4.8t-1.2 4.8t-1 4.9t-0.2 2.5M1389.9 1453.7q-1.1 4.9 -1.2 7.4t-0.2 5t-0.1 5t0.6 4.9t1.7 4.7t1.9 4.6t1.5 4.8t1 4.9t1.3 4.8t1.8 4.6t2.2 4.5t1.4 2.1M1423.9 1433.9q-1.6 4.7 -2.8 6.9t-3.2 3.7t-4.4 2.2t-4.9 1.1t-5 0.5t-5 -0.3t-5 -0.2t-5 0.4t-4.8 1.3t-4.2 2.6t-3.2 3.7t-2 4.5t-0.7 4.9t0 2.5M1345.8 1506.5q-0.7 5 -1.4 7.4t-1 4.9t-0.4 5t1.3 4.6t2.4 4.4t1.9 4.6t0.8 4.8t-0.1 2.5M1345.8 1518.6q-0.6 -5 0.1 -7.4t1.6 -4.7t2.5 -4.3t3.5 -3.5t4.2 -2.7t4.4 -2.3t4.4 -2.4t4.4 -2.3t4.5 -2.2t2.3 -1.1M1356.7 1529.7q4 3 6 4.4t4.2 2.7t4.5 2.1t4.8 1.5t4.7 1.6t4.3 -0.5t3.1 -3.8t1.9 -4.6t1.3 -4.8t0.8 -4.9t1.4 -4.8t3 -3.9t1.9 -1.6M1378.8 1421.7q2.8 4.2 4 6.4t1.4 4.7t-0.5 4.9t-2.9 3.6t-4.7 1.3t-5 -0.2t-4.9 -1t-4.4 -2.2t-2 -1.5M1386.2 1481.4q4.9 -0.8 7.4 -0.9t5 -0.5t4.5 -1.8t3.6 -3.4t2.3 -4.4t0.3 -4.9t-1.6 -4.6t-3.3 -3.6t-2.1 -1.4M1419 1423.6q-3 -4 -5 -5.5t-4.3 -2.6t-4.7 -1.6t-4.9 -1.1t-4.6 -1.9t-3.7 -3.2t-2.8 -4.1t-1.2 -2.2M1368 1487.5q-0.9 -4.9 -0.2 -7.3t2.1 -4.4t3.4 -3.6t4.2 -2.7t4.4 -2.3t4.2 -2.7t3.6 -3.5t2.7 -4.2t2.1 -4.5t2.1 -4.5t1.2 -2.2M1431.4 1321.7q0.7 4.4 0.9 6.7t0 4.5t-1.3 4.2t-2.8 3.4t-3.8 2.4t-4.3 1.2t-4.5 -0.1t-4.2 -1.5t-1.9 -1.2M1427.1 1342.7q-0.5 -4.5 -1.3 -6.6t-1.2 -4.3t-0.2 -4.4t0 -4.5t-0.6 -4.5t-1.9 -3.9t-3.1 -3.3t-3.5 -2.8t-4.1 -1.6t-4.4 -0.1t-4.3 1.3t-2 1M1416.4 1305.4q4.2 -1.6 6.4 -1.9t4.5 0.1t4.3 1.1t4.1 1.8t3.9 2.3t3.1 3.1t2.3 3.8t1.5 4.2t0.7 4.4t-0.1 4.5t-0.3 2.2M1441.8 1305.3q0.2 4.5 0.4 6.7t0.3 4.5t0.1 4.5t-0.3 4.5t-1.7 4t-3.3 3t-4 2t-4.4 0.5t-4.3 -1.1t-3.6 -2.5t-1.6 -1.6M1435.8 1281.7q-3.6 -2.6 -5.2 -4.3t-3.2 -3.1t-3.2 -3.2t-2.9 -3.5t-3.6 -1.5t-4.1 1.5t-2.1 3.5t0.6 4.3t0.8 2.1M1433.8 1268.8q-3.7 -2.5 -6 -2.8t-3.6 1.5t-2.9 3.4t-3.4 3t-3.9 2.1t-2.9 -1.3t-0.7 -4.3t2.2 -3.2t4.3 -1t4.3 0.9t2 1M1430.8 1323.8q-4.5 -0.6 -6.6 -1.2t-4.3 -1.2t-4.3 -1.4t-3.6 -2.5t-2.7 -3.6t-2 -4t-1.1 -4.3t-0.3 -4.5t1.1 -4.3t1 -2" stroke="#ffffff" stroke-width="1.9"/><path d="M1389.1 1408.4q-5.5 -0.3 -8.2 -0.6t-5.5 -0.6t-5.3 -1.2t-5.1 -2t-4.8 -2.6t-2.4 -4.2t0.8 -5.4t0.9 -2.6M1394.2 1388q3.5 -4.2 4.4 -6.8t1.3 -5.3t-0.2 -5.4t-1 -5.4t-0.6 -5.5t-0.3 -5.5t-0.1 -2.7M1379.3 1380q2.1 5.1 2.9 7.7t1.5 5.3t1.1 5.4t0.6 5.5t-0.1 5.5t-0.3 5.5t0 5.5t0.1 2.7M1371 1401.5q-1 5.4 -2.3 7.9t-3 4.5t-4.1 3.7t-4.8 2.5t-5.2 1.6t-3.6 3.3t-1 5.3t0 2.7M1372.1 1407.6q-0.2 5.5 -0.4 8.2t-0.2 5.5t0.9 5.4t2.3 4.9t3.6 4.1t2.1 1.7M1355.9 1368q-2.9 -4.7 -3.5 -7.3t-0.2 -5.4t1.4 -5.3t2.9 -4.6t4.6 -1.5t5.2 1.7t5.1 2.1t5.2 1.9t5 2.2t4.8 2.6t2.4 1.3M1354.2 1355.4q2.6 4.8 3.9 7.3t2.6 4.8t3.1 4.5t3.9 3.9t4.9 2.1t5.4 -0.1t5.2 -1.7t2.5 -1.2M1351.8 1355.3q-0.7 5.5 -0.3 8.2t1.7 5.2t2.7 4.8t3 4.6t2.6 4.8t1.3 5.3t0.2 2.7M1388.1 1398.4q-3.5 4.2 -5 6.5t-2.7 4.8t-2.2 5t-2.6 4.8t-3.5 4.2t-3.8 4t-3.6 4.2t-3.3 4.4t-1.5 2.3M1354.8 1397.8q5.5 -0.7 8.1 -1.3t5.3 -1.5t5 -2.2t4.4 -3.2t3.9 -3.8t3.7 -4.1t3.7 -4.1t1.9 -2M1378.2 1358.6q3.5 -4.2 5.7 -5.9t4.8 -2.6t5.2 -1.8t5.1 -1.9t5.2 -1.7t4.9 1.1t3.8 3.9t2.5 4.8t1.7 5.2t1.1 5.4t0.4 2.7M1391.3 1344.1q-1.3 5.3 -2.3 7.9t-1.8 5.2t-1.5 5.3t-1.8 5.2t-2.9 4.6t-3.8 4t-2 1.9M1387.8 1412.1q-5.3 1.5 -7.9 2.3t-5.4 1.2t-5.4 1t-2.7 0.5M1363.3 1332.7q5.5 0 8.2 -0.3t5.5 -0.7t5.3 -1.4t5.2 -1.9t2.6 -0.9M1412 1381.2q-1 -5.4 -0.8 -8.1t0.8 -5.4t1.8 -5.2t1.2 -2.5M1373.9 1318q5.4 1 7.8 2.4t4.1 3.5t2.7 4.7t0.3 5.3t-1.6 5.3t-2.1 5.1t-1.2 2.5M1349.3 1418.5q5.5 0.3 8.2 -0.4t5.3 -1.4t4.8 -2.5t4.3 -3.5t4.3 -3.4t4.6 -3t5.1 -2.1t4.6 1.2t2 1.9M1426.4 1413.7q2.6 -5.4 3.1 -8.4t-2.1 -4.5t-5.5 -2.2t-4.7 1.7t-2.7 5.3t-1.3 5.8t0.3 5.9t0.6 2.9M1422.3 1460.6q4.2 4.3 5.5 7t1.9 5.6t-1.5 5.2t-4.2 4.3t-4.4 4t-4.3 4.2t-3.7 4.7t-1.7 2.5M1347.1 1525q4.3 -4.1 6.6 -6.1t4.5 -4t4.3 -4.2t4.2 -4.3t4.4 -4.1t4.9 -3.4t5.2 -3t5.1 -3.2t5.1 -3.2t2.6 -1.5M1378.8 1486.4q4.7 3.7 6.7 5.9t3.6 4.8t2.5 5.4t1 5.9t-0.5 5.9t-1.6 5.8t-2.4 5.5t-3 5.2t-3 5.2t-2.7 5.3t-1.3 2.7M1352.6 1517.4q0.4 -6 0.3 -9t0 -6t0.2 -6t-0.3 -6t-0.9 -5.9t-1.4 -5.8t-1.7 -5.7t-1.6 -5.8t-1.5 -5.8t-0.8 -2.9M1363.8 1547.2q0.4 -6 0.7 -9t1.1 -5.9t1.8 -5.7t2.5 -5.5t2.9 -5.2t2.9 -5.3t2.5 -5.4t2.1 -5.6t0.9 -2.8M1394.8 1444.6q-1 -5.9 -1.4 -8.9t-0.8 -5.9t-0.7 -6t-0.6 -6t-0.6 -6t-0.7 -6t1 -5.6t4.2 -3.7t5.8 -1.2t3 -0.1M1432.3 1398.5q-4.8 3.6 -6.2 6.2t-2.9 5.2t-3.2 5.1t-2.8 5.3t-1.8 5.7t-1.3 5.9t-1 5.9t-0.4 3M1395.3 1493.5q-5.6 2.1 -8.4 3.1t-5.7 2t-5.5 2.3t-5.4 2.7t-5.4 2.7t-5.6 2t-5.9 0.8t-5.9 -0.6t-4.5 -3.3t-1.6 -2.5M1379.6 1490.6q-3.5 4.9 -5.3 7.3t-3.6 4.8t-3.7 4.7t-3.9 4.5t-4.3 4.2t-4.5 3.9t-4.8 3.6t-2.5 1.7M1360.6 1547.1q2.9 -5.3 4.5 -7.8t3.4 -5t3.6 -4.8t3.7 -4.7t3.8 -4.7t1.9 -2.3M1351 1518.3q-3.2 -5.1 -4.5 -7.8t-2.3 -5.5t-1.7 -5.7t-0.3 -5.9t3 -4.2t5.4 -2.6t5.2 -3t4.8 -3.6t4.7 -3.7t2.4 -1.8M1411.4 1474.5q0.6 -6 1 -8.9t1.2 -5.9t2.1 -5.6t3 -5.2t1.7 -2.5M1396.3 1534.6q0 -6 -0.3 -9t-0.9 -5.9t-1 -5.9t-0.8 -6t-0.9 -5.9t-0.2 -6t0.7 -6t1 -5.9t1.3 -5.9t1.6 -5.8t1.8 -5.7t0.9 -2.9M1380.3 1502.2q3.2 -5.1 4.7 -7.7t3.2 -5.1t3.5 -4.9t3.8 -4.6t3.6 -4.8t2.8 -5.3t1.9 -5.7t1.6 -5.8t1.9 -5.7t1 -2.8M1362.9 1477q2.1 -5.6 3.5 -8.3t2.9 -5.2t3.3 -5t3.7 -4.7t3.5 -4.9t3.1 -5.1t3.4 -4.9t3.7 -4.7t3.9 -4.6t1.9 -2.3M1347.5 1441.5q6 -0.6 8.6 0.8t4.9 3.4t3.9 4.5t2.7 5.3t1.5 5.8t0.5 6t-1.1 5.8t-2.9 5.2t-4.1 4.3t-5.1 3.1t-2.8 1.2M1343.9 1448.6q5.6 -2.1 8.4 -3.2t5.6 -2.2t5.4 -2.5t5.1 -3.1t4.5 -3.9t3.9 -4.6t3.2 -5t2.9 -5.3t3.1 -5.1t3.6 -4.8t1.9 -2.3M1406.4 1504.3q1.1 -5.9 2.1 -8.7t2.5 -5.4t3 -5.2t3.2 -5.1t3.4 -5t3.5 -4.9t1.7 -2.4M1404.7 1531.6q0 -6 -0.2 -9t-0.5 -6t-1 -5.9t-1.2 -5.9t-1.2 -5.9t-1.1 -5.9t-0.7 -6t-0.2 -3M1345.1 1479.9q-3.1 -5.1 -3.9 -8t-0.8 -5.9t1.5 -5.6t3 -5.2t3 -5.2t2.9 -5.2t1.5 -2.6M1386.8 1435.1q2.1 5.6 3.6 8.2t3.2 5.1t3.3 5t3.1 5.1t3.2 5.1t3.6 4.8t3.8 4.7t3.8 4.6t4.1 4.4t5 2.9t2.9 0.8M1391 1405.1q-1.1 5.9 -1.7 8.8t-1.4 5.8t-1.6 5.8t-1.9 5.7t-2.6 5.4t-3 5.2t-2.9 5.2t-2.5 5.4t-1.9 5.7t-1.7 5.8t-1.7 5.8t-0.8 2.9M1431.9 1277.6q-4.3 2.5 -6.7 3.2t-4.8 1.4t-4.9 1.1t-3.8 2.6t-1.6 4.6t0.3 4.9t0.6 2.4M1431 1336q-0.6 -5 -1 -7.4t-0.7 -5t0.4 -4.9t1.9 -4.6t3.1 -3.9t4.2 -2.5t4.9 -0.9t2.5 -0.1M1400.3 1291.5q4 3 5.2 5.2t1.8 4.6t0.4 4.9t-0.5 5t-0.4 5t-0.1 2.5M1431.8 1349.4q5 -0.5 6.3 -2.6t1.3 -4.6t-0.5 -5t-1 -4.9t-1.7 -4.7t-1.1 -2.3M1430.3 1332.6q-4 -3 -5.9 -4.6t-3.8 -3.3t-3.8 -3.3t-3.9 -3.1t-3.8 -3.2t-3.6 -3.5t-1.8 -1.7M1411.9 1318.9q3.5 -3.6 5.5 -5t4.3 -2.5t4.5 -2.1t4.5 -2.2t4.6 -2t4.7 -1.6t2.4 -0.8M1404 1343.6q1.3 -4.8 2.8 -6.9t3.1 -3.9t3.3 -3.7t3.4 -3.6t3.7 -3.4t1.9 -1.7M1424.2 1263q-4 3 -5.7 4.8t-3.2 3.8t-3.1 3.9t-1.6 4.5t-0.1 2.5M1424.5 1295.1q3.1 3.9 5 5.6t3.9 3.1t4.3 2.6t4.4 2.3t4.5 2.2t2.3 1.1M1439.6 1293.9q-2.5 4.3 -3.4 6.7t-2 4.6t-2.3 4.4t-1.3 2.2" stroke="#4c4c4c" stroke-width="3.3"/><path d="M1389.1 1408.4q-5.5 -0.3 -8.2 -0.6t-5.5 -0.6t-5.3 -1.2t-5.1 -2t-4.8 -2.6t-2.4 -4.2t0.8 -5.4t0.9 -2.6M1394.2 1388q3.5 -4.2 4.4 -6.8t1.3 -5.3t-0.2 -5.4t-1 -5.4t-0.6 -5.5t-0.3 -5.5t-0.1 -2.7M1379.3 1380q2.1 5.1 2.9 7.7t1.5 5.3t1.1 5.4t0.6 5.5t-0.1 5.5t-0.3 5.5t0 5.5t0.1 2.7M1371 1401.5q-1 5.4 -2.3 7.9t-3 4.5t-4.1 3.7t-4.8 2.5t-5.2 1.6t-3.6 3.3t-1 5.3t0 2.7M1372.1 1407.6q-0.2 5.5 -0.4 8.2t-0.2 5.5t0.9 5.4t2.3 4.9t3.6 4.1t2.1 1.7M1355.9 1368q-2.9 -4.7 -3.5 -7.3t-0.2 -5.4t1.4 -5.3t2.9 -4.6t4.6 -1.5t5.2 1.7t5.1 2.1t5.2 1.9t5 2.2t4.8 2.6t2.4 1.3M1354.2 1355.4q2.6 4.8 3.9 7.3t2.6 4.8t3.1 4.5t3.9 3.9t4.9 2.1t5.4 -0.1t5.2 -1.7t2.5 -1.2M1351.8 1355.3q-0.7 5.5 -0.3 8.2t1.7 5.2t2.7 4.8t3 4.6t2.6 4.8t1.3 5.3t0.2 2.7M1388.1 1398.4q-3.5 4.2 -5 6.5t-2.7 4.8t-2.2 5t-2.6 4.8t-3.5 4.2t-3.8 4t-3.6 4.2t-3.3 4.4t-1.5 2.3M1354.8 1397.8q5.5 -0.7 8.1 -1.3t5.3 -1.5t5 -2.2t4.4 -3.2t3.9 -3.8t3.7 -4.1t3.7 -4.1t1.9 -2M1378.2 1358.6q3.5 -4.2 5.7 -5.9t4.8 -2.6t5.2 -1.8t5.1 -1.9t5.2 -1.7t4.9 1.1t3.8 3.9t2.5 4.8t1.7 5.2t1.1 5.4t0.4 2.7M1391.3 1344.1q-1.3 5.3 -2.3 7.9t-1.8 5.2t-1.5 5.3t-1.8 5.2t-2.9 4.6t-3.8 4t-2 1.9M1387.8 1412.1q-5.3 1.5 -7.9 2.3t-5.4 1.2t-5.4 1t-2.7 0.5M1363.3 1332.7q5.5 0 8.2 -0.3t5.5 -0.7t5.3 -1.4t5.2 -1.9t2.6 -0.9M1412 1381.2q-1 -5.4 -0.8 -8.1t0.8 -5.4t1.8 -5.2t1.2 -2.5M1373.9 1318q5.4 1 7.8 2.4t4.1 3.5t2.7 4.7t0.3 5.3t-1.6 5.3t-2.1 5.1t-1.2 2.5M1349.3 1418.5q5.5 0.3 8.2 -0.4t5.3 -1.4t4.8 -2.5t4.3 -3.5t4.3 -3.4t4.6 -3t5.1 -2.1t4.6 1.2t2 1.9M1426.4 1413.7q2.6 -5.4 3.1 -8.4t-2.1 -4.5t-5.5 -2.2t-4.7 1.7t-2.7 5.3t-1.3 5.8t0.3 5.9t0.6 2.9M1422.3 1460.6q4.2 4.3 5.5 7t1.9 5.6t-1.5 5.2t-4.2 4.3t-4.4 4t-4.3 4.2t-3.7 4.7t-1.7 2.5M1347.1 1525q4.3 -4.1 6.6 -6.1t4.5 -4t4.3 -4.2t4.2 -4.3t4.4 -4.1t4.9 -3.4t5.2 -3t5.1 -3.2t5.1 -3.2t2.6 -1.5M1378.8 1486.4q4.7 3.7 6.7 5.9t3.6 4.8t2.5 5.4t1 5.9t-0.5 5.9t-1.6 5.8t-2.4 5.5t-3 5.2t-3 5.2t-2.7 5.3t-1.3 2.7M1352.6 1517.4q0.4 -6 0.3 -9t0 -6t0.2 -6t-0.3 -6t-0.9 -5.9t-1.4 -5.8t-1.7 -5.7t-1.6 -5.8t-1.5 -5.8t-0.8 -2.9M1363.8 1547.2q0.4 -6 0.7 -9t1.1 -5.9t1.8 -5.7t2.5 -5.5t2.9 -5.2t2.9 -5.3t2.5 -5.4t2.1 -5.6t0.9 -2.8M1394.8 1444.6q-1 -5.9 -1.4 -8.9t-0.8 -5.9t-0.7 -6t-0.6 -6t-0.6 -6t-0.7 -6t1 -5.6t4.2 -3.7t5.8 -1.2t3 -0.1M1432.3 1398.5q-4.8 3.6 -6.2 6.2t-2.9 5.2t-3.2 5.1t-2.8 5.3t-1.8 5.7t-1.3 5.9t-1 5.9t-0.4 3M1395.3 1493.5q-5.6 2.1 -8.4 3.1t-5.7 2t-5.5 2.3t-5.4 2.7t-5.4 2.7t-5.6 2t-5.9 0.8t-5.9 -0.6t-4.5 -3.3t-1.6 -2.5M1379.6 1490.6q-3.5 4.9 -5.3 7.3t-3.6 4.8t-3.7 4.7t-3.9 4.5t-4.3 4.2t-4.5 3.9t-4.8 3.6t-2.5 1.7M1360.6 1547.1q2.9 -5.3 4.5 -7.8t3.4 -5t3.6 -4.8t3.7 -4.7t3.8 -4.7t1.9 -2.3M1351 1518.3q-3.2 -5.1 -4.5 -7.8t-2.3 -5.5t-1.7 -5.7t-0.3 -5.9t3 -4.2t5.4 -2.6t5.2 -3t4.8 -3.6t4.7 -3.7t2.4 -1.8M1411.4 1474.5q0.6 -6 1 -8.9t1.2 -5.9t2.1 -5.6t3 -5.2t1.7 -2.5M1396.3 1534.6q0 -6 -0.3 -9t-0.9 -5.9t-1 -5.9t-0.8 -6t-0.9 -5.9t-0.2 -6t0.7 -6t1 -5.9t1.3 -5.9t1.6 -5.8t1.8 -5.7t0.9 -2.9M1380.3 1502.2q3.2 -5.1 4.7 -7.7t3.2 -5.1t3.5 -4.9t3.8 -4.6t3.6 -4.8t2.8 -5.3t1.9 -5.7t1.6 -5.8t1.9 -5.7t1 -2.8M1362.9 1477q2.1 -5.6 3.5 -8.3t2.9 -5.2t3.3 -5t3.7 -4.7t3.5 -4.9t3.1 -5.1t3.4 -4.9t3.7 -4.7t3.9 -4.6t1.9 -2.3M1347.5 1441.5q6 -0.6 8.6 0.8t4.9 3.4t3.9 4.5t2.7 5.3t1.5 5.8t0.5 6t-1.1 5.8t-2.9 5.2t-4.1 4.3t-5.1 3.1t-2.8 1.2M1343.9 1448.6q5.6 -2.1 8.4 -3.2t5.6 -2.2t5.4 -2.5t5.1 -3.1t4.5 -3.9t3.9 -4.6t3.2 -5t2.9 -5.3t3.1 -5.1t3.6 -4.8t1.9 -2.3M1406.4 1504.3q1.1 -5.9 2.1 -8.7t2.5 -5.4t3 -5.2t3.2 -5.1t3.4 -5t3.5 -4.9t1.7 -2.4M1404.7 1531.6q0 -6 -0.2 -9t-0.5 -6t-1 -5.9t-1.2 -5.9t-1.2 -5.9t-1.1 -5.9t-0.7 -6t-0.2 -3M1345.1 1479.9q-3.1 -5.1 -3.9 -8t-0.8 -5.9t1.5 -5.6t3 -5.2t3 -5.2t2.9 -5.2t1.5 -2.6M1386.8 1435.1q2.1 5.6 3.6 8.2t3.2 5.1t3.3 5t3.1 5.1t3.2 5.1t3.6 4.8t3.8 4.7t3.8 4.6t4.1 4.4t5 2.9t2.9 0.8M1391 1405.1q-1.1 5.9 -1.7 8.8t-1.4 5.8t-1.6 5.8t-1.9 5.7t-2.6 5.4t-3 5.2t-2.9 5.2t-2.5 5.4t-1.9 5.7t-1.7 5.8t-1.7 5.8t-0.8 2.9M1431.9 1277.6q-4.3 2.5 -6.7 3.2t-4.8 1.4t-4.9 1.1t-3.8 2.6t-1.6 4.6t0.3 4.9t0.6 2.4M1431 1336q-0.6 -5 -1 -7.4t-0.7 -5t0.4 -4.9t1.9 -4.6t3.1 -3.9t4.2 -2.5t4.9 -0.9t2.5 -0.1M1400.3 1291.5q4 3 5.2 5.2t1.8 4.6t0.4 4.9t-0.5 5t-0.4 5t-0.1 2.5M1431.8 1349.4q5 -0.5 6.3 -2.6t1.3 -4.6t-0.5 -5t-1 -4.9t-1.7 -4.7t-1.1 -2.3M1430.3 1332.6q-4 -3 -5.9 -4.6t-3.8 -3.3t-3.8 -3.3t-3.9 -3.1t-3.8 -3.2t-3.6 -3.5t-1.8 -1.7M1411.9 1318.9q3.5 -3.6 5.5 -5t4.3 -2.5t4.5 -2.1t4.5 -2.2t4.6 -2t4.7 -1.6t2.4 -0.8M1404 1343.6q1.3 -4.8 2.8 -6.9t3.1 -3.9t3.3 -3.7t3.4 -3.6t3.7 -3.4t1.9 -1.7M1424.2 1263q-4 3 -5.7 4.8t-3.2 3.8t-3.1 3.9t-1.6 4.5t-0.1 2.5M1424.5 1295.1q3.1 3.9 5 5.6t3.9 3.1t4.3 2.6t4.4 2.3t4.5 2.2t2.3 1.1M1439.6 1293.9q-2.5 4.3 -3.4 6.7t-2 4.6t-2.3 4.4t-1.3 2.2" stroke="#ffffff" stroke-width="1.9"/><path d="M1447.7 1419q-1.1 -5.9 -1.3 -8.9t-0.2 -6t0.5 -6t1.3 -5.9t2 -5.6t2.3 -5.5t1.1 -2.8M1454.3 1453.9q3.7 -4.7 4 -7.7t0.3 -6t-0.3 -6t-0.7 -6t-0.9 -5.9t-1.4 -5.8t-2 -5.7t-1.2 -2.8M1443.7 1422q0.2 6 0.4 9t0.2 6t-0.1 6t-0.5 6t-0.4 3M1481.4 1435.9q-4.7 -3.7 -7.2 -5.3t-4.9 -3.4t-4.7 -3.7t-4.5 -4t-4.1 -4.3t-3.8 -4.6t-3.4 -4.9t-3.1 -5.1t-3.1 -5.1t-3.1 -5.2t-1.5 -2.6M1443.7 1424q1.5 5.8 2.1 8.7t0.9 5.9t0.4 6t-0.3 6t-0.4 3M1488 1432.8q0.7 6 -1.8 7.7t-5 3.2t-5.4 2.6t-5.7 0.4t-4 -3.5t-1.8 -5.7t-1.4 -5.8t-1.3 -5.8t-1.3 -5.9t-1.4 -5.8t-0.7 -2.9M1445.5 1429.5q0.4 -6 0.4 -9t-0.6 -6t-1.4 -5.8t-1.8 -5.7t-1.8 -5.7t-1.7 -5.7t-1.6 -5.8t-1.7 -5.8t-0.9 -2.9M1481.7 1438.3q-2.4 -5.5 -3.6 -8.2t-2.4 -5.5t-2.2 -5.6t-2.1 -5.6t-2.1 -5.6t-2 -5.6t-1.8 -5.7t-1.5 -5.8t-1.8 -5.7t-3.3 -4.8t-2.3 -2M1492.4 1506.8q-2.6 -4.7 -1.4 -5.9t1.2 0.5t-2.7 2.3t-4 -1.8t-0.1 -3.5t1.2 0.5t-2.7 2.3t-4 -1.8t-0.1 -3.5t1.2 0.5t-0.1 1.7M1464.4 1515.4q-4.8 -3.6 -4 -5.4t1.7 0t-1.5 3.6t-4.7 0t-1.6 -3.6t1.7 0t-1.5 3.6t-4.7 0t-1.6 -3.6t1.7 0t-1.5 3.6t-4.7 0t-2.4 -1.8M1506.4 1508.6q-0.5 -6.2 1.5 -6.8t1.1 1.2t-3.9 1.3t-3.3 -3.7t1.7 -3.7t1.1 1.2t-3.9 1.3t-3.3 -3.7t1.7 -3.7t1.1 1.2t-3.9 1.3t-3 -0.6M1431.9 1530.8q3.3 0 2.1 1.1t-3.3 -0.1t-1.6 -3.7t2.2 -2.5t0.5 1.1t-3.3 -0.1t-2.2 -1.3M1518.6 1521.3q-4.6 -3.9 -3.7 -5.7t1.6 0.1t-1.8 3.6t-4.8 -0.2t-1.4 -3.7t1.6 0.1t-1.8 3.6t-4.8 -0.2t-1.4 -3.7t1.6 0.1t0.7 1.9M1492.6 1544.7q-4.9 -2.3 -4.5 -4t1.4 -0.3t-0.7 3.5t-4.2 0.9t-2.1 -2.9t1.4 -0.3t-0.7 3.5t-4.2 0.9t-2.1 -2.9t1.4 -0.3t-0.7 3.5t-4.2 0.9t-2.1 -2.9t1.4 -0.3t1.1 1.4M1489.2 1526.9q1.5 -5.6 3.4 -5.6t0.5 1.4t-3.8 -0.2t-1.7 -4.4t2.7 -2.8t0.5 1.4t-3.8 -0.2t-1.7 -4.4t2.7 -2.8t0.5 1.4t-3.8 -0.2t-1.7 -4.4t2.7 -2.8t1.9 0M1482.1 1513.6q-1.1 -5.2 0.4 -6t0.9 0.8t-3.2 1.3t-3.2 -2.9t1 -3.3t0.9 0.8t-3.2 1.3t-3.2 -2.9t1 -3.3t0.9 0.8t-3.2 1.3t-2.6 -0.3M1463.8 1550.3q-4.9 -2.2 -4.5 -4t1.4 -0.3t-0.6 3.5t-4.1 1t-2.1 -2.8t1.4 -0.3t-0.6 3.5t-4.1 1t-2.1 -2.8t1.4 -0.3t-0.6 3.5t-1.7 2.1M1510.7 1548.2q-2.4 -5.4 -0.7 -6.6t1.5 0.8t-3 2.5t-4.1 -2.2t0.4 -3.9t1.5 0.8t-3 2.5t-4.1 -2.2t0.4 -3.9t1.6 -1.2M1442.8 1515.9q-4.6 -2.4 -4.2 -4t1.2 -0.2t-1 3.2t-4.1 0.6t-1.9 -2.8t1.2 -0.2t-1 3.2t-4.1 0.6t-1.9 -2.8t1.2 -0.2t-1 3.2t-1.8 1.8M1457.5 1515.1q-4.9 -3.9 -4 -5.8t1.7 0t-1.7 3.8t-5 -0.1t-1.6 -3.8t1.7 0t-1.7 3.8t-5 -0.1t-1.6 -3.8t1.7 0t-1.7 3.8t-5 -0.1t-2.4 -1.9M1448.7 1531.8q-1.9 -5.8 -0.1 -6.9t1.6 1t-3.3 2.3t-4 -2.7t0.9 -4t1.6 1t-3.3 2.3t-3.1 0.2M1468.5 1532q-1.6 -5.8 0.2 -6.8t1.3 1t-3.5 1.9t-3.8 -2.9t1 -3.9t1.3 1t-3.5 1.9t-3.8 -2.9t1 -3.9t1.3 1t-0.5 1.9M1460.4 1547.3q-0.8 -5.7 0.9 -6.4t1 1t-3.6 1.3t-3.3 -3.3t1.3 -3.6t1 1t-3.6 1.3t-3.3 -3.3t1.3 -3.6t1 1t-3.6 1.3t-3.3 -3.3t1.3 -3.6t1 1t-3.6 1.3t-2.9 -0.4M1506 1529.4q-1 -5.4 0.6 -6.2t1.1 1t-3.4 1.4t-3.3 -3t1.2 -3.5t1.1 1t-3.4 1.4t-3.3 -3t1.2 -3.5t1.1 1t-3.4 1.4t-3.3 -3t1.2 -3.5t1.1 1t-3.4 1.4t-3.3 -3t1.2 -3.5t1.7 -0.7M1463.2 1515.3q-0.4 -5.4 1.2 -5.9t0.8 0.9t-3.4 0.8t-2.8 -3.3t1.4 -3.2t0.8 0.9t-3.4 0.8t-2.6 -0.6M1463.6 1548.7q0.9 -5.2 2.7 -5.3t0.6 1.2t-3.5 0.2t-1.9 -3.8t2.2 -2.7t0.6 1.2t-3.5 0.2t-1.9 -3.8t2.2 -2.7t0.6 1.2t-3.5 0.2t-1.9 -3.8t2.2 -2.7t0.6 1.2t-1.1 1.3M1447.5 1543.8q-2.4 -4.7 -1 -5.8t1.3 0.6t-2.6 2.2t-3.8 -1.8t0.1 -3.5t1.3 0.6t-2.6 2.2t-3.8 -1.8t0.1 -3.5t1.3 0.6t-2.6 2.2t-3.8 -1.8t0.1 -3.5t1.3 0.6t-0.1 1.7M1517.7 1507.1q-2.7 3.6 -3.8 5.6t-2.1 4t-1.7 4.1t-0.8 4.4t0.4 4.4t1.8 4.1t3 3.3t3.5 0t1.8 -1.4M1449.6 1541.8q4 2.1 6.2 2.6t4.4 0.6t4.5 -0.3t4.2 -1.4t4.1 -1.9t4.1 -1.8t3.8 -2.3t2.9 -3.3t1.4 -4.1t-0.1 -4.5t-0.8 -4.4t-1.5 -4.2t-1.1 -2M1496.8 1518.2q-2.1 -4 -3.2 -5.9t-2.5 -3.8t-3.4 -2.8t-4 -2t-4 -2.1t-4.2 -1.4t-4.4 0.5t-4.1 1.9t-3.7 2.5t-3.1 3.2t-2 3.9t-0.7 2.1M1461.3 1535.3q-0.5 -4.5 -1.4 -6.5t-2.4 -3.8t-3.5 -2.8t-4.2 -1.2t-4.4 0.5t-4.1 1.8t-3.7 2.5t-2.8 3.4t-1.6 4.2t-0.6 2.2M1449.6 1529.7q-3.3 -3.1 -4.1 -5.2t-0.8 -4.3t0.9 -4.3t2.8 -3.4t3.8 -2.4t4 -2.1t4.1 -1.9t4 -2t1.9 -1.2M1487 1517q0.9 -4.4 1.9 -6.4t2.5 -3.7t3.1 -3.3t3.3 -3.1t3 -3.3t3.1 -3.2t1.7 -1.5M1469.8 1533.6q3.2 3.2 4.5 5t1.6 4.1t-0.3 4.4t-1.8 4.1t-2.1 4t-2.2 3.9t-3.2 3t-4.2 1.4t-4.4 -0.3t-2.2 -0.5M1457.6 1506.2q-4.3 1.4 -6.1 2.7t-3.6 2.6t-4 1.9t-4.4 0.5t-4.4 -0.8t-4.3 -1.3t-4.4 -0.9t-2.2 -0.2M1451.5 1555.6q-3.5 -2.8 -5.4 -4t-3.3 -2.9t-1.9 -4t0.7 -4.1t2.4 -3.8t1.8 -4t0.5 -4.4t0.4 -4.5t1.4 -4.2t2.3 -3.9t1.2 -1.9M1518.2 1535.8q-3.7 -2.5 -5.8 -3.4t-4.3 -1t-4.5 0t-4.5 0.6t-4.3 1.2t-4.2 1.6t-4.3 0.8t-2.2 0M1514.9 1527q-2.5 3.8 -3.8 5.6t-3.2 3.1t-3.8 2.4t-3.7 2.5t-2.7 3.4t-1.3 4.3t0.1 4.4t1.4 4.2t1 2M1482.2 1538.9q4.2 -1.6 6.3 -2.4t3.6 -2.5t2.9 -3.4t2.3 -3.8t1 -4.3t-0.1 -4.5t-0.2 -4.5t-0.2 -4.5t-0.3 -4.5t-0.8 -4.4t-0.7 -2.2M1481.8 1536.7q1.3 4.3 2.5 6.2t2.4 3.8t2.4 3.8t0.5 4.1t-2 4t-3.2 3t-4.2 1.6t-2.2 0.5M1514.1 1535q-3.4 -2.9 -5.2 -4.3t-3.1 -3.2t-2.8 -3.5t-2.5 -3.7t-1.5 -4.2t-0.7 -4.4t-0.9 -4.4t-1.8 -4.1t-2.2 -3.9t-2.6 -3.7t-2.8 -3.5t-1.9 -4t-0.5 -2.2M1422.3 1367.8q15.3 3.8 21.6 5.7t11.5 4.5t7.6 8.9t2.5 6.4M1419.7 1372.9q15.3 5.1 21 7.6t8.9 10.2t1.9 15.3t-1.3 7.6M1457.9 1451.8q3.8 22.9 1.9 33.1t-8.3 15.3t-15.3 6.4t-11.5 5.1t-2.5 3.8M1449 1451.8q3.8 22.9 1.3 31.8t-10.2 14t-14 3.8t-8.9 -5.1t-2.5 -3.8M1437.5 1291.4q1.3 -15.3 -4.5 -22.3t-13.4 -5.1t-8.9 8.3t2.5 11.5t-1.3 7.6t-10.2 1.9t-5.1 -0.6M1356.1 1337.2q-10.2 12.7 -14 20.4t-2.5 12.7t7.6 3.8t6.4 -1.3M1356.1 1395.8q-10.2 10.2 -10.8 19.1t5.1 12.7t9.5 0t3.8 -3.8M1493.6 1441.6q-10.2 -7.6 -15.3 -2.5t-10.2 2.5t-10.2 2.5t-10.2 6.4t-5.1 1.3" stroke="#4c4c4c" stroke-width="3.3"/><path d="M1447.7 1419q-1.1 -5.9 -1.3 -8.9t-0.2 -6t0.5 -6t1.3 -5.9t2 -5.6t2.3 -5.5t1.1 -2.8M1454.3 1453.9q3.7 -4.7 4 -7.7t0.3 -6t-0.3 -6t-0.7 -6t-0.9 -5.9t-1.4 -5.8t-2 -5.7t-1.2 -2.8M1443.7 1422q0.2 6 0.4 9t0.2 6t-0.1 6t-0.5 6t-0.4 3M1481.4 1435.9q-4.7 -3.7 -7.2 -5.3t-4.9 -3.4t-4.7 -3.7t-4.5 -4t-4.1 -4.3t-3.8 -4.6t-3.4 -4.9t-3.1 -5.1t-3.1 -5.1t-3.1 -5.2t-1.5 -2.6M1443.7 1424q1.5 5.8 2.1 8.7t0.9 5.9t0.4 6t-0.3 6t-0.4 3M1488 1432.8q0.7 6 -1.8 7.7t-5 3.2t-5.4 2.6t-5.7 0.4t-4 -3.5t-1.8 -5.7t-1.4 -5.8t-1.3 -5.8t-1.3 -5.9t-1.4 -5.8t-0.7 -2.9M1445.5 1429.5q0.4 -6 0.4 -9t-0.6 -6t-1.4 -5.8t-1.8 -5.7t-1.8 -5.7t-1.7 -5.7t-1.6 -5.8t-1.7 -5.8t-0.9 -2.9M1481.7 1438.3q-2.4 -5.5 -3.6 -8.2t-2.4 -5.5t-2.2 -5.6t-2.1 -5.6t-2.1 -5.6t-2 -5.6t-1.8 -5.7t-1.5 -5.8t-1.8 -5.7t-3.3 -4.8t-2.3 -2M1492.4 1506.8q-2.6 -4.7 -1.4 -5.9t1.2 0.5t-2.7 2.3t-4 -1.8t-0.1 -3.5t1.2 0.5t-2.7 2.3t-4 -1.8t-0.1 -3.5t1.2 0.5t-0.1 1.7M1464.4 1515.4q-4.8 -3.6 -4 -5.4t1.7 0t-1.5 3.6t-4.7 0t-1.6 -3.6t1.7 0t-1.5 3.6t-4.7 0t-1.6 -3.6t1.7 0t-1.5 3.6t-4.7 0t-2.4 -1.8M1506.4 1508.6q-0.5 -6.2 1.5 -6.8t1.1 1.2t-3.9 1.3t-3.3 -3.7t1.7 -3.7t1.1 1.2t-3.9 1.3t-3.3 -3.7t1.7 -3.7t1.1 1.2t-3.9 1.3t-3 -0.6M1431.9 1530.8q3.3 0 2.1 1.1t-3.3 -0.1t-1.6 -3.7t2.2 -2.5t0.5 1.1t-3.3 -0.1t-2.2 -1.3M1518.6 1521.3q-4.6 -3.9 -3.7 -5.7t1.6 0.1t-1.8 3.6t-4.8 -0.2t-1.4 -3.7t1.6 0.1t-1.8 3.6t-4.8 -0.2t-1.4 -3.7t1.6 0.1t0.7 1.9M1492.6 1544.7q-4.9 -2.3 -4.5 -4t1.4 -0.3t-0.7 3.5t-4.2 0.9t-2.1 -2.9t1.4 -0.3t-0.7 3.5t-4.2 0.9t-2.1 -2.9t1.4 -0.3t-0.7 3.5t-4.2 0.9t-2.1 -2.9t1.4 -0.3t1.1 1.4M1489.2 1526.9q1.5 -5.6 3.4 -5.6t0.5 1.4t-3.8 -0.2t-1.7 -4.4t2.7 -2.8t0.5 1.4t-3.8 -0.2t-1.7 -4.4t2.7 -2.8t0.5 1.4t-3.8 -0.2t-1.7 -4.4t2.7 -2.8t1.9 0M1482.1 1513.6q-1.1 -5.2 0.4 -6t0.9 0.8t-3.2 1.3t-3.2 -2.9t1 -3.3t0.9 0.8t-3.2 1.3t-3.2 -2.9t1 -3.3t0.9 0.8t-3.2 1.3t-2.6 -0.3M1463.8 1550.3q-4.9 -2.2 -4.5 -4t1.4 -0.3t-0.6 3.5t-4.1 1t-2.1 -2.8t1.4 -0.3t-0.6 3.5t-4.1 1t-2.1 -2.8t1.4 -0.3t-0.6 3.5t-1.7 2.1M1510.7 1548.2q-2.4 -5.4 -0.7 -6.6t1.5 0.8t-3 2.5t-4.1 -2.2t0.4 -3.9t1.5 0.8t-3 2.5t-4.1 -2.2t0.4 -3.9t1.6 -1.2M1442.8 1515.9q-4.6 -2.4 -4.2 -4t1.2 -0.2t-1 3.2t-4.1 0.6t-1.9 -2.8t1.2 -0.2t-1 3.2t-4.1 0.6t-1.9 -2.8t1.2 -0.2t-1 3.2t-1.8 1.8M1457.5 1515.1q-4.9 -3.9 -4 -5.8t1.7 0t-1.7 3.8t-5 -0.1t-1.6 -3.8t1.7 0t-1.7 3.8t-5 -0.1t-1.6 -3.8t1.7 0t-1.7 3.8t-5 -0.1t-2.4 -1.9M1448.7 1531.8q-1.9 -5.8 -0.1 -6.9t1.6 1t-3.3 2.3t-4 -2.7t0.9 -4t1.6 1t-3.3 2.3t-3.1 0.2M1468.5 1532q-1.6 -5.8 0.2 -6.8t1.3 1t-3.5 1.9t-3.8 -2.9t1 -3.9t1.3 1t-3.5 1.9t-3.8 -2.9t1 -3.9t1.3 1t-0.5 1.9M1460.4 1547.3q-0.8 -5.7 0.9 -6.4t1 1t-3.6 1.3t-3.3 -3.3t1.3 -3.6t1 1t-3.6 1.3t-3.3 -3.3t1.3 -3.6t1 1t-3.6 1.3t-3.3 -3.3t1.3 -3.6t1 1t-3.6 1.3t-2.9 -0.4M1506 1529.4q-1 -5.4 0.6 -6.2t1.1 1t-3.4 1.4t-3.3 -3t1.2 -3.5t1.1 1t-3.4 1.4t-3.3 -3t1.2 -3.5t1.1 1t-3.4 1.4t-3.3 -3t1.2 -3.5t1.1 1t-3.4 1.4t-3.3 -3t1.2 -3.5t1.7 -0.7M1463.2 1515.3q-0.4 -5.4 1.2 -5.9t0.8 0.9t-3.4 0.8t-2.8 -3.3t1.4 -3.2t0.8 0.9t-3.4 0.8t-2.6 -0.6M1463.6 1548.7q0.9 -5.2 2.7 -5.3t0.6 1.2t-3.5 0.2t-1.9 -3.8t2.2 -2.7t0.6 1.2t-3.5 0.2t-1.9 -3.8t2.2 -2.7t0.6 1.2t-3.5 0.2t-1.9 -3.8t2.2 -2.7t0.6 1.2t-1.1 1.3M1447.5 1543.8q-2.4 -4.7 -1 -5.8t1.3 0.6t-2.6 2.2t-3.8 -1.8t0.1 -3.5t1.3 0.6t-2.6 2.2t-3.8 -1.8t0.1 -3.5t1.3 0.6t-2.6 2.2t-3.8 -1.8t0.1 -3.5t1.3 0.6t-0.1 1.7M1517.7 1507.1q-2.7 3.6 -3.8 5.6t-2.1 4t-1.7 4.1t-0.8 4.4t0.4 4.4t1.8 4.1t3 3.3t3.5 0t1.8 -1.4M1449.6 1541.8q4 2.1 6.2 2.6t4.4 0.6t4.5 -0.3t4.2 -1.4t4.1 -1.9t4.1 -1.8t3.8 -2.3t2.9 -3.3t1.4 -4.1t-0.1 -4.5t-0.8 -4.4t-1.5 -4.2t-1.1 -2M1496.8 1518.2q-2.1 -4 -3.2 -5.9t-2.5 -3.8t-3.4 -2.8t-4 -2t-4 -2.1t-4.2 -1.4t-4.4 0.5t-4.1 1.9t-3.7 2.5t-3.1 3.2t-2 3.9t-0.7 2.1M1461.3 1535.3q-0.5 -4.5 -1.4 -6.5t-2.4 -3.8t-3.5 -2.8t-4.2 -1.2t-4.4 0.5t-4.1 1.8t-3.7 2.5t-2.8 3.4t-1.6 4.2t-0.6 2.2M1449.6 1529.7q-3.3 -3.1 -4.1 -5.2t-0.8 -4.3t0.9 -4.3t2.8 -3.4t3.8 -2.4t4 -2.1t4.1 -1.9t4 -2t1.9 -1.2M1487 1517q0.9 -4.4 1.9 -6.4t2.5 -3.7t3.1 -3.3t3.3 -3.1t3 -3.3t3.1 -3.2t1.7 -1.5M1469.8 1533.6q3.2 3.2 4.5 5t1.6 4.1t-0.3 4.4t-1.8 4.1t-2.1 4t-2.2 3.9t-3.2 3t-4.2 1.4t-4.4 -0.3t-2.2 -0.5M1457.6 1506.2q-4.3 1.4 -6.1 2.7t-3.6 2.6t-4 1.9t-4.4 0.5t-4.4 -0.8t-4.3 -1.3t-4.4 -0.9t-2.2 -0.2M1451.5 1555.6q-3.5 -2.8 -5.4 -4t-3.3 -2.9t-1.9 -4t0.7 -4.1t2.4 -3.8t1.8 -4t0.5 -4.4t0.4 -4.5t1.4 -4.2t2.3 -3.9t1.2 -1.9M1518.2 1535.8q-3.7 -2.5 -5.8 -3.4t-4.3 -1t-4.5 0t-4.5 0.6t-4.3 1.2t-4.2 1.6t-4.3 0.8t-2.2 0M1514.9 1527q-2.5 3.8 -3.8 5.6t-3.2 3.1t-3.8 2.4t-3.7 2.5t-2.7 3.4t-1.3 4.3t0.1 4.4t1.4 4.2t1 2M1482.2 1538.9q4.2 -1.6 6.3 -2.4t3.6 -2.5t2.9 -3.4t2.3 -3.8t1 -4.3t-0.1 -4.5t-0.2 -4.5t-0.2 -4.5t-0.3 -4.5t-0.8 -4.4t-0.7 -2.2M1481.8 1536.7q1.3 4.3 2.5 6.2t2.4 3.8t2.4 3.8t0.5 4.1t-2 4t-3.2 3t-4.2 1.6t-2.2 0.5M1514.1 1535q-3.4 -2.9 -5.2 -4.3t-3.1 -3.2t-2.8 -3.5t-2.5 -3.7t-1.5 -4.2t-0.7 -4.4t-0.9 -4.4t-1.8 -4.1t-2.2 -3.9t-2.6 -3.7t-2.8 -3.5t-1.9 -4t-0.5 -2.2M1422.3 1367.8q15.3 3.8 21.6 5.7t11.5 4.5t7.6 8.9t2.5 6.4M1419.7 1372.9q15.3 5.1 21 7.6t8.9 10.2t1.9 15.3t-1.3 7.6M1457.9 1451.8q3.8 22.9 1.9 33.1t-8.3 15.3t-15.3 6.4t-11.5 5.1t-2.5 3.8M1449 1451.8q3.8 22.9 1.3 31.8t-10.2 14t-14 3.8t-8.9 -5.1t-2.5 -3.8M1437.5 1291.4q1.3 -15.3 -4.5 -22.3t-13.4 -5.1t-8.9 8.3t2.5 11.5t-1.3 7.6t-10.2 1.9t-5.1 -0.6M1356.1 1337.2q-10.2 12.7 -14 20.4t-2.5 12.7t7.6 3.8t6.4 -1.3M1356.1 1395.8q-10.2 10.2 -10.8 19.1t5.1 12.7t9.5 0t3.8 -3.8M1493.6 1441.6q-10.2 -7.6 -15.3 -2.5t-10.2 2.5t-10.2 2.5t-10.2 6.4t-5.1 1.3" stroke="#ffffff" stroke-width="1.9"/>
<clipPath id="clipN"><path d="M1170.3 1243.4q1.1 1.1 2.2 0.3t2.3 -0.7t2.6 -0.2t2.9 -0.9t2.7 -0.1t2.6 0.9t2.9 0.9t1.6 2.4t0.1 3.2t0.7 2.5t0.5 2.4t-1.1 2.6t-1.3 2.3t0.5 2.3t1.5 2.3t1.4 1.9t2.1 0.9t2.9 -0.2t2.5 0.7t1.8 2t1.8 2.1t0.4 2.6t-0.3 2.7t0.7 2.2t-0.6 2.3t-1.6 2t0 1.7t0.3 2t-1.2 1.7t-1.3 1.7t-0.4 2.7t-0.7 2.8t-1.9 1.5t-2.1 1.3t-1.5 1.7t-2.2 0.5t-2.8 0.1t-1.7 1.5t-1.4 1.9t-2.4 1.5t-1.6 2.5t1.7 2t2.9 -0.4t2.1 -0.8t2.4 -1.1t3.1 -1.5t2.8 0.6t1.9 2.2t1.9 1.4t1.8 1.8t1.7 2.4t2.1 1.5t1.7 1.6t1.1 1.4t1.8 0.3t2 1t0.9 2.1t1.2 2t2.6 1t2.2 1.2t1.4 1.9t2 1.8t1.4 2.3t-0.6 3.1t-1 3t0.5 2.5t0.6 2.4t-1 2.4t-0.8 2.2t0.8 2.4t0.4 2.6t-0.1 2.6t1 2.9t0.2 2.6t-0.8 2.3t-0.2 2.4t-1.2 2.3t-2.3 2.1t-1.5 2.2t-1.2 2.3t-1.9 2.1t-1 2.3t0.6 2.8t0 2.6t-0.4 2.5t1.1 2.8t0.5 2.4t-0.3 1.7t0.7 1.5t-0.1 1.8t-1.1 2.3t-0.3 2.3t-0.3 2.3t-1.4 2.3t-1.2 2t0 2.1t-0.2 2.3t-0.2 2.5t1.3 2.7t1.1 2.5t0.9 2.3t1.9 2.2t0.4 2.3t-0.9 2.4t0.1 2.1t-0.3 2.6t-0.9 3.2t0.6 2.8t1.3 2.3t0.9 2.5t1.5 2t2.8 1.2t2.3 1.4t1.7 1.9t2.2 2.4t1.1 2.8t-1.3 2.4t-1.9 1.9t-1 2t-1.6 2t-1.8 2.2t-0.1 2.5t-0.2 2.6t0 2.5t1.8 2.2t1.2 2.2t0.4 2.4t1.7 2.7t1.4 2.7t-0.9 2.2t-1.5 2t-0.2 2.3t-0.7 2.3t-2.8 1.5t-3.1 1.1t-1.7 1.6t-1.8 1.6t-1.7 1.8t-0.1 2.9t0.3 3t-0.6 2.3t-0.1 2.3t1.4 2.7t-0.1 2.3t-1.4 1.8t-0.1 1.9t-1 2.1t-2.2 2.3t-0.8 2.3t-0.8 1.8t-1 1.1t0 1t-0.6 1.2t-1.3 1.9t-0.9 3.2t-1.4 2t-2.1 0.7t-1.7 1.6t-2.1 1.4t-2.7 0.9t-2.4 1.2t-2.7 0.3t-2.7 -0.6t-2.2 0.3t-2.2 0.7t-2.5 -0.1t-2.5 0.5t-2.1 2.1t-1.9 2t-1.9 1.8t-1.7 2.6t-2.5 1.9t-3 -0.8t-2.3 -2.2t-1.8 -1.8t-1.3 -2.3t-1.2 -2.5t-1.9 -1.4t-1.9 -1.5t-1.9 -1.6t-2.8 -0.4t-3.1 -0.1t-2.5 -0.9t-2.6 -0.9t-3.1 -0.6t-1.9 -2t-0.9 -2.7t-1.4 -2.1t0 -2.7t1.1 -3.2t-0.5 -2.4t-0.7 -2.5t-0.7 -2.6t-2.3 -1.3t-2.9 -0.7t-2.1 -1.3t-2.1 -1.2t-2.8 -0.2t-2.5 -0.4t-1.4 -1.8t-1.3 -2.1t-1.8 -1.5t-1.3 -2.3t-0.9 -2.8t-1.6 -1.6t-1.4 -1.7t-1.3 -1.5t-2.3 -0.4t-1 -1t0.7 -1.9t0 -2.7t-0.1 -2.6t1.1 -1.4t1.2 -1.2t0.4 -1.8t1.1 -2.1t1.7 -2.4t0.4 -2.5t0.2 -2.8t-0.5 -2.7t-2.3 -1.9t-1.7 -2t-0.7 -2.4t-1.7 -2.3t-1.4 -2.5t-0.6 -2.7t-1.1 -3t0.3 -3.1t2.8 -1.6t3.2 0.3t2.3 0.3t1.7 0.6t0.7 1.9t0.8 2t2.3 0.9t2.4 0.1t1.3 -0.3t0.2 -1.4t-1.3 -2.5t-1 -2.5t0.9 -2t1.5 -1.9t0.5 -2.1t1 -2.3t1 -2.3t-0.4 -2.2t0.5 -2.3t0.9 -2.4t-1.3 -2.3t-2 -2.2t-0.5 -2.4t-0.7 -2t-1.7 -0.1t-0.6 0.3t-0.4 -0.5t-1.8 0.5t-2.4 0.4t-2.7 -1.5t-2.6 -1.9t-2.3 -0.5t-2.4 -0.1t-2.3 -1.1t-2.4 -0.4t-2.6 1.5t-2.6 1.6t-2.4 0t-2.4 0.1t-2.6 1.2t-2.3 -0.5t-1.8 -2.6t-1.9 -2.1t-1.8 -1.9t-1.1 -2.8t-1.3 -2.3t-2.3 -0.9t-2.2 -0.9t-1.1 -1.9t-1 -2t-2.3 -1.2t-2.7 -0.9t-1.7 -1.6t-1.5 -1.8t-2 -1.5t-1.7 -2t-0.3 -3t-0.1 -2.8t-1.1 -2t-1.1 -2t0 -2.6t-0.3 -2.4t-1.9 -1.8t-1.9 -1.9t-1.7 -2t-2.6 -2.2t-0.9 -2.6t0.8 -2.7t0.1 -2.6t0.7 -2.2t2.7 -1.3t3.2 -1.2t1.9 -1.8t1.6 -2.1t1.6 -2.2t0.2 -2.6t-0.4 -2.8t0.1 -2.5t0.2 -2.6t-0.1 -3t0.6 -2.7t1.9 -1.5t2 -1.1t1.4 -1.7t1.8 -1.3t3.1 -0.2t3.1 -0.5t1.6 -1.9t1.1 -2.2t1.7 -1.6t1.5 -1.7t0.6 -2.7t0.7 -2.8t1.7 -1.7t1.9 -1.4t1.9 -2t2.6 -1t2.6 1.6t1.9 2.4t2 1.5t2 1.5t1.7 2.5t2.3 1.4t2.5 -1.1t2.2 -1.3t2.1 -0.8t1.7 -1.9t1.6 -1.7t1.4 -1.4t0.8 -1.9t1.5 -1.2t2.1 -1t0.6 -1.9t0.2 -2.3t1.4 -2.4t1.2 -1.9t-0.2 -1.7t0.2 -1.7t0.8 -1.9t-0.2 -2.9t-0.2 -3t1.3 -2t1.5 -2t1 -2.6t2.3 -1.1t3.2 0.6t2.1 -0.3t1.1 -1.6t0.9 -2.4t-0.2 -2.1t-1.6 -1.4t-0.9 -1.5t-0.1 -1.9t-0.6 -2.6t0.5 -2.8t2.3 -1.3t2.6 -0.6t2.3 -1t2.4 0.3t2.7 1.6t2.6 0.6t2.5 0.1t2.8 0.6t2.6 -0.5t1.7 -2.3t1.7 -2t1.6 -1.7t-0.2 -2.5t-1.1 -2.1t-0.1 -1.6t-0.2 -2t-1.2 -2.4t0.7 -2.6t2.9 -2t2.2 -1.5t1.6 -1.3t2.1 -0.5t1.7 -0.5t1.2 -1.6t1.5 -2t2 -1.2t2.2 0.8z"/></clipPath><path d="M1170.3 1243.4q1.1 1.1 2.2 0.3t2.3 -0.7t2.6 -0.2t2.9 -0.9t2.7 -0.1t2.6 0.9t2.9 0.9t1.6 2.4t0.1 3.2t0.7 2.5t0.5 2.4t-1.1 2.6t-1.3 2.3t0.5 2.3t1.5 2.3t1.4 1.9t2.1 0.9t2.9 -0.2t2.5 0.7t1.8 2t1.8 2.1t0.4 2.6t-0.3 2.7t0.7 2.2t-0.6 2.3t-1.6 2t0 1.7t0.3 2t-1.2 1.7t-1.3 1.7t-0.4 2.7t-0.7 2.8t-1.9 1.5t-2.1 1.3t-1.5 1.7t-2.2 0.5t-2.8 0.1t-1.7 1.5t-1.4 1.9t-2.4 1.5t-1.6 2.5t1.7 2t2.9 -0.4t2.1 -0.8t2.4 -1.1t3.1 -1.5t2.8 0.6t1.9 2.2t1.9 1.4t1.8 1.8t1.7 2.4t2.1 1.5t1.7 1.6t1.1 1.4t1.8 0.3t2 1t0.9 2.1t1.2 2t2.6 1t2.2 1.2t1.4 1.9t2 1.8t1.4 2.3t-0.6 3.1t-1 3t0.5 2.5t0.6 2.4t-1 2.4t-0.8 2.2t0.8 2.4t0.4 2.6t-0.1 2.6t1 2.9t0.2 2.6t-0.8 2.3t-0.2 2.4t-1.2 2.3t-2.3 2.1t-1.5 2.2t-1.2 2.3t-1.9 2.1t-1 2.3t0.6 2.8t0 2.6t-0.4 2.5t1.1 2.8t0.5 2.4t-0.3 1.7t0.7 1.5t-0.1 1.8t-1.1 2.3t-0.3 2.3t-0.3 2.3t-1.4 2.3t-1.2 2t0 2.1t-0.2 2.3t-0.2 2.5t1.3 2.7t1.1 2.5t0.9 2.3t1.9 2.2t0.4 2.3t-0.9 2.4t0.1 2.1t-0.3 2.6t-0.9 3.2t0.6 2.8t1.3 2.3t0.9 2.5t1.5 2t2.8 1.2t2.3 1.4t1.7 1.9t2.2 2.4t1.1 2.8t-1.3 2.4t-1.9 1.9t-1 2t-1.6 2t-1.8 2.2t-0.1 2.5t-0.2 2.6t0 2.5t1.8 2.2t1.2 2.2t0.4 2.4t1.7 2.7t1.4 2.7t-0.9 2.2t-1.5 2t-0.2 2.3t-0.7 2.3t-2.8 1.5t-3.1 1.1t-1.7 1.6t-1.8 1.6t-1.7 1.8t-0.1 2.9t0.3 3t-0.6 2.3t-0.1 2.3t1.4 2.7t-0.1 2.3t-1.4 1.8t-0.1 1.9t-1 2.1t-2.2 2.3t-0.8 2.3t-0.8 1.8t-1 1.1t0 1t-0.6 1.2t-1.3 1.9t-0.9 3.2t-1.4 2t-2.1 0.7t-1.7 1.6t-2.1 1.4t-2.7 0.9t-2.4 1.2t-2.7 0.3t-2.7 -0.6t-2.2 0.3t-2.2 0.7t-2.5 -0.1t-2.5 0.5t-2.1 2.1t-1.9 2t-1.9 1.8t-1.7 2.6t-2.5 1.9t-3 -0.8t-2.3 -2.2t-1.8 -1.8t-1.3 -2.3t-1.2 -2.5t-1.9 -1.4t-1.9 -1.5t-1.9 -1.6t-2.8 -0.4t-3.1 -0.1t-2.5 -0.9t-2.6 -0.9t-3.1 -0.6t-1.9 -2t-0.9 -2.7t-1.4 -2.1t0 -2.7t1.1 -3.2t-0.5 -2.4t-0.7 -2.5t-0.7 -2.6t-2.3 -1.3t-2.9 -0.7t-2.1 -1.3t-2.1 -1.2t-2.8 -0.2t-2.5 -0.4t-1.4 -1.8t-1.3 -2.1t-1.8 -1.5t-1.3 -2.3t-0.9 -2.8t-1.6 -1.6t-1.4 -1.7t-1.3 -1.5t-2.3 -0.4t-1 -1t0.7 -1.9t0 -2.7t-0.1 -2.6t1.1 -1.4t1.2 -1.2t0.4 -1.8t1.1 -2.1t1.7 -2.4t0.4 -2.5t0.2 -2.8t-0.5 -2.7t-2.3 -1.9t-1.7 -2t-0.7 -2.4t-1.7 -2.3t-1.4 -2.5t-0.6 -2.7t-1.1 -3t0.3 -3.1t2.8 -1.6t3.2 0.3t2.3 0.3t1.7 0.6t0.7 1.9t0.8 2t2.3 0.9t2.4 0.1t1.3 -0.3t0.2 -1.4t-1.3 -2.5t-1 -2.5t0.9 -2t1.5 -1.9t0.5 -2.1t1 -2.3t1 -2.3t-0.4 -2.2t0.5 -2.3t0.9 -2.4t-1.3 -2.3t-2 -2.2t-0.5 -2.4t-0.7 -2t-1.7 -0.1t-0.6 0.3t-0.4 -0.5t-1.8 0.5t-2.4 0.4t-2.7 -1.5t-2.6 -1.9t-2.3 -0.5t-2.4 -0.1t-2.3 -1.1t-2.4 -0.4t-2.6 1.5t-2.6 1.6t-2.4 0t-2.4 0.1t-2.6 1.2t-2.3 -0.5t-1.8 -2.6t-1.9 -2.1t-1.8 -1.9t-1.1 -2.8t-1.3 -2.3t-2.3 -0.9t-2.2 -0.9t-1.1 -1.9t-1 -2t-2.3 -1.2t-2.7 -0.9t-1.7 -1.6t-1.5 -1.8t-2 -1.5t-1.7 -2t-0.3 -3t-0.1 -2.8t-1.1 -2t-1.1 -2t0 -2.6t-0.3 -2.4t-1.9 -1.8t-1.9 -1.9t-1.7 -2t-2.6 -2.2t-0.9 -2.6t0.8 -2.7t0.1 -2.6t0.7 -2.2t2.7 -1.3t3.2 -1.2t1.9 -1.8t1.6 -2.1t1.6 -2.2t0.2 -2.6t-0.4 -2.8t0.1 -2.5t0.2 -2.6t-0.1 -3t0.6 -2.7t1.9 -1.5t2 -1.1t1.4 -1.7t1.8 -1.3t3.1 -0.2t3.1 -0.5t1.6 -1.9t1.1 -2.2t1.7 -1.6t1.5 -1.7t0.6 -2.7t0.7 -2.8t1.7 -1.7t1.9 -1.4t1.9 -2t2.6 -1t2.6 1.6t1.9 2.4t2 1.5t2 1.5t1.7 2.5t2.3 1.4t2.5 -1.1t2.2 -1.3t2.1 -0.8t1.7 -1.9t1.6 -1.7t1.4 -1.4t0.8 -1.9t1.5 -1.2t2.1 -1t0.6 -1.9t0.2 -2.3t1.4 -2.4t1.2 -1.9t-0.2 -1.7t0.2 -1.7t0.8 -1.9t-0.2 -2.9t-0.2 -3t1.3 -2t1.5 -2t1 -2.6t2.3 -1.1t3.2 0.6t2.1 -0.3t1.1 -1.6t0.9 -2.4t-0.2 -2.1t-1.6 -1.4t-0.9 -1.5t-0.1 -1.9t-0.6 -2.6t0.5 -2.8t2.3 -1.3t2.6 -0.6t2.3 -1t2.4 0.3t2.7 1.6t2.6 0.6t2.5 0.1t2.8 0.6t2.6 -0.5t1.7 -2.3t1.7 -2t1.6 -1.7t-0.2 -2.5t-1.1 -2.1t-0.1 -1.6t-0.2 -2t-1.2 -2.4t0.7 -2.6t2.9 -2t2.2 -1.5t1.6 -1.3t2.1 -0.5t1.7 -0.5t1.2 -1.6t1.5 -2t2 -1.2t2.2 0.8z" fill="#65ba65" stroke="none"/><g clip-path="url(#clipN)" stroke="#1d5c24" stroke-width="0.65"><g fill="#65ba65"><path d="M1130.6 1493.7q-0.6 1.3 -1.7 2.1t-0.4 2.2t0.7 2.8t-1.6 1.4t-2.8 -0.1t-2 0.6t-1.8 0.4t-1.8 -0.8t-2 -0.3t-1.6 -0.9t-0.4 -2.1t-2 -1.4t-3 -1.5t0.5 -2.3t1.7 -2.1t0.9 -2.1t1.5 -1.5t1.9 -1.2t2 -1t2 1.4t1.3 2.7t1.9 -0.2t3.1 -1.5t2 1t1.3 2.2t0.3 2.2z"/><path d="M1122.3 1422.4q-0.4 1 0.5 2.2t0.8 2.4t-1.3 1.9t-1.1 2.2t-0.5 2.7t-2 1.4t-2.9 -0.5t-2.5 -0.7t-1.9 -1t-1.3 -2.3t-1.6 -0.2t-2.7 1.6t-2.3 -0.1t-1.9 -1.2t-1.9 -1.6t-0.4 -2.3t1.5 -2.4t0 -2.1t-1.1 -2.3t0.9 -1.9t1.3 -1.9t1 -2.2t2.2 -0.7t2.5 0.5t1.9 -0.8t1.9 -1.1t1.9 1.1t1.9 0.8t1.9 0.3t0.8 2.1t0.7 2t2 0.9t1.7 1.4t0 2.1z"/><path d="M1090.7 1411q1.3 0.9 2.2 2t0.9 2.3t-1 2t-2.5 1.3t-2.1 1.2t-1.4 1.2t-1.8 0.6t-1.8 0.3t-1.4 0.8t-0.8 2.8t-1.1 3.5t-2 2.1t-2.4 0.1t-2.2 -1.8t-1.9 -1.6t-1.6 -1.7t-0.9 -2.4t-0.5 -2.3t-1 -1.4t-2.6 -0.1t-3.5 0t-2.8 -1.1t-1.2 -2.1t-0.3 -2.4t-0.5 -2.4t0.1 -2.5t1.5 -2.2t2.3 -1.6t1.8 -1.5t0.7 -2.1t1 -1.9t2.1 -0.6t2.8 0.9t2.4 0.9t1.6 -0.1t1.4 -0.3t1.4 -0.2t1.5 -0.3t2.1 -2t3 -3.1t3.4 -1.5t2.8 0.7t1.3 2.3t0.9 2.7t0.9 2.5t0 2.5t-0.7 2.5t-1 2.3t0.8 1.9z"/><path d="M1120.6 1373.2q0.5 1 1 2.3t-0.1 2.5t-1.8 1.8t-2.6 0.1t-2.2 -0.2t-1.9 0.6t-2.2 0.1t-1.6 -1.3t-0.6 -2.1t-0.2 -1.9t-0.5 -2t-0.1 -2.2t0.8 -2.4t1.8 -1.5t2.4 -0.2t2.1 1t1.6 1.5t1.3 1.2t1.4 1.2t1.3 1.5z"/><path d="M1179.9 1336.2q-0.3 0.8 1.2 1.7t2.7 2.1t1.7 2.5t0.5 2.6t0.8 3.1t0.5 3.4t-1.9 1.9t-3.8 -0.2t-3.6 -0.5t-2.8 -0.2t-2.9 -1.4t-2.6 -2.7t-1.7 -1.3t-1 1.4t-1.3 1.8t-1.5 0.9t-2 1.3t-2.7 2.6t-2.8 1.5t-2.1 -1.1t-1.6 -2t-1.9 -1.3t-1.6 -1.6t-0.4 -2.5t-0.2 -2.3t-1.6 -1.7t-2.2 -1.5t-1 -2.1t0.1 -2.4t-0.6 -2.4t-0.5 -2.5t1.6 -2.1t3.2 -1.2t2.3 -1.2t1.3 -1.6t2.1 -0.7t2.6 0.2t1.4 -0.7t0.5 -2.1t1.1 -1.6t1.7 -0.3t1.6 -0.7t1.5 -1.8t1.9 -0.8t1.9 0.2t2 -0.2t2.5 -0.8t2.6 -0.5t2.1 0.9t2 1.4t2.4 0.7t1.9 1.6t0.1 2.9t-1 3.1t-0.3 2.4t-0.1 2t-1 2t-1 1.7z"/><path d="M1182.8 1523.5q1.1 1.1 1 2.5t-1.4 2.3t-1.9 1.9t-1.6 1.6t-2.2 1t-2.1 0.5t-1.9 0.4t-1.2 1.8t-1.2 2.6t-2 0.8t-2.1 -1.2t-1.5 -2.6t-1.5 -1.3t-2.2 0.6t-2.7 0.4t-2.6 -0.6t-1.7 -1.6t-1.6 -2t-1.3 -2.3t0.6 -2.5t2.1 -2.2t2.6 -1.5t0.8 -1.7t-0.6 -2.3t0.3 -2.3t1.6 -1.4t2.4 0t1.9 -0.6t1.4 -1.6t1.9 -1.2t2.2 -0.6t2.1 0.5t2.3 0.4t2.2 0.6t1.2 2.1t0 2.8t-0.6 2.5t1.2 1.4t3.3 0.9t2.9 1.8z"/><path d="M1095.3 1421.7q0.1 1 1 2.4t0.1 2.4t-2.6 1.1t-2.9 0t-1.1 1.4t-0.9 2.7t-2 1.1t-2.2 -1t-1.8 -1.4t-1.4 -1.4t-1.1 -1.5t-2.2 -1t-3.3 -1.3t-1.1 -2.5t2.4 -2.2t2.6 -1.6t1.3 -1.6t1.5 -0.9t2 0.2t1.6 -0.9t1.7 -2.3t2.3 -0.7t1.7 1.6t1.7 1.7t1.8 1.3t0.8 2.1t0.2 2.2z"/><path d="M1172 1430.1q0.6 1 0.3 2.1t-0.4 2.1t0.4 2.5t-0.1 2.5t-1.6 1.8t-2 1.5t-1.3 2t-1.5 1.9t-2.5 0.4t-2.7 -0.9t-2.3 -0.4t-2 -0.1t-1.7 -1.6t-1.3 -2.2t-1.6 -0.5t-2.1 0.4t-1.5 -0.8t-0.7 -1.8t-1.5 -1.3t-2.2 -1t-0.9 -1.7t0.2 -2.1t-1 -2.1t-2.1 -2.4t-0.3 -2.4t1.7 -2t1.5 -2.1t1.2 -2t2.4 -0.7t3 0.7t2.1 0t1.3 -1.8t1.6 -1.7t2 -0.3t2.2 -0.5t2.5 -1.1t2.2 0.6t1.1 2.6t0.6 2.7t1 1.7t0.8 1.6t0.1 1.9t0.7 1.5t2.3 1.1t2.1 1.6z"/><path d="M1229.2 1500.6q1.5 0.8 1.7 2t-0.7 2.1t-1.1 2.2t-0.5 2.9t-1.9 1.5t-3 -1.1t-2.4 -0.8t-1.9 0.1t-1.6 -0.9t-2.1 -0.5t-2.4 -0.5t-0.5 -2.1t0.4 -2.3t-0.9 -1.9t-0.6 -2.1t1.7 -1.5t1.2 -1.8t0.5 -2.4t1.7 -1.6t2.2 -1.8t2.6 -1.2t2.1 2.1t0.5 4t0.7 2t1.6 0.6t1 1.3t1.7 1.6z"/><path d="M1087.7 1392.3q0 1 -0.4 1.8t0.2 2t1.2 2.4t-0.2 2.2t-2.2 1.1t-2.2 0.9t-1.3 1.4t-1.7 0.8t-2.1 -0.3t-1.6 0.9t-1.3 2.4t-1.9 1.1t-2 -0.5t-2.3 0.1t-2.6 0.7t-2.3 -0.3t-1.6 -1.8t-2.3 -1.4t-2.9 -0.5t-1.3 -2.2t0.7 -3.2t0.8 -2.6t0.8 -2.2t2.6 -1.9t3 -1.2t0.6 -1.2t-1.5 -1.9t-1 -2.2t-0.5 -2.7t-0.8 -3.6t0.2 -3.4t2.4 -1.3t3.2 0.9t2.7 1.1t2.2 0.9t1.9 1.6t1.6 0.9t2.2 -1.2t2.8 -1.8t2.5 -0.1t2.3 1.1t2.4 1.3t1.3 2t-0.9 3.2t-1.2 2.8t0.3 1.9t0.5 1.8z"/><path d="M1169.7 1394.6q-0.4 1.1 0 2.2t0.6 2.3t-0.9 2t-2.5 1.4t-1.5 1.7t-0.8 1.7t-2.1 0.8t-1.7 0.9t-0.6 2.1t-1 2t-1.9 0.7t-1.5 1.7t-1.4 2.3t-2.1 0.1t-2.3 -0.2t-2.2 1t-2.2 -0.1t-1.8 -1.9t-2.1 -0.6t-2.4 0t-1.6 -1.8t-1.3 -1.9t-2 -0.8t-1.6 -1.3t0.1 -2.7t-0.6 -2.1t-1.5 -1.6t0.3 -2.1t0.8 -2.1t-0.5 -1.8t-0.3 -1.8t1.4 -1.6t0.5 -1.8t-0.6 -2t1 -1.6t1.6 -1.1t0.5 -1.9t0.6 -2.1t1.8 -0.7t1.3 -1.6t0.7 -2.7t1.5 -1.6t2 -1.1t2 -2.2t2.3 -2.1t2.5 0.4t2.5 0.8t2.5 0.1t1.8 2.2t0.9 3.6t1 2.3t1 1.8t-0.2 2.8t0.4 2t1.8 0.7t1.5 0.9t0.9 1.5t2.3 1.3t2.6 1.5t0.4 2.1z"/><path d="M1180 1319q1 0.8 1.6 1.9t0.4 2.1t0.5 2.4t0.5 2.6t-1.3 1.9t-2.8 0.6t-3 -0.1t-1.9 0.7t-1.4 1.3t-1.7 0.5t-1.9 -0.1t-1.9 0.4t-2.1 1.5t-2.4 1t-2.2 -0.7t-1.7 -1.6t-2.2 -0.8t-2.5 -0.7t-1.4 -2.1t0.3 -2.7t0.9 -2.6t0.1 -2t0 -1.8t0.7 -1.8t1.2 -1.5t-0.3 -1.9t-1.5 -2.7t-0.3 -2.6t1.4 -1.6t2.3 -0.7t2 -1.1t1.8 -1t2.1 0.2t2.1 0.6t1.9 -0.4t2.2 -2t2.7 -1.8t2.6 -0.1t1.9 1.8t1.7 2.1t1.3 1.9t-0.2 2.8t-1.5 3.1t-1 2.2t1.1 1.3t2.2 1.4z"/><path d="M1209.3 1463.4q-0.8 1.2 -2.1 2t-1.2 1.8t0.8 2.3t0.8 2.8t-0.6 2.5t-2.1 1.5t-2.3 1.2t-2.3 0.6t-2.4 -0.8t-2.1 -1.4t-1.9 -0.8t-2.3 0.8t-2.5 0.4t-1.5 -1.6t0.2 -3t0 -2.3t-1.3 -1.3t-1.3 -1.5t-0.5 -1.9t0.2 -1.9t-0.2 -2.2t0.1 -2.3t1.4 -1.6t2 -1t1.5 -1.8t1.1 -3.1t2 -2.3t2.7 0.3t2.3 3t1.5 2.9t1.3 1.4t1.1 1.3t1.3 1t1.8 0.7t2.8 0.7t2.1 1.5t-0.3 2.3z"/><path d="M1167.6 1289.3q0.2 1.1 1.5 2.4t1.6 2.8t-0.9 2.5t-2.9 1.3t-2.8 0.8t-2.6 0.1t-3 -1.3t-2.2 -1.5t-1 1t-0.9 3t-1.7 2.5t-2.3 1.4t-3 1.2t-2.9 0.1t-1.4 -2.5t0 -3.5t-0.6 -2.4t-1.3 -1.6t-0.3 -2t0.2 -2.1t-0.9 -2.2t-0.9 -2.3t1.2 -1.9t2.2 -1.3t1.4 -1.5t1 -1.7t2 -0.7t2.2 0.2t1.7 -0.8t1.6 -1.1t1.9 0.2t1.8 0.9t2.2 -0.3t2.5 -0.5t1.7 1.3t0.8 2.1t1.4 1.6t1.7 1.5t0.5 2.1t0.1 2.2z"/><path d="M1174.6 1334.1q-1.1 0.9 0.2 1.9t1.8 2.2t-0.4 1.9t-1.5 1.5t-1.3 1.9t-1.9 1t-2.2 0.1t-2.2 1.4t-2.4 0.9t-1.7 -2t-1.5 -2t-1.7 -1.2t-0.5 -2.1t-0.6 -1.9t-1.6 -1.7t-0.1 -2t1.5 -1.8t0.6 -2t0.4 -2.1t2 -0.8t1.8 -1.1t1.6 -1.7t2.1 0.3t2.2 0.4t2.7 -0.9t2.4 0.6t1 2.6t0.7 2.4t0.1 2.1t-1.6 2.1z"/><path d="M1135.5 1397.9q0.2 0.9 0.3 1.8t1.5 2.1t2.5 2.7t1.4 3t-0.4 2.4t-2 1.6t-1.7 1.9t-1.4 2t-2.4 0.9t-3.1 -0.3t-2.9 -0.6t-2 0.6t-1.6 1.2t-1.9 0.6t-2 -0.1t-2 -0.1t-2.1 1t-2.2 0.6t-1.9 -0.9t-1.3 -2.2t-1.3 -1.9t-1.7 -0.5t-1.5 -1t-0.9 -1.8t-0.1 -2.1t-1.1 -1.4t-2.1 -0.8t-1.3 -1.4t-0.1 -2t0.5 -2t-0.6 -1.8t-1.3 -1.8t-0.5 -2t0.3 -2t0.1 -2.2t-1.2 -3t-1.2 -3.4t0.2 -2.8t1.7 -2.1t2 -2t2 -2t2.7 -0.6t3.4 1.4t3.4 2.7t2.6 2.3t1.8 1t1.6 0.9t1.4 1.1t1.3 0.7t1.8 -1.1t2.6 -2.1t2.7 -1.3t2.2 0.2t1.8 1.1t2 1t1.6 1.6t0.2 2.6t-1.2 2.9t-1 2.4t0.5 1.6t1 1.5t0.7 1.7z"/><path d="M1218.9 1524.4q1.7 0.8 2.9 2t1 2.4t-1.4 2.1t-1.1 2.1t-0.5 2.2t-2 1.4t-2.5 0.6t-1.3 1.7t-0.9 2.5t-1.9 1.3t-2.2 0.8t-2.1 1.5t-2.3 0.7t-2.3 -1.7t-2 -1.8t-1.9 -0.7t-1.6 -1.3t-0.9 -2.2t-1.5 -1t-2.4 0.1t-1.8 -1t-0.6 -2t-1.3 -1.5t-1.7 -1.4t0.1 -2t1.1 -2.1t-0.3 -1.9t-0.9 -1.9t0.5 -1.8t0.5 -2t-0.6 -2.5t0 -2.5t1.8 -1.3t1.9 -1.1t1.3 -1.8t1.9 -1.2t2.5 0.4t2 -0.9t1.7 -2.2t2.2 -1.1t2.3 -0.1t2.6 -0.5t2.6 -0.4t1.7 2.2t0.7 3.5t0.7 2.8t0.3 2.4t-0.9 2.8t-0.4 2t1.5 0.7t2.1 0.7t1.2 1.4t2 1.7z"/><path d="M1186.7 1502.1q1.5 0.7 2.4 2.1t0.3 2.7t-2.3 1.6t-2.8 0.4t-2.2 -0.2t-1.8 -0.4t-2.1 1t-2.9 0.9t-1.8 -1.6t0.5 -2.9t-0.4 -2.2t-1.3 -2t0.8 -2t1.8 -1.4t1.2 -2.1t1.6 -1.8t2.3 0.9t2.1 1.2t2.1 0.2t1.5 1.3t-0.2 2.3t0.9 1.9z"/><path d="M1066.9 1370.6q-1 1 -2.7 1.7t-1.2 1.4t0.9 1.9t0.4 2t-0.1 2.2t0.4 3.5t-0.5 3.6t-2.5 1t-3 -1t-2.6 -0.7t-2.2 -0.9t-1.7 -2t-1.9 -0.8t-2.5 0.8t-2.1 -0.4t-0.7 -2.1t-0.7 -2.1t-0.8 -1.7t0.8 -2.2t0.9 -1.8t-1.3 -1.6t-2.3 -1.9t-0.6 -2.2t0 -2.5t0.1 -2.7t1.6 -1.9t3.1 0.1t2.5 -0.1t1.6 -1.5t2 -0.4t2.1 0.8t2.1 -0.5t2.2 -0.8t1.7 1.2t1.4 1.7t2.1 0.6t2.2 0.9t0.8 2.2t0.5 2.1t0.9 1.9t-0.8 2.1z"/><path d="M1221.8 1364q0.9 0.9 0.8 1.9t-0.9 1.8t-0.5 1.9t0.7 2.3t-0.1 2.3t-1.5 1.5t-0.7 2.2t-0.2 2.7t-1.7 1.5t-2.5 0.3t-2 0.7t-2 0.9t-2.5 -1.1t-2.2 -1.3t-1.8 0.3t-1.8 -0.1t-1.6 -1.2t-2 0.3t-2.6 1.6t-2.3 0.2t-1.9 -1.1t-2.5 -0.5t-2.4 -0.6t-0.7 -2.4t-0.2 -2.8t-1 -2.1t-0.5 -2t0.9 -2.3t-0.3 -2t-1.9 -1.9t-0.7 -2.2t0.5 -2.2t-0.3 -2.6t-0.2 -2.6t2.1 -1.5t2.8 -0.6t2.1 -0.9t2.3 -0.4t3 1.2t2 0.2t0.9 -1.4t1.2 -1.2t1.5 -0.8t1.5 -2.3t1.9 -3.1t2.3 -1.5t2.5 -0.3t2.8 -0.4t2.6 0t1.4 2.5t1.2 2.8t1.6 1.6t0.7 2.2t-0.6 3t0.5 2.1t1.4 1.4t0 2t-0.5 2t0.8 1.8z"/><path d="M1183.2 1429.8q-0.8 1.2 -1.2 2.3t0 2.3t0 2.3t-1.4 1.9t-2.7 1t-1.9 1.2t-1.2 1.5t-2.1 0.5t-2.6 -0.7t-2 -0.2t-0.9 1.6t-0.8 2.2t-1.3 1.8t-1.7 1.7t-2.1 2.7t-2.6 2.9t-2.8 0.8t-2.2 -2t-1.6 -2.9t-1.3 -2.5t-0.6 -2.8t0.5 -3.2t0.9 -3t-0.8 -1.4t-2.6 -0.2t-2.6 -0.6t-2.1 -1.2t-2.5 -1.7t-3 -2.1t-1.4 -2.5t1.2 -2.4t2.9 -1.8t2.3 -1.7t1.8 -1.4t2.3 -0.8t2.5 -0.3t1.2 -1.2t-0.1 -2.8t0.4 -3.1t1.4 -2t2 -1.1t2.1 -1.4t2.2 -0.5t2.3 1.6t1.8 3.2t1.5 2.3t1.5 0.6t1.4 0.8t1.2 1.2t1.6 0.4t2.8 -0.7t3.4 -0.4t2.5 0.9t1.1 2.1t1.4 2t2 1.8t0.6 2.4t-1 2.6z"/><path d="M1165.7 1394q0.9 1.2 0.1 2.4t-2.6 1.7t-2.1 1.3t-0.5 2.2t-1.1 2.1t-2.1 0.2t-2.2 -1.1t-1.9 -0.3t-2.2 0.3t-2.3 -0.5t-1.4 -1.7t-0.6 -2.2t0.3 -2.2t1.1 -1.9t0.5 -1.7t-0.8 -2.9t-0.3 -3.3t2.3 -1.1t3.1 1.4t2.3 1.4t1.9 -0.4t2 0t1.3 1.5t0.7 1.8t2.1 1.2t2.6 1.6z"/><path d="M1161.7 1375.1q-0.4 0.7 0.3 1.5t2.4 1.9t3 2.5t2 2.9t0.6 3t0.4 3.4t0.2 3.6t-1.5 2.6t-3.2 0.5t-4.1 -1.1t-3.4 -0.8t-2.6 -0.3t-2.5 -1.2t-2.2 -2.1t-1.8 -1.2t-1.6 1.2t-1.8 1.9t-2.1 1t-2 -0.1t-2.3 -0.1t-2.7 0.6t-2.3 -0.7t-1.2 -2.2t0 -2.8t-0.6 -2.2t-1.3 -1.6t-0.6 -2t0.3 -2.1t0.4 -2t-0.9 -1.8t-1.3 -1.8t-0.1 -1.9t1.2 -1.8t0.9 -1.7t-0.2 -2.1t0.1 -2.1t1 -1.7t1.7 -1.3t0.8 -2.1t0.2 -3.1t1.1 -2.5t2 -1.6t2.4 -0.6t2.3 -1.1t2.3 -0.8t2.5 1.1t2.3 2t2 1.7t2 0.2t2 0.5t1.6 1.4t1.1 1.8t1.5 1.3t2.1 0.7t1.4 1.4t0 2.4t-1.1 2.5t-0.3 1.9t0.4 1.5t-0.2 1.6t-0.7 1.5z"/><path d="M1142.6 1460.7q-1.4 0.9 -0.8 1.7t1.7 2.1t1.5 2.9t-0.4 2.6t-2.4 1.1t-2.6 0.6t-2.2 0.6t-2.2 -0.4t-1.8 -1.3t-1.3 -1.7t-1.6 -1t-2.2 -0.5t-1.8 -1.3t-0.7 -2t0.2 -2.2t0.2 -2.2t0.6 -2t1.4 -1.6t1.7 -1.1t1.6 -1.5t1.6 -2t2.1 -0.8t2.2 1t1.7 1.9t1.9 0.8t2.7 0.1t1.8 1.5t-0.5 2.7t-2.3 2.4z"/><path d="M1216.9 1341.2q0.2 0.8 0.1 1.6t0.4 1.9t0.7 2.4t-0.8 2t-2.3 0.6t-2 0.6t-1.2 2.7t-1.9 2.8t-2.6 0t-2.3 -2t-1.6 -2.2t-0.9 -2.2t-0.3 -2.2t-1.4 -1.3t-3.1 -1t-2.1 -1.9t1.1 -2.3t2.4 -1.7t1.4 -1.6t0.9 -1.6t1.5 -1.1t1.4 -1.2t1.3 -2.1t1.9 -1.5t2.3 0.1t2.5 0.1t3 -0.4t2.5 0.9t0.3 3.1t-1.1 3.4t-0.3 2.2t0.4 1.6z"/><path d="M1229.9 1338.8q1.2 1 1.9 2.4t-0.4 2.5t-2.9 1.1t-2.8 0.3t-1.4 1.4t-1.3 1.9t-2 -0.2t-1.4 -2.4t-1.6 -0.8t-2.9 1.2t-3.3 -0.1t-1.6 -2.1t0.3 -2.9t0.8 -2.5t1.3 -2t1.9 -1.3t1.9 -0.8t1.3 -1.3t1.4 -1.6t2 -0.6t2 0.7t2.1 0.6t2 0.7t1 1.9t0.4 2.1t1.4 1.9z"/><path d="M1117.1 1418q0.2 1.1 0.5 2.3t-0.5 2.1t-2.5 1.4t-2.2 1.2t-0.8 1.6t-1 1.3t-1.8 0.7t-1.2 1.6t-0.7 2.6t-1.7 1.5t-2.2 -0.4t-2.1 -0.1t-2.1 0.9t-2 -0.5t-1.8 -1.2t-2.4 0t-2.9 0t-1.8 -1.7t-0.8 -2.3t-0.9 -2.1t-0.2 -2.3t1.9 -2.6t1.9 -2t0.1 -1.6t-0.5 -1.6t0.3 -1.6t-0.4 -2.2t-1.2 -3.1t0.2 -2.6t2.1 -1.1t2.2 -1.2t1.8 -1.4t2.4 0.2t2.4 1.5t2 0.1t2 -1t1.9 0.4t1.5 1.4t2 0.8t2.2 0.3t1.2 1.6t0.8 2t2 1.3t2.2 1.5t0.5 2.1t-0.1 2.3z"/><path d="M1167.2 1428.5q1.4 1.1 1.7 2.4t-0.6 2.4t-2.4 1.7t-1.9 1.6t-0.9 1.8t-1.5 1.4t-1.9 0.9t-1.8 1t-1.5 2.3t-1.9 2.2t-2.4 0.1t-2.2 -1.9t-1.9 -1.8t-1.8 -0.8t-1.5 -1.1t-0.7 -2.1t0.2 -2.4t-0.7 -1.4t-1.9 -0.8t-1.3 -1.5t-0.5 -1.7t-0.5 -1.9t-1.7 -2.4t-1.6 -2.9t0.4 -2.7t2.2 -1.6t2.6 -0.9t2.1 -1.1t2.3 -0.7t2.4 0.4t2.2 1.1t1.9 -0.4t2.1 -1.4t2.1 0t1.5 1.7t0.8 2.3t1.1 1.4t1.4 1t1 1.5t0.7 1.7t1.6 1.5t2.7 1.7z"/><path d="M1136.6 1423.2q0.4 1.2 -0.8 2.2t-2.3 1.4t-1.7 0.9t-0.6 2.1t-1.2 2.1t-2.2 0.1t-1.8 -1.4t-2.1 -0.8t-2.2 -0.8t-0.9 -2.2t0.6 -2.3t0.6 -2.1t0.6 -1.9t1.6 -1.2t1.9 -0.4t1.8 -0.6t2 -0.8t2.1 0.4t1.8 1.4t1.6 1.7t1.2 2.1z"/><path d="M1161.3 1473.7q0.3 1.2 -0.4 2.3t0 2.5t0.1 2.4t-2.4 1.2t-3 0.4t-1.7 1t-1.5 1t-1.9 0.2t-1.6 1.5t-1.8 2.1t-2 -0.6t-1.7 -1.8t-1.7 -1t-1.3 -1.3t-0.9 -1.7t-2.7 -0.4t-3.8 -0.5t-1.7 -2t-0.7 -2.7t-0.2 -2.7t2.2 -2.2t3.6 -1.1t2 -1.2t0.9 -1.4t1.7 -0.5t1.3 -1.3t1 -2.3t1.8 -0.7t2 0.7t2.1 -0.5t2.2 -0.6t1.6 1.4t1.9 1.3t2.3 0.7t0.9 1.9t0.2 2.3t1.5 1.8t1.5 2z"/><path d="M1086 1396q0.4 1.1 0.4 2.3t-1.3 1.9t-3.1 0.9t-1.7 1.2t0.1 2.3t-0.7 1.8t-1.6 1.1t-1.7 1.6t-1.9 1.2t-2.1 -0.9t-1.9 -1.3t-2.2 0.3t-2.4 0.1t-1.5 -1.7t-1.6 -1.7t-2 -1.3t-0.6 -2.2t0.8 -2.4t-0.4 -2.2t-1.2 -2.2t1 -2t2.3 -1.3t1.8 -1.1t1.7 -0.7t2.2 0.2t1.3 -1t0.8 -3.3t1.7 -2.6t2.3 -0.2t2.6 0.1t2.3 0.8t0.9 2.8t0.1 3t1.5 1.5t2.5 0.9t1.1 1.8t0.4 2.3z"/><path d="M1177.3 1535.9q0.3 1.2 -0.4 2.2t-2.2 1.8t-2.8 0.9t-0.8 1.5t0.6 2.5t-0.6 2.1t-1.8 1.1t-1.7 1.4t-1.6 1.7t-2.1 0.5t-2.2 -0.8t-2.3 0.2t-2.7 1.5t-2.5 -0.5t-1.2 -2.6t-0.6 -2.6t-0.6 -2t0.1 -2.3t0.9 -2.2t-0.4 -1.6t-2.4 -1.6t-2 -2.2t0.2 -2.2t1.3 -1.9t1.1 -1.9t1.6 -1.4t2.3 -0.4t1.9 -0.7t1.2 -2.6t1.6 -2.4t2.3 -0.2t2.3 1.4t2 1.3t1.6 1.3t0.8 2.5t0.7 1.9t2.4 0.2t3.4 0t2.2 1.5t0.3 2.4t0 2.4z"/><path d="M1180.7 1360.5q-0.5 1.2 -0.9 2.2t-0.6 2t-0.8 1.9t-1.6 1.2t-2 1t-2 0.4t-1.9 -1t-1.2 -1.7t-1.4 -1.1t-2.5 -0.7t-2.1 -1.8t-0.1 -2.5t1.9 -2t1.8 -1.6t1.5 -1.4t2 -0.5t1.9 1.1t1.7 0.6t2.3 -0.8t2.8 0.1t1.6 1.8t-0.4 2.6z"/><path d="M1190.8 1354.4q-0.4 1.1 -1.1 2.1t-1 2t0.5 2.3t1 2.6t-0.3 2.6t-1.8 1.6t-2.2 1t-1.9 1.4t-2.3 0.7t-2.7 -0.9t-2.5 -2t-1.8 -0.5t-1.4 1.4t-1.7 1.5t-1.9 1t-2 0.1t-2.6 0.7t-2.9 0.9t-2.2 -0.9t-1 -2.4t-0.5 -2.8t-1.2 -1.9t-1.5 -1.6t-0.6 -2.2t0.5 -2.3t0.2 -2.1t-0.7 -2.1t0.1 -2.1t1.5 -1.7t2.5 -1.1t1.3 -1.3t0 -2.2t0.4 -2.2t1.1 -1.7t1.5 -1.5t1.3 -2.6t1.6 -2.2t2.4 -0.4t2.5 1.2t2.2 2.1t1.8 1.6t1.6 1t1.3 1.2t1.1 1.6t1.8 0.6t3 -0.6t2.9 0.2t1.8 1.5t0.3 2.3t0.6 2.2t1 2t-0.1 2.2z"/><path d="M1187.1 1349.4q0.2 1 -0.3 2t-0.7 2t0.5 2.3t0.9 2.6t-0.5 2.2t-1.6 1.6t-1 2.4t-0.6 2.9t-1.9 1.4t-2.9 0t-2.8 -0.3t-2.2 -0.1t-2.2 -0.7t-2.1 -2.1t-1.7 -1.9t-1.5 -0.3t-1.6 0.2t-1.5 -0.2t-1.3 -0.9t-2.1 0t-2.8 0.7t-2 -0.8t-0.8 -1.8t-1.1 -1.7t-2 -1.4t-1.4 -1.8t-0.1 -2.2t-0.2 -2.2t-1.5 -2.3t-1.5 -2.6t0.2 -2.6t1.5 -2.2t1.1 -2.2t1.1 -2.3t2.6 -1.1t3.7 0.6t2.9 0.6t1.8 -0.6t1.9 0t1.9 0.9t1.6 0t1.4 -1.6t1.7 -1.9t1.9 -0.7t1.9 0.3t2.4 -0.3t2.6 -0.5t1.8 1.2t0.7 2.7t1.1 1.9t1.8 1.1t1 1.7t-0.2 2.2t0.1 2.1t1.3 1.7t1 1.9z"/><path d="M1146.1 1309q-0.3 1 -0.1 2.1t0 2t-1 1.8t-1.6 1.4t-0.7 1.9t0.2 2.9t-0.7 2.4t-2 1.1t-2.5 0.1t-2.2 0.5t-2 1.1t-2.2 0.3t-2.1 -0.7t-2.1 -0.6t-2.4 0.1t-2.1 -0.8t-0.9 -2.6t0.6 -3.3t0.2 -2.3t-1 -1.2t-1.1 -1.2t-1.1 -1.3t-1.8 -1.6t-3.1 -2.1t-2.5 -2.8t0.2 -2.7t2.7 -1.6t3.1 -1.1t2.3 -0.8t2.3 -0.3t2.2 0t1.8 -0.4t1.2 -2.3t1.4 -3.2t2.2 -1.5t2.3 0.8t2 1.5t1.9 1.2t1.5 1.7t0.8 2.3t0.3 2.3t1.6 1t2.9 0.4t2 1.4t0.3 2.1t-0.7 2.2z"/><path d="M1150.9 1536.2q0.8 0.9 0.9 2t1.2 2.4t1.5 3t-0.3 2.7t-2.6 1.4t-3 0.7t-2.1 0.9t-2.1 0.5t-2.4 -0.5t-2.1 -0.4t-1.6 0.8t-1.7 0.9t-1.7 -0.7t-1.6 -1.1t-2.1 0.3t-2.4 0.4t-1.9 -0.8t-1.6 -1.3t-2.3 -1.1t-2 -1.6t0.1 -2.6t1.7 -2.6t0.9 -2.1t0.1 -1.8t0.9 -1.7t1.1 -1.5t-0.4 -2.4t-0.8 -3.1t1 -2.3t2.4 -0.7t2.3 -0.6t2 -0.9t2.3 0.6t2.1 1.7t1.9 0.1t2.2 -1.7t2.3 -0.4t1.7 1.5t1.7 1.4t1.8 0.9t0.5 2.3t-1 2.8t-0.2 1.9t1.8 1.2t1.9 1.6z"/><path d="M1213.7 1381.5q1 0.9 1.1 2t-0.4 2.1t-1.3 1.7t-1.2 1.9t-1 2.6t-1.9 1.6t-2.6 -1.3t-1.8 -3.1t-1.4 -1.1t-2.5 1.3t-3.2 0.7t-1.9 -1.4t0.5 -2.7t0.2 -2.4t-1.3 -2.2t-0.6 -2.6t1.4 -2t2.8 -0.5t2.4 -0.1t1.7 -0.5t1.6 -1t1.9 -0.9t2.4 -0.6t2.5 0.1t1.7 1.7t0.4 2.5t-0.3 2.4t0.7 1.9z"/><path d="M1166.2 1292.7q-0.3 0.9 1.1 2t1.5 2.4t-1.1 1.9t-2.2 1.2t-1.8 1t-2 0.4t-2.1 -0.5t-1.2 1.7t-1.3 3.9t-2.3 1.9t-2.7 -0.2t-2.6 -0.7t-1.6 -2.1t0.3 -3.9t0.1 -2.7t-1.6 -1.1t-1.3 -1.5t-0.1 -1.9t-0.5 -2t-0.1 -2t2.1 -1.2t1.9 -1t0.3 -2t0.5 -2.4t1.7 -1.1t1.8 -1.6t2 -1.9t2.4 0.5t2.1 1.6t2.2 0.7t2.1 0.7t0.8 2.3t0.7 2.1t1.3 1.5t0.4 1.9t-0.5 2z"/><path d="M1100.2 1318.3q0.8 1 1.1 2.1t0.2 2.2t-0.5 2.2t0 2.7t-0.3 2.8t-2.2 1.4t-3.4 -0.6t-3.1 -1.3t-2.1 -0.4t-1.6 0.4t-1.6 0.1t-1.6 0.1t-2.1 1.2t-2.9 1.6t-2.6 -0.1t-1.4 -1.9t-0.2 -2.8t-0.6 -2.1t-1.4 -1.5t-0.8 -1.9t0 -2.1t0 -2.1t-0.7 -2.4t-0.1 -2.3t1.7 -1.6t2.8 -0.6t2 -0.8t0.9 -2t1.3 -1.8t1.9 -0.8t2.1 0t2.1 -0.6t2.2 -0.8t2 0.7t1.4 2t1.2 1.9t1.9 0.7t2 0.7t1 1.7t-0.2 2.2t0.3 2t1.5 1.7z"/></g><path d="M1055.6 1349q0.5 -1 0.4 -2.5t0.8 -2.4t1.2 -2.2t0.5 -2.9t1.5 -1.9t2.3 -1t1.6 -1.8t2.1 -1.2t2.9 -0.4t2.2 -1.1t2.2 -0.3t2.3 0.7t2 -0.1t2.3 -0.2t2.3 1t2.4 0.6t2.6 -1.1t2.7 -1.2t2.5 0.2t2.4 0.4t2.8 -0.5t2.7 -0.1t2 1.4t1.7 1.7t2 1.1t1.7 1.7t1.2 2.4t1.4 1.8t0.9 1.8t-0.3 2.4t-0.1 2.3t1.3 2t1.5 2t0.4 2.3t0.9 2.2t2.4 1.9t1.3 2.2t0.2 2.7t1.1 2.9t-0.1 2.7t-1.7 2.2t-0.8 2.4t-0.6 2.5t-1.9 2.1t-1.8 2.1t-0.7 2.4t-1 2.2t-2.4 1.5t-2.1 1.6t-0.6 2.4t-1.1 2.3t-1.1 2.2t0.9 2.5t0.9 2t0.6 1.6t2.4 1t2.5 1.1t0.8 2.2t0.4 2.5t1.3 2.1t0.7 2.5t0.2 2.8t1.1 2.4t0.1 2.5t-0.8 1.9t-0.2 1.1t-1.2 0.2t-2.3 -0.5t-2.1 0.9t-2 1.5t-2.3 0.4t-2.4 0.6t-2.6 1.7t-2.5 0.5t-2.5 -0.4t-2.6 0.6t-2.4 -0.4t-2.1 -1.6t-2.2 -0.7t-2 -1.3t-1.8 -2.1t-1.9 -1.3t-1.6 -1.6t-1.7 -1.7t-2.4 -0.7t-2 -1.3t-1.6 -1.7t-2.6 -0.7t-2.1 -1.2t-1.6 -1.7t-2.7 -0.9t-1.9 -1.5t-0.7 -2.3t-1.5 -1.7t-1.7 -1.6t-0.5 -2.5t-0.4 -2.7t-1.1 -2.2t-0.7 -2.5t-0.7 -2.4t-1.7 -1.7t-0.7 -2.2t0 -2.6t-1.6 -2t-2 -1.9t-0.5 -2.2t-0.3 -2.3t-1.2 -2.6t0 -2.5t0.7 -2.2t-0.3 -2.6t0.8 -2.1t2 -1.7t0.8 -2.2t0.8 -2.3t2.4 -1.9t2.4 -1.9t1 -2.3t0.7 -2.2z" fill="#4dab4f"/><g fill="#4dab4f"><path d="M1081.6 1371.3q0.3 1.3 -0.6 2.5t-2.3 2t-2 1.7t-1.3 1.6t-1.5 1.2t-1.6 0.9t-1.7 0.7t-1.3 1.6t-1.3 2t-1.9 0.4t-2 -1.2t-1.5 -1.7t-1.8 -0.2t-2.6 1.3t-2.9 0.6t-2.5 -0.7t-1.3 -2.1t-1 -2.3t-1.2 -2.1t-0.2 -2.5t0.9 -2.4t1.7 -2t1.1 -1.9t0.3 -2t1 -1.6t2.1 -0.5t2.4 0.3t1.7 -0.4t0.8 -2.1t1.1 -2.9t1.9 -2.3t2.3 -0.5t2.3 0.7t2.2 0.9t1.6 1.9t0.7 2.6t0.1 2.4t0.7 1.7t2.5 0.9t3.3 1.2t1.8 2.2z"/><path d="M1113.5 1360.2q-0.1 1 -0.1 1.9t-0.5 1.7t-0.6 2.1t-1.2 2.1t-2.3 0.4t-2.1 -1.2t-2.1 -0.5t-2.7 0t-2 -1.7t0.6 -2.6t1.6 -2.2t0.6 -1.7t0.6 -1.8t1.3 -1.4t1.9 -1.3t2.3 -1.2t2.6 0.4t1.4 2.3t0.4 2.6t0.2 2z"/><path d="M1120.7 1352.4q0.7 1.1 0.7 2.2t-0.8 2.1t-1.1 2t-0.5 2.2t-0.9 2t-2 1.1t-2.5 0.3t-1.6 1.2t-1.1 2.3t-1.8 1.5t-2.3 0t-2.2 -0.6t-2.1 -0.1t-1.9 -0.8t-1.3 -2t-0.6 -2.5t-1.4 -1.2t-2.4 -0.1t-1.9 -0.9t-0.8 -1.7t-0.6 -1.9t-1.5 -1.8t-1.3 -2.1t0 -2.3t1 -2.1t0 -2.5t-0.6 -3.1t1.2 -2.5t2.8 -0.8t3.1 0.3t2.5 0t2.3 0.3t2.1 1.4t1.7 1.7t1.5 -0.4t2 -2.3t2.4 -1.3t2.2 0.2t2 0.7t2.3 0.8t1.8 1.6t0.3 2.5t-0.8 2.7t0.5 2.1t1.7 1.9z"/><path d="M1107.2 1363.4q0.4 1.1 -0.3 2.2t-1.6 1.7t-1.4 1.4t-1.1 1.7t-1.7 1.1t-2.1 -0.1t-1.9 -0.6t-2.3 -0.5t-2.3 -0.9t-1.2 -2.2t0.5 -2.4t1.3 -2.1t1.6 -1.3t1.7 -0.8t1.2 -1.4t1.6 -2.3t2.4 -1.1t2 1.6t1.1 2.3t1.4 1.7t1.4 1.9z"/><path d="M1125.7 1369.5q-0.5 1.1 -0.5 2.2t-1.2 1.9t-2.8 1.1t-1.3 1.4t0.2 2t-1 1.4t-0.9 1.6t-0.4 2.9t-1.2 2.2t-2.2 0.2t-2.1 0.8t-2.1 1.1t-2.2 -1t-2.2 -0.7t-2.4 0.5t-2.1 -0.9t-1.6 -1.7t-2.1 -0.8t-1.9 -1.3t-0.1 -2.7t-0.3 -2.4t-1.1 -1.7t0.4 -2.1t0.9 -2t-0.5 -1.9t-0.2 -1.9t1.7 -1.4t0.8 -1.7t-0.1 -2.1t1.5 -1.1t1.4 -1.2t0.6 -2.5t1.1 -2.3t2 -1.1t2 -1.8t2.2 -1.7t2.4 1.2t2.2 1.5t2.1 1t1.4 2.2t0.7 2.5t1.6 1t2.1 0.6t1.1 1.5t1.9 1.4t2.7 1.2t0.5 2.1t-0.9 2.4z"/><path d="M1114.7 1340.1q-0.4 0.9 0.9 2t1.7 2.3t-0.6 2.1t-1 2t-0.3 2.4t-1.5 1.9t-2.5 0.7t-2 1.1t-2 0.6t-2.4 -1.7t-2.1 -0.1t-1.9 1.1t-1.8 -0.8t-2.1 -0.3t-2.7 0.8t-2.1 -0.9t-1.1 -2.2t-1.4 -1.8t-0.7 -2t1.1 -2.5t-0.1 -2t-1.1 -1.8t0.7 -1.8t0.3 -2t-0.4 -2.3t1.4 -1.4t2.1 -0.8t1.2 -1.6t1.3 -1.4t1.9 -0.6t1.5 -2.3t1.7 -3t2.4 -0.4t2.7 -0.1t2.6 0.2t1.5 2.8t0.6 3.3t0.8 2.1t0.2 2t-0.4 2.2t1.3 1.2t2 1.1t0.1 1.7z"/><path d="M1092.3 1412.7q-0.4 1 -1 1.8t-0.1 1.9t0.4 2.1t-0.8 1.8t-1.6 1.3t-1.1 2.4t-1.4 2.7t-2.5 0.1t-2.3 -2.4t-1.9 -1.5t-2.1 0.1t-2.2 -0.3t-1.9 -1t-2.4 -1.2t-2.2 -1.7t0.4 -2.7t3 -2.4t2.4 -1.6t0.1 -1.6t-0.4 -1.9t0.5 -1.8t0.9 -2.1t1 -2.6t1.9 -1.5t2.5 0.2t2.4 0.6t2.5 -0.1t2.4 0.6t1.2 2.3t0.2 2.7t0.9 1.9t1.2 1.6t-0.1 2z"/><path d="M1109 1353.9q-0.4 1.1 -0.9 1.9t1.1 2.5t2 3.4t-1 2.5t-3 0.7t-3 -0.1t-2.6 -1.2t-2 -2.1t-1.6 0.6t-2.2 2.7t-2.3 0.5t-1.5 -1.8t-1.3 -1.9t-0.9 -1.8t0.4 -2.1t-0.9 -1.9t-2.2 -2.1t-0.2 -2.3t1.8 -1.7t1.3 -2t1.1 -2t2.3 -0.6t2.3 -0.4t2 -0.8t2 0.7t1.4 2.3t1.8 0.7t2.5 -0.5t1.5 1.1t0.9 1.9t1.1 1.8t0.2 2z"/><path d="M1097.5 1339.2q-0.9 1.5 -1.7 2.8t-1.5 2.5t-2.4 1.9t-3.7 0.8t-2.3 0.9t-0.7 1.6t-1.4 1t-2 0.1t-1.3 1.3t-1.1 1.7t-1.8 -0.1t-1.8 0.1t-1.9 1.8t-2.2 1.6t-2.2 -0.3t-2.4 -0.2t-2.6 0t-1.3 -2.1t0.4 -3.7t0.1 -2.7t-0.7 -1.6t0 -1.8t-0.7 -1.6t-3 -1.6t-3.2 -2.2t-0.9 -2.6t0 -2.8t0.5 -2.8t2.7 -1.4t4.4 0.5t3.2 0.2t1.7 -0.6t1.8 -0.1t1.6 -0.6t1.2 -2.1t1.6 -2.3t2 0t1.9 1.1t1.8 0.9t1.2 1.9t0.2 2.7t1.2 1.1t2.9 -0.7t2.9 0.1t2.7 0.9t3.7 1.3t3.1 2.1t-0.1 2.9z"/><path d="M1097.6 1392.9q-0.4 1.1 -1.8 1.9t-0.7 1.9t0.5 2t-1.2 1.4t-1.1 1.5t-0.1 2.4t-1 1.8t-1.9 0.6t-1.5 1.7t-1.6 1.7t-2.2 -0.8t-2.2 0.1t-2.1 1.2t-1.9 -0.9t-1.8 -1.3t-2.1 -0.3t-1.8 -1.1t-1 -2t-2 -1t-2.6 -0.8t-1 -2.1t-1.4 -2.1t-2 -2.1t0.5 -2.5t2 -2.3t1.6 -1.9t2.5 -1.2t3.7 0.1t1.9 -0.4t0.4 -1.4t1 -0.7t0.4 -2.2t0.1 -4t1.3 -2.8t2.1 -1.5t2.5 -1.7t2.6 -0.4t2 2.5t2 2t2 1t0.8 2.4t1 2.1t1.9 1.2t1 1.8t-0.1 2.3t0.8 1.9t0.4 1.9z"/><path d="M1122.4 1351.4q0.9 1 2.3 2.3t1.5 2.8t-1.2 2.5t-3.2 1.2t-2.7 0.9t-2 0.8t-2.2 -0.1t-2.1 -0.5t-1.6 1.2t-1.7 2.6t-2.1 0.7t-1.7 -1.6t-1.5 -1.7t-1.8 -0.7t-1.7 -1.1t-1 -1.9t-1.2 -1.8t-2.1 -1.5t-1.3 -2t0.9 -2.2t2 -1.8t0.8 -2t0.2 -2.2t1.1 -1.7t1.9 -1.2t1.5 -1.8t1.5 -2.1t2.3 -0.3t2.3 1.7t2 1.1t2 0t1.7 0.8t0.8 2.1t0.7 1.8t1.7 0.9t1.8 1t1 1.7t1.2 1.9z"/><path d="M1077.1 1363.7q-0.4 1.3 -1.7 2.2t-2.7 1.5t-2 1.2t0.4 2.1t1 3.1t-0.8 2.3t-1.9 1t-2 1.4t-2.2 0.9t-2.3 -1.2t-2 -1.4t-2 -0.1t-1.9 -0.6t-0.8 -2.2t-0.6 -2t-1.7 -0.7t-2.1 -0.8t-1.6 -1.5t-2.4 -1.8t-3 -2.3t-0.6 -2.8t2.7 -2.1t3.3 -1.2t2.1 -1.1t2.1 -0.8t2 -0.3t1.2 -1.8t1 -2.9t2 -1t2.1 2.1t1.7 2.1t1.5 0.4t1.4 0.8t1.6 0.7t3.5 -0.7t4.5 -0.5t2.3 1.8t-0.7 3.1t-1.5 2.9z"/><path d="M1113 1343.1q0.9 0.9 1.3 2t-0.2 2.1t-1.2 2t-1.4 1.6t-2 0.9t-2 0.5t-1.9 0.2t-2.1 1t-2.3 0.5t-1.8 -1.5t-0.9 -2.2t-1.1 -1.7t-2.5 -1.3t-2.1 -1.9t0.3 -2.5t2.5 -1.8t2.3 -1.2t1.1 -1.5t1.3 -1.2t1.7 -0.5t1.8 -0.3t2.1 -1.8t2.9 -2.2t2.7 0.6t0.8 3.2t-0.8 3.4t0.1 2t1.5 1.5z"/><path d="M1095.3 1415.6q-0.9 1.2 -1.4 2.1t-0.4 2t-0.1 2.3t-0.9 2.3t-2.1 1t-2.4 -0.3t-2.1 -0.7t-1.8 -1t-1.8 -0.7t-1.6 -1.1t-1.6 -1.6t-1.2 -2t0.1 -2.3t0.6 -2.3t1.2 -1.9t1.6 -1.8t2.1 -0.7t2.3 0.9t1.8 0.9t1.8 0t2.7 -0.6t2.9 0.4t1.2 2.2t-0.9 2.7z"/><path d="M1102.1 1337.4q-0.5 1 -1.2 1.8t-1.1 1.5t-0.7 1.5t0.6 2.6t0.7 3.4t-1.2 2.3t-2.6 0.4t-2.7 -1.1t-2.3 -0.3t-2.2 0.5t-2.1 -0.4t-1.5 -1.5t-0.8 -2.2t-1.4 -1.4t-2 -1t-1.2 -1.8t0.2 -2.1t1 -2t0.3 -1.9t0.1 -2t0.7 -2t1.2 -1.7t1.3 -2t1.5 -2.5t2.3 -1t2.5 1.7t1.7 3t1.3 1.7t2.2 -0.4t3.1 -0.7t2.7 0.6t0.8 2.3t-0.4 2.7t-0.7 2.2z"/><path d="M1079.9 1361.7q0 0.8 -0.3 1.6t0.2 1.7t2.1 2.5t2.2 3.2t0 3t-1.5 2.2t-1.8 2t-2.4 1t-3.4 -1.4t-3 -2.1t-2 -0.1t-1.6 1t-1.8 0.5t-2 0.4t-2.5 1.2t-2.6 0.5t-1.4 -2.1t-0.2 -3.1t-0.4 -2.2t-0.6 -1.8t0 -1.9t-0.6 -1.5t-2.8 -1.1t-3.4 -1.6t-1.4 -2.3t0.3 -2.5t0.5 -2.4t1.5 -2t3.3 -0.7t3.3 0t1.6 -1t0.8 -1.9t1.3 -1.3t1.6 -1.1t1.6 -2.3t2 -2.3t2.3 0.3t2.1 1.7t2.1 0.8t2.1 0.6t1.4 1.8t1.1 2t1.8 1.1t1.6 1.2t-0.1 2.3t-1.1 2.5t-0.1 1.8t0.4 1.6z"/></g><path d="M1133.9 1472.9q2.6 -0.1 3.3 -0.8t2.1 -0.4t2.6 0.1t2.1 -1.1t2.1 -1.1t2.3 -0.8t1.8 -1.9t1.8 -1.9t1.9 -1.6t1.7 -2.3t2.1 -1.5t2.8 -0.7t3.2 -0.3t2.1 1.9t0.8 2.9t1.2 2t0.7 2.4t0.3 2.7t1.5 1.7t1.1 2t0.3 2.3t1.3 1.4t1.6 1.4t0.5 2.1t0.6 2.4t1.7 2.6t1.3 2.6t-0.5 2.4t-0.9 2.4t0 2.5t-0.9 2.4t-1.6 2.3t-0.4 2.5t-0.6 2.4t-2.2 1.8t-2.3 1.5t-0.8 2.1t-0.8 2.2t-0.8 2.2t0.7 2.9t0.6 2.9t-0.9 2.1t-1.3 2t-0.4 2.4t-0.8 2.2t-1.5 1.8t-0.9 2t-0.9 1.9t-1.8 1.9t-1 2.4t0.6 2.5t-0.2 2.6t-0.9 2.6t0.8 2.1t1.1 1.4t-0.3 0.3t-1.5 -0.1t-2.7 0.7t-3 0.3t-2.2 -1.4t-1.9 -1.8t-2.5 -0.9t-2.3 -1.2t-1.3 -2.7t-0.8 -3t-0.9 -2.1t0.2 -1.8t0.8 -1.8t-0.4 -2.1t-0.3 -2.4t1 -2.1t0.7 -2.2t-1 -2.6t-0.5 -2.5t0.3 -2.3t-0.9 -2.3t-0.3 -1.9t0.4 -1.7t-0.7 -1.8t-0.4 -2.3t-0.2 -2.7t-1.2 -2.2t-0.3 -2.7t0.4 -3t-1 -2.2t-0.9 -2.1t-0.4 -2.1t-1.4 -1.8t-0.8 -2t-0.2 -2.3t-1.3 -2.5t-1.2 -2.5t0.5 -2.3t0.5 -2.3t-0.3 -2.8t2.4 -1.6z" fill="#55b056"/><g fill="#55b056"><path d="M1155.6 1488.6q0.5 1.2 -0.5 2.3t-1.5 2t-0.6 2.4t-1.1 2.2t-2.5 -0.2t-2.2 -2.4t-1.7 -0.4t-2.7 1.7t-2.7 -0.3t-0.2 -2.5t1.2 -2.5t-0.1 -1.9t-0.8 -2.3t0.5 -2.2t2 -1.2t2.2 -1.1t2.2 -0.4t1.9 1.4t0.7 2.5t1.2 1.2t2.8 0.3t2.1 1.6z"/><path d="M1159.5 1532.2q-0.9 1.1 -1.7 1.9t0.7 2.3t1.6 3.1t-1.5 1.8t-3 0.1t-2.3 0t-1.9 -0.1t-1.7 -0.7t-2.2 0.7t-2.6 0.9t-1.5 -1.6t-1.3 -2t-2.5 -1.6t-1.4 -2.3t1.9 -2.4t2.3 -1.8t1.3 -1.4t1.7 -0.9t1 -1.6t0.9 -2.9t1.9 -1.3t2.1 1.8t2.1 0.9t2.6 -0.7t2.2 1t1.3 2.1t0.8 2.2t-0.7 2.3z"/><path d="M1155.5 1532.2q0.1 1 0.5 2.1t-0.5 1.9t-2 0.9t-1.7 1.9t-2.1 1.9t-1.7 -2.1t-1 -2.7t-2.2 -1.1t-1 -1.9t1.6 -1.9t1.2 -2t1 -2.2t2.1 0t2.4 0.5t2.4 0.1t1.1 2t-0.1 2.5z"/><path d="M1169.3 1491.8q-0.7 1.2 -0.8 2.2t0.2 2.3t-0.3 2.3t-2 1.4t-2.1 0.9t-1.5 1.1t-1.9 0.2t-2.1 -1.2t-1.6 -0.2t-1.7 2.2t-2.4 1.8t-2.4 -0.2t-2.7 -0.5t-2.6 -0.9t-0.7 -2.7t1.4 -3.3t0.4 -2.4t-1.3 -1.9t-0.2 -2.1t1.2 -1.8t0.8 -2.1t0.8 -2.1t2.3 -0.5t2.6 0.8t1.6 -0.6t1.3 -2t1.8 -0.6t2 0.4t2.4 -0.4t2.5 0t1.5 1.8t1 2.1t1.7 1.6t1.5 2t-0.4 2.4z"/><path d="M1170.5 1524.7q-1.2 1.4 -1.9 2.4t-0.5 2.2t-0.3 2.2t-2 1.1t-1.9 1t-1.5 1t-2.1 -0.6t-1.8 -0.5t-1.9 2.1t-2.7 2.5t-2.4 -0.2t-1.9 -1.8t-1.2 -2.2t0.4 -2.8t0.7 -2.4t-1.8 -1.7t-2.6 -2.2t0.3 -2.4t1.9 -1.9t1.8 -1.5t2.4 -0.6t2.4 0.3t1.5 -1.3t1.5 -2.1t1.9 0.5t1.8 1.4t2 0.2t2.2 0.3t1.7 1.5t2.5 1.3t2.4 1.6t-0.7 2.6z"/><path d="M1154.2 1470.1q0 1.1 0.2 2.3t-0.6 2.2t-2.1 1t-2.1 0.3t-1.6 1.6t-2.2 1.9t-2.4 -0.6t-1.1 -2.5t-0.8 -2.2t-1 -1.8t0 -2.1t0.9 -1.9t0.9 -2.1t1.4 -1.8t2.2 -0.3t2.2 0.8t2.1 0.5t2.2 0.6t1.4 1.8t0.3 2.3z"/><path d="M1157.6 1480q1.4 0.7 1.8 1.9t-0.2 2.1t-1.5 1.6t-1.8 1.2t-1.5 1.7t-1.8 1.3t-2.2 -0.4t-1.9 -1.2t-1.7 -1t-2.4 -0.5t-2.1 -1.2t-0.3 -2.3t0.9 -2.3t1 -1.8t0.3 -2t0.7 -1.8t1.8 -0.9t1.9 -0.7t1.8 -1.2t2.5 -1.7t2.7 -0.2t1.3 2.7t-0.3 3.2t-0.3 2.1t1.4 1.5z"/><path d="M1163.9 1533.7q-1.6 1.3 -3.6 2t-1.7 1.6t0.7 2t0.2 2t-0.3 2.1t-0.1 3.1t-1.1 2.4t-2.8 -0.2t-2.8 -1.3t-2.1 -0.7t-1.7 -0.7t-1.4 -1.4t-1.7 0t-2.5 1.3t-2.3 0t-1.5 -1.4t-2.3 -1.1t-2.8 -1.2t-1.2 -2.2t-0.3 -2.5t-0.7 -2.6t0.3 -2.5t3 -1.7t3.1 -1t1.7 -1.1t1.5 -1t1.7 -0.4t0.8 -2t0.5 -3.2t1.8 -1.3t2.2 0.7t2.1 0.5t1.9 0.6t1.3 1.7t1.6 0.9t3.1 -0.7t3.6 -0.3t2 1.7t1.2 2.5t0.6 2.6t-1.7 2.7z"/></g><path d="M1115 1348.4q-1 -1.9 -0.5 -3.6t2.1 -1.8t2.9 -0.1t2.4 -0.5t2.5 0.3t2.7 1t2.3 -0.4t2.1 -0.5t2.2 0.9t2.2 0.6t2.6 -1t2.6 -0.6t2.6 -0.1t2.7 -1t2.6 -0.1t2.5 0.8t2.7 0.2t2.2 1.8t1.6 2.9t2 1.6t1.8 2t1.5 2.5t2.3 1t2.5 0.6t2.5 0.5t3.2 -0.8t2.9 -0.8t2.1 0.7t2 1.3t2.3 0.5t2.3 1.2t2.2 1.7t2.4 0.9t2.2 1.5t2 1.9t2.3 0.3t2.5 -0.1t2.1 1.1t2.4 0.9t3.2 -0.1t2.6 0.7t1.9 1.7t2.2 1.5t1.5 2.1t0.8 2.6t1.1 2.2t-0.5 2.5t-1.6 2.8t0.2 2.3t1.1 2t0.5 2.1t0.8 2.1t1.9 2.4t1.3 2.7t-0.5 2.5t-0.7 2.4t0.1 2.6t-1.4 2.1t-2.4 1.8t-1 2.2t-1.6 2.1t-2.5 2t-0.7 2.4t0.7 2.6t0.5 2.6t1.6 2.2t3 1.7t1.7 2t0.3 2.5t1 2.3t0.8 2.3t-0.7 2.8t-0.6 2.8t0.7 2.3t0.3 2.7t0.4 2.7t2.1 1.6t1.8 1.7t0.7 2.1t1.4 2t1.3 2.4t-0.2 2.4t-0.5 2.3t0 2.2t-1.1 1.9t-1.6 2t-0.2 2.3t-0.7 2.6t-1.1 2.7t0.7 2.3t1.2 2.1t0.1 2.2t0.3 2.3t1.4 2.6t0.5 2.5t-0.5 2.2t0.4 2.5t-0.2 2.4t-2.5 1.7t-3.3 1.1t-2.2 1.4t-1.8 1.6t-2.2 1.4t-1.6 2t0 2.9t0.5 3t-0.3 2.4t-0.3 2.3t0.6 2.5t0 2.2t-0.5 2t0.3 2t-0.9 2.2t-1.6 2.3t-0.2 2.1t-0.8 1t-1.4 0t-1.1 1t-1.9 1t-2.4 0.4t-2.3 1.5t-2.4 1.2t-2.4 0.9t-2.6 1.4t-2.7 -0.6t-2.3 -2.7t-2.1 -2.1t-2 -1.7t-1.4 -2.4t-1.3 -1.7t-2.2 -0.6t-2.2 -1.2t-0.9 -2.2t-1 -2.3t-2.6 -1.8t-2.4 -1.8t-0.3 -2.5t0.1 -2.7t-0.8 -2.5t0.6 -2.7t1.7 -2.6t0.6 -2.3t1.4 -2.1t2 -2t-0.1 -2.6t-0.8 -2.8t0.5 -2.4t0.6 -2.4t-0.6 -2.8t-0.5 -2.7t1.2 -2.2t1.9 -1.9t1.3 -2.1t1.5 -2t2.4 -1.7t1.6 -2t0 -2.6t0.7 -2.4t0.6 -2.3t-1.9 -1.6t-2.2 -1.1t-1.7 -1.2t-2.5 -0.6t-2.1 -1.1t-1.7 -1.7t-2.1 -1.1t-1.2 -2.3t-0.4 -3.2t-1.2 -2.2t-1.2 -2t-0.8 -2.1t-1.7 -1.3t-1.7 -1.6t-1.7 -2t-2.9 -1.6t-2.6 -1.7t-0.8 -2.3t-0.3 -2.3t-1.2 -1.4t-1.1 -1.3t-0.6 -2.6t-1.1 -2.9t-2 -1.5t-2.2 -0.9t-2 -1.4t-2.2 -0.8t-2.8 0.6t-2.6 0.3t-2.5 0.3t-2.6 1.5t-2.2 0t-2.1 -1.5t-2.4 -0.7t-2.2 -1.5t-1.6 -2.7t-1.7 -1.9t-1.6 -1.9t-1.9 -1.6t-2.7 -0.2t-2.3 -0.6t-2.2 -1.1t-3.2 -0.8t-2 -1.9t-0.5 -2.6t-1.5 -2.2t-1.1 -2.3t1.1 -2.8t1.5 -2.9t0.3 -2.6t0.5 -2.4t0.7 -2t-0.5 -1.9t0.4 -1.8t1.4 -1.7t0.5 -2.5t0.5 -2.6t1.1 -2.1t0.6 -2.3t0.7 -1.9t1.8 -1.4t1.8 -1.8t1 -2.3t1.5 -2.3t1.7 -2.3t0.4 -2.4t0.1 -2.4t-0.1 -2.3t-1.4 -3z" fill="#3a9d3e"/><g fill="#3a9d3e"><path d="M1136.7 1352.6q1.6 1 2.1 2.5t-0.7 2.5t-3.3 0.9t-2.8 0.3t-1.5 0.9t-1.6 0.8t-1.8 0.3t-2.3 0.4t-2.3 -0.3t-1.3 -2t-0.7 -2.2t-1.7 -2.1t-1.1 -2.4t2.1 -1.9t3.1 -0.5t1.3 -1.5t0.6 -2.8t1.9 -1t2.1 1.4t1.9 1.1t2 0.4t1.4 1.4t0.7 1.9t1.8 1.9z"/><path d="M1179.5 1391.9q0.2 1.4 -1.3 2.5t-3.3 1.6t-2 1.4t-0.6 1.7t-1.1 1.4t-1.6 1t-1.6 1.6t-1.8 1.1t-2.1 -0.7t-1.8 -1.1t-2.3 0t-2.5 -0.1t-1.1 -1.9t0.4 -2.6t-0.7 -2t-1.9 -1.7t-1.1 -2.2t0.1 -2.4t0.5 -2.5t1.7 -1.8t3.3 0.3t2.8 1.1t1.4 -1.2t1.3 -2.5t2 -0.7t1.9 1t1.8 1t1.8 0.9t1.4 1.5t1.6 1.4t2.9 1.4t2.1 2.2z"/><path d="M1201 1391.8q-0.7 1.3 -0.9 2.3t-1 1.7t-1.5 1.2t-1.3 1.2t-1.5 1.6t-2 0.8t-2 -0.9t-1.6 -1.4t-1.9 -1.2t-1.7 -1.7t0.1 -2.3t1.4 -1.9t1.2 -1.7t0.8 -2.1t1.6 -1t2.1 0.6t1.7 0.9t2.3 -0.4t2.8 -0.2t1.7 1.9t-0.2 2.5z"/><path d="M1189.3 1390.1q-0.3 1 -1 1.8t-0.5 1.8t1.6 2.6t1.8 3.4t-0.7 2.6t-2.2 1.5t-2.5 1.1t-2.9 -0.4t-3 -2.5t-2.1 -1.6t-1.5 0.8t-1.7 1.4t-1.9 0.5t-2.5 0.7t-3 0.6t-1.9 -1.2t-0.2 -2.8t-0.7 -2.4t-1.6 -1.5t-0.2 -2t0.8 -2.2t-0.2 -2.1t-0.4 -2.1t1.4 -1.6t1.7 -1.4t0.3 -2.2t0.1 -2.8t1.4 -1.8t1.9 -1.5t1.9 -1.6t2.4 -0.1t2.3 2.7t1.8 2.5t1.6 0.5t1.6 0.4t1.5 0.8t2.7 -0.3t3.5 -0.4t1.7 1.7t-0.7 2.8t-0.7 2.4t-0.1 2z"/><path d="M1210.2 1529.4q-1.2 1.4 -1.7 2.3t-0.3 2.1t-0.5 2t-2.2 0.7t-1.9 0.8t-1.3 1.4t-1.8 -0.1t-1.9 -0.1t-2.4 1.2t-2.4 0.1t-0.9 -2.3t-1.1 -2.1t-1.8 -1.5t-0.4 -2.1t0.3 -2.2t-0.3 -2.4t0.9 -2t2.7 -0.5t2 -1t1.3 -1.5t1.9 0.6t1.7 1.1t1.9 -0.5t2.4 -0.7t1.8 0.9t2.4 1.3t2.2 1.7t-0.8 2.6z"/><path d="M1125.4 1403q-1.1 1.3 -2.5 2t-1.2 1.4t0.3 2t-0.3 2.2t-1.4 1.7t-2.1 0.8t-2.4 0.7t-2.5 0.2t-2 -1.4t-1.2 -2.2t-0.4 -2.3t-0.7 -1.9t-0.7 -1.9t0.6 -1.9t1.2 -1.6t1.1 -1.5t0.9 -2.3t1.4 -2t2.3 -0.1t2.1 1.2t1.7 1.5t2.5 0.2t3 0.3t1.3 2.2t-1.2 2.7z"/><path d="M1144.7 1376.5q-1 1.1 0 2.1t1.6 2.4t-0.2 2.4t-2 1.5t-2 1.5t-1.8 1.3t-2.3 -0.4t-2.1 -0.7t-2.1 0.6t-2.2 0.1t-1.3 -1.8t-1.1 -1.8t-1.8 -1.1t-1.1 -1.7t0.7 -2.1t-0.1 -2.1t-1.3 -2.4t0.1 -2.5t1.4 -2t1.5 -2.1t2 -1.4t2.9 1.4t2.2 2.5t1.7 0.3t2 -0.9t1.9 0.4t2.1 1t2.1 1.2t0.5 2.2t-1.4 2.4z"/><path d="M1176.9 1389.3q-1.4 1.3 -1.6 2.3t-0.7 1.8t-1.2 1.5t-1.4 1.2t-0.5 2.3t-0.8 2.8t-2.3 0.1t-2.3 -1.6t-1.9 -0.4t-2 0t-1.7 -1t-2 -0.9t-2.6 -0.9t-1.4 -2t0.9 -2.5t0.6 -2.3t-0.4 -2.3t1.2 -1.8t2.6 -0.6t1.8 -1.1t1.2 -1.5t1.8 -0.2t1.9 0.1t2.1 -0.8t2.3 -0.6t1.7 1.3t1.8 1.4t2.7 1t1.5 2.1t-1.3 2.7z"/><path d="M1219.1 1470.4q-0.3 1.2 -0.6 2.2t-1.3 1.9t-2.4 1.2t-1.5 1.3t0 2.1t-0.3 2.2t-1.5 1.2t-1.8 0.8t-1.5 1.4t-1.7 0.9t-2 -0.6t-2 -0.4t-2.2 1.4t-2.6 1.3t-2.4 -0.4t-2 -1.4t-2.1 -1.3t-1.5 -1.7t0.4 -3t1.4 -2.9t0 -1.9t-1.4 -1.4t-0.9 -1.8t-0.6 -2t-1.6 -2.6t-1.4 -3.1t1.1 -2.3t3 -0.8t2.7 -0.7t2 -0.8t2.5 0.5t2.4 1.4t1.7 -0.1t1.4 -1.7t1.7 -0.6t1.6 0.9t2 0t2.6 -0.9t2.4 0.2t1.6 1.4t2.1 1.5t2.9 1.2t1.5 2.1t-0.8 2.8t-1.2 2.7z"/><path d="M1157.2 1368.8q-0.2 1 0 2t0.9 2.3t0.4 2.5t-1.8 1.6t-3 0.2t-2 0.5t-1.2 1.5t-1.8 0.6t-1.8 -1t-1.8 -0.4t-2.2 1t-2.5 0.4t-2.3 -0.8t-2.3 -1.2t-2.4 -1.6t-0.6 -2.6t2.2 -2.8t3.2 -1.9t1.1 -1.5t-0.7 -1.9t-0.2 -2.1t1.1 -1.6t1.3 -1.9t1.6 -1.6t2.3 0.3t2 1.5t2 0.1t2.6 -1.7t2.8 -0.5t1.5 2t0.5 2.7t0.7 2.1t0.6 1.9t0 2z"/><path d="M1144.1 1407.1q0 1.1 -0.6 2.1t0.2 2.4t0.4 2.9t-1.8 1.7t-3 -0.6t-2.4 -0.7t-1.9 0.8t-2 0.3t-1.4 -1.4t-1.2 -1.6t-2.3 -0.9t-2.3 -1.5t0.2 -2.4t2.2 -1.9t1.3 -1.7t0.2 -2.2t0.9 -2.2t2 -1.2t2.4 -0.6t2.2 0.7t1.5 2.2t0.6 2.2t1.6 1t2.4 0.7t0.8 1.8z"/><path d="M1199.4 1491.5q1.4 0.9 1.2 2.1t-1.6 1.9t-2.8 0.8t-1.3 1.2t-0.1 2.9t-1.2 2.7t-2.4 0.3t-2.2 -1.9t-2 -1t-2.5 0.4t-2.4 -0.8t-0.9 -2.3t0.8 -2.7t0.5 -2.1t-0.3 -1.7t-0.1 -1.9t0.7 -1.7t1 -1.8t1 -2.1t1.7 -1.8t2.3 -1t2.4 0.6t2.3 1t1.8 1.3t0.7 2.3t0.2 2.1t1 1.5t2.3 1.5z"/><path d="M1200.6 1485q0.1 1 0.8 2.1t1 2.6t-0.6 2.5t-2.5 0.9t-2.8 0t-2 0.1t-1.8 0.3t-1.8 0.4t-2 0.1t-2.4 0t-2 -0.9t-0.9 -2.2t-0.5 -2.1t-1.5 -2t-2.1 -2.5t0.2 -2.7t3.3 -1.2t4 0.8t1.9 -0.2t0.5 -2.6t1.4 -2.5t2.2 -0.5t1.9 1.5t1.9 1.1t2.2 0.6t1.6 1.6t0.1 2.3t-0.3 2.3z"/><path d="M1212.9 1457.1q-0.1 0.8 -0.2 1.6t0 1.6t1.5 2.5t2.3 3.6t0.4 3.4t-1.9 2.1t-3.4 0t-3.2 -0.7t-2.3 -0.3t-2.2 -0.4t-2 -0.5t-1.8 -0.6t-2.1 0.1t-2.3 0.1t-1.4 -1.5t0 -2.8t1.2 -2.8t-0.1 -1.6t-2.3 -0.8t-2.8 -1.4t-2 -2.1t-0.4 -2.4t0.2 -2.5t0.6 -2.6t2.1 -1.7t2.9 -0.3t2.9 0.6t2 -0.5t1.4 -1.7t1.9 -1.4t2.1 -0.1t1.9 1.4t2 0.8t2.4 -0.2t2.1 0.8t1 2t-0.4 2.7t-0.3 2.3t0.4 1.6t0 1.6z"/><path d="M1194.3 1518.5q0.7 0.8 1.3 2t0.1 2.3t-1.6 1.7t-2.3 0.7t-1.9 0.7t-1.5 1.8t-2 1.6t-2.2 -0.4t-1.5 -2t-1 -2.1t-1.9 -1t-2.2 -1.1t-0.4 -2.2t1.5 -2.1t2.1 -1.2t0.4 -1.8t-0.5 -3.1t1 -2.6t2.3 -0.8t2.5 1.4t2 1.4t1.9 0.4t1.7 0.9t1.1 1.6t0.4 1.9t0.8 1.8z"/><path d="M1197.9 1508q0.4 1.1 0.5 2.3t-0.3 2.3t-2 1.5t-3.1 0.2t-1.6 0.9t-0.2 3.2t-1.2 3.4t-2.4 0.5t-2.5 -1.4t-1.9 -1.7t-1.1 -2.2t-0.4 -2.2t-1.7 -0.9t-2.8 -0.6t-0.8 -1.9t1.6 -2.1t0.6 -1.9t-0.9 -2.2t0.3 -2.2t1.5 -1.5t1.5 -2t1.7 -1.8t2.4 0.1t2.3 1t2.2 0.1t2 0.5t0.7 2.5t0 2.6t1.4 1t2.7 0.8t1.7 1.8z"/><path d="M1196.2 1494q0.5 1.3 -0.5 2.4t-2.8 1.4t-2.3 0.8t-0.3 2.2t-0.5 3.1t-2.1 1.1t-2.2 -1.9t-1.6 -2t-2.3 0.1t-3.2 0t-1.9 -1.8t1 -2.8t1.5 -2.3t0.4 -1.9t0.8 -1.8t1.6 -1t2 -0.2t1.7 -1.2t2 -1.9t2.4 -0.1t1.6 1.9t0.9 2.3t1.8 1.7t1.8 1.9z"/><path d="M1197 1499.2q0 0.9 0.4 1.9t-0.3 1.9t-1.5 1.3t-1.4 2.4t-2.1 1.9t-2 -2.1t-0.8 -2.9t-1.9 -1t-2 -1.3t1 -2t1.2 -2t0.3 -2.5t1.7 -1.2t2.4 0.9t2.4 0.1t2.4 0.1t0.6 2.3t-0.4 2.4z"/><path d="M1200.2 1381.6q-0.2 1 -1 1.9t-1.7 1.6t-0.6 1.8t0.3 2t-0.7 1.6t-1.6 0.9t-1.9 0.5t-1.1 1.5t-0.6 2.4t-1.3 2t-1.9 1.3t-2.1 0.7t-2.3 1.5t-2.6 1.4t-2.6 -0.3t-2.1 -1.7t-1.5 -2.3t-1.8 -1.7t-1.8 -1.6t-0.8 -2.4t0.3 -2.7t0.7 -2.4t-0.2 -1.8t-0.3 -1.7t0.6 -1.7t1.4 -1.5t0.7 -1.4t-1 -2t-1.2 -2.6t-0.2 -2.5t0.9 -2.1t1.2 -2.3t1.2 -2.5t1.9 -1.3t2.6 0.1t2.7 1.5t2.2 1.5t2 -0.1t2 -0.4t1.9 0.6t1.7 1.2t2.2 0.5t2.8 -0.2t2.3 0.9t1 2.3t-0.5 2.8t0 2.4t0.8 1.8t0 2.1z"/><path d="M1181.8 1391.9q-0.4 1.2 -0.2 2.4t-0.5 2.2t-1.9 1.5t-2.2 0.8t-1.7 0.9t-1.2 2.1t-1.6 2.1t-2.2 -0.2t-1.7 -2.3t-1 -2.1t-1.9 -0.3t-2.8 0t-2 -1.3t-0.1 -2.3t0.7 -2.3t-0.2 -2.2t-0.4 -2.5t0.8 -2.2t2.2 -1.2t2.4 -0.5t2 -0.5t2 -0.1t1.8 0.8t1.3 1.6t1.5 0.8t2.4 -0.1t2.5 0.6t1.7 1.7t0.2 2.4z"/><path d="M1211.3 1520q0.6 1.1 0.8 2.4t-1.1 2.2t-3 1t-2.5 0.6t-0.6 2t-0.4 2.7t-1.6 1.6t-2.3 0.2t-2.3 -0.1t-2 -0.6t-1.4 -2t-1 -1.8t-2.1 -0.4t-2.8 -0.4t-1.5 -1.7t0.1 -2.3t-0.6 -2.3t-1.1 -2.5t0.7 -2.3t2.5 -1.3t2.2 -1.1t1.6 -1.1t2.1 -0.1t2 0.7t1.7 -0.9t2 -2.4t2.4 -0.5t1.5 1.9t1.3 1.9t1.9 1t1.8 1.4t0.9 2t0.8 2.3z"/><path d="M1180.2 1410.6q0.4 1.1 -0.1 2.3t-1.4 2t-2 1.5t-0.3 2.2t0.8 3t-0.7 2.4t-2.3 1t-2.6 0.5t-2.3 0.3t-2.4 -1.4t-2 -2.5t-1.4 -1.9t-1.5 0.4t-2.1 1.4t-2.2 0.5t-2 -0.4t-2.7 -0.2t-2.7 -0.8t-1 -2.3t0.7 -2.6t0.1 -2.3t-1.2 -2.1t-0.4 -2.3t1.1 -2t1.3 -1.9t0.7 -2.1t1.2 -1.8t2.3 -0.7t2.4 0t1.7 -1t1.5 -1.6t2 -0.3t2 1.4t1.8 0.9t1.8 0.1t1.5 0.9t1 1.6t1.6 0.9t3 -0.1t2.9 0.6t1.4 1.9t0.1 2.4t0.3 2.3z"/><path d="M1218.3 1462.7q-0.9 0.9 0.1 1.8t2.3 2.5t1.3 3.2t-1.5 2t-3.4 -0.4t-2.9 -0.9t-1.7 0.4t-1.7 1.1t-1.9 0.4t-1.5 -1.2t-1.3 -1.5t-1.8 -0.7t-2.2 -0.8t-2 -1.6t-0.8 -2.3t0 -2.5t0.4 -2.4t1.5 -1.9t2.2 -1.2t2.4 -0.2t1.9 -0.3t1.5 -1t1.7 -0.6t1.8 0.1t1.9 0.3t2.5 0t2.8 0.4t1.3 1.9t-0.9 2.8t-1.8 2.3z"/><path d="M1217 1406.9q0.1 1 -0.5 1.9t-1.6 1.7t-0.4 1.9t0.8 2.3t-0.2 2.2t-1.3 1.8t-1.2 1.9t-1 2.4t-1.9 1.5t-2.7 -0.7t-2.6 -1.9t-2 -1.2t-1.6 -0.4t-1.5 -0.7t-1.3 -1t-2.2 0.7t-3.3 2t-3.2 0.7t-2.1 -1.3t-1.6 -2t-1.6 -2.1t-0.5 -2.5t1.2 -2.7t1.9 -2.4t0.4 -2t-0.6 -2.1t0.4 -2t1.7 -1.4t1.2 -1.7t0.6 -1.8t1.6 -1.1t2.4 0.2t2 0.3t1.2 -1.4t1.3 -2t1.8 -1.3t2 -0.3t2.4 -1t2.7 -1.4t2.3 0.8t1.3 2.7t1.2 2.3t1.7 1.3t1.2 1.7t0.1 2.3t-0.1 2.3t0.9 1.8t1 1.8z"/><path d="M1213.1 1396.4q0 1 -0.7 1.9t-1.8 1.5t-1 1.4t0.5 2.2t-0.1 2.2t-1.6 1t-1.2 1.7t-0.8 2.6t-2 1t-2.2 -0.1t-2.1 1.1t-2.2 0.4t-1.8 -2.2t-1.7 -1.5t-1.9 -0.4t-1.4 -1.5t-1.1 -1.8t-2.6 -0.6t-3.2 -0.7t-1.3 -2.2t-0.4 -2.6t-0.2 -2.5t1.9 -2.2t3.8 -1.2t2.2 -1.1t0.4 -1.6t0.9 -1.3t0.6 -1.9t0.1 -3.4t1.1 -2.5t2.4 0.4t2.4 0.7t2 0.2t1.7 1.4t1.5 1.5t2.3 -0.5t3.1 -1.2t2.5 0.6t2.6 1.2t2.6 1.5t0.3 2.8t-2.1 3.1t-1.4 2.5z"/><path d="M1218.1 1444.2q-0.7 1.1 0.3 2.5t0 2t-2.5 0.3t-2 1.2t-2.2 2.1t-1.9 -1.3t-0.8 -2.7t-1.5 -1.9t-0.1 -2t1.7 -1.7t1.2 -2t1.6 -1.3t2.2 0.8t2.5 0.4t1.9 1t-0.4 2.6z"/><path d="M1213.6 1454.9q-1.2 1.1 -1 2t0.4 2t0 2.2t-1.3 1.5t-2.1 0.7t-1.9 0.5t-1.8 0.6t-1.9 0.4t-2 -0.1t-2.5 0t-2.7 -0.5t-1.7 -1.8t-0.5 -2.5t0.5 -2.5t0.4 -2.2t1 -1.7t2.4 -0.7t2 -0.2t0.6 -1.7t0.2 -3.9t1.7 -3.1t2.6 0.5t1.7 3.1t1.4 2t2.5 0.2t2.6 0.9t0.8 2.2t-1.4 2.5z"/><path d="M1191.8 1389q0.4 0.9 1 2t-0.1 2.1t-2.2 1.1t-1.6 1.3t-0.5 2.3t-1.2 1.9t-1.9 1.6t-2.5 1.8t-2.6 0.2t-1.5 -3.3t-0.1 -3.9t-0.9 -1.5t-1.9 -0.6t-1.4 -1.3t-1.3 -1.8t-1.4 -2.2t0.4 -2.2t2.1 -1.4t1.2 -2t0.6 -2.7t2.2 -0.8t2.7 1.3t2.1 0.3t2 -0.6t1.9 0.5t2 0.8t2.4 0.7t1.6 1.6t-0.5 2.6t-0.3 2.2z"/><path d="M1197.5 1380.8q0.3 1.1 -0.2 2.1t-1.5 1.7t-1.3 1.6t-0.1 2.4t-0.4 2.8t-1.7 2t-2.6 -0.3t-2.4 -2.2t-1.7 -1.6t-1.6 -0.3t-2.1 0.2t-2.5 0.2t-2.4 -0.8t-2.1 -1.8t-0.8 -2.4t1.1 -2.5t1.9 -2t1.7 -1.5t0.4 -2t0.3 -2.3t1.7 -1.3t2.3 0.1t2.1 0.9t1.8 -0.6t2.3 -1.9t2.7 -0.5t1.9 1.5t0.4 2.7t0.4 2.3t1.4 1.6t1.1 1.9z"/><path d="M1124.4 1407.4q1 0.8 2.3 2t1.5 2.6t-0.7 2.4t-2.4 1.2t-2.1 1.3t-1.5 1.9t-2.2 0.7t-2.4 -1.2t-1.8 -2.3t-1.5 -0.9t-1.9 0.8t-2.5 0.8t-2.5 -0.2t-2.4 -1.2t-1.9 -1.9t-0.1 -2.6t1.9 -2.5t2.3 -1.7t0.3 -2t-1.3 -3t0.1 -2.9t2.2 -1.2t3.2 1.2t2.4 1t1.6 -0.6t1.9 -1t2.2 -0.5t2.2 0.5t2.1 0.9t1.3 1.7t-0.1 2.6t-0.8 2.3t0.6 1.8z"/></g></g><path d="M1170.3 1243.4q1.1 1.1 2.2 0.3t2.3 -0.7t2.6 -0.2t2.9 -0.9t2.7 -0.1t2.6 0.9t2.9 0.9t1.6 2.4t0.1 3.2t0.7 2.5t0.5 2.4t-1.1 2.6t-1.3 2.3t0.5 2.3t1.5 2.3t1.4 1.9t2.1 0.9t2.9 -0.2t2.5 0.7t1.8 2t1.8 2.1t0.4 2.6t-0.3 2.7t0.7 2.2t-0.6 2.3t-1.6 2t0 1.7t0.3 2t-1.2 1.7t-1.3 1.7t-0.4 2.7t-0.7 2.8t-1.9 1.5t-2.1 1.3t-1.5 1.7t-2.2 0.5t-2.8 0.1t-1.7 1.5t-1.4 1.9t-2.4 1.5t-1.6 2.5t1.7 2t2.9 -0.4t2.1 -0.8t2.4 -1.1t3.1 -1.5t2.8 0.6t1.9 2.2t1.9 1.4t1.8 1.8t1.7 2.4t2.1 1.5t1.7 1.6t1.1 1.4t1.8 0.3t2 1t0.9 2.1t1.2 2t2.6 1t2.2 1.2t1.4 1.9t2 1.8t1.4 2.3t-0.6 3.1t-1 3t0.5 2.5t0.6 2.4t-1 2.4t-0.8 2.2t0.8 2.4t0.4 2.6t-0.1 2.6t1 2.9t0.2 2.6t-0.8 2.3t-0.2 2.4t-1.2 2.3t-2.3 2.1t-1.5 2.2t-1.2 2.3t-1.9 2.1t-1 2.3t0.6 2.8t0 2.6t-0.4 2.5t1.1 2.8t0.5 2.4t-0.3 1.7t0.7 1.5t-0.1 1.8t-1.1 2.3t-0.3 2.3t-0.3 2.3t-1.4 2.3t-1.2 2t0 2.1t-0.2 2.3t-0.2 2.5t1.3 2.7t1.1 2.5t0.9 2.3t1.9 2.2t0.4 2.3t-0.9 2.4t0.1 2.1t-0.3 2.6t-0.9 3.2t0.6 2.8t1.3 2.3t0.9 2.5t1.5 2t2.8 1.2t2.3 1.4t1.7 1.9t2.2 2.4t1.1 2.8t-1.3 2.4t-1.9 1.9t-1 2t-1.6 2t-1.8 2.2t-0.1 2.5t-0.2 2.6t0 2.5t1.8 2.2t1.2 2.2t0.4 2.4t1.7 2.7t1.4 2.7t-0.9 2.2t-1.5 2t-0.2 2.3t-0.7 2.3t-2.8 1.5t-3.1 1.1t-1.7 1.6t-1.8 1.6t-1.7 1.8t-0.1 2.9t0.3 3t-0.6 2.3t-0.1 2.3t1.4 2.7t-0.1 2.3t-1.4 1.8t-0.1 1.9t-1 2.1t-2.2 2.3t-0.8 2.3t-0.8 1.8t-1 1.1t0 1t-0.6 1.2t-1.3 1.9t-0.9 3.2t-1.4 2t-2.1 0.7t-1.7 1.6t-2.1 1.4t-2.7 0.9t-2.4 1.2t-2.7 0.3t-2.7 -0.6t-2.2 0.3t-2.2 0.7t-2.5 -0.1t-2.5 0.5t-2.1 2.1t-1.9 2t-1.9 1.8t-1.7 2.6t-2.5 1.9t-3 -0.8t-2.3 -2.2t-1.8 -1.8t-1.3 -2.3t-1.2 -2.5t-1.9 -1.4t-1.9 -1.5t-1.9 -1.6t-2.8 -0.4t-3.1 -0.1t-2.5 -0.9t-2.6 -0.9t-3.1 -0.6t-1.9 -2t-0.9 -2.7t-1.4 -2.1t0 -2.7t1.1 -3.2t-0.5 -2.4t-0.7 -2.5t-0.7 -2.6t-2.3 -1.3t-2.9 -0.7t-2.1 -1.3t-2.1 -1.2t-2.8 -0.2t-2.5 -0.4t-1.4 -1.8t-1.3 -2.1t-1.8 -1.5t-1.3 -2.3t-0.9 -2.8t-1.6 -1.6t-1.4 -1.7t-1.3 -1.5t-2.3 -0.4t-1 -1t0.7 -1.9t0 -2.7t-0.1 -2.6t1.1 -1.4t1.2 -1.2t0.4 -1.8t1.1 -2.1t1.7 -2.4t0.4 -2.5t0.2 -2.8t-0.5 -2.7t-2.3 -1.9t-1.7 -2t-0.7 -2.4t-1.7 -2.3t-1.4 -2.5t-0.6 -2.7t-1.1 -3t0.3 -3.1t2.8 -1.6t3.2 0.3t2.3 0.3t1.7 0.6t0.7 1.9t0.8 2t2.3 0.9t2.4 0.1t1.3 -0.3t0.2 -1.4t-1.3 -2.5t-1 -2.5t0.9 -2t1.5 -1.9t0.5 -2.1t1 -2.3t1 -2.3t-0.4 -2.2t0.5 -2.3t0.9 -2.4t-1.3 -2.3t-2 -2.2t-0.5 -2.4t-0.7 -2t-1.7 -0.1t-0.6 0.3t-0.4 -0.5t-1.8 0.5t-2.4 0.4t-2.7 -1.5t-2.6 -1.9t-2.3 -0.5t-2.4 -0.1t-2.3 -1.1t-2.4 -0.4t-2.6 1.5t-2.6 1.6t-2.4 0t-2.4 0.1t-2.6 1.2t-2.3 -0.5t-1.8 -2.6t-1.9 -2.1t-1.8 -1.9t-1.1 -2.8t-1.3 -2.3t-2.3 -0.9t-2.2 -0.9t-1.1 -1.9t-1 -2t-2.3 -1.2t-2.7 -0.9t-1.7 -1.6t-1.5 -1.8t-2 -1.5t-1.7 -2t-0.3 -3t-0.1 -2.8t-1.1 -2t-1.1 -2t0 -2.6t-0.3 -2.4t-1.9 -1.8t-1.9 -1.9t-1.7 -2t-2.6 -2.2t-0.9 -2.6t0.8 -2.7t0.1 -2.6t0.7 -2.2t2.7 -1.3t3.2 -1.2t1.9 -1.8t1.6 -2.1t1.6 -2.2t0.2 -2.6t-0.4 -2.8t0.1 -2.5t0.2 -2.6t-0.1 -3t0.6 -2.7t1.9 -1.5t2 -1.1t1.4 -1.7t1.8 -1.3t3.1 -0.2t3.1 -0.5t1.6 -1.9t1.1 -2.2t1.7 -1.6t1.5 -1.7t0.6 -2.7t0.7 -2.8t1.7 -1.7t1.9 -1.4t1.9 -2t2.6 -1t2.6 1.6t1.9 2.4t2 1.5t2 1.5t1.7 2.5t2.3 1.4t2.5 -1.1t2.2 -1.3t2.1 -0.8t1.7 -1.9t1.6 -1.7t1.4 -1.4t0.8 -1.9t1.5 -1.2t2.1 -1t0.6 -1.9t0.2 -2.3t1.4 -2.4t1.2 -1.9t-0.2 -1.7t0.2 -1.7t0.8 -1.9t-0.2 -2.9t-0.2 -3t1.3 -2t1.5 -2t1 -2.6t2.3 -1.1t3.2 0.6t2.1 -0.3t1.1 -1.6t0.9 -2.4t-0.2 -2.1t-1.6 -1.4t-0.9 -1.5t-0.1 -1.9t-0.6 -2.6t0.5 -2.8t2.3 -1.3t2.6 -0.6t2.3 -1t2.4 0.3t2.7 1.6t2.6 0.6t2.5 0.1t2.8 0.6t2.6 -0.5t1.7 -2.3t1.7 -2t1.6 -1.7t-0.2 -2.5t-1.1 -2.1t-0.1 -1.6t-0.2 -2t-1.2 -2.4t0.7 -2.6t2.9 -2t2.2 -1.5t1.6 -1.3t2.1 -0.5t1.7 -0.5t1.2 -1.6t1.5 -2t2 -1.2t2.2 0.8z" fill="none" stroke="#1b5221" stroke-width="0.85"/><ellipse cx="1167.6" cy="1257.3" rx="2.3" ry="1.7" fill="#fff" stroke="#1b5a22" stroke-width="0.7"/><ellipse cx="1182.3" cy="1263" rx="1.5" ry="1.4" fill="#e6f3e6" stroke="#1b5a22" stroke-width="0.6"/>
<path d="M1240.4 1432.7q0.7 -5 1.8 -7.2t2.9 -4t3.6 -3.5t3.9 -3.1t4 -3t3.7 -3.3t3.7 -3.3t3.5 -3.5t2.2 -4.4t0.6 -2.4M1296.1 1409.7q0.6 -5 -1.7 -6t-4.8 -0.7t-5 0.5t-5 0.6t-4.3 2.1t-3.5 3.6t-3.1 3.9t-2.8 4.1t-2.8 4.1t-3.5 3.5t-2 1.5M1251.5 1424.1q1.5 4.8 3 6.8t3.1 3.9t3.3 3.7t3.1 3.9t2.7 4.2t2.5 4.3t2.3 4.4t2.4 4.4t3.2 3.8t3.5 3.6t1.7 1.8M1248.9 1427.9q-4.7 1.7 -7.2 1.7t-4.8 -1t-4.5 -2.1t-3.7 -3.2t-2.1 -4.4t-0.2 -4.9t1.9 -4.5t4 -1.9t5 0.5t4.9 1t4.9 1.2t4.8 1.3t4.4 2.3t2 1.5M1282.2 1509.8q-4.7 1.6 -7.1 2.4t-4.8 1.5t-4.7 1.7t-4.5 2.1t-4.3 2.6t-4.3 2.5t-2.2 1.1M1240 1454.5q2.4 -4.4 2.6 -6.9t-0.3 -4.9t-1.5 -4.7t-2.1 -4.5t-2.8 -4.1t-4.1 -2t-3.6 2.2t0 4.5t3 3.8t1.9 1.6M1297.9 1428.1q-1.6 4.7 -2.6 7t-2.2 4.5t-2.7 4.2t-3.2 3.8t-4 2.8t-4.8 1.2t-2.5 0.2M1265 1477.1q1.4 -4.8 2.4 -7.1t2.5 -4.3t3.4 -3.6t4.2 -2.7t4.2 -2.7t3.7 -3.4t3 -4t1.9 -4.6t0.6 -2.4M1269 1498.9q-5 -0.6 -7.4 -0.9t-4.7 -1.4t-3.9 -3t-2.5 -4.2t-0.7 -4.8t1.6 -4.5t3.4 -3.6t3.9 -3.1t4 -3t4.3 -2.5t2.3 -1M1268.3 1420.5q-0.9 4.9 -1.5 7.3t-1.7 4.7t-2.4 4.3t-2.5 4.3t-2.1 4.5t-2.1 4.6t-2 4.6t-2.2 4.5t-2.7 4.2t-1.5 2M1285.7 1471.5q3.3 3.8 4.7 5.8t2.6 4.2t2 4.6t0.8 4.9t-1 4.8t-3.5 2.9t-3.8 -1.5t-3.2 -3.8t-4.1 -2.8t-4.7 -1.5t-5 -0.6t-4.9 0.5t-4.8 1.4t-2.4 0.8M1283.1 1519q-2.9 4.1 -4.8 5.7t-4.3 2.3t-4.7 -0.3t-4.6 -2t-4.7 -1.6t-4.9 -0.5t-4.8 1t-2.4 3.4t0.9 4.8t2.7 4.1t1.7 1.8M1270.1 1463.8q2.2 -4.5 3.2 -6.8t2.3 -4.4t2.5 -4.3t2.5 -4.3t2.3 -4.4t2.4 -4.3t2.6 -4.3t1.9 -4.6t1.2 -4.8t0.7 -4.9t0.9 -4.9t0.5 -2.5M1264.1 1487.7q-4.4 2.4 -6 4.3t-2.3 4.3t-0.3 4.9t1.6 4.7t3.3 3.5t4.5 2.1t4.9 0.9t5 -0.2t5 -0.4t2.5 0M1292.5 1499.3q-1.7 -4.7 -2.5 -7.1t-1.5 -4.8t-1.3 -4.8t-2 -4.5t-3.1 -3.9t-3.5 -3.5t-3.9 -3.2t-2 -1.5M1250.7 1402.8q3.7 3.4 5.9 4.5t4.7 1.3t4.9 -0.5t4.3 -2.3t3.5 -3.6t2.8 -4.1t2.2 -4.5t1 -2.3M1312 1404.2q-1 -4.9 -2.5 -6.9t-4 -2.1t-4.7 1t-4.7 1.7t-4.9 0.2t-4.9 -0.9t-4.9 0.1t-4.3 2.2t-1.9 1.6M1295.5 1390.8q-4.4 2.4 -6.6 3.6t-4.4 2.3t-4.5 2.1t-4.7 1.6t-4.9 1.2t-4.9 0.3t-4.6 -1.7t-2.1 -1.4M1268 1397.4q-3.8 3.2 -5.9 4.7t-4.5 2t-4.9 0.5t-5 -0.5t-4.9 -0.8t-4.8 -1.3t-3.5 -3.1t-1.2 -2.2M1269.1 1422.5q3.3 -3.7 5.4 -5.1t4.5 -1.8t5 -0.1t4.9 0.8t4.5 2t4 3t2.2 4.1t0.3 2.5M1235.5 1531.4q3.4 -3.7 4.1 -6.1t1.1 -4.9t-0.1 -4.9t-1.6 -4.6t-3.2 -3.7t-4.2 -2.6t-4.7 -1.4t-5 -0.2t-4.9 0.8t-4.2 2.5t-1.8 1.7M1218.5 1519.6q-2.4 -4.4 -2.6 -6.9t0.6 -4.8t2 -4.6t2.9 -4.1t3.8 -3.2t4.4 -2.3t4.8 -1.3t2.5 -0.3M1237.6 1513.1q3 -4 4 -6.3t1.7 -4.7t0.6 -4.9t-0.8 -4.9t-2.1 -4.5t-3.5 -3.4t-4.2 -2.8t-3.8 -3.2t-3.4 -3.7t-1.6 -1.9M1210.9 1515.5q5 -0.3 7.5 0t4.8 1.2t4.6 2t4.4 2.4t4.3 2.5t4.3 2.5t4.4 2.4t4.4 2.4t2.2 1.2" stroke="#262626" stroke-width="2.7"/><path d="M1240.4 1432.7q0.7 -5 1.8 -7.2t2.9 -4t3.6 -3.5t3.9 -3.1t4 -3t3.7 -3.3t3.7 -3.3t3.5 -3.5t2.2 -4.4t0.6 -2.4M1296.1 1409.7q0.6 -5 -1.7 -6t-4.8 -0.7t-5 0.5t-5 0.6t-4.3 2.1t-3.5 3.6t-3.1 3.9t-2.8 4.1t-2.8 4.1t-3.5 3.5t-2 1.5M1251.5 1424.1q1.5 4.8 3 6.8t3.1 3.9t3.3 3.7t3.1 3.9t2.7 4.2t2.5 4.3t2.3 4.4t2.4 4.4t3.2 3.8t3.5 3.6t1.7 1.8M1248.9 1427.9q-4.7 1.7 -7.2 1.7t-4.8 -1t-4.5 -2.1t-3.7 -3.2t-2.1 -4.4t-0.2 -4.9t1.9 -4.5t4 -1.9t5 0.5t4.9 1t4.9 1.2t4.8 1.3t4.4 2.3t2 1.5M1282.2 1509.8q-4.7 1.6 -7.1 2.4t-4.8 1.5t-4.7 1.7t-4.5 2.1t-4.3 2.6t-4.3 2.5t-2.2 1.1M1240 1454.5q2.4 -4.4 2.6 -6.9t-0.3 -4.9t-1.5 -4.7t-2.1 -4.5t-2.8 -4.1t-4.1 -2t-3.6 2.2t0 4.5t3 3.8t1.9 1.6M1297.9 1428.1q-1.6 4.7 -2.6 7t-2.2 4.5t-2.7 4.2t-3.2 3.8t-4 2.8t-4.8 1.2t-2.5 0.2M1265 1477.1q1.4 -4.8 2.4 -7.1t2.5 -4.3t3.4 -3.6t4.2 -2.7t4.2 -2.7t3.7 -3.4t3 -4t1.9 -4.6t0.6 -2.4M1269 1498.9q-5 -0.6 -7.4 -0.9t-4.7 -1.4t-3.9 -3t-2.5 -4.2t-0.7 -4.8t1.6 -4.5t3.4 -3.6t3.9 -3.1t4 -3t4.3 -2.5t2.3 -1M1268.3 1420.5q-0.9 4.9 -1.5 7.3t-1.7 4.7t-2.4 4.3t-2.5 4.3t-2.1 4.5t-2.1 4.6t-2 4.6t-2.2 4.5t-2.7 4.2t-1.5 2M1285.7 1471.5q3.3 3.8 4.7 5.8t2.6 4.2t2 4.6t0.8 4.9t-1 4.8t-3.5 2.9t-3.8 -1.5t-3.2 -3.8t-4.1 -2.8t-4.7 -1.5t-5 -0.6t-4.9 0.5t-4.8 1.4t-2.4 0.8M1283.1 1519q-2.9 4.1 -4.8 5.7t-4.3 2.3t-4.7 -0.3t-4.6 -2t-4.7 -1.6t-4.9 -0.5t-4.8 1t-2.4 3.4t0.9 4.8t2.7 4.1t1.7 1.8M1270.1 1463.8q2.2 -4.5 3.2 -6.8t2.3 -4.4t2.5 -4.3t2.5 -4.3t2.3 -4.4t2.4 -4.3t2.6 -4.3t1.9 -4.6t1.2 -4.8t0.7 -4.9t0.9 -4.9t0.5 -2.5M1264.1 1487.7q-4.4 2.4 -6 4.3t-2.3 4.3t-0.3 4.9t1.6 4.7t3.3 3.5t4.5 2.1t4.9 0.9t5 -0.2t5 -0.4t2.5 0M1292.5 1499.3q-1.7 -4.7 -2.5 -7.1t-1.5 -4.8t-1.3 -4.8t-2 -4.5t-3.1 -3.9t-3.5 -3.5t-3.9 -3.2t-2 -1.5M1250.7 1402.8q3.7 3.4 5.9 4.5t4.7 1.3t4.9 -0.5t4.3 -2.3t3.5 -3.6t2.8 -4.1t2.2 -4.5t1 -2.3M1312 1404.2q-1 -4.9 -2.5 -6.9t-4 -2.1t-4.7 1t-4.7 1.7t-4.9 0.2t-4.9 -0.9t-4.9 0.1t-4.3 2.2t-1.9 1.6M1295.5 1390.8q-4.4 2.4 -6.6 3.6t-4.4 2.3t-4.5 2.1t-4.7 1.6t-4.9 1.2t-4.9 0.3t-4.6 -1.7t-2.1 -1.4M1268 1397.4q-3.8 3.2 -5.9 4.7t-4.5 2t-4.9 0.5t-5 -0.5t-4.9 -0.8t-4.8 -1.3t-3.5 -3.1t-1.2 -2.2M1269.1 1422.5q3.3 -3.7 5.4 -5.1t4.5 -1.8t5 -0.1t4.9 0.8t4.5 2t4 3t2.2 4.1t0.3 2.5M1235.5 1531.4q3.4 -3.7 4.1 -6.1t1.1 -4.9t-0.1 -4.9t-1.6 -4.6t-3.2 -3.7t-4.2 -2.6t-4.7 -1.4t-5 -0.2t-4.9 0.8t-4.2 2.5t-1.8 1.7M1218.5 1519.6q-2.4 -4.4 -2.6 -6.9t0.6 -4.8t2 -4.6t2.9 -4.1t3.8 -3.2t4.4 -2.3t4.8 -1.3t2.5 -0.3M1237.6 1513.1q3 -4 4 -6.3t1.7 -4.7t0.6 -4.9t-0.8 -4.9t-2.1 -4.5t-3.5 -3.4t-4.2 -2.8t-3.8 -3.2t-3.4 -3.7t-1.6 -1.9M1210.9 1515.5q5 -0.3 7.5 0t4.8 1.2t4.6 2t4.4 2.4t4.3 2.5t4.3 2.5t4.4 2.4t4.4 2.4t2.2 1.2" stroke="#a3a3a3" stroke-width="1.1"/><path d="M1249.1 1395.6q-4.9 3.4 -6.3 6.1t-2.5 5.4t-2.3 5.6t-2.2 5.6t-2.1 5.6t-1 2.8M1314.3 1399.1q-1 5.9 -1.1 8.9t0.2 6t-1.9 5.1t-4.9 3.4t-5.6 1.8t-6 0.2t-5.8 -1.2t-2.8 -0.9M1315.9 1415.6q-4.5 4 -7.1 5.4t-5.6 2t-5.8 -0.4t-5.5 -2.3t-5.3 -2.9t-5 -3.3t-4.8 -3.6t-4.7 -3.7t-4.8 -3.6t-5 -3.3t-5.4 -2.7t-2.8 -1.2M1294.9 1389.1q-0.1 6 0.8 8.9t2.5 5.4t3.7 4.7t4.6 3.7t5.4 2.5t2.8 1M1260.9 1423.5q-4 -4.5 -5.2 -7.2t-2.1 -5.6t-1.8 -5.7t-1.9 -5.7t-3.8 -3.8t-5.8 -1.1t-5.3 1.9t-2.3 2M1257.6 1424.2q5.2 2.9 8.2 3.6t4.6 -1.9t0.4 -5.2t-2.3 -5.5t-2.2 -5.6t-2.3 -5.5t-2.8 -5.3t-1.6 -2.6M1293.3 1419.4q-4 4.5 -6.5 6.1t-5.4 2.4t-4.7 -1.6t-1 -5.3t2 -5.6t2.8 -5.3t3.5 -4.9t1.9 -2.3M1295.5 1426.6q2.2 -5.6 3.9 -8.1t3.6 -4.8t4.2 -4.3t2.2 -2M1288.7 1378q-0.5 6 -0.9 9t-0.5 6t-0.7 6t-0.5 3M1300.9 1476.6q-5.3 -2.9 -7.8 -4.5t-4.9 -3.5t-4.1 -4.3t-2.9 -5.2t-1.5 -5.8t-0.3 -3M1300.5 1431.8q-1.1 -5.9 -2.3 -8.7t-2.7 -5.3t-3.1 -5.1t-3.5 -4.9t-3.9 -4.5t-4.7 -3.6t-5.2 -3.1t-2.5 -1.6M1269.2 1443.1q4.5 4 6.4 6.3t3.7 4.7t3.2 5.1t3.1 5.1t3.1 5.1t2.8 5.3t2.6 5.4t1.2 2.7M1278.1 1468.4q2.9 5.2 3.9 8.1t1.8 5.7t1.3 5.8t0.7 6t0.5 6t1.1 5.9t0.8 2.9M1244.1 1396.2q3.5 4.9 5.5 7.1t4.1 4.4t4.4 4t4.8 3.6t2.5 1.7M1288.5 1460.6q-4.6 -3.9 -7.1 -5.4t-5.3 -2.9t-5.3 -2.8t-5.4 -2.7t-5.6 -2t-5.7 -1.8t-5.6 -2.2t-5.5 -2.5t-5.2 -3t-4.7 -3.8t-2.2 -2M1248.5 1505.3q4.8 3.5 7.3 5.2t5.2 3t5.6 2.2t2.9 0.9M1293.9 1446.1q-5.9 -0.9 -8.7 -2.1t-5.1 -3.1t-4.2 -4.2t-3.4 -4.9t-2.8 -5.3t-1.9 -5.7t-0.7 -2.9M1260 1468.4q3.3 -5 5 -7.5t3.2 -5.1t2.6 -5.4t1.8 -5.7t1.3 -5.9t1.1 -5.9t0.9 -5.9t0.4 -6t-0.1 -3M1253.5 1436.1q-3 -5.2 -5 -7.4t-4.3 -4.2t-4.3 -4.2t-3.7 -4.7t-3 -5.2t-2.1 -5.6t0.5 -5.6t4.1 -3.8t2.8 -1.1M1255.8 1398.8q3.5 4.9 4.6 7.6t2 5.6t1.3 5.8t0.7 6t0.3 6t0.1 6t0.5 6t1.9 5.6t3.5 4.8t4.5 3.9t2.4 1.7M1248.2 1435.1q3 -5.2 4.5 -7.8t3.2 -5t3.3 -5t3.4 -4.9t3.8 -4.6t4.4 -4.1t4.5 -4t2.1 -2.1M1227 1410.9q-1.3 5.9 0.9 7.9t4.4 4t4.5 3.9t4.6 3.9t5 3.3t5.3 2.8t5.3 2.9t5.3 2.8t5.5 2.5t2.8 1.1M1262.6 1499.9q3.9 4.6 5.2 7.3t1.9 5.6t0.9 5.9t0.2 6t-0.1 3M1252.3 1450.1q-0.3 6 0.1 9t1.5 5.8t2.6 5.4t2.9 5.2t2.6 5.4t2.1 5.6t1.6 5.8t0.7 2.9M1242.7 1447.2q-5.2 -3 -7.5 -4.9t-4.1 -4.3t-3.2 -5t-1.4 -5.7t0.9 -5.9t2.4 -5.4t1.5 -2.6M1247.7 1504.7q5.1 -3.2 7.5 -4.9t4.5 -3.9t3.8 -4.6t2.5 -5.3t1.3 -5.8t0.5 -5.9t-0.9 -5.9t-0.8 -2.9M1282.7 1405.5q3 5.2 4.5 7.8t3.1 5.2t2.9 5.2t2.4 5.5t2.2 5.6t1.2 2.7M1264.5 1444.7q-2.2 5.6 -3.6 8.2t-2.7 5.3t-2.8 5.3t-2.8 5.3t-2.6 5.4t-2.5 5.4t-1.2 2.7M1281.6 1429q3.8 -4.6 5.7 -7t3.3 -5t2.6 -5.4t1.6 -5.7t0.5 -6t0.1 -3M1263.1 1475.8q6 -0.7 8.8 -1.6t5.8 -1.7t5.7 -1.8t5.6 -2.1t5.5 -2.3t5.2 -2.9t2.5 -1.7M1282.1 1422q-1.9 -5.7 -2.9 -8.5t-2.1 -5.6t-2.1 -5.6t-1.9 -5.7t-0.9 -2.9M1259.9 1534q5.7 -1.8 8.3 -3.3t5.1 -3.2t4.2 -4.2t1 -5.3t-1.1 -5.9t-1.2 -5.9t-1.9 -5.7t-2.4 -5.5t-2 -5.6t-1.3 -5.9t-1 -5.9t-0.4 -3" stroke="#262626" stroke-width="4.5"/><path d="M1249.1 1395.6q-4.9 3.4 -6.3 6.1t-2.5 5.4t-2.3 5.6t-2.2 5.6t-2.1 5.6t-1 2.8M1314.3 1399.1q-1 5.9 -1.1 8.9t0.2 6t-1.9 5.1t-4.9 3.4t-5.6 1.8t-6 0.2t-5.8 -1.2t-2.8 -0.9M1315.9 1415.6q-4.5 4 -7.1 5.4t-5.6 2t-5.8 -0.4t-5.5 -2.3t-5.3 -2.9t-5 -3.3t-4.8 -3.6t-4.7 -3.7t-4.8 -3.6t-5 -3.3t-5.4 -2.7t-2.8 -1.2M1294.9 1389.1q-0.1 6 0.8 8.9t2.5 5.4t3.7 4.7t4.6 3.7t5.4 2.5t2.8 1M1260.9 1423.5q-4 -4.5 -5.2 -7.2t-2.1 -5.6t-1.8 -5.7t-1.9 -5.7t-3.8 -3.8t-5.8 -1.1t-5.3 1.9t-2.3 2M1257.6 1424.2q5.2 2.9 8.2 3.6t4.6 -1.9t0.4 -5.2t-2.3 -5.5t-2.2 -5.6t-2.3 -5.5t-2.8 -5.3t-1.6 -2.6M1293.3 1419.4q-4 4.5 -6.5 6.1t-5.4 2.4t-4.7 -1.6t-1 -5.3t2 -5.6t2.8 -5.3t3.5 -4.9t1.9 -2.3M1295.5 1426.6q2.2 -5.6 3.9 -8.1t3.6 -4.8t4.2 -4.3t2.2 -2M1288.7 1378q-0.5 6 -0.9 9t-0.5 6t-0.7 6t-0.5 3M1300.9 1476.6q-5.3 -2.9 -7.8 -4.5t-4.9 -3.5t-4.1 -4.3t-2.9 -5.2t-1.5 -5.8t-0.3 -3M1300.5 1431.8q-1.1 -5.9 -2.3 -8.7t-2.7 -5.3t-3.1 -5.1t-3.5 -4.9t-3.9 -4.5t-4.7 -3.6t-5.2 -3.1t-2.5 -1.6M1269.2 1443.1q4.5 4 6.4 6.3t3.7 4.7t3.2 5.1t3.1 5.1t3.1 5.1t2.8 5.3t2.6 5.4t1.2 2.7M1278.1 1468.4q2.9 5.2 3.9 8.1t1.8 5.7t1.3 5.8t0.7 6t0.5 6t1.1 5.9t0.8 2.9M1244.1 1396.2q3.5 4.9 5.5 7.1t4.1 4.4t4.4 4t4.8 3.6t2.5 1.7M1288.5 1460.6q-4.6 -3.9 -7.1 -5.4t-5.3 -2.9t-5.3 -2.8t-5.4 -2.7t-5.6 -2t-5.7 -1.8t-5.6 -2.2t-5.5 -2.5t-5.2 -3t-4.7 -3.8t-2.2 -2M1248.5 1505.3q4.8 3.5 7.3 5.2t5.2 3t5.6 2.2t2.9 0.9M1293.9 1446.1q-5.9 -0.9 -8.7 -2.1t-5.1 -3.1t-4.2 -4.2t-3.4 -4.9t-2.8 -5.3t-1.9 -5.7t-0.7 -2.9M1260 1468.4q3.3 -5 5 -7.5t3.2 -5.1t2.6 -5.4t1.8 -5.7t1.3 -5.9t1.1 -5.9t0.9 -5.9t0.4 -6t-0.1 -3M1253.5 1436.1q-3 -5.2 -5 -7.4t-4.3 -4.2t-4.3 -4.2t-3.7 -4.7t-3 -5.2t-2.1 -5.6t0.5 -5.6t4.1 -3.8t2.8 -1.1M1255.8 1398.8q3.5 4.9 4.6 7.6t2 5.6t1.3 5.8t0.7 6t0.3 6t0.1 6t0.5 6t1.9 5.6t3.5 4.8t4.5 3.9t2.4 1.7M1248.2 1435.1q3 -5.2 4.5 -7.8t3.2 -5t3.3 -5t3.4 -4.9t3.8 -4.6t4.4 -4.1t4.5 -4t2.1 -2.1M1227 1410.9q-1.3 5.9 0.9 7.9t4.4 4t4.5 3.9t4.6 3.9t5 3.3t5.3 2.8t5.3 2.9t5.3 2.8t5.5 2.5t2.8 1.1M1262.6 1499.9q3.9 4.6 5.2 7.3t1.9 5.6t0.9 5.9t0.2 6t-0.1 3M1252.3 1450.1q-0.3 6 0.1 9t1.5 5.8t2.6 5.4t2.9 5.2t2.6 5.4t2.1 5.6t1.6 5.8t0.7 2.9M1242.7 1447.2q-5.2 -3 -7.5 -4.9t-4.1 -4.3t-3.2 -5t-1.4 -5.7t0.9 -5.9t2.4 -5.4t1.5 -2.6M1247.7 1504.7q5.1 -3.2 7.5 -4.9t4.5 -3.9t3.8 -4.6t2.5 -5.3t1.3 -5.8t0.5 -5.9t-0.9 -5.9t-0.8 -2.9M1282.7 1405.5q3 5.2 4.5 7.8t3.1 5.2t2.9 5.2t2.4 5.5t2.2 5.6t1.2 2.7M1264.5 1444.7q-2.2 5.6 -3.6 8.2t-2.7 5.3t-2.8 5.3t-2.8 5.3t-2.6 5.4t-2.5 5.4t-1.2 2.7M1281.6 1429q3.8 -4.6 5.7 -7t3.3 -5t2.6 -5.4t1.6 -5.7t0.5 -6t0.1 -3M1263.1 1475.8q6 -0.7 8.8 -1.6t5.8 -1.7t5.7 -1.8t5.6 -2.1t5.5 -2.3t5.2 -2.9t2.5 -1.7M1282.1 1422q-1.9 -5.7 -2.9 -8.5t-2.1 -5.6t-2.1 -5.6t-1.9 -5.7t-0.9 -2.9M1259.9 1534q5.7 -1.8 8.3 -3.3t5.1 -3.2t4.2 -4.2t1 -5.3t-1.1 -5.9t-1.2 -5.9t-1.9 -5.7t-2.4 -5.5t-2 -5.6t-1.3 -5.9t-1 -5.9t-0.4 -3" stroke="#a3a3a3" stroke-width="2.5"/><path d="M1216.6 1536.2q0.9 -6.4 1.4 -9.6t1.1 -6.4t1 -6.4t0.6 -6.5t-0.1 -6.5t-0.6 -6.5t-0.7 -6.5t-0.3 -6.5t0.6 -6.5t1.5 -6.3t4.1 -3.9t6.4 -1t3.2 -0.2M1248.6 1541.3q-1.5 -6.3 -2.5 -9.4t-2 -6.2t-2.2 -6.1t-2.4 -6t-3 -5.8t-1.7 -2.8M1229.5 1504.6q-1.9 -6.2 -3.2 -9.2t-2.8 -5.9t-3.2 -5.7t-2.3 -6t0.8 -6.1t3.3 -5.6t5.1 -2.5t6.4 0.9t6.1 2.1t3 1.3M1249.8 1530.2q-1.8 -6.2 -4 -8.6t-4.7 -4.5t-5.1 -4t-5.4 -3.7t-5.5 -3.5t-5.7 -3.2t-5.7 -3t-2.9 -1.5M1231.4 1510.9q0.6 -6.5 0.8 -9.7t0.2 -6.5t-0.4 -6.5t-1.3 -6.3t-2.1 -6.1t-2.6 -6t-1.4 -3M1225.7 1538q-1.9 -6.2 -3.1 -9.2t-2.5 -6t-2.9 -5.8t-3.3 -5.6t-1.7 -2.8M1244.9 1545.4q-3.4 -5.5 -5.1 -8.3t-3.3 -5.6t-2.8 -5.8t-2.4 -6t-2.3 -6.1t-2 -6.2t-1.6 -6.3t-0.7 -3.2M1210.9 1502.7q2.6 6 3.8 9t2.4 6t2.6 6t2.7 5.9t2.9 5.8t1.6 2.8M1248.8 1546q-2.1 -6.2 -3.2 -9.2t-2.5 -6t-3.1 -5.7t-3.7 -5.3t-4.1 -5t-4.3 -4.9t-4.5 -4.7t-4.8 -4.3t-5.1 -4.1t-2.6 -2M1220.1 1471.3q4.3 4.9 6.2 7.5t3.4 5.5t2.7 5.9t2.3 6.1t2.2 6.1t2.4 6t2.5 6t2.5 6t2.4 6t2.1 6.1t0.9 3.1M1230.6 1489.6q1 -6.4 1.1 -9.7t-0.2 -6.5t-1.2 -6.4t-0.8 -3.2M1232.5 1463.7q-0.5 6.5 -0.1 9.7t1.1 6.4t1.7 6.3t2.2 6.1t2.5 6t2.8 5.9t3.1 5.7t3.3 5.6t1.7 2.8M1327.5 1459q2.3 -5.5 3.3 -8.4t1.7 -5.8t1.3 -5.9t1.2 -5.9t1.2 -5.9t1.5 -5.8t3.2 -4.9t2.2 -2M1342 1442.1q3.6 4.8 5.1 7.4t2.7 5.3t1.9 5.7t0.7 2.9M1325.7 1466.3q0.9 -5.9 1.5 -8.9t1 -5.9t1 -5.9t1.2 -5.9t1.4 -5.8t1.5 -5.8t1.5 -5.8t1.2 -5.9t-1.8 -4.9t-2.3 -1.9M1326.9 1440.8q3.9 4.5 5.8 6.9t3.5 4.9t3 5.2t2.7 5.4t1.3 2.7M1342.9 1425.9q3.3 5 4.5 7.8t0.7 5.7t-1.1 5.9t-1.2 5.9t-1.5 5.8t-2.1 5.6t-4.2 3.2t-3 0.5M1320.4 1444.5q1 -5.9 1.5 -8.9t0.9 -5.9t0.5 -6t-0.2 -6t-1.1 -5.9t-3 -5t-5 -2.6t-6 -0.3t-3 0.1M1332.6 1430.2q-1.1 -5.9 -1.7 -8.8t-0.9 -5.9t-0.8 -6t-0.4 -3M1299.6 1397.6q5 3.3 6.5 5.9t3.1 5.2t3.3 5t3.3 5t3.1 5.1t3 5.2t3 5.2t3.1 5.2t1.6 2.6M1336.2 1467.3q4.5 -3.9 5.5 -6.8t1.9 -5.7t1.7 -5.8t1.4 -5.8t0.6 -5.9t-0.3 -6t-1.9 -5.5t-3.7 -4.7t-4.5 -3.9t-2.4 -1.8M1319 1462.8q-0.5 -6 -1.3 -8.9t-2 -5.6t-2.4 -5.5t-1.2 -2.8" stroke="#262626" stroke-width="4.5"/><path d="M1216.6 1536.2q0.9 -6.4 1.4 -9.6t1.1 -6.4t1 -6.4t0.6 -6.5t-0.1 -6.5t-0.6 -6.5t-0.7 -6.5t-0.3 -6.5t0.6 -6.5t1.5 -6.3t4.1 -3.9t6.4 -1t3.2 -0.2M1248.6 1541.3q-1.5 -6.3 -2.5 -9.4t-2 -6.2t-2.2 -6.1t-2.4 -6t-3 -5.8t-1.7 -2.8M1229.5 1504.6q-1.9 -6.2 -3.2 -9.2t-2.8 -5.9t-3.2 -5.7t-2.3 -6t0.8 -6.1t3.3 -5.6t5.1 -2.5t6.4 0.9t6.1 2.1t3 1.3M1249.8 1530.2q-1.8 -6.2 -4 -8.6t-4.7 -4.5t-5.1 -4t-5.4 -3.7t-5.5 -3.5t-5.7 -3.2t-5.7 -3t-2.9 -1.5M1231.4 1510.9q0.6 -6.5 0.8 -9.7t0.2 -6.5t-0.4 -6.5t-1.3 -6.3t-2.1 -6.1t-2.6 -6t-1.4 -3M1225.7 1538q-1.9 -6.2 -3.1 -9.2t-2.5 -6t-2.9 -5.8t-3.3 -5.6t-1.7 -2.8M1244.9 1545.4q-3.4 -5.5 -5.1 -8.3t-3.3 -5.6t-2.8 -5.8t-2.4 -6t-2.3 -6.1t-2 -6.2t-1.6 -6.3t-0.7 -3.2M1210.9 1502.7q2.6 6 3.8 9t2.4 6t2.6 6t2.7 5.9t2.9 5.8t1.6 2.8M1248.8 1546q-2.1 -6.2 -3.2 -9.2t-2.5 -6t-3.1 -5.7t-3.7 -5.3t-4.1 -5t-4.3 -4.9t-4.5 -4.7t-4.8 -4.3t-5.1 -4.1t-2.6 -2M1220.1 1471.3q4.3 4.9 6.2 7.5t3.4 5.5t2.7 5.9t2.3 6.1t2.2 6.1t2.4 6t2.5 6t2.5 6t2.4 6t2.1 6.1t0.9 3.1M1230.6 1489.6q1 -6.4 1.1 -9.7t-0.2 -6.5t-1.2 -6.4t-0.8 -3.2M1232.5 1463.7q-0.5 6.5 -0.1 9.7t1.1 6.4t1.7 6.3t2.2 6.1t2.5 6t2.8 5.9t3.1 5.7t3.3 5.6t1.7 2.8M1327.5 1459q2.3 -5.5 3.3 -8.4t1.7 -5.8t1.3 -5.9t1.2 -5.9t1.2 -5.9t1.5 -5.8t3.2 -4.9t2.2 -2M1342 1442.1q3.6 4.8 5.1 7.4t2.7 5.3t1.9 5.7t0.7 2.9M1325.7 1466.3q0.9 -5.9 1.5 -8.9t1 -5.9t1 -5.9t1.2 -5.9t1.4 -5.8t1.5 -5.8t1.5 -5.8t1.2 -5.9t-1.8 -4.9t-2.3 -1.9M1326.9 1440.8q3.9 4.5 5.8 6.9t3.5 4.9t3 5.2t2.7 5.4t1.3 2.7M1342.9 1425.9q3.3 5 4.5 7.8t0.7 5.7t-1.1 5.9t-1.2 5.9t-1.5 5.8t-2.1 5.6t-4.2 3.2t-3 0.5M1320.4 1444.5q1 -5.9 1.5 -8.9t0.9 -5.9t0.5 -6t-0.2 -6t-1.1 -5.9t-3 -5t-5 -2.6t-6 -0.3t-3 0.1M1332.6 1430.2q-1.1 -5.9 -1.7 -8.8t-0.9 -5.9t-0.8 -6t-0.4 -3M1299.6 1397.6q5 3.3 6.5 5.9t3.1 5.2t3.3 5t3.3 5t3.1 5.1t3 5.2t3 5.2t3.1 5.2t1.6 2.6M1336.2 1467.3q4.5 -3.9 5.5 -6.8t1.9 -5.7t1.7 -5.8t1.4 -5.8t0.6 -5.9t-0.3 -6t-1.9 -5.5t-3.7 -4.7t-4.5 -3.9t-2.4 -1.8M1319 1462.8q-0.5 -6 -1.3 -8.9t-2 -5.6t-2.4 -5.5t-1.2 -2.8" stroke="#a3a3a3" stroke-width="2.5"/><path d="M1317 1512.8q3 -3.2 0.8 -3.6t-3.2 2.6t1.6 4.5t4.1 0t-0.7 -1.9t-3.2 2.6t1.6 4.5t4.1 0t-0.7 -1.9t-3.2 2.6t1.6 4.5t4.1 0t-0.7 -1.9t-3.2 2.6t1.6 4.5t4.1 0t-0.7 -1.9t-3.2 2.6t1.6 4.5t4.1 0t-0.7 -1.9t-3.2 2.6t-1 2.9M1348.2 1530.5q5.7 -0.8 5.9 -2.8t-1.5 -0.9t-0.6 3.8t3.9 2.3t3 -2.4t-1.5 -0.9t-0.6 3.8t3.9 2.3t3 -2.4t-1.5 -0.9t-0.6 3.8t3.9 2.3t2.9 -0.4M1336.7 1564.8q-2.1 -3.9 -3.1 -1.9t1.4 3.9t4.9 0t1.4 -3.9t-2.1 0t1.4 3.9t4.9 0t1.4 -3.9t-2.1 0t-1 2M1341.3 1542.7q5.5 -2.4 5 -4.5t-1.9 -0.5t0.3 4t4.5 1.2t2.3 -3.3t-1.9 -0.5t0.3 4t4.5 1.2t2.3 -3.3t-1.9 -0.5t0.3 4t4.5 1.2t2.3 -3.3t-1.9 -0.5t0.3 4t4.5 1.2t2.3 -3.3t-1.9 -0.5t0.3 4t1.8 2.4M1334.4 1514.7q5.8 -0.8 6 -2.8t-1.5 -0.8t-0.5 3.9t4.1 2.3t3.1 -2.4t-1.5 -0.8t-0.5 3.9t4.1 2.3t3.1 -2.4t-1.5 -0.8t-0.5 3.9t4.1 2.3t3.1 -2.4t-1.5 -0.8t-0.5 3.9t4.1 2.3t2.9 -0.4M1331.7 1540.2q6.1 0 6.5 -2.1t-1.4 -1.1t-1.1 3.9t3.8 2.9t3.5 -2t-1.4 -1.1t-1.1 3.9t3.8 2.9t3.5 -2t-1.4 -1.1t-1.1 3.9t3.8 2.9t3.5 -2t-1.4 -1.1t-1.1 3.9t3.8 2.9t3.5 -2t-1.4 -1.1t-1.1 3.9t0.7 2.9M1333 1503.1q2.2 5.2 5 4.9t3 -2.2t-1.3 -0.8t-0.4 3.7t3.9 2.3t3 -2.2t-1.3 -0.8t-0.4 3.7t3.9 2.3t3 -2.2t-1.3 -0.8t-1.5 1.1M1308.8 1515.5q4.2 4 5.8 3t-0.2 -1.4t-3.1 2.1t0.8 4.6t3.7 1t-0.2 -1.4t-3.1 2.1t0.8 4.6t3.7 1t-0.2 -1.4t-3.1 2.1t0.8 4.6t3.7 1t-0.2 -1.4t-3.1 2.1t0.8 4.6t2.1 2M1316.8 1508.7q3.5 4.5 6.1 3.3t2.2 -3.2t-1.7 -0.4t0.5 3.8t4.4 1.1t2.2 -3.2t-1.7 -0.4t0.5 3.8t4.4 1.1t2.2 -3.2t-1.7 -0.4t0.5 3.8t4.4 1.1t2.2 -3.2t-1.7 -0.4t0.5 3.8t4.4 1.1t2.6 -1.2M1358 1513.5q5.6 0.5 6.1 -1.2t-1 -0.9t-1.1 3.5t3.3 3t3.4 -1.4t-1 -0.9t-1.1 3.5t3.3 3t3.4 -1.4t-1 -0.9t-1.1 3.5t3.3 3t2.8 0.3M1337.5 1556.1q6 -1.4 5.9 -3.6t-1.7 -0.8t-0.3 4.1t4.3 2t2.9 -2.9t-1.7 -0.8t-0.3 4.1t4.3 2t2.9 -2.9t-1.7 -0.8t-0.3 4.1t1.4 2.7M1319.3 1553.7q5.4 -1.5 5.4 -3.4t-1.4 -0.6t0.1 3.7t4.2 1.6t2.6 -2.6t-1.4 -0.6t0.1 3.7t4.2 1.6t2.6 -2.6t-1.4 -0.6t0.1 3.7t4.2 1.6t2.6 -2.6t-0.1 -1.9M1312.6 1533.2q4.9 3.8 6.6 2.4t-0.5 -1.8t-3.4 2.4t1.2 4.7t4.1 0.5t-0.5 -1.8t-3.4 2.4t1.2 4.7t4.1 0.5t-0.5 -1.8t-3.4 2.4t1.2 4.7t4.1 0.5t-0.5 -1.8t-2.1 -0.4M1324.1 1529.6q4.5 -4.4 3.2 -6.3t-2.1 0.2t1.8 3.8t4.9 -0.5t1 -4.1t-2.1 0.2t1.8 3.8t4.9 -0.5t1 -4.1t-2.1 0.2t1.8 3.8t4.9 -0.5t1 -4.1t-2.1 0.2t1.8 3.8t4.9 -0.5t1 -4.1t-2.1 0.2t-0.9 2.1M1308.6 1541.9q-1.1 -3.5 -2.1 -2t1 3.5t4.4 0.5t1.8 -3.2t-1.5 -0.2t1 3.5t4.4 0.5t1.8 -3.2t-1.5 -0.2t1 3.5t4.4 0.5t1.8 -3.2t-1.5 -0.2t1 3.5t2 1.9M1329.3 1551.6q5.6 0.8 6.2 -1t-1.2 -1.2t-1.5 3.4t3.1 3.2t3.4 -1.4t-1.2 -1.2t-1.5 3.4t3.1 3.2t3.4 -1.4t-1.2 -1.2t-1.5 3.4t3.1 3.2t3.4 -1.4t-1.2 -1.2t-1.5 3.4t0.3 2.8M1292.7 1520.1q5.5 2.5 6.8 0.8t-0.9 -1.8t-2.8 2.9t2.1 4.3t4 -0.5t-0.9 -1.8t-2.8 2.9t2.1 4.3t4 -0.5t-0.9 -1.8t-2.8 2.9t2.1 4.3t4 -0.5t-0.9 -1.8t-2.2 0M1319 1528.8q4.6 4.4 6.4 3.2t-0.3 -1.8t-3.6 2.1t0.7 5t4.1 1t-0.3 -1.8t-3.6 2.1t0.7 5t4.1 1t-0.3 -1.8t-2.1 -0.6M1366.1 1524.7q4.7 3.6 6.3 2.4t-0.4 -1.6t-3.1 2.4t1.2 4.6t3.9 0.5t-0.4 -1.6t-3.1 2.4t1.2 4.6t3.9 0.5t-0.4 -1.6t-3.1 2.4t-1.1 2.8M1347.2 1507.8q3.6 4.7 5.4 3.8t0 -1.7t-3.6 1.4t0 4.7t3.6 1.5t0 -1.7t-3.6 1.4t0 4.7t1.8 2.3M1298.7 1529.5q-1.7 -3.8 -2.6 -1.9t1.6 3.8t4.9 0t1.6 -3.8t-1.7 0t1.6 3.8t4.9 0t1.6 -3.8t-0.9 -1.9M1355.3 1530.5q5.3 -0.6 5.5 -2.4t-1.2 -0.7t-0.4 3.5t3.7 2.2t2.9 -2.1t-1.2 -0.7t-0.4 3.5t3.7 2.2t2.9 -2.1t-1.2 -0.7t-0.4 3.5t3.7 2.2t2.9 -2.1t-1.2 -0.7t-1.4 1M1325.9 1534.5q4.8 -2.3 4.4 -4t-1.4 -0.3t0.8 3.4t4.2 0.8t2 -2.9t-1.4 -0.3t0.8 3.4t4.2 0.8t2 -2.9t-1.4 -0.3t0.8 3.4t4.2 0.8t2 -2.9t-1.4 -0.3t0.8 3.4t4.2 0.8t2 -2.9t-0.4 -1.7M1296.4 1529.8q1.7 -5.6 -0.1 -6.6t-1.5 1t3.2 2.2t3.8 -2.6t-0.9 -3.8t-1.5 1t3.2 2.2t3.8 -2.6t-0.9 -3.8t-1.5 1t3.2 2.2t3.8 -2.6t0.8 -2.8M1295.9 1511.3q-0.1 5.7 2.6 6.6t3.7 -0.7t-0.8 -1.2t-1.9 3.2t2.6 3.7t3.7 -0.7t-0.8 -1.2t-1.9 3.2t-0.1 2.8M1313.8 1515.8q5.6 -0.6 5.8 -2.5t-1.3 -0.8t-0.5 3.7t3.9 2.3t3 -2.2t-1.3 -0.8t-0.5 3.7t3.9 2.3t3 -2.2t-1.3 -0.8t-0.5 3.7t1 2.6M1335.4 1525.7q6.2 0.3 6.8 -1.8t-1.4 -1.2t-1.3 3.9t3.8 3.2t3.7 -1.9t-1.4 -1.2t-1.3 3.9t3.8 3.2t3.7 -1.9t-1.4 -1.2t-1.3 3.9t3.8 3.2t3.7 -1.9t0.5 -2M1300.8 1287.7q5.2 3.1 6.7 1.5t-0.7 -1.8t-3.1 2.6t1.7 4.4t4 0t-0.7 -1.8t-3.1 2.6t1.7 4.4t4 0t-0.7 -1.8t-3.1 2.6t1.7 4.4t4 0t-0.7 -1.8t-3.1 2.6t1.7 4.4t4 0t-0.7 -1.8t-3.1 2.6t1.7 4.4t2.6 1.6M1308.6 1289.2q4.8 2.9 6.1 1.5t-0.6 -1.5t-2.7 2.5t1.6 4.1t3.7 0.1t-0.6 -1.5t-2.7 2.5t1.6 4.1t3.7 0.1t-0.6 -1.5t-2.7 2.5t1.6 4.1t3.7 0.1t-0.6 -1.5t-2.7 2.5t1.6 4.1t2.4 1.4M1283.9 1302.3q5.1 -2.1 4.8 -4t-1.5 -0.4t0.4 3.7t4.2 1.2t2.3 -2.9t-1.5 -0.4t0.4 3.7t4.2 1.2t2.3 -2.9t-1.5 -0.4t0.4 3.7t4.2 1.2t2.6 -1.1M1310.5 1319.9q5.7 2.1 6.8 0.3t-1 -1.7t-2.6 3.1t2.4 4.1t4 -0.7t-1 -1.7t-2.6 3.1t2.4 4.1t4 -0.7t-1 -1.7t-2.6 3.1t2.4 4.1t4 -0.7t-1 -1.7t-2.6 3.1t2.4 4.1t4 -0.7t-1 -1.7t-2.6 3.1t2.4 4.1t4 -0.7t1.1 -1.8M1318.8 1316.6q5.1 2.2 6.2 0.7t-0.8 -1.4t-2.3 2.9t2.1 3.9t3.7 -0.4t-0.8 -1.4t-2.3 2.9t2.1 3.9t3.7 -0.4t-0.8 -1.4t-2.3 2.9t2.1 3.9t3.7 -0.4t-0.8 -1.4t-2.3 2.9t2.1 3.9t2.5 1.1M1303.7 1322.4q4.9 2.6 6.1 1.2t-0.7 -1.4t-2.5 2.7t1.8 4t3.7 -0.1t-0.7 -1.4t-2.5 2.7t1.8 4t3.7 -0.1t-0.7 -1.4t-2.5 2.7t1.8 4t3.7 -0.1t-0.7 -1.4t-2.5 2.7t1.8 4t2.5 1.3M1261.9 1514.4q2.9 4.2 4.4 3.6t0.1 -1.3t-3.1 1.2t-0.2 4t3 1.5t0.1 -1.3t-3.1 1.2t-0.2 4t3 1.5t0.1 -1.3t-3.1 1.2t-0.2 4t1.4 2.1M1248.3 1453.6q4.4 3.4 5.8 2.2t-0.4 -1.4t-2.8 2.3t1.2 4.3t3.6 0.5t-0.4 -1.4t-2.8 2.3t1.2 4.3t3.6 0.5t-0.4 -1.4t-2.8 2.3t1.2 4.3t3.6 0.5t-0.4 -1.4t-1.8 -0.3" stroke="#262626" stroke-width="3.3"/><path d="M1317 1512.8q3 -3.2 0.8 -3.6t-3.2 2.6t1.6 4.5t4.1 0t-0.7 -1.9t-3.2 2.6t1.6 4.5t4.1 0t-0.7 -1.9t-3.2 2.6t1.6 4.5t4.1 0t-0.7 -1.9t-3.2 2.6t1.6 4.5t4.1 0t-0.7 -1.9t-3.2 2.6t1.6 4.5t4.1 0t-0.7 -1.9t-3.2 2.6t-1 2.9M1348.2 1530.5q5.7 -0.8 5.9 -2.8t-1.5 -0.9t-0.6 3.8t3.9 2.3t3 -2.4t-1.5 -0.9t-0.6 3.8t3.9 2.3t3 -2.4t-1.5 -0.9t-0.6 3.8t3.9 2.3t2.9 -0.4M1336.7 1564.8q-2.1 -3.9 -3.1 -1.9t1.4 3.9t4.9 0t1.4 -3.9t-2.1 0t1.4 3.9t4.9 0t1.4 -3.9t-2.1 0t-1 2M1341.3 1542.7q5.5 -2.4 5 -4.5t-1.9 -0.5t0.3 4t4.5 1.2t2.3 -3.3t-1.9 -0.5t0.3 4t4.5 1.2t2.3 -3.3t-1.9 -0.5t0.3 4t4.5 1.2t2.3 -3.3t-1.9 -0.5t0.3 4t4.5 1.2t2.3 -3.3t-1.9 -0.5t0.3 4t1.8 2.4M1334.4 1514.7q5.8 -0.8 6 -2.8t-1.5 -0.8t-0.5 3.9t4.1 2.3t3.1 -2.4t-1.5 -0.8t-0.5 3.9t4.1 2.3t3.1 -2.4t-1.5 -0.8t-0.5 3.9t4.1 2.3t3.1 -2.4t-1.5 -0.8t-0.5 3.9t4.1 2.3t2.9 -0.4M1331.7 1540.2q6.1 0 6.5 -2.1t-1.4 -1.1t-1.1 3.9t3.8 2.9t3.5 -2t-1.4 -1.1t-1.1 3.9t3.8 2.9t3.5 -2t-1.4 -1.1t-1.1 3.9t3.8 2.9t3.5 -2t-1.4 -1.1t-1.1 3.9t3.8 2.9t3.5 -2t-1.4 -1.1t-1.1 3.9t0.7 2.9M1333 1503.1q2.2 5.2 5 4.9t3 -2.2t-1.3 -0.8t-0.4 3.7t3.9 2.3t3 -2.2t-1.3 -0.8t-0.4 3.7t3.9 2.3t3 -2.2t-1.3 -0.8t-1.5 1.1M1308.8 1515.5q4.2 4 5.8 3t-0.2 -1.4t-3.1 2.1t0.8 4.6t3.7 1t-0.2 -1.4t-3.1 2.1t0.8 4.6t3.7 1t-0.2 -1.4t-3.1 2.1t0.8 4.6t3.7 1t-0.2 -1.4t-3.1 2.1t0.8 4.6t2.1 2M1316.8 1508.7q3.5 4.5 6.1 3.3t2.2 -3.2t-1.7 -0.4t0.5 3.8t4.4 1.1t2.2 -3.2t-1.7 -0.4t0.5 3.8t4.4 1.1t2.2 -3.2t-1.7 -0.4t0.5 3.8t4.4 1.1t2.2 -3.2t-1.7 -0.4t0.5 3.8t4.4 1.1t2.6 -1.2M1358 1513.5q5.6 0.5 6.1 -1.2t-1 -0.9t-1.1 3.5t3.3 3t3.4 -1.4t-1 -0.9t-1.1 3.5t3.3 3t3.4 -1.4t-1 -0.9t-1.1 3.5t3.3 3t2.8 0.3M1337.5 1556.1q6 -1.4 5.9 -3.6t-1.7 -0.8t-0.3 4.1t4.3 2t2.9 -2.9t-1.7 -0.8t-0.3 4.1t4.3 2t2.9 -2.9t-1.7 -0.8t-0.3 4.1t1.4 2.7M1319.3 1553.7q5.4 -1.5 5.4 -3.4t-1.4 -0.6t0.1 3.7t4.2 1.6t2.6 -2.6t-1.4 -0.6t0.1 3.7t4.2 1.6t2.6 -2.6t-1.4 -0.6t0.1 3.7t4.2 1.6t2.6 -2.6t-0.1 -1.9M1312.6 1533.2q4.9 3.8 6.6 2.4t-0.5 -1.8t-3.4 2.4t1.2 4.7t4.1 0.5t-0.5 -1.8t-3.4 2.4t1.2 4.7t4.1 0.5t-0.5 -1.8t-3.4 2.4t1.2 4.7t4.1 0.5t-0.5 -1.8t-2.1 -0.4M1324.1 1529.6q4.5 -4.4 3.2 -6.3t-2.1 0.2t1.8 3.8t4.9 -0.5t1 -4.1t-2.1 0.2t1.8 3.8t4.9 -0.5t1 -4.1t-2.1 0.2t1.8 3.8t4.9 -0.5t1 -4.1t-2.1 0.2t1.8 3.8t4.9 -0.5t1 -4.1t-2.1 0.2t-0.9 2.1M1308.6 1541.9q-1.1 -3.5 -2.1 -2t1 3.5t4.4 0.5t1.8 -3.2t-1.5 -0.2t1 3.5t4.4 0.5t1.8 -3.2t-1.5 -0.2t1 3.5t4.4 0.5t1.8 -3.2t-1.5 -0.2t1 3.5t2 1.9M1329.3 1551.6q5.6 0.8 6.2 -1t-1.2 -1.2t-1.5 3.4t3.1 3.2t3.4 -1.4t-1.2 -1.2t-1.5 3.4t3.1 3.2t3.4 -1.4t-1.2 -1.2t-1.5 3.4t3.1 3.2t3.4 -1.4t-1.2 -1.2t-1.5 3.4t0.3 2.8M1292.7 1520.1q5.5 2.5 6.8 0.8t-0.9 -1.8t-2.8 2.9t2.1 4.3t4 -0.5t-0.9 -1.8t-2.8 2.9t2.1 4.3t4 -0.5t-0.9 -1.8t-2.8 2.9t2.1 4.3t4 -0.5t-0.9 -1.8t-2.2 0M1319 1528.8q4.6 4.4 6.4 3.2t-0.3 -1.8t-3.6 2.1t0.7 5t4.1 1t-0.3 -1.8t-3.6 2.1t0.7 5t4.1 1t-0.3 -1.8t-2.1 -0.6M1366.1 1524.7q4.7 3.6 6.3 2.4t-0.4 -1.6t-3.1 2.4t1.2 4.6t3.9 0.5t-0.4 -1.6t-3.1 2.4t1.2 4.6t3.9 0.5t-0.4 -1.6t-3.1 2.4t-1.1 2.8M1347.2 1507.8q3.6 4.7 5.4 3.8t0 -1.7t-3.6 1.4t0 4.7t3.6 1.5t0 -1.7t-3.6 1.4t0 4.7t1.8 2.3M1298.7 1529.5q-1.7 -3.8 -2.6 -1.9t1.6 3.8t4.9 0t1.6 -3.8t-1.7 0t1.6 3.8t4.9 0t1.6 -3.8t-0.9 -1.9M1355.3 1530.5q5.3 -0.6 5.5 -2.4t-1.2 -0.7t-0.4 3.5t3.7 2.2t2.9 -2.1t-1.2 -0.7t-0.4 3.5t3.7 2.2t2.9 -2.1t-1.2 -0.7t-0.4 3.5t3.7 2.2t2.9 -2.1t-1.2 -0.7t-1.4 1M1325.9 1534.5q4.8 -2.3 4.4 -4t-1.4 -0.3t0.8 3.4t4.2 0.8t2 -2.9t-1.4 -0.3t0.8 3.4t4.2 0.8t2 -2.9t-1.4 -0.3t0.8 3.4t4.2 0.8t2 -2.9t-1.4 -0.3t0.8 3.4t4.2 0.8t2 -2.9t-0.4 -1.7M1296.4 1529.8q1.7 -5.6 -0.1 -6.6t-1.5 1t3.2 2.2t3.8 -2.6t-0.9 -3.8t-1.5 1t3.2 2.2t3.8 -2.6t-0.9 -3.8t-1.5 1t3.2 2.2t3.8 -2.6t0.8 -2.8M1295.9 1511.3q-0.1 5.7 2.6 6.6t3.7 -0.7t-0.8 -1.2t-1.9 3.2t2.6 3.7t3.7 -0.7t-0.8 -1.2t-1.9 3.2t-0.1 2.8M1313.8 1515.8q5.6 -0.6 5.8 -2.5t-1.3 -0.8t-0.5 3.7t3.9 2.3t3 -2.2t-1.3 -0.8t-0.5 3.7t3.9 2.3t3 -2.2t-1.3 -0.8t-0.5 3.7t1 2.6M1335.4 1525.7q6.2 0.3 6.8 -1.8t-1.4 -1.2t-1.3 3.9t3.8 3.2t3.7 -1.9t-1.4 -1.2t-1.3 3.9t3.8 3.2t3.7 -1.9t-1.4 -1.2t-1.3 3.9t3.8 3.2t3.7 -1.9t0.5 -2M1300.8 1287.7q5.2 3.1 6.7 1.5t-0.7 -1.8t-3.1 2.6t1.7 4.4t4 0t-0.7 -1.8t-3.1 2.6t1.7 4.4t4 0t-0.7 -1.8t-3.1 2.6t1.7 4.4t4 0t-0.7 -1.8t-3.1 2.6t1.7 4.4t4 0t-0.7 -1.8t-3.1 2.6t1.7 4.4t2.6 1.6M1308.6 1289.2q4.8 2.9 6.1 1.5t-0.6 -1.5t-2.7 2.5t1.6 4.1t3.7 0.1t-0.6 -1.5t-2.7 2.5t1.6 4.1t3.7 0.1t-0.6 -1.5t-2.7 2.5t1.6 4.1t3.7 0.1t-0.6 -1.5t-2.7 2.5t1.6 4.1t2.4 1.4M1283.9 1302.3q5.1 -2.1 4.8 -4t-1.5 -0.4t0.4 3.7t4.2 1.2t2.3 -2.9t-1.5 -0.4t0.4 3.7t4.2 1.2t2.3 -2.9t-1.5 -0.4t0.4 3.7t4.2 1.2t2.6 -1.1M1310.5 1319.9q5.7 2.1 6.8 0.3t-1 -1.7t-2.6 3.1t2.4 4.1t4 -0.7t-1 -1.7t-2.6 3.1t2.4 4.1t4 -0.7t-1 -1.7t-2.6 3.1t2.4 4.1t4 -0.7t-1 -1.7t-2.6 3.1t2.4 4.1t4 -0.7t-1 -1.7t-2.6 3.1t2.4 4.1t4 -0.7t1.1 -1.8M1318.8 1316.6q5.1 2.2 6.2 0.7t-0.8 -1.4t-2.3 2.9t2.1 3.9t3.7 -0.4t-0.8 -1.4t-2.3 2.9t2.1 3.9t3.7 -0.4t-0.8 -1.4t-2.3 2.9t2.1 3.9t3.7 -0.4t-0.8 -1.4t-2.3 2.9t2.1 3.9t2.5 1.1M1303.7 1322.4q4.9 2.6 6.1 1.2t-0.7 -1.4t-2.5 2.7t1.8 4t3.7 -0.1t-0.7 -1.4t-2.5 2.7t1.8 4t3.7 -0.1t-0.7 -1.4t-2.5 2.7t1.8 4t3.7 -0.1t-0.7 -1.4t-2.5 2.7t1.8 4t2.5 1.3M1261.9 1514.4q2.9 4.2 4.4 3.6t0.1 -1.3t-3.1 1.2t-0.2 4t3 1.5t0.1 -1.3t-3.1 1.2t-0.2 4t3 1.5t0.1 -1.3t-3.1 1.2t-0.2 4t1.4 2.1M1248.3 1453.6q4.4 3.4 5.8 2.2t-0.4 -1.4t-2.8 2.3t1.2 4.3t3.6 0.5t-0.4 -1.4t-2.8 2.3t1.2 4.3t3.6 0.5t-0.4 -1.4t-2.8 2.3t1.2 4.3t3.6 0.5t-0.4 -1.4t-1.8 -0.3" stroke="#a3a3a3" stroke-width="1.6"/><path d="M1319.1 1463.2q-0.7 16 -0.3 22.7t-1.7 12.7t-5.3 9.4t-2 6t1.3 2.7M1329.8 1465.8q-4 13.4 -2.7 18.7t0.7 10.7t-2.7 7.4t0 4t2 2M1316.5 1293.1q6 -2 7.7 0.3t0 5.7t2 2t4.3 -2.3t0.7 -1M1308.4 1394.7q6.7 8 10.4 10.7t7.4 6.7t7 7.4t4 6.5t0.7 3.1M1276.4 1402.7q10.7 -5.3 15.4 -4t7.4 6.7t0.7 10t-4.7 9.2t-2.7 4.5M1217.5 1538q2 4.7 4.3 5t3.7 -1.7t-0.7 -3.7t-4.3 -0.7t-2.7 1.7t-0.3 0.7M1341.9 1556.8q-4 6.7 0 8.7t10 -1t8.7 -8.7t5.3 -8.4t2.7 -2.7M1367.3 1544.7q10.7 -6.7 13.4 -5.7t-1.3 3t-7.4 1.3t-3.3 -0.7M1301.8 1433.8q-4 5.3 -8 4t-2.7 2t-1.3 9.4t0.7 10t1.3 5.3t-2 1.3M1304.4 1479.2q-1.3 13.4 -4 18.7t-0.7 8.7t-0.7 6t-2.7 2.7M1343.1 1542.5q-2.5 3.8 -1.5 5.8t-1.1 2.8t-4.1 1.8t-4.1 1.8t-2.1 0.8M1354.2 1534.1q4.1 -1.8 5.2 -3.8t3.3 -2.5t3.9 -1.9t3.9 -1.9t2.2 -0.5M1375.5 1535.5q0.6 4.5 1 2.2t0.6 -4.5t1.9 -3.7t0.1 -3.1t-3.7 -2.3t-2.1 -0.7M1342.9 1552.8q4.4 1.1 6.1 2.5t3.9 2t3.9 2t1.9 -0.8t1.3 -4.2t0.7 -4.2t-0.4 -2.2M1329.1 1524q3.5 -2.8 5.6 -3.5t3.7 -2.3t3.8 -1.4t4.4 0.9t3.4 2.6t1.6 4t1.5 4.2t1.2 1.9M1299.2 1529.4q0.8 4.4 2.1 6.3t3.3 2.8t2 3.2t1.4 0.5t1.5 -1.7M1380.4 1530.4q1.5 4.2 1.8 6.5t-2 2.5t-4.3 -0.7t-3 -3t-3 -3t-2 -1M1334.9 1531.1q2.2 -3.9 3 -6t2.6 -3.4t4 -1.5t4.5 0.1t4.5 0.3t4.3 1t3.6 2.6t3.7 2.1t2.2 0.5" stroke="#262626" stroke-width="2.7"/><path d="M1319.1 1463.2q-0.7 16 -0.3 22.7t-1.7 12.7t-5.3 9.4t-2 6t1.3 2.7M1329.8 1465.8q-4 13.4 -2.7 18.7t0.7 10.7t-2.7 7.4t0 4t2 2M1316.5 1293.1q6 -2 7.7 0.3t0 5.7t2 2t4.3 -2.3t0.7 -1M1308.4 1394.7q6.7 8 10.4 10.7t7.4 6.7t7 7.4t4 6.5t0.7 3.1M1276.4 1402.7q10.7 -5.3 15.4 -4t7.4 6.7t0.7 10t-4.7 9.2t-2.7 4.5M1217.5 1538q2 4.7 4.3 5t3.7 -1.7t-0.7 -3.7t-4.3 -0.7t-2.7 1.7t-0.3 0.7M1341.9 1556.8q-4 6.7 0 8.7t10 -1t8.7 -8.7t5.3 -8.4t2.7 -2.7M1367.3 1544.7q10.7 -6.7 13.4 -5.7t-1.3 3t-7.4 1.3t-3.3 -0.7M1301.8 1433.8q-4 5.3 -8 4t-2.7 2t-1.3 9.4t0.7 10t1.3 5.3t-2 1.3M1304.4 1479.2q-1.3 13.4 -4 18.7t-0.7 8.7t-0.7 6t-2.7 2.7M1343.1 1542.5q-2.5 3.8 -1.5 5.8t-1.1 2.8t-4.1 1.8t-4.1 1.8t-2.1 0.8M1354.2 1534.1q4.1 -1.8 5.2 -3.8t3.3 -2.5t3.9 -1.9t3.9 -1.9t2.2 -0.5M1375.5 1535.5q0.6 4.5 1 2.2t0.6 -4.5t1.9 -3.7t0.1 -3.1t-3.7 -2.3t-2.1 -0.7M1342.9 1552.8q4.4 1.1 6.1 2.5t3.9 2t3.9 2t1.9 -0.8t1.3 -4.2t0.7 -4.2t-0.4 -2.2M1329.1 1524q3.5 -2.8 5.6 -3.5t3.7 -2.3t3.8 -1.4t4.4 0.9t3.4 2.6t1.6 4t1.5 4.2t1.2 1.9M1299.2 1529.4q0.8 4.4 2.1 6.3t3.3 2.8t2 3.2t1.4 0.5t1.5 -1.7M1380.4 1530.4q1.5 4.2 1.8 6.5t-2 2.5t-4.3 -0.7t-3 -3t-3 -3t-2 -1M1334.9 1531.1q2.2 -3.9 3 -6t2.6 -3.4t4 -1.5t4.5 0.1t4.5 0.3t4.3 1t3.6 2.6t3.7 2.1t2.2 0.5" stroke="#a3a3a3" stroke-width="1.1"/>
<path d="M1242.4 1337.8q0.4 5 1.7 7.1t3 4t3.6 3.4t4.2 2.7t4.7 1.1t4.9 -0.8t3.8 -2.9t2.7 -4.2t2.9 -4.1t3.3 -3.7t1.7 -1.8M1212.5 1332.9q-1.4 4.8 -1.2 7.3t2.5 3.5t4.7 1.8t4.7 1.6t4.6 1.9t4.2 2.6t3.6 3.4t2.5 4.2t0.6 4.9t-0.2 2.5M1216.2 1318.4q-5 0.1 -5.5 2.5t1.2 4.3t3.8 3.2t3.6 3.4t3.3 3.8t3.7 3.3t4.5 2t4.9 0.1t2.5 -0.4M1207.4 1380.3q4.9 -1.1 7.4 -1.2t5 -0.1t5 -0.2t4.7 -1.4t4.7 -1.6t2.5 -0.5M1315.5 1364.2q-1.1 4.9 -2.6 6.8t-3.8 3.1t-4.3 -0.3t-3.8 -3.2t-3.2 -3.8t-2.4 -4.4t-0.6 -4.8t0.1 -5t-1.3 -4.8t-2.3 -4.5t-1.8 -4.6t-0.6 -2.4M1210.9 1337.6q4.2 -2.8 5.9 -4.6t3.4 -3.7t3.7 -3.3t4.5 -1.8t4.9 0t4.5 1.9t3.5 3.5t2.3 4.4t0.8 2.4M1243.1 1341q-4.8 -1.3 -7.3 -1.3t-5 0.4t-4.8 1.3t-4.8 1.4t-4.9 1.2t-4.9 1t-2.5 0.4M1242.8 1392.8q4.3 -2.6 6.4 -4t4.4 -2.3t4.7 -1.8t4.7 -1.7t4 -2.8t2.6 -4.2t1.9 -4.6t1.9 -4.6t2.4 -4.4t1.4 -2.1M1278.2 1377q-1.7 -4.7 -2.2 -7.1t-0.2 -4.9t1.6 -4.6t1.8 -4.6t-0.1 -4.9t-1.4 -4.8t-0.9 -2.3M1285.7 1347.3q-0.8 -4.9 -1.6 -7.3t-2.1 -4.5t-3.1 -3.9t-4.1 -2.7t-4.8 -1.3t-4.9 0.3t-4.4 2.2t-3.8 3.2t-3.6 3.5t-3.7 3.4t-4.1 2.9t-4.1 2.9t-2 1.5M1222.5 1326.5q3.9 3.2 6.2 4t4.9 0.7t4.9 -1t4.5 -2.1t3.6 -3.3t2.9 -4.1t3.2 -3.8t3.7 -3.3t4.3 -2.4t2.3 -0.9M1293.3 1330.5q3.5 -3.6 5.5 -5t4.5 -1.9t4.9 0.2t4.3 2.2t3 3.8t-0.3 4.4t-3.4 3.6t-4.5 1.7t-5 0t-5 -0.5t-4.8 -1.1t-2.4 -0.8M1286.6 1321.2q5 -0.2 7.4 -0.7t4.9 -1t4.9 -0.4t4.7 1.4t2.6 3.7t-1.4 4.2t-3.2 3.8t-2.8 4.2t-3.2 3.8t-1.8 1.7M1269.5 1370.3q2.7 -4.2 4.2 -6.2t2.9 -4.1t2.5 -4.3t2 -4.6t0.6 -4.9t-1.1 -4.8t-1.8 -4.7t-1.4 -4.8t-0.5 -4.9t1.1 -4.7t1.1 -2.2M1254.8 1389.9q-4.7 1.8 -7.2 1.5t-4.6 -1.5t-3.6 -3.3t-2.8 -4.1t-2.6 -4.2t-2.1 -4.5t-0.1 -4.8t1.6 -4.7t2.3 -4.4t2.8 -4.2t3.3 -3.7t4 -2.9t4.4 -2.3t2.2 -1.1M1233.6 1338.9q3.6 3.5 4.4 5.8t0.7 4.8t-1.4 4.7t-3.2 3.7t-4.3 2.6t-4.7 1.7t-2.4 0.6M1233.8 1326.3q-3.7 3.4 -4.9 5.6t-2.7 4.2t-3.5 3.6t-3.6 3.4t-4 2.7t-4.7 0t-2 -3.3t1.7 -4.6t1.4 -2.1M1265.3 1392.3q-4.7 -1.7 -6.8 -3t-4.6 -2t-4.9 -0.9t-4.8 0.6t-4.1 2.6t-1.7 1.8M1239.6 1361.7q-4.2 -2.7 -6.4 -3.9t-4.3 -2.6t-4.1 -2.9t-3 -3.8t0.9 -3.8t4.3 -2.6t4.5 -2.2t4.6 -2t4.7 -1.6t4.8 -1.1t4.8 0.7t4.4 2.3t2.1 1.4M1304.8 1346.4q4.6 2 6.8 3.2t4.3 2.5t3.3 3.5t2 4.5t2.5 4.2t4.3 1.5t4.6 -1.6t3.4 -3.5t-0.3 -4t-3.9 -2.9t-2.3 -1M1235.2 1383.4q0.6 -5 0.8 -7.5t0.3 -5t0.2 -5t0.9 -4.9t1.2 -4.9t0 -4.9t-2 -4.5t-3.4 -3.6t-4.3 -2.4t-4.9 -1t-4.9 0.2t-4.7 1.6t-2.2 1.1M1230.3 1367.5q3.1 -4 4.9 -5.7t3.7 -3.4t3.5 -3.5t3.3 -3.8t3.5 -3.5t4.3 -2.4t4.9 -0.9t5 0.1t5 0.4t5 0.5t5 0.5t2.5 0.3M1221.3 1333.4q1.5 -4.8 2.7 -6.9t2.4 -4.4t2.3 -4.4t2.4 -4.4t3.6 -3t4.8 -0.6t4.9 0.9t4.8 1.5t4.7 1.6t2.4 0.7M1222.6 1330.1q3.8 -3.3 5.8 -4.7t4.2 -2.8t4.3 -2.6t4.1 -2.8t3.9 -3.1t4.4 -2.2t4.9 -0.3t2.5 0.4M1316.5 1366.6q-4.9 1.1 -7 2.4t-3.7 3.3t-2.9 4.1t-1.6 4.7t0.3 4.9t2.6 4t1.9 1.6M1250 1363.9q-1.2 4.9 -1.8 7.3t-1.7 4.7t-2.5 4.3t-3.1 3.9t-3.6 3.4t-3.7 3.4t-3.5 3.5t-4 0.8t-3.9 -2.9t-2.6 -4.2t-1 -4.8t-0.1 -2.5" stroke="#5e3802" stroke-width="3.5"/><path d="M1242.4 1337.8q0.4 5 1.7 7.1t3 4t3.6 3.4t4.2 2.7t4.7 1.1t4.9 -0.8t3.8 -2.9t2.7 -4.2t2.9 -4.1t3.3 -3.7t1.7 -1.8M1212.5 1332.9q-1.4 4.8 -1.2 7.3t2.5 3.5t4.7 1.8t4.7 1.6t4.6 1.9t4.2 2.6t3.6 3.4t2.5 4.2t0.6 4.9t-0.2 2.5M1216.2 1318.4q-5 0.1 -5.5 2.5t1.2 4.3t3.8 3.2t3.6 3.4t3.3 3.8t3.7 3.3t4.5 2t4.9 0.1t2.5 -0.4M1207.4 1380.3q4.9 -1.1 7.4 -1.2t5 -0.1t5 -0.2t4.7 -1.4t4.7 -1.6t2.5 -0.5M1315.5 1364.2q-1.1 4.9 -2.6 6.8t-3.8 3.1t-4.3 -0.3t-3.8 -3.2t-3.2 -3.8t-2.4 -4.4t-0.6 -4.8t0.1 -5t-1.3 -4.8t-2.3 -4.5t-1.8 -4.6t-0.6 -2.4M1210.9 1337.6q4.2 -2.8 5.9 -4.6t3.4 -3.7t3.7 -3.3t4.5 -1.8t4.9 0t4.5 1.9t3.5 3.5t2.3 4.4t0.8 2.4M1243.1 1341q-4.8 -1.3 -7.3 -1.3t-5 0.4t-4.8 1.3t-4.8 1.4t-4.9 1.2t-4.9 1t-2.5 0.4M1242.8 1392.8q4.3 -2.6 6.4 -4t4.4 -2.3t4.7 -1.8t4.7 -1.7t4 -2.8t2.6 -4.2t1.9 -4.6t1.9 -4.6t2.4 -4.4t1.4 -2.1M1278.2 1377q-1.7 -4.7 -2.2 -7.1t-0.2 -4.9t1.6 -4.6t1.8 -4.6t-0.1 -4.9t-1.4 -4.8t-0.9 -2.3M1285.7 1347.3q-0.8 -4.9 -1.6 -7.3t-2.1 -4.5t-3.1 -3.9t-4.1 -2.7t-4.8 -1.3t-4.9 0.3t-4.4 2.2t-3.8 3.2t-3.6 3.5t-3.7 3.4t-4.1 2.9t-4.1 2.9t-2 1.5M1222.5 1326.5q3.9 3.2 6.2 4t4.9 0.7t4.9 -1t4.5 -2.1t3.6 -3.3t2.9 -4.1t3.2 -3.8t3.7 -3.3t4.3 -2.4t2.3 -0.9M1293.3 1330.5q3.5 -3.6 5.5 -5t4.5 -1.9t4.9 0.2t4.3 2.2t3 3.8t-0.3 4.4t-3.4 3.6t-4.5 1.7t-5 0t-5 -0.5t-4.8 -1.1t-2.4 -0.8M1286.6 1321.2q5 -0.2 7.4 -0.7t4.9 -1t4.9 -0.4t4.7 1.4t2.6 3.7t-1.4 4.2t-3.2 3.8t-2.8 4.2t-3.2 3.8t-1.8 1.7M1269.5 1370.3q2.7 -4.2 4.2 -6.2t2.9 -4.1t2.5 -4.3t2 -4.6t0.6 -4.9t-1.1 -4.8t-1.8 -4.7t-1.4 -4.8t-0.5 -4.9t1.1 -4.7t1.1 -2.2M1254.8 1389.9q-4.7 1.8 -7.2 1.5t-4.6 -1.5t-3.6 -3.3t-2.8 -4.1t-2.6 -4.2t-2.1 -4.5t-0.1 -4.8t1.6 -4.7t2.3 -4.4t2.8 -4.2t3.3 -3.7t4 -2.9t4.4 -2.3t2.2 -1.1M1233.6 1338.9q3.6 3.5 4.4 5.8t0.7 4.8t-1.4 4.7t-3.2 3.7t-4.3 2.6t-4.7 1.7t-2.4 0.6M1233.8 1326.3q-3.7 3.4 -4.9 5.6t-2.7 4.2t-3.5 3.6t-3.6 3.4t-4 2.7t-4.7 0t-2 -3.3t1.7 -4.6t1.4 -2.1M1265.3 1392.3q-4.7 -1.7 -6.8 -3t-4.6 -2t-4.9 -0.9t-4.8 0.6t-4.1 2.6t-1.7 1.8M1239.6 1361.7q-4.2 -2.7 -6.4 -3.9t-4.3 -2.6t-4.1 -2.9t-3 -3.8t0.9 -3.8t4.3 -2.6t4.5 -2.2t4.6 -2t4.7 -1.6t4.8 -1.1t4.8 0.7t4.4 2.3t2.1 1.4M1304.8 1346.4q4.6 2 6.8 3.2t4.3 2.5t3.3 3.5t2 4.5t2.5 4.2t4.3 1.5t4.6 -1.6t3.4 -3.5t-0.3 -4t-3.9 -2.9t-2.3 -1M1235.2 1383.4q0.6 -5 0.8 -7.5t0.3 -5t0.2 -5t0.9 -4.9t1.2 -4.9t0 -4.9t-2 -4.5t-3.4 -3.6t-4.3 -2.4t-4.9 -1t-4.9 0.2t-4.7 1.6t-2.2 1.1M1230.3 1367.5q3.1 -4 4.9 -5.7t3.7 -3.4t3.5 -3.5t3.3 -3.8t3.5 -3.5t4.3 -2.4t4.9 -0.9t5 0.1t5 0.4t5 0.5t5 0.5t2.5 0.3M1221.3 1333.4q1.5 -4.8 2.7 -6.9t2.4 -4.4t2.3 -4.4t2.4 -4.4t3.6 -3t4.8 -0.6t4.9 0.9t4.8 1.5t4.7 1.6t2.4 0.7M1222.6 1330.1q3.8 -3.3 5.8 -4.7t4.2 -2.8t4.3 -2.6t4.1 -2.8t3.9 -3.1t4.4 -2.2t4.9 -0.3t2.5 0.4M1316.5 1366.6q-4.9 1.1 -7 2.4t-3.7 3.3t-2.9 4.1t-1.6 4.7t0.3 4.9t2.6 4t1.9 1.6M1250 1363.9q-1.2 4.9 -1.8 7.3t-1.7 4.7t-2.5 4.3t-3.1 3.9t-3.6 3.4t-3.7 3.4t-3.5 3.5t-4 0.8t-3.9 -2.9t-2.6 -4.2t-1 -4.8t-0.1 -2.5" stroke="#fba630" stroke-width="1.8"/><path d="M1234.1 1392.2q-4.9 3.5 -7.7 2.5t-5.6 -2.1t-5.4 -2.5t-4 -4.1t-0.4 -5.5t2.8 -5.2t4.4 -4t2.5 -1.7M1267.9 1343.7q-5.6 -2.1 -8.6 -2.4t-6 -0.1t-6 0.4t-5.8 1.2t-5.3 2.7t-4.5 3.9t-3.4 4.9t-1.5 5.7t-0.2 3M1260.6 1324.4q-5.9 -1.3 -8.9 -1t-6 0.6t-6 0.8t-5.6 1.8t-4.8 3.5t-3.6 4.7t-2.2 5.5t-0.7 2.9M1229 1341.6q-2.7 -5.4 -4 -8.1t-2.6 -5.4t-2.8 -5.3t-1.5 -2.6M1260.8 1316.3q3.8 4.7 4.9 7.4t1.4 5.7t-2.3 4.6t-4.7 3.7t-4.3 4.2t-4.2 4.3t-3.9 4.5t-3.8 4.7t-1.9 2.3M1221.9 1344.9q5.7 -1.9 8.3 -3.3t5 -3.2t2.4 -1.8M1239.2 1329.5q0.1 6 0.2 9t0.7 5.9t1.6 5.8t2.9 5.1t4.5 3.9t5.4 2.5t5.7 1.7t5.9 1.2t3 0.4M1211.4 1379q4.4 -4.1 6.8 -5.9t4.9 -3.5t4.8 -3.5t4.4 -4.1t4.1 -4.4t4.2 -4.3t4.6 -3.7t2.5 -1.6M1269.8 1386.8q-5.2 -3 -7.9 -4.4t-5.5 -2.5t-5.7 -1.9t-5.9 -1.3t-5.9 -0.1t-5.9 1.2t-5.8 1.7t-2.9 0.9M1265.7 1317.9q-1.8 5.7 -2.7 8.6t-2 5.7t-2.2 5.6t-2.4 5.5t-1.3 2.7M1269.7 1372.6q-1.2 -5.9 -1.2 -8.9t0.5 -5.9t1.2 -5.9t1.3 -5.9t0.7 -2.9M1257.4 1390.9q5.5 -2.5 8.3 -3.5t5.7 -1.9t3.4 -3.9t0.1 -5.9t-1.9 -5.6t-1.4 -2.6M1263.5 1341.7q4.6 3.9 6.4 6.2t2.8 5.2t0.9 5.9t-1.1 5.8t-3.4 4.6t-4.9 3.5t-5 3.3t-2.5 1.7M1271.6 1346.6q-3.7 4.7 -5.6 7.1t-3.7 4.7t-3.6 4.8t-3.7 4.8t-3.4 5t-2.4 5.4t-0.9 2.9M1242.4 1313.5q6 0.2 9 0.3t6 0.3t5.8 1.2t2.8 1M1218.9 1392.1q0.1 -6 2.6 -7.6t5 -3.3t5.1 -3.1t5.5 -2.5t5.7 -1.9t2.9 -0.9M1211.3 1376.8q5.8 -1.4 8.5 -2.9t4.8 -3.5t3.9 -4.5t2.8 -5.3t1.3 -5.8t0.3 -3M1273.4 1378q0.3 6 -2.2 7.7t-5.3 2.7t-5.7 2t-5.7 1.9t-2.9 0.9" stroke="#5e3802" stroke-width="5.0"/><path d="M1234.1 1392.2q-4.9 3.5 -7.7 2.5t-5.6 -2.1t-5.4 -2.5t-4 -4.1t-0.4 -5.5t2.8 -5.2t4.4 -4t2.5 -1.7M1267.9 1343.7q-5.6 -2.1 -8.6 -2.4t-6 -0.1t-6 0.4t-5.8 1.2t-5.3 2.7t-4.5 3.9t-3.4 4.9t-1.5 5.7t-0.2 3M1260.6 1324.4q-5.9 -1.3 -8.9 -1t-6 0.6t-6 0.8t-5.6 1.8t-4.8 3.5t-3.6 4.7t-2.2 5.5t-0.7 2.9M1229 1341.6q-2.7 -5.4 -4 -8.1t-2.6 -5.4t-2.8 -5.3t-1.5 -2.6M1260.8 1316.3q3.8 4.7 4.9 7.4t1.4 5.7t-2.3 4.6t-4.7 3.7t-4.3 4.2t-4.2 4.3t-3.9 4.5t-3.8 4.7t-1.9 2.3M1221.9 1344.9q5.7 -1.9 8.3 -3.3t5 -3.2t2.4 -1.8M1239.2 1329.5q0.1 6 0.2 9t0.7 5.9t1.6 5.8t2.9 5.1t4.5 3.9t5.4 2.5t5.7 1.7t5.9 1.2t3 0.4M1211.4 1379q4.4 -4.1 6.8 -5.9t4.9 -3.5t4.8 -3.5t4.4 -4.1t4.1 -4.4t4.2 -4.3t4.6 -3.7t2.5 -1.6M1269.8 1386.8q-5.2 -3 -7.9 -4.4t-5.5 -2.5t-5.7 -1.9t-5.9 -1.3t-5.9 -0.1t-5.9 1.2t-5.8 1.7t-2.9 0.9M1265.7 1317.9q-1.8 5.7 -2.7 8.6t-2 5.7t-2.2 5.6t-2.4 5.5t-1.3 2.7M1269.7 1372.6q-1.2 -5.9 -1.2 -8.9t0.5 -5.9t1.2 -5.9t1.3 -5.9t0.7 -2.9M1257.4 1390.9q5.5 -2.5 8.3 -3.5t5.7 -1.9t3.4 -3.9t0.1 -5.9t-1.9 -5.6t-1.4 -2.6M1263.5 1341.7q4.6 3.9 6.4 6.2t2.8 5.2t0.9 5.9t-1.1 5.8t-3.4 4.6t-4.9 3.5t-5 3.3t-2.5 1.7M1271.6 1346.6q-3.7 4.7 -5.6 7.1t-3.7 4.7t-3.6 4.8t-3.7 4.8t-3.4 5t-2.4 5.4t-0.9 2.9M1242.4 1313.5q6 0.2 9 0.3t6 0.3t5.8 1.2t2.8 1M1218.9 1392.1q0.1 -6 2.6 -7.6t5 -3.3t5.1 -3.1t5.5 -2.5t5.7 -1.9t2.9 -0.9M1211.3 1376.8q5.8 -1.4 8.5 -2.9t4.8 -3.5t3.9 -4.5t2.8 -5.3t1.3 -5.8t0.3 -3M1273.4 1378q0.3 6 -2.2 7.7t-5.3 2.7t-5.7 2t-5.7 1.9t-2.9 0.9" stroke="#fba630" stroke-width="3.0"/><path d="M1284 1355.9q3.3 4.5 4.9 3.8t0 -1.4t-3.3 1.5t0 4.5t3.3 1.6t0 -1.4t-3.3 1.5t-1.7 2.2M1302 1345q6.2 -1.1 6.3 -3.2t-1.5 -0.8t-0.3 4.1t4.4 2.3t3.2 -2.6t-1.5 -0.8t-0.3 4.1t1.3 2.8M1305.2 1331.4q4.8 2.7 6.1 1.3t-0.6 -1.4t-2.5 2.7t1.8 4t3.7 0t-0.6 -1.4t-2.5 2.7t1.8 4t3.7 0t1.2 -1.4M1292.5 1358q5.6 -0.9 5.7 -2.8t-1.4 -0.8t-0.4 3.7t3.9 2.1t2.9 -2.3t-1.4 -0.8t-0.4 3.7t3.9 2.1t2.9 -2.3t0.1 -1.9M1276.4 1315.8q5.5 -1.3 5.5 -3.3t-1.5 -0.7t-0.2 3.8t4.1 1.9t2.7 -2.6t-1.5 -0.7t-0.2 3.8t4.1 1.9t2.7 -2.6t-1.5 -0.7t-0.2 3.8t4.1 1.9t2.7 -2.6t0 -1.9M1273.3 1326.3q4.8 3.5 6.3 2.2t-0.5 -1.5t-3 2.5t1.4 4.5t3.9 0.5t-0.5 -1.5t-3 2.5t1.4 4.5t2.4 1.7M1294.5 1332.2q3.8 4 5.3 3.2t-0.2 -1.2t-3 2.1t0.6 4.4t3.4 1.2t-0.2 -1.2t-3 2.1t0.6 4.4t1.9 2M1271.1 1314.4q-0.3 -4.2 -1.8 -2.7t0.2 4.2t4.7 1.7t2.8 -3.1t-1.7 -0.6t0.2 4.2t4.7 1.7t2.8 -3.1t-1.7 -0.6t-1.5 1.5M1268.5 1319.3q3.7 4 5.3 3.1t-0.1 -1.6t-3.2 1.7t0.4 4.3t3.5 1.1t-0.1 -1.6t-1.7 -0.6M1276.1 1338.9q5.8 -0.2 6.1 -2.1t-1.2 -0.8t-0.6 3.7t3.8 2.6t3.3 -2t-1.2 -0.8t-0.6 3.7t3.8 2.6t3.3 -2t-1.2 -0.8t-0.6 3.7t3.8 2.6t3.3 -2t0.4 -1.8M1278.4 1310.8q4.8 2.8 6.1 1.4t-0.6 -1.5t-2.6 2.6t1.7 4.1t3.7 0t-0.6 -1.5t-1.9 -0.1M1312.9 1357.3q-2.1 5.5 -0.5 6.6t1.4 -0.8t-3.2 -2.2t-4 2.4t0.6 3.8t1.4 -0.8t-3.2 -2.2t-4 2.4t0.6 3.8t1.4 -0.8t-3.2 -2.2t-2.9 -0.3M1271.2 1324.7q5.4 0.9 8.2 0.5t5.3 -1.4t5.1 -2.2t5 -2.4t2.5 -1.2M1296.8 1302.3q-5 2.3 -7.6 3.2t-5.2 1.8t-2.6 0.8M1297 1340q3 -4.6 4.2 -7.1t1.9 -5.1t0.7 -5.4t-0.3 -5.5t-1 -5.4t-2.5 -4.7t-4.4 -3.1t-2.5 -1M1310 1328.4q-5.2 -1.6 -7.8 -2.8t-5.1 -1.9t-5.2 -1.7t-5.1 -2.1t-5.2 -1.8t-5.4 -0.8t-2.7 -0.3M1277.7 1352.1q0.5 -5.5 0.5 -8.2t0.4 -5.5t1.1 -5.4t2.2 -5t1.4 -2.4M1270.3 1329.8q5.4 0.9 7.9 2t4.8 2.6t4.4 3.3t3.9 3.9t2.9 4.6t1.5 5.2t0.4 5.5t0 2.7M1297.9 1370.8q5.1 -2 7.2 -3.8t3.9 -3.9t3.8 -4t4.2 -3.6t2 -4.5t-1.4 -5.2t-3.3 -4.3t-4.2 -3.5t-2.2 -1.6M1295.5 1328.5q5.4 -1.2 8.1 -0.6t5.3 1.5t4.8 2.6t3.5 4.1t-0.1 4.8t-2.3 5t-1.6 5.2t-1.1 5.4t-0.5 2.7M1299.4 1308.8q-4.3 4.9 -6.3 7.5t-4.1 5.2t-2.1 2.6M1296.5 1306.1q-5.8 2.4 -8.2 4.1t-3.5 5t-1.1 3.3M1288.4 1302.2q-3.2 5 -4.8 7.6t-3.5 4.8t-1.9 2.2M1310.2 1337.3q2.6 3.1 4.1 4.4t2.9 2.8t1.4 1.4M1305.4 1338.6q2.6 3.1 3.5 4.9t1.7 3.7t1.8 3.6t1.1 1.7M1301.7 1356.9q-0.2 6.2 -0.7 9.2t-0.8 6.1t-0.3 3.1" stroke="#5e3802" stroke-width="3.5"/><path d="M1284 1355.9q3.3 4.5 4.9 3.8t0 -1.4t-3.3 1.5t0 4.5t3.3 1.6t0 -1.4t-3.3 1.5t-1.7 2.2M1302 1345q6.2 -1.1 6.3 -3.2t-1.5 -0.8t-0.3 4.1t4.4 2.3t3.2 -2.6t-1.5 -0.8t-0.3 4.1t1.3 2.8M1305.2 1331.4q4.8 2.7 6.1 1.3t-0.6 -1.4t-2.5 2.7t1.8 4t3.7 0t-0.6 -1.4t-2.5 2.7t1.8 4t3.7 0t1.2 -1.4M1292.5 1358q5.6 -0.9 5.7 -2.8t-1.4 -0.8t-0.4 3.7t3.9 2.1t2.9 -2.3t-1.4 -0.8t-0.4 3.7t3.9 2.1t2.9 -2.3t0.1 -1.9M1276.4 1315.8q5.5 -1.3 5.5 -3.3t-1.5 -0.7t-0.2 3.8t4.1 1.9t2.7 -2.6t-1.5 -0.7t-0.2 3.8t4.1 1.9t2.7 -2.6t-1.5 -0.7t-0.2 3.8t4.1 1.9t2.7 -2.6t0 -1.9M1273.3 1326.3q4.8 3.5 6.3 2.2t-0.5 -1.5t-3 2.5t1.4 4.5t3.9 0.5t-0.5 -1.5t-3 2.5t1.4 4.5t2.4 1.7M1294.5 1332.2q3.8 4 5.3 3.2t-0.2 -1.2t-3 2.1t0.6 4.4t3.4 1.2t-0.2 -1.2t-3 2.1t0.6 4.4t1.9 2M1271.1 1314.4q-0.3 -4.2 -1.8 -2.7t0.2 4.2t4.7 1.7t2.8 -3.1t-1.7 -0.6t0.2 4.2t4.7 1.7t2.8 -3.1t-1.7 -0.6t-1.5 1.5M1268.5 1319.3q3.7 4 5.3 3.1t-0.1 -1.6t-3.2 1.7t0.4 4.3t3.5 1.1t-0.1 -1.6t-1.7 -0.6M1276.1 1338.9q5.8 -0.2 6.1 -2.1t-1.2 -0.8t-0.6 3.7t3.8 2.6t3.3 -2t-1.2 -0.8t-0.6 3.7t3.8 2.6t3.3 -2t-1.2 -0.8t-0.6 3.7t3.8 2.6t3.3 -2t0.4 -1.8M1278.4 1310.8q4.8 2.8 6.1 1.4t-0.6 -1.5t-2.6 2.6t1.7 4.1t3.7 0t-0.6 -1.5t-1.9 -0.1M1312.9 1357.3q-2.1 5.5 -0.5 6.6t1.4 -0.8t-3.2 -2.2t-4 2.4t0.6 3.8t1.4 -0.8t-3.2 -2.2t-4 2.4t0.6 3.8t1.4 -0.8t-3.2 -2.2t-2.9 -0.3M1271.2 1324.7q5.4 0.9 8.2 0.5t5.3 -1.4t5.1 -2.2t5 -2.4t2.5 -1.2M1296.8 1302.3q-5 2.3 -7.6 3.2t-5.2 1.8t-2.6 0.8M1297 1340q3 -4.6 4.2 -7.1t1.9 -5.1t0.7 -5.4t-0.3 -5.5t-1 -5.4t-2.5 -4.7t-4.4 -3.1t-2.5 -1M1310 1328.4q-5.2 -1.6 -7.8 -2.8t-5.1 -1.9t-5.2 -1.7t-5.1 -2.1t-5.2 -1.8t-5.4 -0.8t-2.7 -0.3M1277.7 1352.1q0.5 -5.5 0.5 -8.2t0.4 -5.5t1.1 -5.4t2.2 -5t1.4 -2.4M1270.3 1329.8q5.4 0.9 7.9 2t4.8 2.6t4.4 3.3t3.9 3.9t2.9 4.6t1.5 5.2t0.4 5.5t0 2.7M1297.9 1370.8q5.1 -2 7.2 -3.8t3.9 -3.9t3.8 -4t4.2 -3.6t2 -4.5t-1.4 -5.2t-3.3 -4.3t-4.2 -3.5t-2.2 -1.6M1295.5 1328.5q5.4 -1.2 8.1 -0.6t5.3 1.5t4.8 2.6t3.5 4.1t-0.1 4.8t-2.3 5t-1.6 5.2t-1.1 5.4t-0.5 2.7M1299.4 1308.8q-4.3 4.9 -6.3 7.5t-4.1 5.2t-2.1 2.6M1296.5 1306.1q-5.8 2.4 -8.2 4.1t-3.5 5t-1.1 3.3M1288.4 1302.2q-3.2 5 -4.8 7.6t-3.5 4.8t-1.9 2.2M1310.2 1337.3q2.6 3.1 4.1 4.4t2.9 2.8t1.4 1.4M1305.4 1338.6q2.6 3.1 3.5 4.9t1.7 3.7t1.8 3.6t1.1 1.7M1301.7 1356.9q-0.2 6.2 -0.7 9.2t-0.8 6.1t-0.3 3.1" stroke="#fba630" stroke-width="1.8"/><path d="M1319.1 1347.9q10.7 1.3 16.7 6.7t1.3 8t-11.4 4t-8.7 -0.3t-2 -1.7M1311.1 1374.6q-2.7 9.4 -4.3 15t-4 1.3t-4.3 -9t-2 -4.7M1212.2 1322.5q7.4 -8 8 -2.7t-4.3 8.7t-7.7 10t0.7 2t3.3 -4.7M1248.3 1309.1q5.3 -2.7 8.7 -1.3t0.7 7.4t-4.7 2t-4 -5.3t-4.7 0t-2.7 1.3M1209.5 1386.6q-2.7 -6.7 1.3 -11.4t9.4 -7.4t8 0t-0.7 7.4t-6.7 8t-6.7 4t-3.3 0.7" stroke="#5e3802" stroke-width="3.0"/><path d="M1319.1 1347.9q10.7 1.3 16.7 6.7t1.3 8t-11.4 4t-8.7 -0.3t-2 -1.7M1311.1 1374.6q-2.7 9.4 -4.3 15t-4 1.3t-4.3 -9t-2 -4.7M1212.2 1322.5q7.4 -8 8 -2.7t-4.3 8.7t-7.7 10t0.7 2t3.3 -4.7M1248.3 1309.1q5.3 -2.7 8.7 -1.3t0.7 7.4t-4.7 2t-4 -5.3t-4.7 0t-2.7 1.3M1209.5 1386.6q-2.7 -6.7 1.3 -11.4t9.4 -7.4t8 0t-0.7 7.4t-6.7 8t-6.7 4t-3.3 0.7" stroke="#fba630" stroke-width="1.7"/>
</g>
<path d="M284.5 1571.5q-2.2 -4 -0.5 -7q-1 -4.5 2.5 -6.5q3.5 -2.5 6 1q3 1.5 2 5.5q2 3.5 -1 7z" fill="#ee2a2e"/>
<path d="M447.5 1571.5q-2.2 -4 -0.5 -7q-1 -4.5 2.5 -6.5q3.5 -2.5 6 1q3 1.5 2 5.5q2 3.5 -1 7z" fill="#ee2a2e"/>
<path d="M682.9 1571.5q-2.2 -4 -0.5 -7q-1 -4.5 2.5 -6.5q3.5 -2.5 6 1q3 1.5 2 5.5q2 3.5 -1 7z" fill="#ee2a2e"/>
<path d="M949.2 1571.5q-2.2 -4 -0.5 -7q-1 -4.5 2.5 -6.5q3.5 -2.5 6 1q3 1.5 2 5.5q2 3.5 -1 7z" fill="#ee2a2e"/>
<path d="M1315.3 1571.5q-2.2 -4 -0.5 -7q-1 -4.5 2.5 -6.5q3.5 -2.5 6 1q3 1.5 2 5.5q2 3.5 -1 7z" fill="#ee2a2e"/>
<path d="M1457.8 1571.5q-2.2 -4 -0.5 -7q-1 -4.5 2.5 -6.5q3.5 -2.5 6 1q3 1.5 2 5.5q2 3.5 -1 7z" fill="#ee2a2e"/>
<rect x="3" y="1570.9" width="1564.9" height="15.1" fill="#000"/><rect x="1568.9" y="1571.5" width="2.1" height="14" fill="#cfcfcf"/>
</g>
<g id="labels">
<text x="5.9" y="29.6" font-size="33.5" font-weight="bold" text-anchor="start" fill="#000">A</text>
<text x="5.3" y="599.4" font-size="33.5" font-weight="bold" text-anchor="start" fill="#000">B</text>
<text x="4.5" y="1202.2" font-size="33.5" font-weight="bold" text-anchor="start" fill="#000">C</text>
<text x="867.2" y="1201.9" font-size="33.5" font-weight="bold" text-anchor="start" fill="#000">D</text>
<text x="184.3" y="493.9" font-size="30.6" font-weight="bold" text-anchor="middle" fill="#231f20">C3 convertase</text>
<text x="184.3" y="532.5" font-size="30.6" text-anchor="middle"><tspan fill="#9d6bd0">C4b</tspan><tspan fill="#29abe2">2a</tspan></text>
<text x="1085.9" y="491.8" font-size="30.6" font-weight="bold" text-anchor="middle" fill="#231f20">C5 convertase</text>
<text x="1085.8" y="529.5" font-size="30.6" text-anchor="middle"><tspan fill="#9d6bd0">C4b</tspan><tspan fill="#29abe2">2a</tspan><tspan fill="#666">(C3b)</tspan><tspan fill="#666" dy="6.4">n</tspan></text>
<text x="184.3" y="1084.3" font-size="30.6" font-weight="bold" text-anchor="middle" fill="#231f20">C3 convertase</text>
<text x="184.6" y="1122.9" font-size="30.6" text-anchor="middle"><tspan fill="#666">C3b</tspan><tspan fill="#f07d17">Bb</tspan></text>
<text x="1085.9" y="1082.3" font-size="30.6" font-weight="bold" text-anchor="middle" fill="#231f20">C5 convertase</text>
<text x="1085.6" y="1120.3" font-size="30.6" text-anchor="middle"><tspan fill="#666">C3b</tspan><tspan fill="#f07d17">Bb</tspan><tspan fill="#666">(C3b)</tspan><tspan fill="#666" dy="6.4">n</tspan></text>
<text x="205.2" y="1210.9" font-size="30.6" font-weight="bold" text-anchor="middle" fill="#000">before cleavage</text>
<text x="577.9" y="1210.9" font-size="30.6" font-weight="bold" text-anchor="middle" fill="#000">after cleavage</text>
<text x="205.4" y="1624" font-size="30.45" text-anchor="middle"><tspan fill="#a2a2a2">C3</tspan><tspan fill="#555">:C3b</tspan><tspan fill="#f07d17">Bb</tspan></text>
<text x="578" y="1624" font-size="30.45" text-anchor="middle"><tspan fill="#a2a2a2">C3b</tspan><tspan fill="#555">:C3b</tspan><tspan fill="#f07d17">Bb</tspan></text>
<text x="1205.4" y="1623" font-size="30.45" text-anchor="middle"><tspan fill="#1f9a33">C5</tspan><tspan fill="#555">:C3b</tspan><tspan fill="#f07d17">Bb</tspan><tspan fill="#555">:</tspan><tspan fill="#a2a2a2">(C3b)</tspan><tspan fill="#a2a2a2" dy="6.4">n</tspan></text>
</g>
</svg>
</body></html>
